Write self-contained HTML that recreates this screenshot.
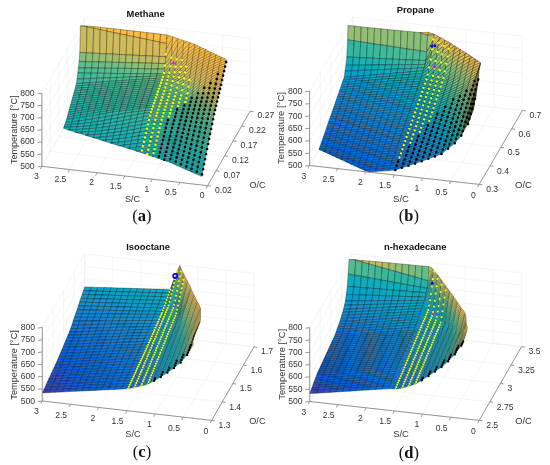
<!DOCTYPE html>
<html><head><meta charset="utf-8"><title>Figure</title>
<style>html,body{margin:0;padding:0;background:#fff}svg{display:block}</style></head>
<body>
<svg width="550" height="465" viewBox="0 0 550 465">
<g>
<path d="M207.6 185.7L250.1 111.2M250.1 111.2L250.1 38.1M180 182.5L222.5 108M222.5 108L222.5 34.9M152.4 179.2L194.9 104.7M194.9 104.7L194.9 31.6M124.8 176L167.2 101.5M167.2 101.5L167.2 28.4M97.1 172.8L139.6 98.3M139.6 98.3L139.6 25.2M69.5 169.5L112 95M112 95L112 21.9M41.9 166.3L84.4 91.8M84.4 91.8L84.4 18.7M207.6 185.7L41.9 166.3M41.9 166.3L41.9 93.2M216.1 170.8L50.4 151.4M50.4 151.4L50.4 78.3M224.6 155.9L58.9 136.5M58.9 136.5L58.9 63.4M233.1 141L67.4 121.6M67.4 121.6L67.4 48.5M241.6 126.1L75.9 106.7M75.9 106.7L75.9 33.6M250.1 111.2L84.4 91.8M84.4 91.8L84.4 18.7M41.9 166.3L84.4 91.8M84.4 91.8L250.1 111.2M41.9 154.1L84.4 79.6M84.4 79.6L250.1 99M41.9 141.9L84.4 67.4M84.4 67.4L250.1 86.8M41.9 129.8L84.4 55.3M84.4 55.3L250.1 74.7M41.9 117.6L84.4 43.1M84.4 43.1L250.1 62.5M41.9 105.4L84.4 30.9M84.4 30.9L250.1 50.3M41.9 93.2L84.4 18.7M84.4 18.7L250.1 38.1" stroke="#eeeeee" stroke-width="0.6" fill="none"/>
<g stroke="#000" stroke-width="0.4" stroke-opacity="0.8" stroke-linejoin="round">
<path fill="#ffc437" d="M87.1 27L81.4 25.8L87.3 26z"/>
<path fill="#ffc338" d="M93.7 28.3L87.1 27L87.3 26L94 26.6z"/>
<path fill="#fec239" d="M100.3 29.7L93.7 28.3L94 26.6L100.7 27.3z"/>
<path fill="#fec13a" d="M106.9 31.1L100.3 29.7L100.7 27.3L107.4 28z"/>
<path fill="#fec03b" d="M113.6 32.5L106.9 31.1L107.4 28L114 28.8z"/>
<path fill="#febf3c" d="M120.2 33.9L113.6 32.5L114 28.8L120.6 29.5z"/>
<path fill="#fdbe3e" d="M126.8 35.2L120.2 33.9L120.6 29.5L127.3 30.3z"/>
<path fill="#fcbd3f" d="M133.4 36.6L126.8 35.2L127.3 30.3L133.9 31.1z"/>
<path fill="#fbbd40" d="M140.1 38L133.4 36.6L133.9 31.1L140.6 31.8z"/>
<path fill="#fabc41" d="M146.7 39.4L140.1 38L140.6 31.8L147.2 32.6z"/>
<path fill="#f9bb43" d="M153.3 40.8L146.7 39.4L147.2 32.6L153.8 33.3z"/>
<path fill="#f8bb44" d="M160 42.2L153.3 40.8L153.8 33.3L160.5 34.1z"/>
<path fill="#f7ba45" d="M166.6 43.5L160 42.2L160.5 34.1L167.1 34.9z"/>
<path fill="#c9bb5c" d="M86.4 52.8L79.8 52.5L80.4 25.7L81.4 25.8L87.1 27z"/>
<path fill="#cbbb5c" d="M93 53.1L86.4 52.8L87.1 27L93.7 28.3z"/>
<path fill="#ccbb5b" d="M99.6 53.5L93 53.1L93.7 28.3L100.3 29.7z"/>
<path fill="#cdbb5b" d="M106.3 53.8L99.6 53.5L100.3 29.7L106.9 31.1z"/>
<path fill="#cebb5a" d="M112.9 54.1L106.3 53.8L106.9 31.1L113.6 32.5z"/>
<path fill="#cfbb5a" d="M119.5 54.5L112.9 54.1L113.6 32.5L120.2 33.9z"/>
<path fill="#d0bb59" d="M126.2 54.8L119.5 54.5L120.2 33.9L126.8 35.2z"/>
<path fill="#d2bb59" d="M132.8 55.1L126.2 54.8L126.8 35.2L133.4 36.6z"/>
<path fill="#d3bb58" d="M139.4 55.5L132.8 55.1L133.4 36.6L140.1 38z"/>
<path fill="#d4bb58" d="M146 55.8L139.4 55.5L140.1 38L146.7 39.4z"/>
<path fill="#d5ba57" d="M152.7 56.1L146 55.8L146.7 39.4L153.3 40.8z"/>
<path fill="#d6ba57" d="M159.3 56.5L152.7 56.1L153.3 40.8L160 42.2z"/>
<path fill="#d7ba56" d="M165.9 56.8L159.3 56.5L160 42.2L166.6 43.5z"/>
<path fill="#81bf79" d="M85.7 61.7L79.1 61.5L79.8 52.5L86.4 52.8z"/>
<path fill="#88bf76" d="M92.4 61.8L85.7 61.7L86.4 52.8L93 53.1z"/>
<path fill="#8fbf74" d="M99 62L92.4 61.8L93 53.1L99.6 53.5z"/>
<path fill="#95bf71" d="M105.6 62.1L99 62L99.6 53.5L106.3 53.8z"/>
<path fill="#9cbf6f" d="M112.2 62.3L105.6 62.1L106.3 53.8L112.9 54.1z"/>
<path fill="#a2be6c" d="M118.9 62.4L112.2 62.3L112.9 54.1L119.5 54.5z"/>
<path fill="#a8be6a" d="M125.5 62.6L118.9 62.4L119.5 54.5L126.2 54.8z"/>
<path fill="#adbe67" d="M132.1 62.7L125.5 62.6L126.2 54.8L132.8 55.1z"/>
<path fill="#b3bd65" d="M138.8 62.9L132.1 62.7L132.8 55.1L139.4 55.5z"/>
<path fill="#b9bd63" d="M145.4 63.1L138.8 62.9L139.4 55.5L146 55.8z"/>
<path fill="#bebc61" d="M152 63.2L145.4 63.1L146 55.8L152.7 56.1z"/>
<path fill="#c4bc5f" d="M158.6 63.4L152 63.2L152.7 56.1L159.3 56.5z"/>
<path fill="#c9bc5d" d="M165.3 63.5L158.6 63.4L159.3 56.5L165.9 56.8z"/>
<path fill="#5abd8b" d="M85.1 67.9L78.4 67.8L79.1 61.5L85.7 61.7z"/>
<path fill="#5fbe89" d="M91.7 68L85.1 67.9L85.7 61.7L92.4 61.8z"/>
<path fill="#64be86" d="M98.3 68.1L91.7 68L92.4 61.8L99 62z"/>
<path fill="#69be84" d="M105 68.2L98.3 68.1L99 62L105.6 62.1z"/>
<path fill="#6ebf82" d="M111.6 68.3L105 68.2L105.6 62.1L112.2 62.3z"/>
<path fill="#73bf7f" d="M118.2 68.3L111.6 68.3L112.2 62.3L118.9 62.4z"/>
<path fill="#78bf7d" d="M124.8 68.4L118.2 68.3L118.9 62.4L125.5 62.6z"/>
<path fill="#7ebf7b" d="M131.5 68.5L124.8 68.4L125.5 62.6L132.1 62.7z"/>
<path fill="#86bf78" d="M138.1 68.6L131.5 68.5L132.1 62.7L138.8 62.9z"/>
<path fill="#8dbf75" d="M144.7 68.7L138.1 68.6L138.8 62.9L145.4 63.1z"/>
<path fill="#94bf72" d="M151.4 68.8L144.7 68.7L145.4 63.1L152 63.2z"/>
<path fill="#9bbf6f" d="M158 68.9L151.4 68.8L152 63.2L158.6 63.4z"/>
<path fill="#a2be6c" d="M164.6 69L158 68.9L158.6 63.4L165.3 63.5z"/>
<path fill="#4bbc93" d="M84.4 73.1L77.8 73L78.4 67.8L85.1 67.9z"/>
<path fill="#4dbc92" d="M91 73.2L84.4 73.1L85.1 67.9L91.7 68z"/>
<path fill="#4fbc91" d="M97.7 73.2L91 73.2L91.7 68L98.3 68.1z"/>
<path fill="#51bc90" d="M104.3 73.3L97.7 73.2L98.3 68.1L105 68.2z"/>
<path fill="#53bd8f" d="M110.9 73.4L104.3 73.3L105 68.2L111.6 68.3z"/>
<path fill="#56bd8d" d="M117.5 73.5L110.9 73.4L111.6 68.3L118.2 68.3z"/>
<path fill="#5bbd8b" d="M124.2 73.5L117.5 73.5L118.2 68.3L124.8 68.4z"/>
<path fill="#60be88" d="M130.8 73.6L124.2 73.5L124.8 68.4L131.5 68.5z"/>
<path fill="#65be86" d="M137.4 73.7L130.8 73.6L131.5 68.5L138.1 68.6z"/>
<path fill="#6abe83" d="M144.1 73.8L137.4 73.7L138.1 68.6L144.7 68.7z"/>
<path fill="#6fbf81" d="M150.7 73.9L144.1 73.8L144.7 68.7L151.4 68.8z"/>
<path fill="#74bf7f" d="M157.3 73.9L150.7 73.9L151.4 68.8L158 68.9z"/>
<path fill="#79bf7d" d="M163.9 74L157.3 73.9L158 68.9L164.6 69z"/>
<path fill="#3eba9a" d="M83.7 78.7L77.1 79L77.8 73L84.4 73.1z"/>
<path fill="#40ba99" d="M90.4 78.5L83.7 78.7L84.4 73.1L91 73.2z"/>
<path fill="#43bb97" d="M97 78.3L90.4 78.5L91 73.2L97.7 73.2z"/>
<path fill="#46bb96" d="M103.6 78L97 78.3L97.7 73.2L104.3 73.3z"/>
<path fill="#49bc94" d="M110.3 77.8L103.6 78L104.3 73.3L110.9 73.4z"/>
<path fill="#4cbc92" d="M116.9 77.6L110.3 77.8L110.9 73.4L117.5 73.5z"/>
<path fill="#4fbc91" d="M123.5 77.3L116.9 77.6L117.5 73.5L124.2 73.5z"/>
<path fill="#52bd8f" d="M130.1 77.1L123.5 77.3L124.2 73.5L130.8 73.6z"/>
<path fill="#55bd8e" d="M136.8 76.9L130.1 77.1L130.8 73.6L137.4 73.7z"/>
<path fill="#5cbe8a" d="M143.4 76.7L136.8 76.9L137.4 73.7L144.1 73.8z"/>
<path fill="#64be86" d="M150 76.4L143.4 76.7L144.1 73.8L150.7 73.9z"/>
<path fill="#6bbf83" d="M156.7 76.2L150 76.4L150.7 73.9L157.3 73.9z"/>
<path fill="#73bf80" d="M163.3 76L156.7 76.2L157.3 73.9L163.9 74z"/>
<path fill="#36b99f" d="M83.1 83.2L76.5 83.6L77.1 79L83.7 78.7z"/>
<path fill="#38b99e" d="M89.7 82.7L83.1 83.2L83.7 78.7L90.4 78.5z"/>
<path fill="#3bb99c" d="M96.3 82.3L89.7 82.7L90.4 78.5L97 78.3z"/>
<path fill="#3eba9a" d="M103 81.8L96.3 82.3L97 78.3L103.6 78z"/>
<path fill="#42bb98" d="M109.6 81.4L103 81.8L103.6 78L110.3 77.8z"/>
<path fill="#45bb96" d="M116.2 81L109.6 81.4L110.3 77.8L116.9 77.6z"/>
<path fill="#48bb94" d="M122.9 80.5L116.2 81L116.9 77.6L123.5 77.3z"/>
<path fill="#4cbc92" d="M129.5 80.1L122.9 80.5L123.5 77.3L130.1 77.1z"/>
<path fill="#50bc90" d="M136.1 79.7L129.5 80.1L130.1 77.1L136.8 76.9z"/>
<path fill="#53bd8e" d="M142.7 79.2L136.1 79.7L136.8 76.9L143.4 76.7z"/>
<path fill="#5abd8b" d="M149.4 78.8L142.7 79.2L143.4 76.7L150 76.4z"/>
<path fill="#63be87" d="M156 78.4L149.4 78.8L150 76.4L156.7 76.2z"/>
<path fill="#6cbf82" d="M162.6 77.9L156 78.4L156.7 76.2L163.3 76z"/>
<path fill="#34b8a0" d="M82.4 85.5L75.8 86L76.5 83.6L83.1 83.2z"/>
<path fill="#36b99f" d="M89.1 85L82.4 85.5L83.1 83.2L89.7 82.7z"/>
<path fill="#38b99e" d="M95.7 84.6L89.1 85L89.7 82.7L96.3 82.3z"/>
<path fill="#3bb99c" d="M102.3 84.1L95.7 84.6L96.3 82.3L103 81.8z"/>
<path fill="#3fba9a" d="M108.9 83.6L102.3 84.1L103 81.8L109.6 81.4z"/>
<path fill="#42bb98" d="M115.6 83.2L108.9 83.6L109.6 81.4L116.2 81z"/>
<path fill="#46bb96" d="M122.2 82.7L115.6 83.2L116.2 81L122.9 80.5z"/>
<path fill="#49bc94" d="M128.8 82.2L122.2 82.7L122.9 80.5L129.5 80.1z"/>
<path fill="#4dbc92" d="M135.5 81.7L128.8 82.2L129.5 80.1L136.1 79.7z"/>
<path fill="#51bc90" d="M142.1 81.3L135.5 81.7L136.1 79.7L142.7 79.2z"/>
<path fill="#54bd8e" d="M148.7 80.8L142.1 81.3L142.7 79.2L149.4 78.8z"/>
<path fill="#5dbe8a" d="M155.3 80.3L148.7 80.8L149.4 78.8L156 78.4z"/>
<path fill="#66be85" d="M162 79.9L155.3 80.3L156 78.4L162.6 77.9z"/>
<path fill="#32b8a1" d="M81.8 87.9L75.1 88.4L75.8 86L82.4 85.5z"/>
<path fill="#34b8a0" d="M88.4 87.4L81.8 87.9L82.4 85.5L89.1 85z"/>
<path fill="#36b99f" d="M95 86.8L88.4 87.4L89.1 85L95.7 84.6z"/>
<path fill="#38b99d" d="M101.7 86.3L95 86.8L95.7 84.6L102.3 84.1z"/>
<path fill="#3cba9b" d="M108.3 85.8L101.7 86.3L102.3 84.1L108.9 83.6z"/>
<path fill="#3fba99" d="M114.9 85.3L108.3 85.8L108.9 83.6L115.6 83.2z"/>
<path fill="#43bb97" d="M121.5 84.8L114.9 85.3L115.6 83.2L122.2 82.7z"/>
<path fill="#46bb95" d="M128.2 84.3L121.5 84.8L122.2 82.7L128.8 82.2z"/>
<path fill="#4abc93" d="M134.8 83.8L128.2 84.3L128.8 82.2L135.5 81.7z"/>
<path fill="#4ebc91" d="M141.4 83.3L134.8 83.8L135.5 81.7L142.1 81.3z"/>
<path fill="#52bd8f" d="M148 82.8L141.4 83.3L142.1 81.3L148.7 80.8z"/>
<path fill="#57bd8d" d="M154.7 82.3L148 82.8L148.7 80.8L155.3 80.3z"/>
<path fill="#60be88" d="M161.3 81.8L154.7 82.3L155.3 80.3L162 79.9z"/>
<path fill="#30b7a3" d="M81.1 90.2L74.5 90.8L75.1 88.4L81.8 87.9z"/>
<path fill="#32b8a1" d="M87.7 89.7L81.1 90.2L81.8 87.9L88.4 87.4z"/>
<path fill="#34b8a0" d="M94.4 89.1L87.7 89.7L88.4 87.4L95 86.8z"/>
<path fill="#37b99f" d="M101 88.6L94.4 89.1L95 86.8L101.7 86.3z"/>
<path fill="#39b99d" d="M107.6 88L101 88.6L101.7 86.3L108.3 85.8z"/>
<path fill="#3cba9b" d="M114.2 87.5L107.6 88L108.3 85.8L114.9 85.3z"/>
<path fill="#40ba99" d="M120.9 87L114.2 87.5L114.9 85.3L121.5 84.8z"/>
<path fill="#44bb97" d="M127.5 86.4L120.9 87L121.5 84.8L128.2 84.3z"/>
<path fill="#47bb95" d="M134.1 85.9L127.5 86.4L128.2 84.3L134.8 83.8z"/>
<path fill="#4bbc93" d="M140.8 85.4L134.1 85.9L134.8 83.8L141.4 83.3z"/>
<path fill="#4fbc91" d="M147.4 84.8L140.8 85.4L141.4 83.3L148 82.8z"/>
<path fill="#53bd8f" d="M154 84.3L147.4 84.8L148 82.8L154.7 82.3z"/>
<path fill="#5abd8b" d="M160.6 83.8L154 84.3L154.7 82.3L161.3 81.8z"/>
<path fill="#2eb7a4" d="M80.4 92.6L73.8 93.2L74.5 90.8L81.1 90.2z"/>
<path fill="#30b7a3" d="M87.1 92L80.4 92.6L81.1 90.2L87.7 89.7z"/>
<path fill="#32b8a1" d="M93.7 91.4L87.1 92L87.7 89.7L94.4 89.1z"/>
<path fill="#35b8a0" d="M100.3 90.8L93.7 91.4L94.4 89.1L101 88.6z"/>
<path fill="#37b99e" d="M107 90.2L100.3 90.8L101 88.6L107.6 88z"/>
<path fill="#3ab99d" d="M113.6 89.6L107 90.2L107.6 88L114.2 87.5z"/>
<path fill="#3dba9b" d="M120.2 89.1L113.6 89.6L114.2 87.5L120.9 87z"/>
<path fill="#41ba98" d="M126.8 88.5L120.2 89.1L120.9 87L127.5 86.4z"/>
<path fill="#45bb96" d="M133.5 88L126.8 88.5L127.5 86.4L134.1 85.9z"/>
<path fill="#49bb94" d="M140.1 87.4L133.5 88L134.1 85.9L140.8 85.4z"/>
<path fill="#4cbc92" d="M146.7 86.8L140.1 87.4L140.8 85.4L147.4 84.8z"/>
<path fill="#50bc90" d="M153.4 86.3L146.7 86.8L147.4 84.8L154 84.3z"/>
<path fill="#54bd8e" d="M160 85.7L153.4 86.3L154 84.3L160.6 83.8z"/>
<path fill="#2cb6a5" d="M79.8 94.9L73.2 95.5L73.8 93.2L80.4 92.6z"/>
<path fill="#2eb7a4" d="M86.4 94.3L79.8 94.9L80.4 92.6L87.1 92z"/>
<path fill="#30b7a2" d="M93 93.6L86.4 94.3L87.1 92L93.7 91.4z"/>
<path fill="#33b8a1" d="M99.7 93L93 93.6L93.7 91.4L100.3 90.8z"/>
<path fill="#35b89f" d="M106.3 92.4L99.7 93L100.3 90.8L107 90.2z"/>
<path fill="#38b99e" d="M112.9 91.8L106.3 92.4L107 90.2L113.6 89.6z"/>
<path fill="#3bb99c" d="M119.6 91.2L112.9 91.8L113.6 89.6L120.2 89.1z"/>
<path fill="#3eba9a" d="M126.2 90.6L119.6 91.2L120.2 89.1L126.8 88.5z"/>
<path fill="#42bb98" d="M132.8 90L126.2 90.6L126.8 88.5L133.5 88z"/>
<path fill="#46bb96" d="M139.4 89.4L132.8 90L133.5 88L140.1 87.4z"/>
<path fill="#4abc93" d="M146.1 88.8L139.4 89.4L140.1 87.4L146.7 86.8z"/>
<path fill="#4ebc91" d="M152.7 88.3L146.1 88.8L146.7 86.8L153.4 86.3z"/>
<path fill="#52bd8f" d="M159.3 87.7L152.7 88.3L153.4 86.3L160 85.7z"/>
<path fill="#2ab6a7" d="M79.1 97.2L72.5 97.9L73.2 95.5L79.8 94.9z"/>
<path fill="#2cb7a5" d="M85.8 96.5L79.1 97.2L79.8 94.9L86.4 94.3z"/>
<path fill="#2eb7a4" d="M92.4 95.9L85.8 96.5L86.4 94.3L93 93.6z"/>
<path fill="#31b8a2" d="M99 95.2L92.4 95.9L93 93.6L99.7 93z"/>
<path fill="#33b8a0" d="M105.6 94.5L99 95.2L99.7 93L106.3 92.4z"/>
<path fill="#36b99f" d="M112.3 93.9L105.6 94.5L106.3 92.4L112.9 91.8z"/>
<path fill="#38b99d" d="M118.9 93.3L112.3 93.9L112.9 91.8L119.6 91.2z"/>
<path fill="#3cba9b" d="M125.5 92.7L118.9 93.3L119.6 91.2L126.2 90.6z"/>
<path fill="#40ba99" d="M132.1 92L125.5 92.7L126.2 90.6L132.8 90z"/>
<path fill="#44bb97" d="M138.8 91.4L132.1 92L132.8 90L139.4 89.4z"/>
<path fill="#48bb95" d="M145.4 90.8L138.8 91.4L139.4 89.4L146.1 88.8z"/>
<path fill="#4cbc93" d="M152 90.2L145.4 90.8L146.1 88.8L152.7 88.3z"/>
<path fill="#50bc90" d="M158.7 89.6L152 90.2L152.7 88.3L159.3 87.7z"/>
<path fill="#28b6a8" d="M78.5 99.6L71.8 100.3L72.5 97.9L79.1 97.2z"/>
<path fill="#2ab6a6" d="M85.1 98.8L78.5 99.6L79.1 97.2L85.8 96.5z"/>
<path fill="#2db7a5" d="M91.7 98.1L85.1 98.8L85.8 96.5L92.4 95.9z"/>
<path fill="#2fb7a3" d="M98.3 97.4L91.7 98.1L92.4 95.9L99 95.2z"/>
<path fill="#32b8a2" d="M105 96.7L98.3 97.4L99 95.2L105.6 94.5z"/>
<path fill="#34b8a0" d="M111.6 96L105 96.7L105.6 94.5L112.3 93.9z"/>
<path fill="#37b99e" d="M118.2 95.4L111.6 96L112.3 93.9L118.9 93.3z"/>
<path fill="#3ab99d" d="M124.9 94.7L118.2 95.4L118.9 93.3L125.5 92.7z"/>
<path fill="#3dba9b" d="M131.5 94.1L124.9 94.7L125.5 92.7L132.1 92z"/>
<path fill="#41ba98" d="M138.1 93.4L131.5 94.1L132.1 92L138.8 91.4z"/>
<path fill="#45bb96" d="M144.7 92.8L138.1 93.4L138.8 91.4L145.4 90.8z"/>
<path fill="#49bc94" d="M151.4 92.2L144.7 92.8L145.4 90.8L152 90.2z"/>
<path fill="#4dbc92" d="M158 91.6L151.4 92.2L152 90.2L158.7 89.6z"/>
<path fill="#26b5a9" d="M77.8 101.9L71.2 102.7L71.8 100.3L78.5 99.6z"/>
<path fill="#28b6a7" d="M84.4 101.1L77.8 101.9L78.5 99.6L85.1 98.8z"/>
<path fill="#2bb6a6" d="M91.1 100.3L84.4 101.1L85.1 98.8L91.7 98.1z"/>
<path fill="#2db7a4" d="M97.7 99.6L91.1 100.3L91.7 98.1L98.3 97.4z"/>
<path fill="#30b7a3" d="M104.3 98.8L97.7 99.6L98.3 97.4L105 96.7z"/>
<path fill="#33b8a1" d="M110.9 98.1L104.3 98.8L105 96.7L111.6 96z"/>
<path fill="#35b89f" d="M117.6 97.4L110.9 98.1L111.6 96L118.2 95.4z"/>
<path fill="#38b99e" d="M124.2 96.8L117.6 97.4L118.2 95.4L124.9 94.7z"/>
<path fill="#3bb99c" d="M130.8 96.1L124.2 96.8L124.9 94.7L131.5 94.1z"/>
<path fill="#3fba9a" d="M137.5 95.4L130.8 96.1L131.5 94.1L138.1 93.4z"/>
<path fill="#43bb97" d="M144.1 94.8L137.5 95.4L138.1 93.4L144.7 92.8z"/>
<path fill="#47bb95" d="M150.7 94.2L144.1 94.8L144.7 92.8L151.4 92.2z"/>
<path fill="#4bbc93" d="M157.3 93.5L150.7 94.2L151.4 92.2L158 91.6z"/>
<path fill="#24b5aa" d="M77.1 104.2L70.5 105.1L71.2 102.7L77.8 101.9z"/>
<path fill="#27b5a9" d="M83.8 103.4L77.1 104.2L77.8 101.9L84.4 101.1z"/>
<path fill="#29b6a7" d="M90.4 102.5L83.8 103.4L84.4 101.1L91.1 100.3z"/>
<path fill="#2cb7a5" d="M97 101.7L90.4 102.5L91.1 100.3L97.7 99.6z"/>
<path fill="#2eb7a4" d="M103.7 101L97 101.7L97.7 99.6L104.3 98.8z"/>
<path fill="#31b8a2" d="M110.3 100.2L103.7 101L104.3 98.8L110.9 98.1z"/>
<path fill="#33b8a0" d="M116.9 99.5L110.3 100.2L110.9 98.1L117.6 97.4z"/>
<path fill="#36b99f" d="M123.5 98.8L116.9 99.5L117.6 97.4L124.2 96.8z"/>
<path fill="#39b99d" d="M130.2 98.1L123.5 98.8L124.2 96.8L130.8 96.1z"/>
<path fill="#3dba9b" d="M136.8 97.4L130.2 98.1L130.8 96.1L137.5 95.4z"/>
<path fill="#40ba99" d="M143.4 96.8L136.8 97.4L137.5 95.4L144.1 94.8z"/>
<path fill="#44bb96" d="M150.1 96.1L143.4 96.8L144.1 94.8L150.7 94.2z"/>
<path fill="#49bb94" d="M156.7 95.5L150.1 96.1L150.7 94.2L157.3 93.5z"/>
<path fill="#22b4ab" d="M76.5 106.5L69.9 107.5L70.5 105.1L77.1 104.2z"/>
<path fill="#25b5aa" d="M83.1 105.6L76.5 106.5L77.1 104.2L83.8 103.4z"/>
<path fill="#27b6a8" d="M89.7 104.8L83.1 105.6L83.8 103.4L90.4 102.5z"/>
<path fill="#2ab6a6" d="M96.4 103.9L89.7 104.8L90.4 102.5L97 101.7z"/>
<path fill="#2db7a5" d="M103 103.1L96.4 103.9L97 101.7L103.7 101z"/>
<path fill="#2fb7a3" d="M109.6 102.3L103 103.1L103.7 101L110.3 100.2z"/>
<path fill="#32b8a1" d="M116.2 101.6L109.6 102.3L110.3 100.2L116.9 99.5z"/>
<path fill="#35b8a0" d="M122.9 100.8L116.2 101.6L116.9 99.5L123.5 98.8z"/>
<path fill="#37b99e" d="M129.5 100.1L122.9 100.8L123.5 98.8L130.2 98.1z"/>
<path fill="#3ab99c" d="M136.1 99.4L129.5 100.1L130.2 98.1L136.8 97.4z"/>
<path fill="#3eba9a" d="M142.8 98.7L136.1 99.4L136.8 97.4L143.4 96.8z"/>
<path fill="#42bb98" d="M149.4 98.1L142.8 98.7L143.4 96.8L150.1 96.1z"/>
<path fill="#46bb95" d="M156 97.4L149.4 98.1L150.1 96.1L156.7 95.5z"/>
<path fill="#20b4ad" d="M75.8 108.9L69.2 109.9L69.9 107.5L76.5 106.5z"/>
<path fill="#23b4ab" d="M82.4 107.9L75.8 108.9L76.5 106.5L83.1 105.6z"/>
<path fill="#26b5a9" d="M89.1 107L82.4 107.9L83.1 105.6L89.7 104.8z"/>
<path fill="#28b6a7" d="M95.7 106.1L89.1 107L89.7 104.8L96.4 103.9z"/>
<path fill="#2bb6a6" d="M102.3 105.2L95.7 106.1L96.4 103.9L103 103.1z"/>
<path fill="#2eb7a4" d="M109 104.4L102.3 105.2L103 103.1L109.6 102.3z"/>
<path fill="#30b7a2" d="M115.6 103.6L109 104.4L109.6 102.3L116.2 101.6z"/>
<path fill="#33b8a1" d="M122.2 102.9L115.6 103.6L116.2 101.6L122.9 100.8z"/>
<path fill="#36b99f" d="M128.8 102.1L122.2 102.9L122.9 100.8L129.5 100.1z"/>
<path fill="#38b99d" d="M135.5 101.4L128.8 102.1L129.5 100.1L136.1 99.4z"/>
<path fill="#3cba9b" d="M142.1 100.7L135.5 101.4L136.1 99.4L142.8 98.7z"/>
<path fill="#40ba99" d="M148.7 100L142.1 100.7L142.8 98.7L149.4 98.1z"/>
<path fill="#44bb97" d="M155.4 99.4L148.7 100L149.4 98.1L156 97.4z"/>
<path fill="#1fb3ae" d="M75.2 111.3L68.5 112.3L69.2 109.9L75.8 108.9z"/>
<path fill="#21b4ac" d="M81.8 110.2L75.2 111.3L75.8 108.9L82.4 107.9z"/>
<path fill="#24b5aa" d="M88.4 109.2L81.8 110.2L82.4 107.9L89.1 107z"/>
<path fill="#27b5a8" d="M95 108.3L88.4 109.2L89.1 107L95.7 106.1z"/>
<path fill="#29b6a7" d="M101.7 107.4L95 108.3L95.7 106.1L102.3 105.2z"/>
<path fill="#2cb7a5" d="M108.3 106.5L101.7 107.4L102.3 105.2L109 104.4z"/>
<path fill="#2fb7a3" d="M114.9 105.7L108.3 106.5L109 104.4L115.6 103.6z"/>
<path fill="#31b8a2" d="M121.6 104.9L114.9 105.7L115.6 103.6L122.2 102.9z"/>
<path fill="#34b8a0" d="M128.2 104.2L121.6 104.9L122.2 102.9L128.8 102.1z"/>
<path fill="#37b99e" d="M134.8 103.4L128.2 104.2L128.8 102.1L135.5 101.4z"/>
<path fill="#3ab99d" d="M141.4 102.7L134.8 103.4L135.5 101.4L142.1 100.7z"/>
<path fill="#3eba9a" d="M148.1 102L141.4 102.7L142.1 100.7L148.7 100z"/>
<path fill="#42bb98" d="M154.7 101.3L148.1 102L148.7 100L155.4 99.4z"/>
<path fill="#1db3af" d="M74.5 113.7L67.9 114.7L68.5 112.3L75.2 111.3z"/>
<path fill="#1fb4ad" d="M81.1 112.6L74.5 113.7L75.2 111.3L81.8 110.2z"/>
<path fill="#22b4ab" d="M87.8 111.5L81.1 112.6L81.8 110.2L88.4 109.2z"/>
<path fill="#25b5aa" d="M94.4 110.5L87.8 111.5L88.4 109.2L95 108.3z"/>
<path fill="#28b6a8" d="M101 109.5L94.4 110.5L95 108.3L101.7 107.4z"/>
<path fill="#2ab6a6" d="M107.6 108.6L101 109.5L101.7 107.4L108.3 106.5z"/>
<path fill="#2db7a4" d="M114.3 107.8L107.6 108.6L108.3 106.5L114.9 105.7z"/>
<path fill="#30b7a3" d="M120.9 107L114.3 107.8L114.9 105.7L121.6 104.9z"/>
<path fill="#33b8a1" d="M127.5 106.2L120.9 107L121.6 104.9L128.2 104.2z"/>
<path fill="#35b89f" d="M134.2 105.4L127.5 106.2L128.2 104.2L134.8 103.4z"/>
<path fill="#38b99e" d="M140.8 104.7L134.2 105.4L134.8 103.4L141.4 102.7z"/>
<path fill="#3cba9c" d="M147.4 104L140.8 104.7L141.4 102.7L148.1 102z"/>
<path fill="#40ba99" d="M154 103.3L147.4 104L148.1 102L154.7 101.3z"/>
<path fill="#1bb2b0" d="M73.8 116.1L67.2 117.1L67.9 114.7L74.5 113.7z"/>
<path fill="#1db3af" d="M80.5 115.1L73.8 116.1L74.5 113.7L81.1 112.6z"/>
<path fill="#20b4ad" d="M87.1 114.1L80.5 115.1L81.1 112.6L87.8 111.5z"/>
<path fill="#23b4ab" d="M93.7 113L87.1 114.1L87.8 111.5L94.4 110.5z"/>
<path fill="#26b5a9" d="M100.4 111.8L93.7 113L94.4 110.5L101 109.5z"/>
<path fill="#29b6a7" d="M107 110.8L100.4 111.8L101 109.5L107.6 108.6z"/>
<path fill="#2cb6a5" d="M113.6 109.9L107 110.8L107.6 108.6L114.3 107.8z"/>
<path fill="#2eb7a4" d="M120.2 109L113.6 109.9L114.3 107.8L120.9 107z"/>
<path fill="#31b8a2" d="M126.9 108.2L120.2 109L120.9 107L127.5 106.2z"/>
<path fill="#34b8a0" d="M133.5 107.4L126.9 108.2L127.5 106.2L134.2 105.4z"/>
<path fill="#36b99f" d="M140.1 106.7L133.5 107.4L134.2 105.4L140.8 104.7z"/>
<path fill="#39b99d" d="M146.7 105.9L140.1 106.7L140.8 104.7L147.4 104z"/>
<path fill="#3dba9a" d="M153.4 105.2L146.7 105.9L147.4 104L154 103.3z"/>
<path fill="#19b2b1" d="M73.2 118.6L66.6 119.4L67.2 117.1L73.8 116.1z"/>
<path fill="#1cb3b0" d="M79.8 117.6L73.2 118.6L73.8 116.1L80.5 115.1z"/>
<path fill="#1eb3ae" d="M86.4 116.6L79.8 117.6L80.5 115.1L87.1 114.1z"/>
<path fill="#21b4ac" d="M93.1 115.6L86.4 116.6L87.1 114.1L93.7 113z"/>
<path fill="#24b5aa" d="M99.7 114.4L93.1 115.6L93.7 113L100.4 111.8z"/>
<path fill="#27b5a9" d="M106.3 113.2L99.7 114.4L100.4 111.8L107 110.8z"/>
<path fill="#2ab6a6" d="M112.9 112L106.3 113.2L107 110.8L113.6 109.9z"/>
<path fill="#2db7a5" d="M119.6 111.1L112.9 112L113.6 109.9L120.2 109z"/>
<path fill="#2fb7a3" d="M126.2 110.3L119.6 111.1L120.2 109L126.9 108.2z"/>
<path fill="#32b8a1" d="M132.8 109.5L126.2 110.3L126.9 108.2L133.5 107.4z"/>
<path fill="#35b89f" d="M139.5 108.7L132.8 109.5L133.5 107.4L140.1 106.7z"/>
<path fill="#38b99e" d="M146.1 107.9L139.5 108.7L140.1 106.7L146.7 105.9z"/>
<path fill="#3bb99c" d="M152.7 107.2L146.1 107.9L146.7 105.9L153.4 105.2z"/>
<path fill="#18b1b3" d="M72.3 121.6L65.7 122L66.6 119.4L73.2 118.6z"/>
<path fill="#19b2b1" d="M78.9 121L72.3 121.6L73.2 118.6L79.8 117.6z"/>
<path fill="#1cb2b0" d="M85.6 120L78.9 121L79.8 117.6L86.4 116.6z"/>
<path fill="#1eb3ae" d="M92.2 119L85.6 120L86.4 116.6L93.1 115.6z"/>
<path fill="#21b4ac" d="M98.8 117.9L92.2 119L93.1 115.6L99.7 114.4z"/>
<path fill="#23b5ab" d="M105.4 116.8L98.8 117.9L99.7 114.4L106.3 113.2z"/>
<path fill="#26b5a9" d="M112.1 115.6L105.4 116.8L106.3 113.2L112.9 112z"/>
<path fill="#2ab6a7" d="M118.7 114.4L112.1 115.6L112.9 112L119.6 111.1z"/>
<path fill="#2db7a4" d="M125.3 113.1L118.7 114.4L119.6 111.1L126.2 110.3z"/>
<path fill="#30b7a2" d="M131.9 112.2L125.3 113.1L126.2 110.3L132.8 109.5z"/>
<path fill="#33b8a1" d="M138.6 111.3L131.9 112.2L132.8 109.5L139.5 108.7z"/>
<path fill="#36b99f" d="M145.2 110.5L138.6 111.3L139.5 108.7L146.1 107.9z"/>
<path fill="#39b99d" d="M151.8 109.8L145.2 110.5L146.1 107.9L152.7 107.2z"/>
<path fill="#16b1b4" d="M71.4 124.3L64.8 124.6L65.7 122L72.3 121.6z"/>
<path fill="#18b1b3" d="M78 123.9L71.4 124.3L72.3 121.6L78.9 121z"/>
<path fill="#19b2b1" d="M84.7 123.3L78 123.9L78.9 121L85.6 120z"/>
<path fill="#1bb2b0" d="M91.3 122.5L84.7 123.3L85.6 120L92.2 119z"/>
<path fill="#1eb3ae" d="M97.9 121.5L91.3 122.5L92.2 119L98.8 117.9z"/>
<path fill="#21b4ac" d="M104.6 120.4L97.9 121.5L98.8 117.9L105.4 116.8z"/>
<path fill="#23b5ab" d="M111.2 119.2L104.6 120.4L105.4 116.8L112.1 115.6z"/>
<path fill="#26b5a9" d="M117.8 118.1L111.2 119.2L112.1 115.6L118.7 114.4z"/>
<path fill="#29b6a7" d="M124.4 116.8L117.8 118.1L118.7 114.4L125.3 113.1z"/>
<path fill="#2db7a5" d="M131.1 115.6L124.4 116.8L125.3 113.1L131.9 112.2z"/>
<path fill="#30b7a2" d="M137.7 114.3L131.1 115.6L131.9 112.2L138.6 111.3z"/>
<path fill="#34b8a0" d="M144.3 113.2L137.7 114.3L138.6 111.3L145.2 110.5z"/>
<path fill="#37b99e" d="M151 112.4L144.3 113.2L145.2 110.5L151.8 109.8z"/>
<path fill="#15b0b5" d="M70.5 127L63.9 127.1L64.8 124.6L71.4 124.3z"/>
<path fill="#16b1b4" d="M77.2 126.7L70.5 127L71.4 124.3L78 123.9z"/>
<path fill="#18b1b3" d="M83.8 126.3L77.2 126.7L78 123.9L84.7 123.3z"/>
<path fill="#19b2b1" d="M90.4 125.7L83.8 126.3L84.7 123.3L91.3 122.5z"/>
<path fill="#1bb2b0" d="M97 124.9L90.4 125.7L91.3 122.5L97.9 121.5z"/>
<path fill="#1eb3ae" d="M103.7 123.9L97 124.9L97.9 121.5L104.6 120.4z"/>
<path fill="#20b4ad" d="M110.3 122.9L103.7 123.9L104.6 120.4L111.2 119.2z"/>
<path fill="#23b4ab" d="M116.9 121.7L110.3 122.9L111.2 119.2L117.8 118.1z"/>
<path fill="#26b5a9" d="M123.6 120.6L116.9 121.7L117.8 118.1L124.4 116.8z"/>
<path fill="#29b6a7" d="M130.2 119.3L123.6 120.6L124.4 116.8L131.1 115.6z"/>
<path fill="#2cb7a5" d="M136.8 118.1L130.2 119.3L131.1 115.6L137.7 114.3z"/>
<path fill="#30b7a3" d="M143.4 116.8L136.8 118.1L137.7 114.3L144.3 113.2z"/>
<path fill="#33b8a0" d="M150.1 115.4L143.4 116.8L144.3 113.2L151 112.4z"/>
<path fill="#13b0b6" d="M69.7 129.7L68.1 129.9L63.6 128.3L63.9 127.1L70.5 127z"/>
<path fill="#15b0b5" d="M76.3 129.6L69.7 129.7L70.5 127L77.2 126.7z"/>
<path fill="#16b1b4" d="M82.9 129.2L76.3 129.6L77.2 126.7L83.8 126.3z"/>
<path fill="#17b1b3" d="M89.5 128.7L82.9 129.2L83.8 126.3L90.4 125.7z"/>
<path fill="#19b2b1" d="M96.2 128.1L89.5 128.7L90.4 125.7L97 124.9z"/>
<path fill="#1bb2b0" d="M102.8 127.3L96.2 128.1L97 124.9L103.7 123.9z"/>
<path fill="#1db3af" d="M109.4 126.5L102.8 127.3L103.7 123.9L110.3 122.9z"/>
<path fill="#20b4ad" d="M116.1 125.4L109.4 126.5L110.3 122.9L116.9 121.7z"/>
<path fill="#23b4ab" d="M122.7 124.3L116.1 125.4L116.9 121.7L123.6 120.6z"/>
<path fill="#26b5a9" d="M129.3 123.1L122.7 124.3L123.6 120.6L130.2 119.3z"/>
<path fill="#29b6a7" d="M135.9 121.9L129.3 123.1L130.2 119.3L136.8 118.1z"/>
<path fill="#2cb7a5" d="M142.6 120.6L135.9 121.9L136.8 118.1L143.4 116.8z"/>
<path fill="#2fb7a3" d="M149.2 119.3L142.6 120.6L143.4 116.8L150.1 115.4z"/>
<path fill="#11afb8" d="M68.1 129.9L69.7 129.7L69.5 130.3z"/>
<path fill="#13b0b6" d="M69.5 130.3L69.7 129.7L76.3 129.6L75.5 132.3z"/>
<path fill="#14b0b5" d="M82 132.2L75.9 132.4L75.5 132.3L76.3 129.6L82.9 129.2z"/>
<path fill="#15b1b4" d="M88.7 131.8L82 132.2L82.9 129.2L89.5 128.7z"/>
<path fill="#17b1b3" d="M95.3 131.3L88.7 131.8L89.5 128.7L96.2 128.1z"/>
<path fill="#19b2b2" d="M101.9 130.6L95.3 131.3L96.2 128.1L102.8 127.3z"/>
<path fill="#1bb2b0" d="M108.5 129.9L101.9 130.6L102.8 127.3L109.4 126.5z"/>
<path fill="#1db3af" d="M115.2 129L108.5 129.9L109.4 126.5L116.1 125.4z"/>
<path fill="#20b4ad" d="M121.8 128L115.2 129L116.1 125.4L122.7 124.3z"/>
<path fill="#22b4ab" d="M128.4 126.8L121.8 128L122.7 124.3L129.3 123.1z"/>
<path fill="#25b5a9" d="M135.1 125.6L128.4 126.8L129.3 123.1L135.9 121.9z"/>
<path fill="#28b6a7" d="M141.7 124.4L135.1 125.6L135.9 121.9L142.6 120.6z"/>
<path fill="#2cb7a5" d="M148.3 123.2L141.7 124.4L142.6 120.6L149.2 119.3z"/>
<path fill="#12afb7" d="M75.9 132.4L82 132.2L81.5 134z"/>
<path fill="#14b0b6" d="M87.8 134.9L85 135.1L81.5 134L82 132.2L88.7 131.8z"/>
<path fill="#15b1b4" d="M94.4 134.5L87.8 134.9L88.7 131.8L95.3 131.3z"/>
<path fill="#17b1b3" d="M101 133.9L94.4 134.5L95.3 131.3L101.9 130.6z"/>
<path fill="#19b2b2" d="M107.7 133.2L101 133.9L101.9 130.6L108.5 129.9z"/>
<path fill="#1bb2b1" d="M114.3 132.4L107.7 133.2L108.5 129.9L115.2 129z"/>
<path fill="#1db3af" d="M120.9 131.5L114.3 132.4L115.2 129L121.8 128z"/>
<path fill="#1fb3ad" d="M127.5 130.5L120.9 131.5L121.8 128L128.4 126.8z"/>
<path fill="#22b4ac" d="M134.2 129.4L127.5 130.5L128.4 126.8L135.1 125.6z"/>
<path fill="#25b5aa" d="M140.8 128.2L134.2 129.4L135.1 125.6L141.7 124.4z"/>
<path fill="#28b6a8" d="M147.4 127L140.8 128.2L141.7 124.4L148.3 123.2z"/>
<path fill="#11afb7" d="M85 135.1L87.8 134.9L87.5 135.9z"/>
<path fill="#13b0b6" d="M93.5 137.7L93.1 137.7L87.5 135.9L87.8 134.9L94.4 134.5z"/>
<path fill="#15b0b5" d="M100.2 137.2L93.5 137.7L94.4 134.5L101 133.9z"/>
<path fill="#16b1b4" d="M106.8 136.6L100.2 137.2L101 133.9L107.7 133.2z"/>
<path fill="#18b1b2" d="M113.4 135.9L106.8 136.6L107.7 133.2L114.3 132.4z"/>
<path fill="#1ab2b1" d="M120 135.1L113.4 135.9L114.3 132.4L120.9 131.5z"/>
<path fill="#1cb3af" d="M126.7 134.2L120 135.1L120.9 131.5L127.5 130.5z"/>
<path fill="#1fb3ae" d="M133.3 133.2L126.7 134.2L127.5 130.5L134.2 129.4z"/>
<path fill="#22b4ac" d="M139.9 132.1L133.3 133.2L134.2 129.4L140.8 128.2z"/>
<path fill="#24b5aa" d="M146.6 130.9L139.9 132.1L140.8 128.2L147.4 127z"/>
<path fill="#10afb8" d="M93.1 137.7L93.5 137.7L93.5 137.8z"/>
<path fill="#12afb7" d="M93.5 137.8L93.5 137.7L100.2 137.2L99.5 139.6z"/>
<path fill="#14b0b5" d="M105.9 140L101.9 140.4L99.5 139.6L100.2 137.2L106.8 136.6z"/>
<path fill="#15b1b4" d="M112.5 139.4L105.9 140L106.8 136.6L113.4 135.9z"/>
<path fill="#17b1b3" d="M119.2 138.7L112.5 139.4L113.4 135.9L120 135.1z"/>
<path fill="#1ab2b1" d="M125.8 137.8L119.2 138.7L120 135.1L126.7 134.2z"/>
<path fill="#1cb3b0" d="M132.4 136.9L125.8 137.8L126.7 134.2L133.3 133.2z"/>
<path fill="#1eb3ae" d="M139 135.9L132.4 136.9L133.3 133.2L139.9 132.1z"/>
<path fill="#21b4ac" d="M145.7 134.7L139 135.9L139.9 132.1L146.6 130.9z"/>
<path fill="#11afb7" d="M101.9 140.4L105.9 140L105.5 141.5z"/>
<path fill="#13b0b6" d="M111.7 142.9L110.3 143L105.5 141.5L105.9 140L112.5 139.4z"/>
<path fill="#15b0b5" d="M118.3 142.2L111.7 142.9L112.5 139.4L119.2 138.7z"/>
<path fill="#17b1b3" d="M124.9 141.5L118.3 142.2L119.2 138.7L125.8 137.8z"/>
<path fill="#19b2b2" d="M131.5 140.6L124.9 141.5L125.8 137.8L132.4 136.9z"/>
<path fill="#1bb2b0" d="M138.2 139.7L131.5 140.6L132.4 136.9L139 135.9z"/>
<path fill="#1eb3ae" d="M144.8 138.6L138.2 139.7L139 135.9L145.7 134.7z"/>
<path fill="#11afb8" d="M110.3 143L111.7 142.9L111.5 143.4z"/>
<path fill="#12b0b6" d="M111.5 143.4L111.7 142.9L118.3 142.2L117.5 145.3z"/>
<path fill="#14b0b5" d="M124 145.1L118.8 145.7L117.5 145.3L118.3 142.2L124.9 141.5z"/>
<path fill="#16b1b4" d="M130.7 144.3L124 145.1L124.9 141.5L131.5 140.6z"/>
<path fill="#18b1b2" d="M137.3 143.4L130.7 144.3L131.5 140.6L138.2 139.7z"/>
<path fill="#1ab2b1" d="M143.9 142.5L137.3 143.4L138.2 139.7L144.8 138.6z"/>
<path fill="#12afb7" d="M118.8 145.7L124 145.1L123.6 147.1z"/>
<path fill="#13b0b6" d="M129.8 148.1L127.4 148.3L123.6 147.1L124 145.1L130.7 144.3z"/>
<path fill="#15b1b4" d="M136.4 147.2L129.8 148.1L130.7 144.3L137.3 143.4z"/>
<path fill="#17b1b3" d="M143 146.3L136.4 147.2L137.3 143.4L143.9 142.5z"/>
<path fill="#11afb8" d="M127.4 148.3L129.8 148.1L129.6 149z"/>
<path fill="#13b0b6" d="M129.6 149L129.8 148.1L136.4 147.2L135.6 150.8z"/>
<path fill="#15b0b5" d="M142.1 150.2L136 151L135.6 150.8L136.4 147.2L143 146.3z"/>
<path fill="#12afb7" d="M136 151L142.1 150.2L141.6 152.7z"/>
</g>
<g stroke="#000" stroke-width="0.4" stroke-opacity="0.62" stroke-linejoin="round">
<path fill="#fec635" d="M169.3 35.6L166.8 39L167.1 34.9z"/>
<path fill="#f8ba44" d="M172.6 38.2L166.3 49L166.8 39L169.3 35.6L172.7 36.8z"/>
<path fill="#fec932" d="M173.5 37.1L172.6 38.2L172.7 36.8z"/>
<path fill="#e5b950" d="M172.1 46.5L165.8 58.3L166.3 49L172.6 38.2z"/>
<path fill="#fdbe3e" d="M177.9 38.6L172.1 46.5L172.6 38.2L173.5 37.1z"/>
<path fill="#d5bb58" d="M171.5 55.6L165.3 63.6L165.8 58.3L172.1 46.5z"/>
<path fill="#eeb94b" d="M177.8 44.8L171.5 55.6L172.1 46.5L177.9 38.6L178.3 38.7z"/>
<path fill="#fec139" d="M182.4 40.1L177.8 44.8L178.3 38.7z"/>
<path fill="#cbbb5c" d="M171 60.7L164.7 68L165.3 63.6L171.5 55.6z"/>
<path fill="#e1ba52" d="M177.3 52.4L171 60.7L171.5 55.6L177.8 44.8z"/>
<path fill="#f7ba45" d="M183.5 44.1L177.3 52.4L177.8 44.8L182.4 40.1L183.9 40.7z"/>
<path fill="#ffc437" d="M187 41.6L183.5 44.1L183.9 40.7z"/>
<path fill="#b3bd65" d="M170.5 65L164.2 72.2L164.7 68L171 60.7z"/>
<path fill="#d7ba57" d="M176.7 57.9L170.5 65L171 60.7L177.3 52.4z"/>
<path fill="#ecb94d" d="M183 50.1L176.7 57.9L177.3 52.4L183.5 44.1z"/>
<path fill="#fcbd3f" d="M189.3 44L183 50.1L183.5 44.1L187 41.6L189.5 42.6z"/>
<path fill="#fec535" d="M191.4 43.2L189.3 44L189.5 42.6z"/>
<path fill="#9cbf6e" d="M169.9 69L163.7 74.9L164.2 72.2L170.5 65z"/>
<path fill="#cebb5a" d="M176.2 62.1L169.9 69L170.5 65L176.7 57.9z"/>
<path fill="#e2b952" d="M182.5 55.4L176.2 62.1L176.7 57.9L183 50.1z"/>
<path fill="#f5ba47" d="M188.8 48.5L182.5 55.4L183 50.1L189.3 44z"/>
<path fill="#fec03b" d="M195 44.7L188.8 48.5L189.3 44L191.4 43.2L195.1 44.5z"/>
<path fill="#fec733" d="M195.2 44.6L195 44.7L195.1 44.5z"/>
<path fill="#8cbf75" d="M169.4 72.4L163.1 76.4L163.7 74.9L169.9 69z"/>
<path fill="#c5bc5e" d="M175.7 66L169.4 72.4L169.9 69L176.2 62.1z"/>
<path fill="#daba55" d="M182 59.4L175.7 66L176.2 62.1L182.5 55.4z"/>
<path fill="#ecb94c" d="M188.2 53.1L182 59.4L182.5 55.4L188.8 48.5z"/>
<path fill="#fbbc41" d="M194.5 47.9L188.2 53.1L188.8 48.5L195 44.7z"/>
<path fill="#ffc437" d="M198 45.9L194.5 47.9L195 44.7L195.2 44.6z"/>
<path fill="#83bf78" d="M168.9 74.3L162.6 78L163.1 76.4L169.4 72.4z"/>
<path fill="#b4bd65" d="M175.1 69.7L168.9 74.3L169.4 72.4L175.7 66z"/>
<path fill="#d3bb58" d="M181.4 63.1L175.1 69.7L175.7 66L182 59.4z"/>
<path fill="#e6b950" d="M187.7 56.7L181.4 63.1L182 59.4L188.2 53.1z"/>
<path fill="#f6ba46" d="M194 51.1L187.7 56.7L188.2 53.1L194.5 47.9z"/>
<path fill="#fec03b" d="M200.3 47.4L194 51.1L194.5 47.9L198 45.9L200.3 47.1z"/>
<path fill="#fec734" d="M200.7 47.2L200.3 47.4L200.3 47.1z"/>
<path fill="#7abf7c" d="M168.3 76.3L162.1 79.6L162.6 78L168.9 74.3z"/>
<path fill="#a9be69" d="M174.6 72L168.3 76.3L168.9 74.3L175.1 69.7z"/>
<path fill="#cebb5a" d="M180.9 66.6L174.6 72L175.1 69.7L181.4 63.1z"/>
<path fill="#dfba53" d="M187.2 60.2L180.9 66.6L181.4 63.1L187.7 56.7z"/>
<path fill="#f0b94a" d="M193.4 54.3L187.2 60.2L187.7 56.7L194 51.1z"/>
<path fill="#fcbd3f" d="M199.7 50.5L193.4 54.3L194 51.1L200.3 47.4z"/>
<path fill="#ffc337" d="M203.5 48.5L199.7 50.5L200.3 47.4L200.7 47.2z"/>
<path fill="#74bf7f" d="M167.8 78.2L161.5 81.1L162.1 79.6L168.3 76.3z"/>
<path fill="#9dbe6e" d="M174.1 74.3L167.8 78.2L168.3 76.3L174.6 72z"/>
<path fill="#c9bb5c" d="M180.4 69.4L174.1 74.3L174.6 72L180.9 66.6z"/>
<path fill="#d9ba55" d="M186.6 63.6L180.4 69.4L180.9 66.6L187.2 60.2z"/>
<path fill="#ebb94d" d="M192.9 57.5L186.6 63.6L187.2 60.2L193.4 54.3z"/>
<path fill="#f8bb44" d="M199.2 53.6L192.9 57.5L193.4 54.3L199.7 50.5z"/>
<path fill="#fec03b" d="M205.5 50.2L199.2 53.6L199.7 50.5L203.5 48.5L205.6 49.6z"/>
<path fill="#fec634" d="M206.2 49.8L205.5 50.2L205.6 49.6z"/>
<path fill="#6ebf82" d="M167.3 80.2L161 82.7L161.5 81.1L167.8 78.2z"/>
<path fill="#91bf73" d="M173.6 76.7L167.3 80.2L167.8 78.2L174.1 74.3z"/>
<path fill="#bebc61" d="M179.8 72.2L173.6 76.7L174.1 74.3L180.4 69.4z"/>
<path fill="#d4bb58" d="M186.1 66.8L179.8 72.2L180.4 69.4L186.6 63.6z"/>
<path fill="#e5b950" d="M192.4 60.7L186.1 66.8L186.6 63.6L192.9 57.5z"/>
<path fill="#f3ba48" d="M198.7 56.6L192.4 60.7L192.9 57.5L199.2 53.6z"/>
<path fill="#fcbd3f" d="M204.9 53.1L198.7 56.6L199.2 53.6L205.5 50.2z"/>
<path fill="#ffc337" d="M209 51.2L204.9 53.1L205.5 50.2L206.2 49.8z"/>
<path fill="#68be84" d="M166.7 82.2L160.5 84.3L161 82.7L167.3 80.2z"/>
<path fill="#83bf78" d="M173 79.1L166.7 82.2L167.3 80.2L173.6 76.7z"/>
<path fill="#afbe67" d="M179.3 74.9L173 79.1L173.6 76.7L179.8 72.2z"/>
<path fill="#cfbb5a" d="M185.6 69.8L179.3 74.9L179.8 72.2L186.1 66.8z"/>
<path fill="#dfba53" d="M191.9 63.9L185.6 69.8L186.1 66.8L192.4 60.7z"/>
<path fill="#eeb94b" d="M198.1 59.7L191.9 63.9L192.4 60.7L198.7 56.6z"/>
<path fill="#f9bb43" d="M204.4 56L198.1 59.7L198.7 56.6L204.9 53.1z"/>
<path fill="#fec03b" d="M210.7 52.9L204.4 56L204.9 53.1L209 51.2L210.8 52.1z"/>
<path fill="#fec634" d="M211.7 52.5L210.7 52.9L210.8 52.1z"/>
<path fill="#62be87" d="M166.2 84.1L159.9 85.9L160.5 84.3L166.7 82.2z"/>
<path fill="#77bf7e" d="M172.5 81.4L166.2 84.1L166.7 82.2L173 79.1z"/>
<path fill="#a0be6d" d="M178.8 77.7L172.5 81.4L173 79.1L179.3 74.9z"/>
<path fill="#cabb5c" d="M185 72.9L178.8 77.7L179.3 74.9L185.6 69.8z"/>
<path fill="#d9ba56" d="M191.3 67.2L185 72.9L185.6 69.8L191.9 63.9z"/>
<path fill="#e8b94f" d="M197.6 62.8L191.3 67.2L191.9 63.9L198.1 59.7z"/>
<path fill="#f4ba47" d="M203.9 59L197.6 62.8L198.1 59.7L204.4 56z"/>
<path fill="#fcbd3f" d="M210.2 55.7L203.9 59L204.4 56L210.7 52.9z"/>
<path fill="#ffc337" d="M214.4 53.8L210.2 55.7L210.7 52.9L211.7 52.5z"/>
<path fill="#5bbe8a" d="M165.7 86.1L159.4 87.4L159.9 85.9L166.2 84.1z"/>
<path fill="#6ebf81" d="M172 83.8L165.7 86.1L166.2 84.1L172.5 81.4z"/>
<path fill="#8fbf74" d="M178.2 80.4L172 83.8L172.5 81.4L178.8 77.7z"/>
<path fill="#bbbd62" d="M184.5 76.1L178.2 80.4L178.8 77.7L185 72.9z"/>
<path fill="#d3bb58" d="M190.8 70.7L184.5 76.1L185 72.9L191.3 67.2z"/>
<path fill="#e2b951" d="M197.1 65.9L190.8 70.7L191.3 67.2L197.6 62.8z"/>
<path fill="#efb94b" d="M203.3 61.9L197.1 65.9L197.6 62.8L203.9 59z"/>
<path fill="#f9bb43" d="M209.6 58.5L203.3 61.9L203.9 59L210.2 55.7z"/>
<path fill="#fec03b" d="M215.9 55.6L209.6 58.5L210.2 55.7L214.4 53.8L216.1 54.6z"/>
<path fill="#fec635" d="M217.1 55.1L215.9 55.6L216.1 54.6z"/>
<path fill="#55bd8d" d="M165.2 88.1L158.9 89L159.4 87.4L165.7 86.1z"/>
<path fill="#65be86" d="M171.4 86.1L165.2 88.1L165.7 86.1L172 83.8z"/>
<path fill="#7ebf7b" d="M177.7 83.2L171.4 86.1L172 83.8L178.2 80.4z"/>
<path fill="#a9be69" d="M184 79.2L177.7 83.2L178.2 80.4L184.5 76.1z"/>
<path fill="#cdbb5b" d="M190.3 74.3L184 79.2L184.5 76.1L190.8 70.7z"/>
<path fill="#dcba54" d="M196.5 69L190.3 74.3L190.8 70.7L197.1 65.9z"/>
<path fill="#eab94e" d="M202.8 64.9L196.5 69L197.1 65.9L203.3 61.9z"/>
<path fill="#f5ba47" d="M209.1 61.3L202.8 64.9L203.3 61.9L209.6 58.5z"/>
<path fill="#fdbd3e" d="M215.4 58.3L209.1 61.3L209.6 58.5L215.9 55.6z"/>
<path fill="#ffc338" d="M219.9 56.4L215.4 58.3L215.9 55.6L217.1 55.1z"/>
<path fill="#52bd8f" d="M164.6 90L158.3 90.6L158.9 89L165.2 88.1z"/>
<path fill="#5cbe8a" d="M170.9 88.5L164.6 90L165.2 88.1L171.4 86.1z"/>
<path fill="#71bf80" d="M177.2 85.9L170.9 88.5L171.4 86.1L177.7 83.2z"/>
<path fill="#95bf71" d="M183.5 82.4L177.2 85.9L177.7 83.2L184 79.2z"/>
<path fill="#c2bc5f" d="M189.7 77.8L183.5 82.4L184 79.2L190.3 74.3z"/>
<path fill="#d5ba57" d="M196 72.4L189.7 77.8L190.3 74.3L196.5 69z"/>
<path fill="#e4b951" d="M202.3 67.8L196 72.4L196.5 69L202.8 64.9z"/>
<path fill="#f0b94a" d="M208.6 64.1L202.3 67.8L202.8 64.9L209.1 61.3z"/>
<path fill="#fabb42" d="M214.8 60.9L208.6 64.1L209.1 61.3L215.4 58.3z"/>
<path fill="#fec03b" d="M221.1 58.3L214.8 60.9L215.4 58.3L219.9 56.4L221.3 57.1z"/>
<path fill="#fec535" d="M222.6 57.7L221.1 58.3L221.3 57.1z"/>
<path fill="#50bc90" d="M164.1 91.7L157.8 92.1L158.3 90.6L164.6 90z"/>
<path fill="#55bd8e" d="M170.4 90.9L164.1 91.7L164.6 90L170.9 88.5z"/>
<path fill="#65be86" d="M176.6 88.7L170.4 90.9L170.9 88.5L177.2 85.9z"/>
<path fill="#7fbf7a" d="M182.9 85.5L176.6 88.7L177.2 85.9L183.5 82.4z"/>
<path fill="#acbe68" d="M189.2 81.4L182.9 85.5L183.5 82.4L189.7 77.8z"/>
<path fill="#cfbb5a" d="M195.5 75.8L189.2 81.4L189.7 77.8L196 72.4z"/>
<path fill="#deba53" d="M201.7 70.9L195.5 75.8L196 72.4L202.3 67.8z"/>
<path fill="#ebb94d" d="M208 66.9L201.7 70.9L202.3 67.8L208.6 64.1z"/>
<path fill="#f6ba46" d="M214.3 63.6L208 66.9L208.6 64.1L214.8 60.9z"/>
<path fill="#fdbe3e" d="M220.6 60.8L214.3 63.6L214.8 60.9L221.1 58.3z"/>
<path fill="#ffc338" d="M225.4 59L220.6 60.8L221.1 58.3L222.6 57.7z"/>
<path fill="#4ebc91" d="M163.6 93.3L157.3 93.7L157.8 92.1L164.1 91.7z"/>
<path fill="#52bd8f" d="M169.8 92.8L163.6 93.3L164.1 91.7L170.4 90.9z"/>
<path fill="#5abd8b" d="M176.1 91.5L169.8 92.8L170.4 90.9L176.6 88.7z"/>
<path fill="#6fbf81" d="M182.4 88.7L176.1 91.5L176.6 88.7L182.9 85.5z"/>
<path fill="#95bf71" d="M188.7 84.9L182.4 88.7L182.9 85.5L189.2 81.4z"/>
<path fill="#c8bc5d" d="M194.9 79.1L188.7 84.9L189.2 81.4L195.5 75.8z"/>
<path fill="#d8ba56" d="M201.2 74L194.9 79.1L195.5 75.8L201.7 70.9z"/>
<path fill="#e6b94f" d="M207.5 69.7L201.2 74L201.7 70.9L208 66.9z"/>
<path fill="#f2b949" d="M213.8 66.3L207.5 69.7L208 66.9L214.3 63.6z"/>
<path fill="#fabc42" d="M220 63.3L213.8 66.3L214.3 63.6L220.6 60.8z"/>
<path fill="#fec03b" d="M226.3 60.9L220 63.3L220.6 60.8L225.4 59L226.6 59.7z"/>
<path fill="#4cbc92" d="M163 95L156.8 95.3L157.3 93.7L163.6 93.3z"/>
<path fill="#50bc90" d="M169.3 94.5L163 95L163.6 93.3L169.8 92.8z"/>
<path fill="#54bd8e" d="M175.6 93.8L169.3 94.5L169.8 92.8L176.1 91.5z"/>
<path fill="#61be87" d="M181.9 91.8L175.6 93.8L176.1 91.5L182.4 88.7z"/>
<path fill="#7abf7c" d="M188.1 88.4L181.9 91.8L182.4 88.7L188.7 84.9z"/>
<path fill="#b2bd66" d="M194.4 82.5L188.1 88.4L188.7 84.9L194.9 79.1z"/>
<path fill="#d2bb59" d="M200.7 77.2L194.4 82.5L194.9 79.1L201.2 74z"/>
<path fill="#e1ba52" d="M207 72.6L200.7 77.2L201.2 74L207.5 69.7z"/>
<path fill="#edb94c" d="M213.2 68.9L207 72.6L207.5 69.7L213.8 66.3z"/>
<path fill="#f7ba45" d="M219.5 65.9L213.2 68.9L213.8 66.3L220 63.3z"/>
<path fill="#fdbe3e" d="M225.8 63.3L219.5 65.9L220 63.3L226.3 60.9z"/>
<path fill="#4abc93" d="M162.5 96.6L156.2 96.8L156.8 95.3L163 95z"/>
<path fill="#4dbc91" d="M168.8 96.2L162.5 96.6L163 95L169.3 94.5z"/>
<path fill="#51bd90" d="M175 95.6L168.8 96.2L169.3 94.5L175.6 93.8z"/>
<path fill="#57bd8d" d="M181.3 94.8L175 95.6L175.6 93.8L181.9 91.8z"/>
<path fill="#6abe84" d="M187.6 92L181.3 94.8L181.9 91.8L188.1 88.4z"/>
<path fill="#9abf6f" d="M193.9 85.8L187.6 92L188.1 88.4L194.4 82.5z"/>
<path fill="#ccbb5b" d="M200.2 80.4L193.9 85.8L194.4 82.5L200.7 77.2z"/>
<path fill="#dbba55" d="M206.4 75.6L200.2 80.4L200.7 77.2L207 72.6z"/>
<path fill="#e8b94e" d="M212.7 71.6L206.4 75.6L207 72.6L213.2 68.9z"/>
<path fill="#f3ba48" d="M219 68.4L212.7 71.6L213.2 68.9L219.5 65.9z"/>
<path fill="#fbbc41" d="M225.3 65.7L219 68.4L219.5 65.9L225.8 63.3z"/>
<path fill="#48bb94" d="M162 98.3L155.7 98.4L156.2 96.8L162.5 96.6z"/>
<path fill="#4bbc93" d="M168.2 97.9L162 98.3L162.5 96.6L168.8 96.2z"/>
<path fill="#4fbc91" d="M174.5 97.4L168.2 97.9L168.8 96.2L175 95.6z"/>
<path fill="#53bd8f" d="M180.8 96.7L174.5 97.4L175 95.6L181.3 94.8z"/>
<path fill="#5cbe8a" d="M187.1 95.5L180.8 96.7L181.3 94.8L187.6 92z"/>
<path fill="#7fbf7a" d="M193.3 89.1L187.1 95.5L187.6 92L193.9 85.8z"/>
<path fill="#c1bc60" d="M199.6 83.5L193.3 89.1L193.9 85.8L200.2 80.4z"/>
<path fill="#d6ba57" d="M205.9 78.6L199.6 83.5L200.2 80.4L206.4 75.6z"/>
<path fill="#e3b951" d="M212.2 74.4L205.9 78.6L206.4 75.6L212.7 71.6z"/>
<path fill="#efb94b" d="M218.5 71L212.2 74.4L212.7 71.6L219 68.4z"/>
<path fill="#f8ba44" d="M224.7 68.1L218.5 71L219 68.4L225.3 65.7z"/>
<path fill="#46bb95" d="M161.4 99.9L155.2 100L155.7 98.4L162 98.3z"/>
<path fill="#49bc94" d="M167.7 99.7L161.4 99.9L162 98.3L168.2 97.9z"/>
<path fill="#4cbc92" d="M174 99.2L167.7 99.7L168.2 97.9L174.5 97.4z"/>
<path fill="#50bc90" d="M180.3 98.6L174 99.2L174.5 97.4L180.8 96.7z"/>
<path fill="#55bd8e" d="M186.5 97.7L180.3 98.6L180.8 96.7L187.1 95.5z"/>
<path fill="#70bf81" d="M192.8 92.4L186.5 97.7L187.1 95.5L193.3 89.1z"/>
<path fill="#acbe68" d="M199.1 86.6L192.8 92.4L193.3 89.1L199.6 83.5z"/>
<path fill="#d0bb59" d="M205.4 81.6L199.1 86.6L199.6 83.5L205.9 78.6z"/>
<path fill="#deba53" d="M211.6 77.2L205.4 81.6L205.9 78.6L212.2 74.4z"/>
<path fill="#ebb94d" d="M217.9 73.5L211.6 77.2L212.2 74.4L218.5 71z"/>
<path fill="#f5ba47" d="M224.2 70.5L217.9 73.5L218.5 71L224.7 68.1z"/>
<path fill="#45bb96" d="M160.9 101.6L154.6 101.5L155.2 100L161.4 99.9z"/>
<path fill="#47bb95" d="M167.2 101.4L160.9 101.6L161.4 99.9L167.7 99.7z"/>
<path fill="#4abc93" d="M173.5 101L167.2 101.4L167.7 99.7L174 99.2z"/>
<path fill="#4dbc92" d="M179.7 100.4L173.5 101L174 99.2L180.3 98.6z"/>
<path fill="#52bd8f" d="M186 99.7L179.7 100.4L180.3 98.6L186.5 97.7z"/>
<path fill="#64be86" d="M192.3 95.8L186 99.7L186.5 97.7L192.8 92.4z"/>
<path fill="#96bf71" d="M198.6 89.7L192.3 95.8L192.8 92.4L199.1 86.6z"/>
<path fill="#cbbb5c" d="M204.8 84.5L198.6 89.7L199.1 86.6L205.4 81.6z"/>
<path fill="#daba55" d="M211.1 80L204.8 84.5L205.4 81.6L211.6 77.2z"/>
<path fill="#e6b950" d="M217.4 76.1L211.1 80L211.6 77.2L217.9 73.5z"/>
<path fill="#f1b94a" d="M223.7 72.9L217.4 76.1L217.9 73.5L224.2 70.5z"/>
<path fill="#43bb97" d="M160.4 103.2L154.1 103.1L154.6 101.5L160.9 101.6z"/>
<path fill="#45bb96" d="M166.6 103.1L160.4 103.2L160.9 101.6L167.2 101.4z"/>
<path fill="#47bb95" d="M172.9 102.8L166.6 103.1L167.2 101.4L173.5 101z"/>
<path fill="#4bbc93" d="M179.2 102.3L172.9 102.8L173.5 101L179.7 100.4z"/>
<path fill="#4fbc91" d="M185.5 101.6L179.2 102.3L179.7 100.4L186 99.7z"/>
<path fill="#5cbe8a" d="M191.8 97.8L185.5 101.6L186 99.7L192.3 95.8z"/>
<path fill="#85bf78" d="M198 92.8L191.8 97.8L192.3 95.8L198.6 89.7z"/>
<path fill="#bfbc61" d="M204.3 87.4L198 92.8L198.6 89.7L204.8 84.5z"/>
<path fill="#d5bb58" d="M210.6 82.7L204.3 87.4L204.8 84.5L211.1 80z"/>
<path fill="#e2b952" d="M216.9 78.7L210.6 82.7L211.1 80L217.4 76.1z"/>
<path fill="#edb94c" d="M223.1 75.3L216.9 78.7L217.4 76.1L223.7 72.9z"/>
<path fill="#41ba99" d="M159.8 104.9L153.6 104.7L154.1 103.1L160.4 103.2z"/>
<path fill="#43bb97" d="M166.1 104.8L159.8 104.9L160.4 103.2L166.6 103.1z"/>
<path fill="#45bb96" d="M172.4 104.6L166.1 104.8L166.6 103.1L172.9 102.8z"/>
<path fill="#48bb94" d="M178.7 104.2L172.4 104.6L172.9 102.8L179.2 102.3z"/>
<path fill="#4cbc92" d="M184.9 103.6L178.7 104.2L179.2 102.3L185.5 101.6z"/>
<path fill="#54bd8e" d="M191.2 99.8L184.9 103.6L185.5 101.6L191.8 97.8z"/>
<path fill="#76bf7e" d="M197.5 95.8L191.2 99.8L191.8 97.8L198 92.8z"/>
<path fill="#acbe68" d="M203.8 90.3L197.5 95.8L198 92.8L204.3 87.4z"/>
<path fill="#d0bb5a" d="M210.1 85.5L203.8 90.3L204.3 87.4L210.6 82.7z"/>
<path fill="#ddba54" d="M216.3 81.3L210.1 85.5L210.6 82.7L216.9 78.7z"/>
<path fill="#e9b94e" d="M222.6 77.7L216.3 81.3L216.9 78.7L223.1 75.3z"/>
<path fill="#3fba9a" d="M159.3 106.5L153 106.2L153.6 104.7L159.8 104.9z"/>
<path fill="#40ba99" d="M165.6 106.6L159.3 106.5L159.8 104.9L166.1 104.8z"/>
<path fill="#43bb97" d="M171.9 106.4L165.6 106.6L166.1 104.8L172.4 104.6z"/>
<path fill="#45bb96" d="M178.1 106.1L171.9 106.4L172.4 104.6L178.7 104.2z"/>
<path fill="#49bc94" d="M184.4 105.5L178.1 106.1L178.7 104.2L184.9 103.6z"/>
<path fill="#51bd8f" d="M190.7 101.8L184.4 105.5L184.9 103.6L191.2 99.8z"/>
<path fill="#6ebf82" d="M197 97.9L190.7 101.8L191.2 99.8L197.5 95.8z"/>
<path fill="#9ebe6e" d="M203.2 93.2L197 97.9L197.5 95.8L203.8 90.3z"/>
<path fill="#cbbb5c" d="M209.5 88.1L203.2 93.2L203.8 90.3L210.1 85.5z"/>
<path fill="#d9ba56" d="M215.8 83.9L209.5 88.1L210.1 85.5L216.3 81.3z"/>
<path fill="#e5b950" d="M222.1 80.1L215.8 83.9L216.3 81.3L222.6 77.7z"/>
<path fill="#3dba9b" d="M158.8 108.1L152.5 107.8L153 106.2L159.3 106.5z"/>
<path fill="#3eba9a" d="M165.1 108.3L158.8 108.1L159.3 106.5L165.6 106.6z"/>
<path fill="#40ba99" d="M171.3 108.2L165.1 108.3L165.6 106.6L171.9 106.4z"/>
<path fill="#43bb97" d="M177.6 108L171.3 108.2L171.9 106.4L178.1 106.1z"/>
<path fill="#46bb96" d="M183.9 107.5L177.6 108L178.1 106.1L184.4 105.5z"/>
<path fill="#4ebc91" d="M190.2 103.8L183.9 107.5L184.4 105.5L190.7 101.8z"/>
<path fill="#66be85" d="M196.4 99.9L190.2 103.8L190.7 101.8L197 97.9z"/>
<path fill="#8fbf74" d="M202.7 95.9L196.4 99.9L197 97.9L203.2 93.2z"/>
<path fill="#c1bc60" d="M209 90.8L202.7 95.9L203.2 93.2L209.5 88.1z"/>
<path fill="#d5ba58" d="M215.3 86.3L209 90.8L209.5 88.1L215.8 83.9z"/>
<path fill="#e1b952" d="M221.5 82.5L215.3 86.3L215.8 83.9L222.1 80.1z"/>
<path fill="#3bb99c" d="M158.2 109.8L152 109.4L152.5 107.8L158.8 108.1z"/>
<path fill="#3cba9b" d="M164.5 110L158.2 109.8L158.8 108.1L165.1 108.3z"/>
<path fill="#3eba9a" d="M170.8 110L164.5 110L165.1 108.3L171.3 108.2z"/>
<path fill="#40ba99" d="M177.1 109.9L170.8 110L171.3 108.2L177.6 108z"/>
<path fill="#43bb97" d="M183.4 109.5L177.1 109.9L177.6 108L183.9 107.5z"/>
<path fill="#4bbc93" d="M189.6 105.8L183.4 109.5L183.9 107.5L190.2 103.8z"/>
<path fill="#5ebe89" d="M195.9 102L189.6 105.8L190.2 103.8L196.4 99.9z"/>
<path fill="#83bf79" d="M202.2 98L195.9 102L196.4 99.9L202.7 95.9z"/>
<path fill="#b4bd65" d="M208.5 93.5L202.2 98L202.7 95.9L209 90.8z"/>
<path fill="#d0bb59" d="M214.7 88.8L208.5 93.5L209 90.8L215.3 86.3z"/>
<path fill="#ddba54" d="M221 84.9L214.7 88.8L215.3 86.3L221.5 82.5z"/>
<path fill="#39b99d" d="M157.7 111.5L151.4 110.9L152 109.4L158.2 109.8z"/>
<path fill="#3ab99c" d="M164 111.7L157.7 111.5L158.2 109.8L164.5 110z"/>
<path fill="#3cba9b" d="M170.3 111.8L164 111.7L164.5 110L170.8 110z"/>
<path fill="#3eba9a" d="M176.5 111.7L170.3 111.8L170.8 110L177.1 109.9z"/>
<path fill="#40ba99" d="M182.8 111.4L176.5 111.7L177.1 109.9L183.4 109.5z"/>
<path fill="#48bb94" d="M189.1 107.8L182.8 111.4L183.4 109.5L189.6 105.8z"/>
<path fill="#56bd8d" d="M195.4 104L189.1 107.8L189.6 105.8L195.9 102z"/>
<path fill="#78bf7d" d="M201.7 100.1L195.4 104L195.9 102L202.2 98z"/>
<path fill="#a8be6a" d="M207.9 95.9L201.7 100.1L202.2 98L208.5 93.5z"/>
<path fill="#ccbb5b" d="M214.2 91.3L207.9 95.9L208.5 93.5L214.7 88.8z"/>
<path fill="#daba55" d="M220.5 87.2L214.2 91.3L214.7 88.8L221 84.9z"/>
<path fill="#38b99e" d="M157.2 113.1L150.9 112.5L151.4 110.9L157.7 111.5z"/>
<path fill="#38b99d" d="M163.5 113.5L157.2 113.1L157.7 111.5L164 111.7z"/>
<path fill="#3ab99d" d="M169.7 113.6L163.5 113.5L164 111.7L170.3 111.8z"/>
<path fill="#3bba9c" d="M176 113.6L169.7 113.6L170.3 111.8L176.5 111.7z"/>
<path fill="#3eba9a" d="M182.3 113.4L176 113.6L176.5 111.7L182.8 111.4z"/>
<path fill="#45bb96" d="M188.6 109.8L182.3 113.4L182.8 111.4L189.1 107.8z"/>
<path fill="#52bd8f" d="M194.8 106.1L188.6 109.8L189.1 107.8L195.4 104z"/>
<path fill="#6fbf81" d="M201.1 102.2L194.8 106.1L195.4 104L201.7 100.1z"/>
<path fill="#9dbf6e" d="M207.4 98.1L201.1 102.2L201.7 100.1L207.9 95.9z"/>
<path fill="#c9bc5c" d="M213.7 93.7L207.4 98.1L207.9 95.9L214.2 91.3z"/>
<path fill="#d6ba57" d="M219.9 89.4L213.7 93.7L214.2 91.3L220.5 87.2z"/>
<path fill="#37b99e" d="M156.7 114.8L150.4 114.1L150.9 112.5L157.2 113.1z"/>
<path fill="#37b99e" d="M162.9 115.2L156.7 114.8L157.2 113.1L163.5 113.5z"/>
<path fill="#38b99e" d="M169.2 115.5L162.9 115.2L163.5 113.5L169.7 113.6z"/>
<path fill="#39b99d" d="M175.5 115.5L169.2 115.5L169.7 113.6L176 113.6z"/>
<path fill="#3bb99c" d="M181.8 115.4L175.5 115.5L176 113.6L182.3 113.4z"/>
<path fill="#42bb98" d="M188 111.8L181.8 115.4L182.3 113.4L188.6 109.8z"/>
<path fill="#4fbc91" d="M194.3 108.1L188 111.8L188.6 109.8L194.8 106.1z"/>
<path fill="#67be85" d="M200.6 104.2L194.3 108.1L194.8 106.1L201.1 102.2z"/>
<path fill="#91bf73" d="M206.9 100.2L200.6 104.2L201.1 102.2L207.4 98.1z"/>
<path fill="#bfbc61" d="M213.1 96L206.9 100.2L207.4 98.1L213.7 93.7z"/>
<path fill="#d3bb58" d="M219.4 91.6L213.1 96L213.7 93.7L219.9 89.4z"/>
<path fill="#35b8a0" d="M156.1 116.4L149.8 116.4L150.4 114.1L156.7 114.8z"/>
<path fill="#36b99f" d="M162.4 117L156.1 116.4L156.7 114.8L162.9 115.2z"/>
<path fill="#36b99f" d="M168.7 117.3L162.4 117L162.9 115.2L169.2 115.5z"/>
<path fill="#37b99e" d="M175 117.4L168.7 117.3L169.2 115.5L175.5 115.5z"/>
<path fill="#39b99d" d="M181.2 117.3L175 117.4L175.5 115.5L181.8 115.4z"/>
<path fill="#3fba9a" d="M187.5 113.9L181.2 117.3L181.8 115.4L188 111.8z"/>
<path fill="#4bbc93" d="M193.8 110.2L187.5 113.9L188 111.8L194.3 108.1z"/>
<path fill="#5fbe89" d="M200.1 106.3L193.8 110.2L194.3 108.1L200.6 104.2z"/>
<path fill="#84bf78" d="M206.3 102.4L200.1 106.3L200.6 104.2L206.9 100.2z"/>
<path fill="#b4bd65" d="M212.6 98.2L206.3 102.4L206.9 100.2L213.1 96z"/>
<path fill="#cfbb5a" d="M218.9 93.9L212.6 98.2L213.1 96L219.4 91.6z"/>
<path fill="#33b8a1" d="M155.6 118.6L149.3 118.8L149.8 116.4L156.1 116.4z"/>
<path fill="#34b8a0" d="M161.9 118.8L155.6 118.6L156.1 116.4L162.4 117z"/>
<path fill="#35b8a0" d="M168.1 119.2L161.9 118.8L162.4 117L168.7 117.3z"/>
<path fill="#35b89f" d="M174.4 119.3L168.1 119.2L168.7 117.3L175 117.4z"/>
<path fill="#37b99e" d="M180.7 119.3L174.4 119.3L175 117.4L181.2 117.3z"/>
<path fill="#3cba9b" d="M187 115.9L180.7 119.3L181.2 117.3L187.5 113.9z"/>
<path fill="#48bb94" d="M193.2 112.2L187 115.9L187.5 113.9L193.8 110.2z"/>
<path fill="#56bd8d" d="M199.5 108.4L193.2 112.2L193.8 110.2L200.1 106.3z"/>
<path fill="#78bf7d" d="M205.8 104.5L199.5 108.4L200.1 106.3L206.3 102.4z"/>
<path fill="#a8be6a" d="M212.1 100.4L205.8 104.5L206.3 102.4L212.6 98.2z"/>
<path fill="#ccbb5b" d="M218.4 96.1L212.1 100.4L212.6 98.2L218.9 93.9z"/>
<path fill="#30b7a2" d="M155.1 120.9L148.8 121.1L149.3 118.8L155.6 118.6z"/>
<path fill="#32b8a1" d="M161.3 120.8L155.1 120.9L155.6 118.6L161.9 118.8z"/>
<path fill="#33b8a1" d="M167.6 121L161.3 120.8L161.9 118.8L168.1 119.2z"/>
<path fill="#34b8a0" d="M173.9 121.3L167.6 121L168.1 119.2L174.4 119.3z"/>
<path fill="#35b8a0" d="M180.2 121.3L173.9 121.3L174.4 119.3L180.7 119.3z"/>
<path fill="#39b99d" d="M186.4 118L180.2 121.3L180.7 119.3L187 115.9z"/>
<path fill="#45bb96" d="M192.7 114.4L186.4 118L187 115.9L193.2 112.2z"/>
<path fill="#52bd8f" d="M199 110.5L192.7 114.4L193.2 112.2L199.5 108.4z"/>
<path fill="#6fbf81" d="M205.3 106.6L199 110.5L199.5 108.4L205.8 104.5z"/>
<path fill="#9cbf6e" d="M211.5 102.6L205.3 106.6L205.8 104.5L212.1 100.4z"/>
<path fill="#c8bc5d" d="M217.8 98.3L211.5 102.6L212.1 100.4L218.4 96.1z"/>
<path fill="#2eb7a4" d="M154.5 123.1L148.3 123.4L148.8 121.1L155.1 120.9z"/>
<path fill="#30b7a3" d="M160.8 123L154.5 123.1L155.1 120.9L161.3 120.8z"/>
<path fill="#31b8a2" d="M167.1 123L160.8 123L161.3 120.8L167.6 121z"/>
<path fill="#32b8a1" d="M173.4 123.3L167.1 123L167.6 121L173.9 121.3z"/>
<path fill="#33b8a1" d="M179.6 123.4L173.4 123.3L173.9 121.3L180.2 121.3z"/>
<path fill="#37b99e" d="M185.9 120.1L179.6 123.4L180.2 121.3L186.4 118z"/>
<path fill="#41ba98" d="M192.2 116.6L185.9 120.1L186.4 118L192.7 114.4z"/>
<path fill="#4ebc91" d="M198.5 112.7L192.2 116.6L192.7 114.4L199 110.5z"/>
<path fill="#66be85" d="M204.7 108.8L198.5 112.7L199 110.5L205.3 106.6z"/>
<path fill="#90bf73" d="M211 104.8L204.7 108.8L205.3 106.6L211.5 102.6z"/>
<path fill="#bebc61" d="M217.3 100.6L211 104.8L211.5 102.6L217.8 98.3z"/>
<path fill="#2cb7a5" d="M154 125.4L147.7 125.8L148.3 123.4L154.5 123.1z"/>
<path fill="#2db7a4" d="M160.3 125.2L154 125.4L154.5 123.1L160.8 123z"/>
<path fill="#2fb7a3" d="M166.5 125.1L160.3 125.2L160.8 123L167.1 123z"/>
<path fill="#30b7a3" d="M172.8 125.2L166.5 125.1L167.1 123L173.4 123.3z"/>
<path fill="#31b8a2" d="M179.1 125.4L172.8 125.2L173.4 123.3L179.6 123.4z"/>
<path fill="#35b8a0" d="M185.4 122.2L179.1 125.4L179.6 123.4L185.9 120.1z"/>
<path fill="#3eba9a" d="M191.7 118.7L185.4 122.2L185.9 120.1L192.2 116.6z"/>
<path fill="#4abc93" d="M197.9 114.9L191.7 118.7L192.2 116.6L198.5 112.7z"/>
<path fill="#5dbe8a" d="M204.2 110.9L197.9 114.9L198.5 112.7L204.7 108.8z"/>
<path fill="#82bf79" d="M210.5 106.9L204.2 110.9L204.7 108.8L211 104.8z"/>
<path fill="#b2bd66" d="M216.8 102.8L210.5 106.9L211 104.8L217.3 100.6z"/>
<path fill="#29b6a7" d="M153.5 127.7L147.2 128.1L147.7 125.8L154 125.4z"/>
<path fill="#2bb6a6" d="M159.7 127.4L153.5 127.7L154 125.4L160.3 125.2z"/>
<path fill="#2db7a5" d="M166 127.3L159.7 127.4L160.3 125.2L166.5 125.1z"/>
<path fill="#2eb7a4" d="M172.3 127.3L166 127.3L166.5 125.1L172.8 125.2z"/>
<path fill="#2fb7a3" d="M178.6 127.5L172.3 127.3L172.8 125.2L179.1 125.4z"/>
<path fill="#33b8a1" d="M184.8 124.3L178.6 127.5L179.1 125.4L185.4 122.2z"/>
<path fill="#3bb99c" d="M191.1 120.9L184.8 124.3L185.4 122.2L191.7 118.7z"/>
<path fill="#46bb95" d="M197.4 117.2L191.1 120.9L191.7 118.7L197.9 114.9z"/>
<path fill="#54bd8e" d="M203.7 113.2L197.4 117.2L197.9 114.9L204.2 110.9z"/>
<path fill="#76bf7e" d="M210 109.1L203.7 113.2L204.2 110.9L210.5 106.9z"/>
<path fill="#a6be6a" d="M216.2 105L210 109.1L210.5 106.9L216.8 102.8z"/>
<path fill="#27b5a8" d="M152.9 130L146.7 130.4L147.2 128.1L153.5 127.7z"/>
<path fill="#29b6a7" d="M159.2 129.6L152.9 130L153.5 127.7L159.7 127.4z"/>
<path fill="#2bb6a6" d="M165.5 129.5L159.2 129.6L159.7 127.4L166 127.3z"/>
<path fill="#2cb7a5" d="M171.8 129.4L165.5 129.5L166 127.3L172.3 127.3z"/>
<path fill="#2db7a4" d="M178 129.5L171.8 129.4L172.3 127.3L178.6 127.5z"/>
<path fill="#31b8a2" d="M184.3 126.5L178 129.5L178.6 127.5L184.8 124.3z"/>
<path fill="#38b99e" d="M190.6 123.1L184.3 126.5L184.8 124.3L191.1 120.9z"/>
<path fill="#43bb97" d="M196.9 119.5L190.6 123.1L191.1 120.9L197.4 117.2z"/>
<path fill="#50bc90" d="M203.1 115.5L196.9 119.5L197.4 117.2L203.7 113.2z"/>
<path fill="#6cbf82" d="M209.4 111.3L203.1 115.5L203.7 113.2L210 109.1z"/>
<path fill="#9abf6f" d="M215.7 107.3L209.4 111.3L210 109.1L216.2 105z"/>
<path fill="#25b5a9" d="M152.4 132.2L146.1 132.7L146.7 130.4L152.9 130z"/>
<path fill="#27b5a8" d="M158.7 131.9L152.4 132.2L152.9 130L159.2 129.6z"/>
<path fill="#29b6a7" d="M165 131.6L158.7 131.9L159.2 129.6L165.5 129.5z"/>
<path fill="#2ab6a6" d="M171.2 131.5L165 131.6L165.5 129.5L171.8 129.4z"/>
<path fill="#2bb6a6" d="M177.5 131.6L171.2 131.5L171.8 129.4L178 129.5z"/>
<path fill="#2fb7a3" d="M183.8 128.6L177.5 131.6L178 129.5L184.3 126.5z"/>
<path fill="#36b89f" d="M190.1 125.4L183.8 128.6L184.3 126.5L190.6 123.1z"/>
<path fill="#3fba9a" d="M196.3 121.8L190.1 125.4L190.6 123.1L196.9 119.5z"/>
<path fill="#4cbc92" d="M202.6 117.9L196.3 121.8L196.9 119.5L203.1 115.5z"/>
<path fill="#62be87" d="M208.9 113.7L202.6 117.9L203.1 115.5L209.4 111.3z"/>
<path fill="#8cbf75" d="M215.2 109.5L208.9 113.7L209.4 111.3L215.7 107.3z"/>
<path fill="#23b4ab" d="M151.9 134.5L145.6 135.1L146.1 132.7L152.4 132.2z"/>
<path fill="#25b5aa" d="M158.1 134.1L151.9 134.5L152.4 132.2L158.7 131.9z"/>
<path fill="#27b5a9" d="M164.4 133.8L158.1 134.1L158.7 131.9L165 131.6z"/>
<path fill="#28b6a8" d="M170.7 133.7L164.4 133.8L165 131.6L171.2 131.5z"/>
<path fill="#29b6a7" d="M177 133.6L170.7 133.7L171.2 131.5L177.5 131.6z"/>
<path fill="#2db7a4" d="M183.3 130.8L177 133.6L177.5 131.6L183.8 128.6z"/>
<path fill="#33b8a0" d="M189.5 127.6L183.3 130.8L183.8 128.6L190.1 125.4z"/>
<path fill="#3bba9c" d="M195.8 124.1L189.5 127.6L190.1 125.4L196.3 121.8z"/>
<path fill="#48bb95" d="M202.1 120.3L195.8 124.1L196.3 121.8L202.6 117.9z"/>
<path fill="#57bd8d" d="M208.4 116.2L202.1 120.3L202.6 117.9L208.9 113.7z"/>
<path fill="#7cbf7b" d="M214.6 111.7L208.4 116.2L208.9 113.7L215.2 109.5z"/>
<path fill="#21b4ac" d="M151.3 136.8L145.1 137.4L145.6 135.1L151.9 134.5z"/>
<path fill="#23b4ab" d="M157.6 136.3L151.3 136.8L151.9 134.5L158.1 134.1z"/>
<path fill="#25b5aa" d="M163.9 136L157.6 136.3L158.1 134.1L164.4 133.8z"/>
<path fill="#26b5a9" d="M170.2 135.8L163.9 136L164.4 133.8L170.7 133.7z"/>
<path fill="#28b6a8" d="M176.4 135.7L170.2 135.8L170.7 133.7L177 133.6z"/>
<path fill="#2bb6a6" d="M182.7 133L176.4 135.7L177 133.6L183.3 130.8z"/>
<path fill="#31b8a2" d="M189 129.8L182.7 133L183.3 130.8L189.5 127.6z"/>
<path fill="#38b99e" d="M195.3 126.4L189 129.8L189.5 127.6L195.8 124.1z"/>
<path fill="#43bb97" d="M201.6 122.7L195.3 126.4L195.8 124.1L202.1 120.3z"/>
<path fill="#51bc90" d="M207.8 118.7L201.6 122.7L202.1 120.3L208.4 116.2z"/>
<path fill="#70bf81" d="M214.1 114.2L207.8 118.7L208.4 116.2L214.6 111.7z"/>
<path fill="#1fb3ae" d="M150.8 139.1L144.5 139.7L145.1 137.4L151.3 136.8z"/>
<path fill="#21b4ac" d="M157.1 138.5L150.8 139.1L151.3 136.8L157.6 136.3z"/>
<path fill="#23b4ab" d="M163.4 138.1L157.1 138.5L157.6 136.3L163.9 136z"/>
<path fill="#24b5aa" d="M169.6 137.9L163.4 138.1L163.9 136L170.2 135.8z"/>
<path fill="#26b5a9" d="M175.9 137.8L169.6 137.9L170.2 135.8L176.4 135.7z"/>
<path fill="#29b6a7" d="M182.2 135.1L175.9 137.8L176.4 135.7L182.7 133z"/>
<path fill="#2fb7a3" d="M188.5 132.1L182.2 135.1L182.7 133L189 129.8z"/>
<path fill="#36b99f" d="M194.7 128.8L188.5 132.1L189 129.8L195.3 126.4z"/>
<path fill="#40ba99" d="M201 125.1L194.7 128.8L195.3 126.4L201.6 122.7z"/>
<path fill="#4cbc92" d="M207.3 121.1L201 125.1L201.6 122.7L207.8 118.7z"/>
<path fill="#64be86" d="M213.6 116.8L207.3 121.1L207.8 118.7L214.1 114.2z"/>
<path fill="#1db3af" d="M150.3 141.3L144 142.1L144.5 139.7L150.8 139.1z"/>
<path fill="#1fb3ad" d="M156.6 140.8L150.3 141.3L150.8 139.1L157.1 138.5z"/>
<path fill="#21b4ac" d="M162.8 140.3L156.6 140.8L157.1 138.5L163.4 138.1z"/>
<path fill="#23b4ab" d="M169.1 140L162.8 140.3L163.4 138.1L169.6 137.9z"/>
<path fill="#24b5aa" d="M175.4 139.8L169.1 140L169.6 137.9L175.9 137.8z"/>
<path fill="#27b5a8" d="M181.7 137.3L175.4 139.8L175.9 137.8L182.2 135.1z"/>
<path fill="#2db7a5" d="M187.9 134.4L181.7 137.3L182.2 135.1L188.5 132.1z"/>
<path fill="#33b8a0" d="M194.2 131.1L187.9 134.4L188.5 132.1L194.7 128.8z"/>
<path fill="#3cba9c" d="M200.5 127.5L194.2 131.1L194.7 128.8L201 125.1z"/>
<path fill="#48bb94" d="M206.8 123.6L200.5 127.5L201 125.1L207.3 121.1z"/>
<path fill="#58bd8c" d="M213 119.4L206.8 123.6L207.3 121.1L213.6 116.8z"/>
<path fill="#1bb2b0" d="M149.7 143.6L143.5 144.4L144 142.1L150.3 141.3z"/>
<path fill="#1db3af" d="M156 143L149.7 143.6L150.3 141.3L156.6 140.8z"/>
<path fill="#1fb3ae" d="M162.3 142.5L156 143L156.6 140.8L162.8 140.3z"/>
<path fill="#21b4ac" d="M168.6 142.1L162.3 142.5L162.8 140.3L169.1 140z"/>
<path fill="#22b4ab" d="M174.9 141.9L168.6 142.1L169.1 140L175.4 139.8z"/>
<path fill="#25b5a9" d="M181.1 139.4L174.9 141.9L175.4 139.8L181.7 137.3z"/>
<path fill="#2bb6a6" d="M187.4 136.6L181.1 139.4L181.7 137.3L187.9 134.4z"/>
<path fill="#31b8a2" d="M193.7 133.4L187.4 136.6L187.9 134.4L194.2 131.1z"/>
<path fill="#38b99e" d="M200 129.9L193.7 133.4L194.2 131.1L200.5 127.5z"/>
<path fill="#44bb97" d="M206.2 126.1L200 129.9L200.5 127.5L206.8 123.6z"/>
<path fill="#51bd8f" d="M212.5 122L206.2 126.1L206.8 123.6L213 119.4z"/>
<path fill="#19b2b1" d="M149.2 145.9L142.9 146.7L143.5 144.4L149.7 143.6z"/>
<path fill="#1bb2b0" d="M155.5 145.2L149.2 145.9L149.7 143.6L156 143z"/>
<path fill="#1db3af" d="M161.8 144.6L155.5 145.2L156 143L162.3 142.5z"/>
<path fill="#1fb3ae" d="M168 144.2L161.8 144.6L162.3 142.5L168.6 142.1z"/>
<path fill="#21b4ac" d="M174.3 143.9L168 144.2L168.6 142.1L174.9 141.9z"/>
<path fill="#24b5aa" d="M180.6 141.6L174.3 143.9L174.9 141.9L181.1 139.4z"/>
<path fill="#29b6a7" d="M186.9 138.9L180.6 141.6L181.1 139.4L187.4 136.6z"/>
<path fill="#2fb7a3" d="M193.2 135.8L186.9 138.9L187.4 136.6L193.7 133.4z"/>
<path fill="#36b89f" d="M199.4 132.4L193.2 135.8L193.7 133.4L200 129.9z"/>
<path fill="#3fba99" d="M205.7 128.6L199.4 132.4L200 129.9L206.2 126.1z"/>
<path fill="#4cbc92" d="M212 124.6L205.7 128.6L206.2 126.1L212.5 122z"/>
<path fill="#17b1b3" d="M148.7 148.2L142.4 149.1L142.9 146.7L149.2 145.9z"/>
<path fill="#1ab2b1" d="M155 147.4L148.7 148.2L149.2 145.9L155.5 145.2z"/>
<path fill="#1bb2b0" d="M161.2 146.8L155 147.4L155.5 145.2L161.8 144.6z"/>
<path fill="#1db3af" d="M167.5 146.3L161.2 146.8L161.8 144.6L168 144.2z"/>
<path fill="#1fb3ae" d="M173.8 146L167.5 146.3L168 144.2L174.3 143.9z"/>
<path fill="#22b4ac" d="M180.1 143.8L173.8 146L174.3 143.9L180.6 141.6z"/>
<path fill="#27b5a8" d="M186.3 141.2L180.1 143.8L180.6 141.6L186.9 138.9z"/>
<path fill="#2cb7a5" d="M192.6 138.2L186.3 141.2L186.9 138.9L193.2 135.8z"/>
<path fill="#33b8a1" d="M198.9 134.8L192.6 138.2L193.2 135.8L199.4 132.4z"/>
<path fill="#3bb99c" d="M205.2 131.2L198.9 134.8L199.4 132.4L205.7 128.6z"/>
<path fill="#48bb95" d="M211.4 127.2L205.2 131.2L205.7 128.6L212 124.6z"/>
<path fill="#16b1b4" d="M148.2 150.4L141.9 151.4L142.4 149.1L148.7 148.2z"/>
<path fill="#18b1b3" d="M154.4 149.6L148.2 150.4L148.7 148.2L155 147.4z"/>
<path fill="#1ab2b1" d="M160.7 149L154.4 149.6L155 147.4L161.2 146.8z"/>
<path fill="#1cb2b0" d="M167 148.4L160.7 149L161.2 146.8L167.5 146.3z"/>
<path fill="#1db3af" d="M173.3 148.1L167 148.4L167.5 146.3L173.8 146z"/>
<path fill="#20b4ad" d="M179.5 145.9L173.3 148.1L173.8 146L180.1 143.8z"/>
<path fill="#25b5aa" d="M185.8 143.4L179.5 145.9L180.1 143.8L186.3 141.2z"/>
<path fill="#2ab6a6" d="M192.1 140.6L185.8 143.4L186.3 141.2L192.6 138.2z"/>
<path fill="#30b7a2" d="M198.4 137.3L192.1 140.6L192.6 138.2L198.9 134.8z"/>
<path fill="#38b99e" d="M204.6 133.7L198.4 137.3L198.9 134.8L205.2 131.2z"/>
<path fill="#43bb97" d="M210.9 129.8L204.6 133.7L205.2 131.2L211.4 127.2z"/>
<path fill="#14b0b5" d="M147.6 152.7L143.5 153.4L141.6 152.7L141.9 151.4L148.2 150.4z"/>
<path fill="#16b1b4" d="M153.9 151.9L147.6 152.7L148.2 150.4L154.4 149.6z"/>
<path fill="#18b1b2" d="M160.2 151.1L153.9 151.9L154.4 149.6L160.7 149z"/>
<path fill="#1ab2b1" d="M166.5 150.6L160.2 151.1L160.7 149L167 148.4z"/>
<path fill="#1cb2b0" d="M172.7 150.1L166.5 150.6L167 148.4L173.3 148.1z"/>
<path fill="#1eb3ae" d="M179 148.1L172.7 150.1L173.3 148.1L179.5 145.9z"/>
<path fill="#23b4ab" d="M185.3 145.7L179 148.1L179.5 145.9L185.8 143.4z"/>
<path fill="#28b6a8" d="M191.6 142.9L185.3 145.7L185.8 143.4L192.1 140.6z"/>
<path fill="#2eb7a4" d="M197.8 139.8L191.6 142.9L192.1 140.6L198.4 137.3z"/>
<path fill="#35b8a0" d="M204.1 136.3L197.8 139.8L198.4 137.3L204.6 133.7z"/>
<path fill="#3fba9a" d="M210.4 132.4L204.1 136.3L204.6 133.7L210.9 129.8z"/>
<path fill="#12b0b6" d="M143.5 153.4L147.6 152.7L147.2 154.6z"/>
<path fill="#14b0b5" d="M153.4 154.1L147.9 154.9L147.2 154.6L147.6 152.7L153.9 151.9z"/>
<path fill="#16b1b3" d="M159.6 153.3L153.4 154.1L153.9 151.9L160.2 151.1z"/>
<path fill="#18b1b2" d="M165.9 152.7L159.6 153.3L160.2 151.1L166.5 150.6z"/>
<path fill="#1ab2b1" d="M172.2 152.2L165.9 152.7L166.5 150.6L172.7 150.1z"/>
<path fill="#1db3af" d="M178.5 150.3L172.2 152.2L172.7 150.1L179 148.1z"/>
<path fill="#21b4ac" d="M184.7 148L178.5 150.3L179 148.1L185.3 145.7z"/>
<path fill="#26b5a9" d="M191 145.3L184.7 148L185.3 145.7L191.6 142.9z"/>
<path fill="#2bb6a5" d="M197.3 142.3L191 145.3L191.6 142.9L197.8 139.8z"/>
<path fill="#32b8a1" d="M203.6 138.8L197.3 142.3L197.8 139.8L204.1 136.3z"/>
<path fill="#3ab99c" d="M209.9 135L203.6 138.8L204.1 136.3L210.4 132.4z"/>
<path fill="#13b0b6" d="M152.8 156.3L152.3 156.4L147.9 154.9L153.4 154.1z"/>
<path fill="#15b0b5" d="M159.1 155.5L152.8 156.3L153.4 154.1L159.6 153.3z"/>
<path fill="#17b1b3" d="M165.4 154.8L159.1 155.5L159.6 153.3L165.9 152.7z"/>
<path fill="#18b2b2" d="M171.7 154.2L165.4 154.8L165.9 152.7L172.2 152.2z"/>
<path fill="#1bb2b0" d="M177.9 152.4L171.7 154.2L172.2 152.2L178.5 150.3z"/>
<path fill="#1fb3ae" d="M184.2 150.2L177.9 152.4L178.5 150.3L184.7 148z"/>
<path fill="#23b5ab" d="M190.5 147.7L184.2 150.2L184.7 148L191 145.3z"/>
<path fill="#29b6a7" d="M196.8 144.7L190.5 147.7L191 145.3L197.3 142.3z"/>
<path fill="#2fb7a3" d="M203 141.4L196.8 144.7L197.3 142.3L203.6 138.8z"/>
<path fill="#37b99e" d="M209.3 137.7L203 141.4L203.6 138.8L209.9 135z"/>
<path fill="#11afb7" d="M152.3 156.4L152.8 156.3L152.8 156.5z"/>
<path fill="#13b0b6" d="M158.6 157.6L156.8 157.9L152.8 156.5L152.8 156.3L159.1 155.5z"/>
<path fill="#15b1b4" d="M164.9 156.9L158.6 157.6L159.1 155.5L165.4 154.8z"/>
<path fill="#17b1b3" d="M171.1 156.3L164.9 156.9L165.4 154.8L171.7 154.2z"/>
<path fill="#19b2b1" d="M177.4 154.6L171.1 156.3L171.7 154.2L177.9 152.4z"/>
<path fill="#1db3af" d="M183.7 152.5L177.4 154.6L177.9 152.4L184.2 150.2z"/>
<path fill="#21b4ac" d="M190 150L183.7 152.5L184.2 150.2L190.5 147.7z"/>
<path fill="#27b5a9" d="M196.2 147.2L190 150L190.5 147.7L196.8 144.7z"/>
<path fill="#2db7a5" d="M202.5 144L196.2 147.2L196.8 144.7L203 141.4z"/>
<path fill="#34b8a0" d="M208.8 140.4L202.5 144L203 141.4L209.3 137.7z"/>
<path fill="#12afb7" d="M156.8 157.9L158.6 157.6L158.4 158.5z"/>
<path fill="#14b0b5" d="M164.3 159L161.2 159.4L158.4 158.5L158.6 157.6L164.9 156.9z"/>
<path fill="#15b1b4" d="M170.6 158.4L164.3 159L164.9 156.9L171.1 156.3z"/>
<path fill="#18b1b2" d="M176.9 156.7L170.6 158.4L171.1 156.3L177.4 154.6z"/>
<path fill="#1bb2b0" d="M183.2 154.8L176.9 156.7L177.4 154.6L183.7 152.5z"/>
<path fill="#1fb4ad" d="M189.4 152.4L183.2 154.8L183.7 152.5L190 150z"/>
<path fill="#24b5aa" d="M195.7 149.7L189.4 152.4L190 150L196.2 147.2z"/>
<path fill="#2ab6a6" d="M202 146.6L195.7 149.7L196.2 147.2L202.5 144z"/>
<path fill="#31b8a2" d="M208.3 143.1L202 146.6L202.5 144L208.8 140.4z"/>
<path fill="#12b0b7" d="M161.2 159.4L164.3 159L164 160.4z"/>
<path fill="#14b0b5" d="M170.1 160.4L165.6 160.9L164 160.4L164.3 159L170.6 158.4z"/>
<path fill="#16b1b4" d="M176.3 158.9L170.1 160.4L170.6 158.4L176.9 156.7z"/>
<path fill="#1ab2b1" d="M182.6 157L176.3 158.9L176.9 156.7L183.2 154.8z"/>
<path fill="#1db3af" d="M188.9 154.8L182.6 157L183.2 154.8L189.4 152.4z"/>
<path fill="#22b4ac" d="M195.2 152.2L188.9 154.8L189.4 152.4L195.7 149.7z"/>
<path fill="#27b6a8" d="M201.5 149.2L195.2 152.2L195.7 149.7L202 146.6z"/>
<path fill="#2eb7a4" d="M207.7 145.8L201.5 149.2L202 146.6L208.3 143.1z"/>
<path fill="#13b0b6" d="M165.6 160.9L170.1 160.4L169.6 162.3z"/>
<path fill="#15b0b5" d="M175.8 161.1L169.8 162.4L169.6 162.3L170.1 160.4L176.3 158.9z"/>
<path fill="#18b1b2" d="M182.1 159.3L175.8 161.1L176.3 158.9L182.6 157z"/>
<path fill="#1bb2b0" d="M188.4 157.2L182.1 159.3L182.6 157L188.9 154.8z"/>
<path fill="#20b4ad" d="M194.6 154.7L188.4 157.2L188.9 154.8L195.2 152.2z"/>
<path fill="#25b5aa" d="M200.9 151.8L194.6 154.7L195.2 152.2L201.5 149.2z"/>
<path fill="#2bb6a6" d="M207.2 148.5L200.9 151.8L201.5 149.2L207.7 145.8z"/>
<path fill="#13b0b6" d="M175.3 163.2L172.8 163.7L169.8 162.4L175.8 161.1z"/>
<path fill="#16b1b4" d="M181.6 161.6L175.3 163.2L175.8 161.1L182.1 159.3z"/>
<path fill="#1ab2b1" d="M187.8 159.5L181.6 161.6L182.1 159.3L188.4 157.2z"/>
<path fill="#1eb3ae" d="M194.1 157.1L187.8 159.5L188.4 157.2L194.6 154.7z"/>
<path fill="#22b4ab" d="M200.4 154.4L194.1 157.1L194.6 154.7L200.9 151.8z"/>
<path fill="#28b6a7" d="M206.7 151.2L200.4 154.4L200.9 151.8L207.2 148.5z"/>
<path fill="#12afb7" d="M172.8 163.7L175.3 163.2L174.9 164.6z"/>
<path fill="#15b0b5" d="M181 163.8L175.9 165.1L174.9 164.6L175.3 163.2L181.6 161.6z"/>
<path fill="#18b1b3" d="M187.3 161.9L181 163.8L181.6 161.6L187.8 159.5z"/>
<path fill="#1cb2b0" d="M193.6 159.6L187.3 161.9L187.8 159.5L194.1 157.1z"/>
<path fill="#20b4ad" d="M199.9 156.9L193.6 159.6L194.1 157.1L200.4 154.4z"/>
<path fill="#25b5a9" d="M206.1 153.9L199.9 156.9L200.4 154.4L206.7 151.2z"/>
<path fill="#13b0b6" d="M180.5 166.1L179 166.5L175.9 165.1L181 163.8z"/>
<path fill="#16b1b4" d="M186.8 164.3L180.5 166.1L181 163.8L187.3 161.9z"/>
<path fill="#1ab2b1" d="M193.1 162.1L186.8 164.3L187.3 161.9L193.6 159.6z"/>
<path fill="#1eb3ae" d="M199.3 159.5L193.1 162.1L193.6 159.6L199.9 156.9z"/>
<path fill="#23b4ab" d="M205.6 156.6L199.3 159.5L199.9 156.9L206.1 153.9z"/>
<path fill="#12afb7" d="M179 166.5L180.5 166.1L180.3 167z"/>
<path fill="#14b0b5" d="M186.2 166.7L182 167.8L180.3 167L180.5 166.1L186.8 164.3z"/>
<path fill="#18b1b3" d="M192.5 164.6L186.2 166.7L186.8 164.3L193.1 162.1z"/>
<path fill="#1cb2b0" d="M198.8 162.1L192.5 164.6L193.1 162.1L199.3 159.5z"/>
<path fill="#20b4ad" d="M205.1 159.3L198.8 162.1L199.3 159.5L205.6 156.6z"/>
<path fill="#13b0b6" d="M185.7 169L185.2 169.2L182 167.8L186.2 166.7z"/>
<path fill="#16b1b4" d="M192 167.1L185.7 169L186.2 166.7L192.5 164.6z"/>
<path fill="#19b2b1" d="M198.3 164.7L192 167.1L192.5 164.6L198.8 162.1z"/>
<path fill="#1eb3ae" d="M204.5 162L198.3 164.7L198.8 162.1L205.1 159.3z"/>
<path fill="#11afb8" d="M185.2 169.2L185.7 169L185.6 169.4z"/>
<path fill="#14b0b5" d="M191.5 169.5L188.2 170.5L185.6 169.4L185.7 169L192 167.1z"/>
<path fill="#17b1b3" d="M197.7 167.3L191.5 169.5L192 167.1L198.3 164.7z"/>
<path fill="#1bb2b0" d="M204 164.7L197.7 167.3L198.3 164.7L204.5 162z"/>
<path fill="#12afb7" d="M188.2 170.5L191.5 169.5L191 171.7z"/>
<path fill="#15b1b4" d="M197.2 169.9L191.3 171.9L191 171.7L191.5 169.5L197.7 167.3z"/>
<path fill="#19b2b1" d="M203.5 167.4L197.2 169.9L197.7 167.3L204 164.7z"/>
<path fill="#13b0b6" d="M196.7 172.5L194.3 173.2L191.3 171.9L197.2 169.9z"/>
<path fill="#17b1b3" d="M202.9 170.1L196.7 172.5L197.2 169.9L203.5 167.4z"/>
<path fill="#11afb7" d="M194.3 173.2L196.7 172.5L196.3 174.1z"/>
<path fill="#15b0b5" d="M202.4 172.8L197.5 174.6L196.3 174.1L196.7 172.5L202.9 170.1z"/>
<path fill="#13b0b6" d="M201.9 175.5L200.5 175.9L197.5 174.6L202.4 172.8z"/>
<path fill="#11afb8" d="M200.5 175.9L201.9 175.5L201.7 176.4z"/>
</g>
<path d="M202.1 174.4h0M203.1 169.3h0M204.1 164.2h0M205.1 159.2h0M206.1 154.1h0M207.1 149h0M208.1 144h0M209.1 138.9h0M210.1 133.9h0M211.1 129h0M212.1 124.1h0M213.1 119.2h0M214.1 114.3h0M215.1 109.9h0M216.1 105.7h0M217.1 101.5h0M218.1 97.3h0M219.1 93.1h0M220.1 88.9h0M221.1 84.7h0M222.1 80.1h0M223.1 75.6h0M224.1 71.1h0M225.1 66.6h0M226.1 62.1h0M196.8 171.7h0M197.8 166.9h0M198.8 162h0M199.8 157.2h0M200.8 152.3h0M201.8 147.4h0M202.8 142.6h0M203.8 137.7h0M204.8 132.9h0M205.8 128.1h0M206.8 123.4h0M207.8 118.8h0M208.8 114.1h0M209.8 109.7h0M210.8 105.6h0M211.8 101.5h0M212.8 97.4h0M213.8 93.1h0M214.8 88.5h0M215.8 83.9h0M216.8 79h0M217.8 74.1h0M191.5 169.1h0M192.5 164.5h0M193.5 159.8h0M194.5 155.2h0M195.5 150.5h0M196.5 145.8h0M197.5 141.2h0M198.5 136.5h0M199.5 131.9h0M200.5 127.3h0M201.5 122.8h0M202.5 118.3h0M203.5 113.8h0M204.5 109.6h0M205.5 105.6h0M206.5 101.6h0M207.5 97.6h0M208.5 93.2h0M209.5 88.1h0M210.5 83.1h0M186.3 166.6h0M187.3 162.1h0M188.3 157.6h0M189.3 153.2h0M190.3 148.7h0M191.3 144.3h0M192.3 139.8h0M193.3 135.3h0M194.3 130.9h0M195.3 126.5h0M196.3 122.2h0M197.3 117.9h0M198.3 113.6h0M199.2 109.5h0M200.2 105.6h0M201.2 101.6h0M202.2 97.7h0M203.2 93.2h0M204.2 87.7h0M181 164h0M182 159.8h0M183 155.5h0M184 151.2h0M185 147h0M186 142.7h0M187 138.4h0M188 134.2h0M189 129.9h0M190 125.7h0M191 121.5h0M192 117.4h0M193 113.3h0M194 109.4h0M195 105.6h0M196 101.7h0M197 97.9h0M198 93.2h0M175.7 161.5h0M176.7 157.4h0M177.7 153.4h0M178.7 149.3h0M179.7 145.2h0M180.7 141.2h0M181.7 137.1h0M182.7 133h0M183.7 129h0M184.7 124.9h0M185.7 120.9h0M186.7 117h0M187.7 113.1h0M188.7 109.3h0M189.7 105.6h0M190.7 101.8h0M191.7 98h0M170.4 159h0M171.4 155.1h0M172.4 151.3h0M173.4 147.4h0M174.4 143.5h0M175.4 139.7h0M176.4 135.8h0M177.4 131.9h0M178.4 128h0M179.4 124.2h0M180.4 120.3h0M181.4 116.6h0M182.4 112.9h0M183.4 109.2h0M184.4 105.5h0M164.2 159.7h0M165.2 155.7h0M166.2 151.7h0M167.2 147.8h0M168.2 143.8h0M169.2 139.8h0M170.1 135.9h0M171.1 131.9h0M172.1 127.9h0M173.1 124h0M174.1 120.4h0M175.1 116.7h0M176.1 113.2h0M177.1 109.6h0M158.9 156.4h0M159.9 152.4h0M160.9 148.3h0M161.9 144.2h0M162.9 140.1h0M163.9 136.1h0M164.9 132h0M165.9 127.9h0M166.9 123.8h0M167.9 120.1h0" stroke="#000" stroke-width="2.6" stroke-linecap="round" fill="none"/>
<path d="M185.4 101.9h0M186.4 98.2h0M187.4 93.3h0M188.4 86.6h0M189.4 79.9h0M178.1 106.1h0M179.1 102.5h0M180.1 99h0M181.1 95.5h0M182.1 90.2h0M183.1 84.3h0M184.1 78.4h0M185.1 72.4h0M186.1 66.6h0M168.9 116.6h0M169.9 113.2h0M170.9 109.8h0M171.9 106.4h0M172.9 103h0M173.9 99.6h0M174.9 96.3h0M175.9 92.6h0M176.9 87.6h0M177.9 82.4h0M178.9 77.2h0M179.9 72.1h0M180.9 66.8h0M181.8 60.1h0M153.6 153.1h0M154.6 148.9h0M155.6 144.8h0M156.6 140.6h0M157.6 136.4h0M158.6 132.2h0M159.6 128h0M160.6 123.9h0M161.6 119.8h0M162.6 116.4h0M163.6 113.1h0M164.6 109.8h0M165.6 106.6h0M166.6 103.3h0M167.6 100.1h0M168.6 96.8h0M169.6 93.6h0M170.6 89.9h0M171.6 85.5h0M172.6 81h0M173.6 76.6h0M174.6 72.2h0M175.6 66.7h0M176.6 59.2h0M147.3 154h0M148.3 149.7h0M149.3 145.4h0M150.3 141.2h0M151.3 136.9h0M152.3 132.6h0M153.3 128.3h0M154.3 124h0M155.3 119.8h0M156.3 115.8h0M157.3 112.7h0M158.3 109.6h0M159.3 106.5h0M160.3 103.4h0M161.3 100.3h0M162.3 97.2h0M163.3 94.1h0M164.3 91h0M165.3 87.5h0M166.3 83.8h0M167.3 80.1h0M168.3 76.4h0M169.3 72.8h0M170.3 66.3h0M171.3 57.8h0M142 150.6h0M143 146.3h0M144 141.9h0M145 137.5h0M146 133.1h0M147 128.7h0M148 124.4h0M149 120h0M150 115.6h0M151 112.1h0M152 109.2h0M153 106.2h0M154 103.3h0M155 100.4h0M156 97.4h0M157 94.5h0M158 91.5h0M159 88.6h0M160 85.6h0M161 82.7h0M162 79.7h0M163 76.7h0M164 73h0M165 65.6h0M166 54.2h0" stroke="#ff0" stroke-width="2.4" stroke-linecap="round" fill="none"/>
<path d="M173.5 60.8l-2 3.4h4z" fill="#f0f"/>
<path d="M41.9 166.3L207.6 185.7M207.6 185.7L250.1 111.2M41.9 166.3L41.9 93.2M207.6 185.7L206 188.6M180 182.5L178.3 185.3M152.4 179.2L150.7 182.1M124.8 176L123.1 178.9M97.1 172.8L95.5 175.6M69.5 169.5L67.9 172.4M41.9 166.3L40.3 169.2M207.6 185.7L210.9 186.1M216.1 170.8L219.4 171.2M224.6 155.9L227.9 156.3M233.1 141L236.4 141.4M241.6 126.1L244.9 126.5M250.1 111.2L253.4 111.6M41.9 166.3L37.5 166.8M41.9 154.1L37.5 154.6M41.9 141.9L37.5 142.4M41.9 129.8L37.5 130.2M41.9 117.6L37.5 118.1M41.9 105.4L37.5 105.9M41.9 93.2L37.5 93.7" stroke="#8a8a8a" stroke-width="0.9" fill="none"/>
<g font-family="Liberation Sans, Arial, sans-serif" font-size="8.6" fill="#333"><text x="34.5" y="168.8" text-anchor="end">500</text>
<text x="34.5" y="156.6" text-anchor="end">550</text>
<text x="34.5" y="144.4" text-anchor="end">600</text>
<text x="34.5" y="132.2" text-anchor="end">650</text>
<text x="34.5" y="120.1" text-anchor="end">700</text>
<text x="34.5" y="107.9" text-anchor="end">750</text>
<text x="34.5" y="95.7" text-anchor="end">800</text>
<text x="204.5" y="198.2" text-anchor="end">0</text>
<text x="176.9" y="195" text-anchor="end">0.5</text>
<text x="149.3" y="191.7" text-anchor="end">1</text>
<text x="121.7" y="188.5" text-anchor="end">1.5</text>
<text x="94" y="185.3" text-anchor="end">2</text>
<text x="66.4" y="182" text-anchor="end">2.5</text>
<text x="38.8" y="178.8" text-anchor="end">3</text>
<text x="215" y="192.5" text-anchor="start">0.02</text>
<text x="223.5" y="177.6" text-anchor="start">0.07</text>
<text x="232" y="162.7" text-anchor="start">0.12</text>
<text x="240.5" y="147.8" text-anchor="start">0.17</text>
<text x="249" y="132.9" text-anchor="start">0.22</text>
<text x="257.5" y="118" text-anchor="start">0.27</text>
<text x="132.5" y="202" text-anchor="middle" font-size="9.1">S/C</text>
<text x="257.5" y="187.8" text-anchor="middle" font-size="9.1">O/C</text>
<text transform="translate(17 129.7) rotate(-90)" text-anchor="middle" font-size="9.1">Temperature [°C]</text></g>
<text x="145.6" y="17.1" text-anchor="middle" font-family="Liberation Sans, Arial, sans-serif" font-weight="bold" font-size="9.4" fill="#111">Methane</text>
<text x="141.8" y="220.7" text-anchor="middle" font-family="Liberation Serif, Times New Roman, serif" font-size="16.5" fill="#111">(<tspan font-weight="bold">a</tspan>)</text>
</g>
<g>
<path d="M479.2 184.4L522.4 110.4M522.4 110.4L522.4 36.1M450.9 181.2L494.1 107.2M494.1 107.2L494.1 33M422.7 178.1L465.9 104.1M465.9 104.1L465.9 29.8M394.4 174.9L437.6 100.9M437.6 100.9L437.6 26.6M366.1 171.8L409.3 97.8M409.3 97.8L409.3 23.5M337.9 168.7L381.1 94.7M381.1 94.7L381.1 20.4M309.6 165.5L352.8 91.5M352.8 91.5L352.8 17.2M479.2 184.4L309.6 165.5M309.6 165.5L309.6 91.2M490 165.9L320.4 147M320.4 147L320.4 72.7M500.8 147.4L331.2 128.5M331.2 128.5L331.2 54.2M511.6 128.9L342 110M342 110L342 35.7M522.4 110.4L352.8 91.5M352.8 91.5L352.8 17.2M309.6 165.5L352.8 91.5M352.8 91.5L522.4 110.4M309.6 153.1L352.8 79.1M352.8 79.1L522.4 98M309.6 140.7L352.8 66.7M352.8 66.7L522.4 85.6M309.6 128.3L352.8 54.4M352.8 54.4L522.4 73.2M309.6 116L352.8 42M352.8 42L522.4 60.9M309.6 103.6L352.8 29.6M352.8 29.6L522.4 48.5M309.6 91.2L352.8 17.2M352.8 17.2L522.4 36.1" stroke="#eeeeee" stroke-width="0.6" fill="none"/>
<g stroke="#000" stroke-width="0.4" stroke-opacity="0.8" stroke-linejoin="round">
<path fill="#f7ba45" d="M421 33.1L419.3 32.5L421.1 32.6z"/>
<path fill="#f1b949" d="M427.6 35.4L421 33.1L421.1 32.6L428.3 32.3z"/>
<path fill="#f2b949" d="M434.2 34.2L427.6 35.4L428.3 32.3L434.2 34.2z"/>
<path fill="#95bf71" d="M354.2 40.8L347.6 39.8L348 25.4L354.6 26.1z"/>
<path fill="#94bf72" d="M360.8 41.8L354.2 40.8L354.6 26.1L361.2 26.8z"/>
<path fill="#92bf72" d="M367.4 42.8L360.8 41.8L361.2 26.8L367.9 27.5z"/>
<path fill="#90bf73" d="M374 43.8L367.4 42.8L367.9 27.5L374.5 28.2z"/>
<path fill="#8fbf74" d="M380.6 44.8L374 43.8L374.5 28.2L381.1 28.8z"/>
<path fill="#8dbf74" d="M387.2 45.8L380.6 44.8L381.1 28.8L387.8 29.5z"/>
<path fill="#8cbf75" d="M393.8 46.8L387.2 45.8L387.8 29.5L394.4 30.1z"/>
<path fill="#8abf76" d="M400.4 47.8L393.8 46.8L394.4 30.1L401.1 30.8z"/>
<path fill="#88bf76" d="M407 48.8L400.4 47.8L401.1 30.8L407.7 31.4z"/>
<path fill="#87bf77" d="M413.6 49.8L407 48.8L407.7 31.4L414.4 32z"/>
<path fill="#85bf78" d="M420.2 50.8L413.6 49.8L414.4 32L419.3 32.5L421 33.1z"/>
<path fill="#83bf79" d="M426.8 51.8L420.2 50.8L421 33.1L427.6 35.4z"/>
<path fill="#adbe68" d="M433.4 40.3L426.8 51.8L427.6 35.4L434.2 34.2z"/>
<path fill="#f1b94a" d="M437.9 36.1L433.4 40.3L434.2 34.2L434.2 34.2z"/>
<path fill="#30b7a3" d="M353.3 57.3L346.8 57L347.6 39.8L354.2 40.8z"/>
<path fill="#32b8a1" d="M359.9 57.6L353.3 57.3L354.2 40.8L360.8 41.8z"/>
<path fill="#35b8a0" d="M366.5 57.9L359.9 57.6L360.8 41.8L367.4 42.8z"/>
<path fill="#37b99e" d="M373.1 58.2L366.5 57.9L367.4 42.8L374 43.8z"/>
<path fill="#3ab99c" d="M379.7 58.5L373.1 58.2L374 43.8L380.6 44.8z"/>
<path fill="#3dba9b" d="M386.3 58.8L379.7 58.5L380.6 44.8L387.2 45.8z"/>
<path fill="#3fba99" d="M392.9 59.1L386.3 58.8L387.2 45.8L393.8 46.8z"/>
<path fill="#42bb98" d="M399.5 59.4L392.9 59.1L393.8 46.8L400.4 47.8z"/>
<path fill="#45bb96" d="M406.1 59.7L399.5 59.4L400.4 47.8L407 48.8z"/>
<path fill="#48bb94" d="M412.7 60L406.1 59.7L407 48.8L413.6 49.8z"/>
<path fill="#4bbc93" d="M419.3 60.3L412.7 60L413.6 49.8L420.2 50.8z"/>
<path fill="#4ebc91" d="M425.9 60.6L419.3 60.3L420.2 50.8L426.8 51.8z"/>
<path fill="#83bf79" d="M432.5 46.5L425.9 60.6L426.8 51.8L433.4 40.3z"/>
<path fill="#d4bb58" d="M439.1 39.9L432.5 46.5L433.4 40.3L437.9 36.1L439.5 37.1z"/>
<path fill="#f9bb44" d="M441.5 38.1L439.1 39.9L439.5 37.1z"/>
<path fill="#0faeb9" d="M352.5 65.2L345.9 65.3L346.8 57L353.3 57.3z"/>
<path fill="#12afb7" d="M359.1 65.2L352.5 65.2L353.3 57.3L359.9 57.6z"/>
<path fill="#15b1b4" d="M365.7 65.1L359.1 65.2L359.9 57.6L366.5 57.9z"/>
<path fill="#19b2b1" d="M372.3 65L365.7 65.1L366.5 57.9L373.1 58.2z"/>
<path fill="#1db3af" d="M378.9 64.9L372.3 65L373.1 58.2L379.7 58.5z"/>
<path fill="#21b4ac" d="M385.5 64.9L378.9 64.9L379.7 58.5L386.3 58.8z"/>
<path fill="#26b5a9" d="M392.1 64.8L385.5 64.9L386.3 58.8L392.9 59.1z"/>
<path fill="#2ab6a6" d="M398.7 64.7L392.1 64.8L392.9 59.1L399.5 59.4z"/>
<path fill="#2fb7a3" d="M405.2 64.6L398.7 64.7L399.5 59.4L406.1 59.7z"/>
<path fill="#34b8a0" d="M411.8 64.6L405.2 64.6L406.1 59.7L412.7 60z"/>
<path fill="#38b99d" d="M418.4 64.5L411.8 64.6L412.7 60L419.3 60.3z"/>
<path fill="#3dba9a" d="M425 64.4L418.4 64.5L419.3 60.3L425.9 60.6z"/>
<path fill="#6bbf83" d="M431.6 52.6L425 64.4L425.9 60.6L432.5 46.5z"/>
<path fill="#b2bd66" d="M438.2 45.6L431.6 52.6L432.5 46.5L439.1 39.9z"/>
<path fill="#e7b94f" d="M444.8 40.1L438.2 45.6L439.1 39.9L441.5 38.1L444.8 40.1z"/>
<path fill="#fdbe3e" d="M444.8 40.1L444.8 40.1L444.8 40.1z"/>
<path fill="#06a7c6" d="M351.6 70.7L345 71L345.9 65.3L352.5 65.2z"/>
<path fill="#07a9c3" d="M358.2 70.5L351.6 70.7L352.5 65.2L359.1 65.2z"/>
<path fill="#08aac0" d="M364.8 70.2L358.2 70.5L359.1 65.2L365.7 65.1z"/>
<path fill="#0aacbd" d="M371.4 70L364.8 70.2L365.7 65.1L372.3 65z"/>
<path fill="#0eaeba" d="M378 69.7L371.4 70L372.3 65L378.9 64.9z"/>
<path fill="#12afb7" d="M384.6 69.5L378 69.7L378.9 64.9L385.5 64.9z"/>
<path fill="#16b1b4" d="M391.2 69.2L384.6 69.5L385.5 64.9L392.1 64.8z"/>
<path fill="#1bb2b0" d="M397.8 69L391.2 69.2L392.1 64.8L398.7 64.7z"/>
<path fill="#20b4ad" d="M404.4 68.7L397.8 69L398.7 64.7L405.2 64.6z"/>
<path fill="#25b5aa" d="M411 68.5L404.4 68.7L405.2 64.6L411.8 64.6z"/>
<path fill="#2ab6a6" d="M417.6 68.2L411 68.5L411.8 64.6L418.4 64.5z"/>
<path fill="#30b7a2" d="M424.2 68L417.6 68.2L418.4 64.5L425 64.4z"/>
<path fill="#53bd8f" d="M430.8 58.8L424.2 68L425 64.4L431.6 52.6z"/>
<path fill="#91bf73" d="M437.4 51.3L430.8 58.8L431.6 52.6L438.2 45.6z"/>
<path fill="#cabb5c" d="M444 45.2L437.4 51.3L438.2 45.6L444.8 40.1z"/>
<path fill="#f2b949" d="M448.6 42.1L444 45.2L444.8 40.1L444.8 40.1z"/>
<path fill="#089bd0" d="M350.8 76.8L344.2 77.4L345 71L351.6 70.7z"/>
<path fill="#069ece" d="M357.4 76.3L350.8 76.8L351.6 70.7L358.2 70.5z"/>
<path fill="#06a2cc" d="M363.9 75.7L357.4 76.3L358.2 70.5L364.8 70.2z"/>
<path fill="#06a5c9" d="M370.5 75.2L363.9 75.7L364.8 70.2L371.4 70z"/>
<path fill="#06a7c5" d="M377.1 74.6L370.5 75.2L371.4 70L378 69.7z"/>
<path fill="#07aac1" d="M383.7 74.1L377.1 74.6L378 69.7L384.6 69.5z"/>
<path fill="#0aacbd" d="M390.3 73.6L383.7 74.1L384.6 69.5L391.2 69.2z"/>
<path fill="#0faeb9" d="M396.9 73L390.3 73.6L391.2 69.2L397.8 69z"/>
<path fill="#14b0b5" d="M403.5 72.5L396.9 73L397.8 69L404.4 68.7z"/>
<path fill="#1ab2b1" d="M410.1 71.9L403.5 72.5L404.4 68.7L411 68.5z"/>
<path fill="#21b4ac" d="M416.7 71.4L410.1 71.9L411 68.5L417.6 68.2z"/>
<path fill="#28b6a8" d="M423.3 70.8L416.7 71.4L417.6 68.2L424.2 68z"/>
<path fill="#42bb98" d="M429.9 64.1L423.3 70.8L424.2 68L430.8 58.8z"/>
<path fill="#77bf7e" d="M436.5 57L429.9 64.1L430.8 58.8L437.4 51.3z"/>
<path fill="#abbe68" d="M443.1 50.4L436.5 57L437.4 51.3L444 45.2z"/>
<path fill="#deba53" d="M449.7 45.3L443.1 50.4L444 45.2L448.6 42.1L450.1 43z"/>
<path fill="#f9bb43" d="M451.7 44L449.7 45.3L450.1 43z"/>
<path fill="#0998d1" d="M349.9 79.3L343.3 79.8L344.2 77.4L350.8 76.8z"/>
<path fill="#079bd0" d="M356.5 78.8L349.9 79.3L350.8 76.8L357.4 76.3z"/>
<path fill="#069fce" d="M363.1 78.3L356.5 78.8L357.4 76.3L363.9 75.7z"/>
<path fill="#06a2cb" d="M369.7 77.8L363.1 78.3L363.9 75.7L370.5 75.2z"/>
<path fill="#06a5c8" d="M376.3 77.3L369.7 77.8L370.5 75.2L377.1 74.6z"/>
<path fill="#06a8c5" d="M382.9 76.8L376.3 77.3L377.1 74.6L383.7 74.1z"/>
<path fill="#08aac1" d="M389.5 76.2L382.9 76.8L383.7 74.1L390.3 73.6z"/>
<path fill="#0bacbd" d="M396.1 75.7L389.5 76.2L390.3 73.6L396.9 73z"/>
<path fill="#0faeb9" d="M402.7 75.2L396.1 75.7L396.9 73L403.5 72.5z"/>
<path fill="#14b0b5" d="M409.3 74.7L402.7 75.2L403.5 72.5L410.1 71.9z"/>
<path fill="#1ab2b1" d="M415.8 74.2L409.3 74.7L410.1 71.9L416.7 71.4z"/>
<path fill="#20b4ad" d="M422.4 73.7L415.8 74.2L416.7 71.4L423.3 70.8z"/>
<path fill="#34b8a0" d="M429 68.5L422.4 73.7L423.3 70.8L429.9 64.1z"/>
<path fill="#5ebe89" d="M435.6 62.4L429 68.5L429.9 64.1L436.5 57z"/>
<path fill="#8fbf74" d="M442.2 55.5L435.6 62.4L436.5 57L443.1 50.4z"/>
<path fill="#c4bc5e" d="M448.8 49.9L442.2 55.5L443.1 50.4L449.7 45.3z"/>
<path fill="#eeb94b" d="M454.7 45.9L448.8 49.9L449.7 45.3L451.7 44z"/>
<path fill="#0a96d1" d="M349 81.8L342.4 82.3L343.3 79.8L349.9 79.3z"/>
<path fill="#0998d1" d="M355.6 81.3L349 81.8L349.9 79.3L356.5 78.8z"/>
<path fill="#079cd0" d="M362.2 80.9L355.6 81.3L356.5 78.8L363.1 78.3z"/>
<path fill="#069fce" d="M368.8 80.4L362.2 80.9L363.1 78.3L369.7 77.8z"/>
<path fill="#06a2cb" d="M375.4 79.9L368.8 80.4L369.7 77.8L376.3 77.3z"/>
<path fill="#06a5c8" d="M382 79.4L375.4 79.9L376.3 77.3L382.9 76.8z"/>
<path fill="#06a8c4" d="M388.6 78.9L382 79.4L382.9 76.8L389.5 76.2z"/>
<path fill="#08aac1" d="M395.2 78.4L388.6 78.9L389.5 76.2L396.1 75.7z"/>
<path fill="#0bacbd" d="M401.8 78L395.2 78.4L396.1 75.7L402.7 75.2z"/>
<path fill="#0faeb9" d="M408.4 77.5L401.8 78L402.7 75.2L409.3 74.7z"/>
<path fill="#14b0b5" d="M415 77L408.4 77.5L409.3 74.7L415.8 74.2z"/>
<path fill="#1ab2b1" d="M421.6 76.5L415 77L415.8 74.2L422.4 73.7z"/>
<path fill="#28b6a8" d="M428.2 73L421.6 76.5L422.4 73.7L429 68.5z"/>
<path fill="#49bc94" d="M434.8 66.9L428.2 73L429 68.5L435.6 62.4z"/>
<path fill="#7abf7c" d="M441.4 60.7L434.8 66.9L435.6 62.4L442.2 55.5z"/>
<path fill="#a9be69" d="M448 54.5L441.4 60.7L442.2 55.5L448.8 49.9z"/>
<path fill="#daba55" d="M454.6 49.7L448 54.5L448.8 49.9L454.7 45.9L455.2 46.3z"/>
<path fill="#f6ba46" d="M457.8 47.8L454.6 49.7L455.2 46.3z"/>
<path fill="#0c94d2" d="M348.2 84.3L341.6 84.8L342.4 82.3L349 81.8z"/>
<path fill="#0a97d1" d="M354.8 83.8L348.2 84.3L349 81.8L355.6 81.3z"/>
<path fill="#0899d1" d="M361.4 83.3L354.8 83.8L355.6 81.3L362.2 80.9z"/>
<path fill="#079dcf" d="M368 82.9L361.4 83.3L362.2 80.9L368.8 80.4z"/>
<path fill="#06a0cd" d="M374.5 82.4L368 82.9L368.8 80.4L375.4 79.9z"/>
<path fill="#06a3ca" d="M381.1 81.9L374.5 82.4L375.4 79.9L382 79.4z"/>
<path fill="#06a6c7" d="M387.7 81.4L381.1 81.9L382 79.4L388.6 78.9z"/>
<path fill="#06a8c4" d="M394.3 80.9L387.7 81.4L388.6 78.9L395.2 78.4z"/>
<path fill="#08aac0" d="M400.9 80.4L394.3 80.9L395.2 78.4L401.8 78z"/>
<path fill="#0badbc" d="M407.5 79.9L400.9 80.4L401.8 78L408.4 77.5z"/>
<path fill="#10afb8" d="M414.1 79.5L407.5 79.9L408.4 77.5L415 77z"/>
<path fill="#15b1b4" d="M420.7 79L414.1 79.5L415 77L421.6 76.5z"/>
<path fill="#1fb3ae" d="M427.3 77L420.7 79L421.6 76.5L428.2 73z"/>
<path fill="#38b99e" d="M433.9 71.4L427.3 77L428.2 73L434.8 66.9z"/>
<path fill="#64be86" d="M440.5 65.3L433.9 71.4L434.8 66.9L441.4 60.7z"/>
<path fill="#92bf72" d="M447.1 59.1L440.5 65.3L441.4 60.7L448 54.5z"/>
<path fill="#c3bc5f" d="M453.7 54.1L447.1 59.1L448 54.5L454.6 49.7z"/>
<path fill="#ebb94d" d="M460.3 49.9L453.7 54.1L454.6 49.7L457.8 47.8L460.4 49.5z"/>
<path fill="#fbbc40" d="M460.7 49.7L460.3 49.9L460.4 49.5z"/>
<path fill="#0d92d2" d="M347.3 86.8L340.7 87.3L341.6 84.8L348.2 84.3z"/>
<path fill="#0b95d2" d="M353.9 86.3L347.3 86.8L348.2 84.3L354.8 83.8z"/>
<path fill="#0a97d1" d="M360.5 85.8L353.9 86.3L354.8 83.8L361.4 83.3z"/>
<path fill="#089ad1" d="M367.1 85.3L360.5 85.8L361.4 83.3L368 82.9z"/>
<path fill="#079dcf" d="M373.7 84.8L367.1 85.3L368 82.9L374.5 82.4z"/>
<path fill="#06a1cd" d="M380.3 84.4L373.7 84.8L374.5 82.4L381.1 81.9z"/>
<path fill="#06a4ca" d="M386.9 83.9L380.3 84.4L381.1 81.9L387.7 81.4z"/>
<path fill="#06a6c7" d="M393.5 83.4L386.9 83.9L387.7 81.4L394.3 80.9z"/>
<path fill="#07a9c3" d="M400.1 82.9L393.5 83.4L394.3 80.9L400.9 80.4z"/>
<path fill="#09abbf" d="M406.7 82.4L400.1 82.9L400.9 80.4L407.5 79.9z"/>
<path fill="#0cadbb" d="M413.3 81.9L406.7 82.4L407.5 79.9L414.1 79.5z"/>
<path fill="#11afb7" d="M419.9 81.5L413.3 81.9L414.1 79.5L420.7 79z"/>
<path fill="#1ab2b1" d="M426.4 79.5L419.9 81.5L420.7 79L427.3 77z"/>
<path fill="#2cb7a5" d="M433 75.9L426.4 79.5L427.3 77L433.9 71.4z"/>
<path fill="#4fbc91" d="M439.6 69.8L433 75.9L433.9 71.4L440.5 65.3z"/>
<path fill="#7fbf7a" d="M446.2 63.6L439.6 69.8L440.5 65.3L447.1 59.1z"/>
<path fill="#abbe68" d="M452.8 58.4L446.2 63.6L447.1 59.1L453.7 54.1z"/>
<path fill="#d7ba57" d="M459.4 54L452.8 58.4L453.7 54.1L460.3 49.9z"/>
<path fill="#f3ba48" d="M463.9 51.6L459.4 54L460.3 49.9L460.7 49.7z"/>
<path fill="#0f90d2" d="M346.4 89.3L339.8 89.7L340.7 87.3L347.3 86.8z"/>
<path fill="#0d93d2" d="M353 88.8L346.4 89.3L347.3 86.8L353.9 86.3z"/>
<path fill="#0b95d2" d="M359.6 88.3L353 88.8L353.9 86.3L360.5 85.8z"/>
<path fill="#0997d1" d="M366.2 87.8L359.6 88.3L360.5 85.8L367.1 85.3z"/>
<path fill="#089ad0" d="M372.8 87.3L366.2 87.8L367.1 85.3L373.7 84.8z"/>
<path fill="#079ecf" d="M379.4 86.8L372.8 87.3L373.7 84.8L380.3 84.4z"/>
<path fill="#06a1cc" d="M386 86.3L379.4 86.8L380.3 84.4L386.9 83.9z"/>
<path fill="#06a4c9" d="M392.6 85.9L386 86.3L386.9 83.9L393.5 83.4z"/>
<path fill="#06a7c6" d="M399.2 85.4L392.6 85.9L393.5 83.4L400.1 82.9z"/>
<path fill="#07a9c3" d="M405.8 84.9L399.2 85.4L400.1 82.9L406.7 82.4z"/>
<path fill="#09abbf" d="M412.4 84.4L405.8 84.9L406.7 82.4L413.3 81.9z"/>
<path fill="#0dadbb" d="M419 83.9L412.4 84.4L413.3 81.9L419.9 81.5z"/>
<path fill="#15b0b5" d="M425.6 82L419 83.9L419.9 81.5L426.4 79.5z"/>
<path fill="#25b5a9" d="M432.2 78.8L425.6 82L426.4 79.5L433 75.9z"/>
<path fill="#40ba99" d="M438.8 74.4L432.2 78.8L433 75.9L439.6 69.8z"/>
<path fill="#6abe84" d="M445.4 68.2L438.8 74.4L439.6 69.8L446.2 63.6z"/>
<path fill="#95bf71" d="M452 62.8L445.4 68.2L446.2 63.6L452.8 58.4z"/>
<path fill="#c2bc5f" d="M458.6 58.1L452 62.8L452.8 58.4L459.4 54z"/>
<path fill="#e7b94f" d="M465.2 54.3L458.6 58.1L459.4 54L463.9 51.6L465.5 52.8z"/>
<path fill="#f9bb43" d="M466.9 53.6L465.2 54.3L465.5 52.8z"/>
<path fill="#108ed2" d="M345.6 91.7L339 92.2L339.8 89.7L346.4 89.3z"/>
<path fill="#0e91d2" d="M352.2 91.2L345.6 91.7L346.4 89.3L353 88.8z"/>
<path fill="#0d93d2" d="M358.8 90.8L352.2 91.2L353 88.8L359.6 88.3z"/>
<path fill="#0b95d1" d="M365.4 90.3L358.8 90.8L359.6 88.3L366.2 87.8z"/>
<path fill="#0998d1" d="M372 89.8L365.4 90.3L366.2 87.8L372.8 87.3z"/>
<path fill="#079bd0" d="M378.5 89.3L372 89.8L372.8 87.3L379.4 86.8z"/>
<path fill="#069fce" d="M385.1 88.8L378.5 89.3L379.4 86.8L386 86.3z"/>
<path fill="#06a2cc" d="M391.7 88.3L385.1 88.8L386 86.3L392.6 85.9z"/>
<path fill="#06a5c9" d="M398.3 87.9L391.7 88.3L392.6 85.9L399.2 85.4z"/>
<path fill="#06a7c5" d="M404.9 87.4L398.3 87.9L399.2 85.4L405.8 84.9z"/>
<path fill="#07a9c2" d="M411.5 86.9L404.9 87.4L405.8 84.9L412.4 84.4z"/>
<path fill="#0aacbe" d="M418.1 86.4L411.5 86.9L412.4 84.4L419 83.9z"/>
<path fill="#11afb8" d="M424.7 84.5L418.1 86.4L419 83.9L425.6 82z"/>
<path fill="#20b4ad" d="M431.3 81.3L424.7 84.5L425.6 82L432.2 78.8z"/>
<path fill="#36b99f" d="M437.9 78.1L431.3 81.3L432.2 78.8L438.8 74.4z"/>
<path fill="#56bd8d" d="M444.5 72.8L437.9 78.1L438.8 74.4L445.4 68.2z"/>
<path fill="#82bf79" d="M451.1 67.1L444.5 72.8L445.4 68.2L452 62.8z"/>
<path fill="#acbe68" d="M457.7 62.2L451.1 67.1L452 62.8L458.6 58.1z"/>
<path fill="#d5ba57" d="M464.3 58.1L457.7 62.2L458.6 58.1L465.2 54.3z"/>
<path fill="#f1b94a" d="M469.9 55.5L464.3 58.1L465.2 54.3L466.9 53.6z"/>
<path fill="#118cd2" d="M344.7 94.2L338.1 94.7L339 92.2L345.6 91.7z"/>
<path fill="#108ed2" d="M351.3 93.7L344.7 94.2L345.6 91.7L352.2 91.2z"/>
<path fill="#0e91d2" d="M357.9 93.2L351.3 93.7L352.2 91.2L358.8 90.8z"/>
<path fill="#0c93d2" d="M364.5 92.8L357.9 93.2L358.8 90.8L365.4 90.3z"/>
<path fill="#0a96d1" d="M371.1 92.3L364.5 92.8L365.4 90.3L372 89.8z"/>
<path fill="#0998d1" d="M377.7 91.8L371.1 92.3L372 89.8L378.5 89.3z"/>
<path fill="#079cd0" d="M384.3 91.3L377.7 91.8L378.5 89.3L385.1 88.8z"/>
<path fill="#069fce" d="M390.9 90.8L384.3 91.3L385.1 88.8L391.7 88.3z"/>
<path fill="#06a2cb" d="M397.5 90.3L390.9 90.8L391.7 88.3L398.3 87.9z"/>
<path fill="#06a5c8" d="M404.1 89.8L397.5 90.3L398.3 87.9L404.9 87.4z"/>
<path fill="#06a8c5" d="M410.7 89.4L404.1 89.8L404.9 87.4L411.5 86.9z"/>
<path fill="#07aac1" d="M417.3 88.9L410.7 89.4L411.5 86.9L418.1 86.4z"/>
<path fill="#0dadbb" d="M423.9 87L417.3 88.9L418.1 86.4L424.7 84.5z"/>
<path fill="#1bb2b1" d="M430.5 83.9L423.9 87L424.7 84.5L431.3 81.3z"/>
<path fill="#2fb7a3" d="M437 80.7L430.5 83.9L431.3 81.3L437.9 78.1z"/>
<path fill="#48bb94" d="M443.6 77.4L437 80.7L437.9 78.1L444.5 72.8z"/>
<path fill="#6ebf82" d="M450.2 71.5L443.6 77.4L444.5 72.8L451.1 67.1z"/>
<path fill="#97bf71" d="M456.8 66.2L450.2 71.5L451.1 67.1L457.7 62.2z"/>
<path fill="#c2bc5f" d="M463.4 61.9L456.8 66.2L457.7 62.2L464.3 58.1z"/>
<path fill="#e5b950" d="M470 58.5L463.4 61.9L464.3 58.1L469.9 55.5L470.6 56z"/>
<path fill="#f7ba45" d="M472.9 57.4L470 58.5L470.6 56z"/>
<path fill="#138ad3" d="M343.8 96.7L337.2 97.2L338.1 94.7L344.7 94.2z"/>
<path fill="#118cd2" d="M350.4 96.2L343.8 96.7L344.7 94.2L351.3 93.7z"/>
<path fill="#108fd2" d="M357 95.7L350.4 96.2L351.3 93.7L357.9 93.2z"/>
<path fill="#0e91d2" d="M363.6 95.2L357 95.7L357.9 93.2L364.5 92.8z"/>
<path fill="#0c94d2" d="M370.2 94.7L363.6 95.2L364.5 92.8L371.1 92.3z"/>
<path fill="#0a96d1" d="M376.8 94.3L370.2 94.7L371.1 92.3L377.7 91.8z"/>
<path fill="#0899d1" d="M383.4 93.8L376.8 94.3L377.7 91.8L384.3 91.3z"/>
<path fill="#079ccf" d="M390 93.3L383.4 93.8L384.3 91.3L390.9 90.8z"/>
<path fill="#06a0cd" d="M396.6 92.8L390 93.3L390.9 90.8L397.5 90.3z"/>
<path fill="#06a3cb" d="M403.2 92.3L396.6 92.8L397.5 90.3L404.1 89.8z"/>
<path fill="#06a5c8" d="M409.8 91.8L403.2 92.3L404.1 89.8L410.7 89.4z"/>
<path fill="#06a8c4" d="M416.4 91.4L409.8 91.8L410.7 89.4L417.3 88.9z"/>
<path fill="#09acbe" d="M423 89.5L416.4 91.4L417.3 88.9L423.9 87z"/>
<path fill="#16b1b4" d="M429.6 86.4L423 89.5L423.9 87L430.5 83.9z"/>
<path fill="#29b6a7" d="M436.2 83.3L429.6 86.4L430.5 83.9L437 80.7z"/>
<path fill="#41ba99" d="M442.8 80L436.2 83.3L437 80.7L443.6 77.4z"/>
<path fill="#5fbe88" d="M449.4 75.8L442.8 80L443.6 77.4L450.2 71.5z"/>
<path fill="#86bf77" d="M456 70.3L449.4 75.8L450.2 71.5L456.8 66.2z"/>
<path fill="#afbe67" d="M462.6 65.7L456 70.3L456.8 66.2L463.4 61.9z"/>
<path fill="#d5ba57" d="M469.2 61.9L462.6 65.7L463.4 61.9L470 58.5z"/>
<path fill="#f0b94a" d="M475.3 59.2L469.2 61.9L470 58.5L472.9 57.4z"/>
<path fill="#1388d3" d="M343 99.1L336.4 99.6L337.2 97.2L343.8 96.7z"/>
<path fill="#128ad3" d="M349.6 98.7L343 99.1L343.8 96.7L350.4 96.2z"/>
<path fill="#118dd2" d="M356.2 98.2L349.6 98.7L350.4 96.2L357 95.7z"/>
<path fill="#0f8fd2" d="M362.8 97.7L356.2 98.2L357 95.7L363.6 95.2z"/>
<path fill="#0d92d2" d="M369.4 97.2L362.8 97.7L363.6 95.2L370.2 94.7z"/>
<path fill="#0c94d2" d="M376 96.7L369.4 97.2L370.2 94.7L376.8 94.3z"/>
<path fill="#0a97d1" d="M382.6 96.3L376 96.7L376.8 94.3L383.4 93.8z"/>
<path fill="#0899d1" d="M389.1 95.8L382.6 96.3L383.4 93.8L390 93.3z"/>
<path fill="#079dcf" d="M395.7 95.3L389.1 95.8L390 93.3L396.6 92.8z"/>
<path fill="#06a0cd" d="M402.3 94.8L395.7 95.3L396.6 92.8L403.2 92.3z"/>
<path fill="#06a3ca" d="M408.9 94.3L402.3 94.8L403.2 92.3L409.8 91.8z"/>
<path fill="#06a6c7" d="M415.5 93.8L408.9 94.3L409.8 91.8L416.4 91.4z"/>
<path fill="#07aac1" d="M422.1 92L415.5 93.8L416.4 91.4L423 89.5z"/>
<path fill="#11afb7" d="M428.7 89L422.1 92L423 89.5L429.6 86.4z"/>
<path fill="#23b5ab" d="M435.3 85.8L428.7 89L429.6 86.4L436.2 83.3z"/>
<path fill="#3ab99d" d="M441.9 82.6L435.3 85.8L436.2 83.3L442.8 80z"/>
<path fill="#55bd8e" d="M448.5 79.2L441.9 82.6L442.8 80L449.4 75.8z"/>
<path fill="#77bf7e" d="M455.1 74.4L448.5 79.2L449.4 75.8L456 70.3z"/>
<path fill="#9abf6f" d="M461.7 69.4L455.1 74.4L456 70.3L462.6 65.7z"/>
<path fill="#c5bc5e" d="M468.3 65.4L461.7 69.4L462.6 65.7L469.2 61.9z"/>
<path fill="#e6b950" d="M474.9 62.1L468.3 65.4L469.2 61.9L475.3 59.2L475.6 59.5z"/>
<path fill="#f5ba46" d="M478.5 61.2L474.9 62.1L475.6 59.5z"/>
<path fill="#1486d3" d="M342.1 101.6L335.5 102.1L336.4 99.6L343 99.1z"/>
<path fill="#1389d3" d="M348.7 101.1L342.1 101.6L343 99.1L349.6 98.7z"/>
<path fill="#128bd2" d="M355.3 100.7L348.7 101.1L349.6 98.7L356.2 98.2z"/>
<path fill="#118dd2" d="M361.9 100.2L355.3 100.7L356.2 98.2L362.8 97.7z"/>
<path fill="#0f90d2" d="M368.5 99.7L361.9 100.2L362.8 97.7L369.4 97.2z"/>
<path fill="#0d92d2" d="M375.1 99.2L368.5 99.7L369.4 97.2L376 96.7z"/>
<path fill="#0b95d2" d="M381.7 98.7L375.1 99.2L376 96.7L382.6 96.3z"/>
<path fill="#0997d1" d="M388.3 98.2L381.7 98.7L382.6 96.3L389.1 95.8z"/>
<path fill="#089ad0" d="M394.9 97.8L388.3 98.2L389.1 95.8L395.7 95.3z"/>
<path fill="#079ecf" d="M401.5 97.3L394.9 97.8L395.7 95.3L402.3 94.8z"/>
<path fill="#06a1cc" d="M408.1 96.8L401.5 97.3L402.3 94.8L408.9 94.3z"/>
<path fill="#06a4ca" d="M414.7 96.3L408.1 96.8L408.9 94.3L415.5 93.8z"/>
<path fill="#06a8c5" d="M421.3 94.5L414.7 96.3L415.5 93.8L422.1 92z"/>
<path fill="#0dadbb" d="M427.9 91.5L421.3 94.5L422.1 92L428.7 89z"/>
<path fill="#1eb3ae" d="M434.5 88.4L427.9 91.5L428.7 89L435.3 85.8z"/>
<path fill="#33b8a1" d="M441 85.2L434.5 88.4L435.3 85.8L441.9 82.6z"/>
<path fill="#4cbc92" d="M447.6 82L441 85.2L441.9 82.6L448.5 79.2z"/>
<path fill="#6abe83" d="M454.2 78.2L447.6 82L448.5 79.2L455.1 74.4z"/>
<path fill="#8cbf75" d="M460.8 73.2L454.2 78.2L455.1 74.4L461.7 69.4z"/>
<path fill="#b4bd65" d="M467.4 68.9L460.8 73.2L461.7 69.4L468.3 65.4z"/>
<path fill="#d9ba56" d="M474 65.1L467.4 68.9L468.3 65.4L474.9 62.1z"/>
<path fill="#f0b94a" d="M480.6 63L474 65.1L474.9 62.1L478.5 61.2L480.6 63z"/>
<path fill="#1485d4" d="M341.3 104.1L334.7 104.6L335.5 102.1L342.1 101.6z"/>
<path fill="#1487d3" d="M347.8 103.6L341.3 104.1L342.1 101.6L348.7 101.1z"/>
<path fill="#1389d3" d="M354.4 103.1L347.8 103.6L348.7 101.1L355.3 100.7z"/>
<path fill="#128bd2" d="M361 102.6L354.4 103.1L355.3 100.7L361.9 100.2z"/>
<path fill="#108ed2" d="M367.6 102.2L361 102.6L361.9 100.2L368.5 99.7z"/>
<path fill="#0f90d2" d="M374.2 101.7L367.6 102.2L368.5 99.7L375.1 99.2z"/>
<path fill="#0d93d2" d="M380.8 101.2L374.2 101.7L375.1 99.2L381.7 98.7z"/>
<path fill="#0b95d2" d="M387.4 100.7L380.8 101.2L381.7 98.7L388.3 98.2z"/>
<path fill="#0998d1" d="M394 100.2L387.4 100.7L388.3 98.2L394.9 97.8z"/>
<path fill="#089bd0" d="M400.6 99.8L394 100.2L394.9 97.8L401.5 97.3z"/>
<path fill="#069ece" d="M407.2 99.3L400.6 99.8L401.5 97.3L408.1 96.8z"/>
<path fill="#06a1cc" d="M413.8 98.8L407.2 99.3L408.1 96.8L414.7 96.3z"/>
<path fill="#06a6c7" d="M420.4 97L413.8 98.8L414.7 96.3L421.3 94.5z"/>
<path fill="#09acbe" d="M427 94.1L420.4 97L421.3 94.5L427.9 91.5z"/>
<path fill="#19b2b2" d="M433.6 91L427 94.1L427.9 91.5L434.5 88.4z"/>
<path fill="#2db7a5" d="M440.2 87.9L433.6 91L434.5 88.4L441 85.2z"/>
<path fill="#44bb97" d="M446.8 84.8L440.2 87.9L441 85.2L447.6 82z"/>
<path fill="#60be88" d="M453.4 81.2L446.8 84.8L447.6 82L454.2 78.2z"/>
<path fill="#80bf7a" d="M460 77L453.4 81.2L454.2 78.2L460.8 73.2z"/>
<path fill="#a2be6c" d="M466.6 72.3L460 77L460.8 73.2L467.4 68.9z"/>
<path fill="#cbbb5b" d="M473.2 68.2L466.6 72.3L467.4 68.9L474 65.1z"/>
<path fill="#eab94e" d="M479.8 65.5L473.2 68.2L474 65.1L480.6 63z"/>
<path fill="#fec833" d="M480.2 64.5L479.8 65.5L480.6 63L480.6 63z"/>
<path fill="#1483d5" d="M340.4 106.6L333.8 107.1L334.7 104.6L341.3 104.1z"/>
<path fill="#1485d4" d="M347 106.1L340.4 106.6L341.3 104.1L347.8 103.6z"/>
<path fill="#1487d3" d="M353.6 105.6L347 106.1L347.8 103.6L354.4 103.1z"/>
<path fill="#1389d3" d="M360.2 105.1L353.6 105.6L354.4 103.1L361 102.6z"/>
<path fill="#128cd2" d="M366.8 104.6L360.2 105.1L361 102.6L367.6 102.2z"/>
<path fill="#108ed2" d="M373.4 104.2L366.8 104.6L367.6 102.2L374.2 101.7z"/>
<path fill="#0e91d2" d="M380 103.7L373.4 104.2L374.2 101.7L380.8 101.2z"/>
<path fill="#0c93d2" d="M386.6 103.2L380 103.7L380.8 101.2L387.4 100.7z"/>
<path fill="#0b96d1" d="M393.2 102.7L386.6 103.2L387.4 100.7L394 100.2z"/>
<path fill="#0998d1" d="M399.7 102.2L393.2 102.7L394 100.2L400.6 99.8z"/>
<path fill="#079bd0" d="M406.3 101.7L399.7 102.2L400.6 99.8L407.2 99.3z"/>
<path fill="#069fce" d="M412.9 101.3L406.3 101.7L407.2 99.3L413.8 98.8z"/>
<path fill="#06a3ca" d="M419.5 99.6L412.9 101.3L413.8 98.8L420.4 97z"/>
<path fill="#07aac1" d="M426.1 96.6L419.5 99.6L420.4 97L427 94.1z"/>
<path fill="#14b0b5" d="M432.7 93.6L426.1 96.6L427 94.1L433.6 91z"/>
<path fill="#26b5a9" d="M439.3 90.5L432.7 93.6L433.6 91L440.2 87.9z"/>
<path fill="#3dba9b" d="M445.9 87.5L439.3 90.5L440.2 87.9L446.8 84.8z"/>
<path fill="#56bd8d" d="M452.5 84.2L445.9 87.5L446.8 84.8L453.4 81.2z"/>
<path fill="#75bf7f" d="M459.1 80.3L452.5 84.2L453.4 81.2L460 77z"/>
<path fill="#94bf71" d="M465.7 75.8L459.1 80.3L460 77L466.6 72.3z"/>
<path fill="#bebc61" d="M472.3 71.2L465.7 75.8L466.6 72.3L473.2 68.2z"/>
<path fill="#e0ba52" d="M478.9 68.1L472.3 71.2L473.2 68.2L479.8 65.5z"/>
<path fill="#ffc436" d="M479.9 66L478.9 68.1L479.8 65.5L480.2 64.5z"/>
<path fill="#1481d5" d="M339.5 109L332.9 109.5L333.8 107.1L340.4 106.6z"/>
<path fill="#1483d5" d="M346.1 108.6L339.5 109L340.4 106.6L347 106.1z"/>
<path fill="#1485d4" d="M352.7 108.1L346.1 108.6L347 106.1L353.6 105.6z"/>
<path fill="#1388d3" d="M359.3 107.6L352.7 108.1L353.6 105.6L360.2 105.1z"/>
<path fill="#138ad3" d="M365.9 107.1L359.3 107.6L360.2 105.1L366.8 104.6z"/>
<path fill="#118cd2" d="M372.5 106.6L365.9 107.1L366.8 104.6L373.4 104.2z"/>
<path fill="#108fd2" d="M379.1 106.2L372.5 106.6L373.4 104.2L380 103.7z"/>
<path fill="#0e91d2" d="M385.7 105.7L379.1 106.2L380 103.7L386.6 103.2z"/>
<path fill="#0c94d2" d="M392.3 105.2L385.7 105.7L386.6 103.2L393.2 102.7z"/>
<path fill="#0a96d1" d="M398.9 104.7L392.3 105.2L393.2 102.7L399.7 102.2z"/>
<path fill="#0999d1" d="M405.5 104.2L398.9 104.7L399.7 102.2L406.3 101.7z"/>
<path fill="#079cd0" d="M412.1 103.7L405.5 104.2L406.3 101.7L412.9 101.3z"/>
<path fill="#06a1cc" d="M418.7 102.1L412.1 103.7L412.9 101.3L419.5 99.6z"/>
<path fill="#06a8c5" d="M425.3 99.1L418.7 102.1L419.5 99.6L426.1 96.6z"/>
<path fill="#0faeb9" d="M431.9 96.1L425.3 99.1L426.1 96.6L432.7 93.6z"/>
<path fill="#20b4ad" d="M438.5 93.1L431.9 96.1L432.7 93.6L439.3 90.5z"/>
<path fill="#36b99f" d="M445.1 90.1L438.5 93.1L439.3 90.5L445.9 87.5z"/>
<path fill="#4dbc91" d="M451.6 87.1L445.1 90.1L445.9 87.5L452.5 84.2z"/>
<path fill="#6abe83" d="M458.2 83.6L451.6 87.1L452.5 84.2L459.1 80.3z"/>
<path fill="#89bf76" d="M464.8 79.3L458.2 83.6L459.1 80.3L465.7 75.8z"/>
<path fill="#b0be67" d="M471.4 74.3L464.8 79.3L465.7 75.8L472.3 71.2z"/>
<path fill="#d7ba57" d="M478 70.7L471.4 74.3L472.3 71.2L478.9 68.1z"/>
<path fill="#fec13a" d="M479.6 67.6L478 70.7L478.9 68.1L479.9 66z"/>
<path fill="#1480d6" d="M338.7 111.5L332.1 112L332.9 109.5L339.5 109z"/>
<path fill="#1482d5" d="M345.3 111L338.7 111.5L339.5 109L346.1 108.6z"/>
<path fill="#1484d4" d="M351.9 110.6L345.3 111L346.1 108.6L352.7 108.1z"/>
<path fill="#1486d4" d="M358.4 110.1L351.9 110.6L352.7 108.1L359.3 107.6z"/>
<path fill="#1388d3" d="M365 109.6L358.4 110.1L359.3 107.6L365.9 107.1z"/>
<path fill="#128ad3" d="M371.6 109.1L365 109.6L365.9 107.1L372.5 106.6z"/>
<path fill="#118dd2" d="M378.2 108.6L371.6 109.1L372.5 106.6L379.1 106.2z"/>
<path fill="#0f8fd2" d="M384.8 108.1L378.2 108.6L379.1 106.2L385.7 105.7z"/>
<path fill="#0e92d2" d="M391.4 107.7L384.8 108.1L385.7 105.7L392.3 105.2z"/>
<path fill="#0c94d2" d="M398 107.2L391.4 107.7L392.3 105.2L398.9 104.7z"/>
<path fill="#0a97d1" d="M404.6 106.7L398 107.2L398.9 104.7L405.5 104.2z"/>
<path fill="#0899d1" d="M411.2 106.2L404.6 106.7L405.5 104.2L412.1 103.7z"/>
<path fill="#069ece" d="M417.8 104.6L411.2 106.2L412.1 103.7L418.7 102.1z"/>
<path fill="#06a6c7" d="M424.4 101.7L417.8 104.6L418.7 102.1L425.3 99.1z"/>
<path fill="#0badbc" d="M431 98.7L424.4 101.7L425.3 99.1L431.9 96.1z"/>
<path fill="#1bb2b0" d="M437.6 95.7L431 98.7L431.9 96.1L438.5 93.1z"/>
<path fill="#2fb7a3" d="M444.2 92.7L437.6 95.7L438.5 93.1L445.1 90.1z"/>
<path fill="#46bb96" d="M450.8 89.7L444.2 92.7L445.1 90.1L451.6 87.1z"/>
<path fill="#60be88" d="M457.4 86.7L450.8 89.7L451.6 87.1L458.2 83.6z"/>
<path fill="#7dbf7b" d="M464 82.8L457.4 86.7L458.2 83.6L464.8 79.3z"/>
<path fill="#a1be6d" d="M470.6 77.3L464 82.8L464.8 79.3L471.4 74.3z"/>
<path fill="#cdbb5b" d="M477.2 73.2L470.6 77.3L471.4 74.3L478 70.7z"/>
<path fill="#fdbe3e" d="M479.3 69.1L477.2 73.2L478 70.7L479.6 67.6z"/>
<path fill="#137ed7" d="M337.8 114L331.2 114.5L332.1 112L338.7 111.5z"/>
<path fill="#1480d6" d="M344.4 113.5L337.8 114L338.7 111.5L345.3 111z"/>
<path fill="#1482d5" d="M351 113L344.4 113.5L345.3 111L351.9 110.6z"/>
<path fill="#1484d4" d="M357.6 112.5L351 113L351.9 110.6L358.4 110.1z"/>
<path fill="#1486d4" d="M364.2 112.1L357.6 112.5L358.4 110.1L365 109.6z"/>
<path fill="#1388d3" d="M370.8 111.6L364.2 112.1L365 109.6L371.6 109.1z"/>
<path fill="#128bd3" d="M377.4 111.1L370.8 111.6L371.6 109.1L378.2 108.6z"/>
<path fill="#118dd2" d="M384 110.6L377.4 111.1L378.2 108.6L384.8 108.1z"/>
<path fill="#0f90d2" d="M390.6 110.1L384 110.6L384.8 108.1L391.4 107.7z"/>
<path fill="#0d92d2" d="M397.2 109.7L390.6 110.1L391.4 107.7L398 107.2z"/>
<path fill="#0b95d2" d="M403.8 109.2L397.2 109.7L398 107.2L404.6 106.7z"/>
<path fill="#0a97d1" d="M410.3 108.7L403.8 109.2L404.6 106.7L411.2 106.2z"/>
<path fill="#079bd0" d="M416.9 107.1L410.3 108.7L411.2 106.2L417.8 104.6z"/>
<path fill="#06a3ca" d="M423.5 104.2L416.9 107.1L417.8 104.6L424.4 101.7z"/>
<path fill="#08abc0" d="M430.1 101.3L423.5 104.2L424.4 101.7L431 98.7z"/>
<path fill="#16b1b4" d="M436.7 98.3L430.1 101.3L431 98.7L437.6 95.7z"/>
<path fill="#28b6a7" d="M443.3 95.4L436.7 98.3L437.6 95.7L444.2 92.7z"/>
<path fill="#3eba9a" d="M449.9 92.4L443.3 95.4L444.2 92.7L450.8 89.7z"/>
<path fill="#57bd8c" d="M456.5 89.3L449.9 92.4L450.8 89.7L457.4 86.7z"/>
<path fill="#72bf80" d="M463.1 86.2L456.5 89.3L457.4 86.7L464 82.8z"/>
<path fill="#94bf72" d="M469.7 80.4L463.1 86.2L464 82.8L470.6 77.3z"/>
<path fill="#c3bc5f" d="M476.3 75.8L469.7 80.4L470.6 77.3L477.2 73.2z"/>
<path fill="#f9bb43" d="M479 70.7L476.3 75.8L477.2 73.2L479.3 69.1z"/>
<path fill="#127dd8" d="M336.9 116.5L330.3 116.9L331.2 114.5L337.8 114z"/>
<path fill="#137ed7" d="M343.5 116L336.9 116.5L337.8 114L344.4 113.5z"/>
<path fill="#1480d6" d="M350.1 115.5L343.5 116L344.4 113.5L351 113z"/>
<path fill="#1482d5" d="M356.7 115L350.1 115.5L351 113L357.6 112.5z"/>
<path fill="#1484d4" d="M363.3 114.5L356.7 115L357.6 112.5L364.2 112.1z"/>
<path fill="#1487d3" d="M369.9 114.1L363.3 114.5L364.2 112.1L370.8 111.6z"/>
<path fill="#1389d3" d="M376.5 113.6L369.9 114.1L370.8 111.6L377.4 111.1z"/>
<path fill="#128bd2" d="M383.1 113.1L376.5 113.6L377.4 111.1L384 110.6z"/>
<path fill="#118ed2" d="M389.7 112.6L383.1 113.1L384 110.6L390.6 110.1z"/>
<path fill="#0f90d2" d="M396.3 112.1L389.7 112.6L390.6 110.1L397.2 109.7z"/>
<path fill="#0d93d2" d="M402.9 111.7L396.3 112.1L397.2 109.7L403.8 109.2z"/>
<path fill="#0b95d2" d="M409.5 111.2L402.9 111.7L403.8 109.2L410.3 108.7z"/>
<path fill="#0998d1" d="M416.1 109.6L409.5 111.2L410.3 108.7L416.9 107.1z"/>
<path fill="#06a1cd" d="M422.7 106.8L416.1 109.6L416.9 107.1L423.5 104.2z"/>
<path fill="#07a9c3" d="M429.3 103.9L422.7 106.8L423.5 104.2L430.1 101.3z"/>
<path fill="#11afb7" d="M435.9 100.9L429.3 103.9L430.1 101.3L436.7 98.3z"/>
<path fill="#22b4ab" d="M442.5 98L435.9 100.9L436.7 98.3L443.3 95.4z"/>
<path fill="#37b99e" d="M449.1 95L442.5 98L443.3 95.4L449.9 92.4z"/>
<path fill="#4fbc91" d="M455.7 92L449.1 95L449.9 92.4L456.5 89.3z"/>
<path fill="#6abe83" d="M462.2 88.9L455.7 92L456.5 89.3L463.1 86.2z"/>
<path fill="#8cbf75" d="M468.8 83.4L462.2 88.9L463.1 86.2L469.7 80.4z"/>
<path fill="#b8bd63" d="M475.4 78.4L468.8 83.4L469.7 80.4L476.3 75.8z"/>
<path fill="#f5ba46" d="M478.8 72.2L475.4 78.4L476.3 75.8L479 70.7z"/>
<path fill="#117bd9" d="M336.1 118.9L329.5 119.4L330.3 116.9L336.9 116.5z"/>
<path fill="#137dd8" d="M342.7 118.5L336.1 118.9L336.9 116.5L343.5 116z"/>
<path fill="#137fd7" d="M349.3 118L342.7 118.5L343.5 116L350.1 115.5z"/>
<path fill="#1481d6" d="M355.9 117.5L349.3 118L350.1 115.5L356.7 115z"/>
<path fill="#1483d5" d="M362.4 117L355.9 117.5L356.7 115L363.3 114.5z"/>
<path fill="#1485d4" d="M369 116.5L362.4 117L363.3 114.5L369.9 114.1z"/>
<path fill="#1487d3" d="M375.6 116.1L369 116.5L369.9 114.1L376.5 113.6z"/>
<path fill="#1389d3" d="M382.2 115.6L375.6 116.1L376.5 113.6L383.1 113.1z"/>
<path fill="#128cd2" d="M388.8 115.1L382.2 115.6L383.1 113.1L389.7 112.6z"/>
<path fill="#108ed2" d="M395.4 114.6L388.8 115.1L389.7 112.6L396.3 112.1z"/>
<path fill="#0e91d2" d="M402 114.1L395.4 114.6L396.3 112.1L402.9 111.7z"/>
<path fill="#0d93d2" d="M408.6 113.6L402 114.1L402.9 111.7L409.5 111.2z"/>
<path fill="#0a97d1" d="M415.2 112.1L408.6 113.6L409.5 111.2L416.1 109.6z"/>
<path fill="#079ecf" d="M421.8 109.3L415.2 112.1L416.1 109.6L422.7 106.8z"/>
<path fill="#06a6c6" d="M428.4 106.4L421.8 109.3L422.7 106.8L429.3 103.9z"/>
<path fill="#0dadbb" d="M435 103.5L428.4 106.4L429.3 103.9L435.9 100.9z"/>
<path fill="#1cb3af" d="M441.6 100.6L435 103.5L435.9 100.9L442.5 98z"/>
<path fill="#30b7a2" d="M448.2 97.7L441.6 100.6L442.5 98L449.1 95z"/>
<path fill="#47bb95" d="M454.8 94.7L448.2 97.7L449.1 95L455.7 92z"/>
<path fill="#61be87" d="M461.4 91.7L454.8 94.7L455.7 92L462.2 88.9z"/>
<path fill="#84bf78" d="M468 86.2L461.4 91.7L462.2 88.9L468.8 83.4z"/>
<path fill="#aebe67" d="M474.6 80.9L468 86.2L468.8 83.4L475.4 78.4z"/>
<path fill="#f0b94a" d="M478.7 73.8L474.6 80.9L475.4 78.4L478.8 72.2z"/>
<path fill="#117ada" d="M335.2 121.4L328.6 121.9L329.5 119.4L336.1 118.9z"/>
<path fill="#127bd9" d="M341.8 120.9L335.2 121.4L336.1 118.9L342.7 118.5z"/>
<path fill="#137dd8" d="M348.4 120.5L341.8 120.9L342.7 118.5L349.3 118z"/>
<path fill="#137fd7" d="M355 120L348.4 120.5L349.3 118L355.9 117.5z"/>
<path fill="#1481d6" d="M361.6 119.5L355 120L355.9 117.5L362.4 117z"/>
<path fill="#1483d5" d="M368.2 119L361.6 119.5L362.4 117L369 116.5z"/>
<path fill="#1485d4" d="M374.8 118.5L368.2 119L369 116.5L375.6 116.1z"/>
<path fill="#1487d3" d="M381.4 118L374.8 118.5L375.6 116.1L382.2 115.6z"/>
<path fill="#138ad3" d="M388 117.6L381.4 118L382.2 115.6L388.8 115.1z"/>
<path fill="#118cd2" d="M394.6 117.1L388 117.6L388.8 115.1L395.4 114.6z"/>
<path fill="#108ed2" d="M401.2 116.6L394.6 117.1L395.4 114.6L402 114.1z"/>
<path fill="#0e91d2" d="M407.8 116.1L401.2 116.6L402 114.1L408.6 113.6z"/>
<path fill="#0b95d2" d="M414.4 114.6L407.8 116.1L408.6 113.6L415.2 112.1z"/>
<path fill="#089bd0" d="M420.9 111.8L414.4 114.6L415.2 112.1L421.8 109.3z"/>
<path fill="#06a4c9" d="M427.5 109L420.9 111.8L421.8 109.3L428.4 106.4z"/>
<path fill="#09abbf" d="M434.1 106.1L427.5 109L428.4 106.4L435 103.5z"/>
<path fill="#17b1b3" d="M440.7 103.3L434.1 106.1L435 103.5L441.6 100.6z"/>
<path fill="#29b6a7" d="M447.3 100.4L440.7 103.3L441.6 100.6L448.2 97.7z"/>
<path fill="#3fba99" d="M453.9 97.4L447.3 100.4L448.2 97.7L454.8 94.7z"/>
<path fill="#59bd8c" d="M460.5 94.4L453.9 97.4L454.8 94.7L461.4 91.7z"/>
<path fill="#7bbf7c" d="M467.1 88.9L460.5 94.4L461.4 91.7L468 86.2z"/>
<path fill="#a5be6b" d="M473.7 83.5L467.1 88.9L468 86.2L474.6 80.9z"/>
<path fill="#eab94e" d="M478.6 75.4L473.7 83.5L474.6 80.9L478.7 73.8z"/>
<path fill="#0f78db" d="M334.3 123.9L327.7 124.4L328.6 121.9L335.2 121.4z"/>
<path fill="#117ada" d="M340.9 123.4L334.3 123.9L335.2 121.4L341.8 120.9z"/>
<path fill="#127cd8" d="M347.5 122.9L340.9 123.4L341.8 120.9L348.4 120.5z"/>
<path fill="#137ed7" d="M354.1 122.4L347.5 122.9L348.4 120.5L355 120z"/>
<path fill="#1480d6" d="M360.7 122L354.1 122.4L355 120L361.6 119.5z"/>
<path fill="#1481d5" d="M367.3 121.5L360.7 122L361.6 119.5L368.2 119z"/>
<path fill="#1483d4" d="M373.9 121L367.3 121.5L368.2 119L374.8 118.5z"/>
<path fill="#1486d4" d="M380.5 120.5L373.9 121L374.8 118.5L381.4 118z"/>
<path fill="#1388d3" d="M387.1 120L380.5 120.5L381.4 118L388 117.6z"/>
<path fill="#138ad3" d="M393.7 119.6L387.1 120L388 117.6L394.6 117.1z"/>
<path fill="#118cd2" d="M400.3 119.1L393.7 119.6L394.6 117.1L401.2 116.6z"/>
<path fill="#108fd2" d="M406.9 118.6L400.3 119.1L401.2 116.6L407.8 116.1z"/>
<path fill="#0d92d2" d="M413.5 117.1L406.9 118.6L407.8 116.1L414.4 114.6z"/>
<path fill="#0998d1" d="M420.1 114.4L413.5 117.1L414.4 114.6L420.9 111.8z"/>
<path fill="#06a2cc" d="M426.7 111.6L420.1 114.4L420.9 111.8L427.5 109z"/>
<path fill="#07a9c2" d="M433.3 108.8L426.7 111.6L427.5 109L434.1 106.1z"/>
<path fill="#12afb7" d="M439.9 105.9L433.3 108.8L434.1 106.1L440.7 103.3z"/>
<path fill="#23b4ab" d="M446.5 103L439.9 105.9L440.7 103.3L447.3 100.4z"/>
<path fill="#38b99e" d="M453.1 100.1L446.5 103L447.3 100.4L453.9 97.4z"/>
<path fill="#50bc90" d="M459.7 97.1L453.1 100.1L453.9 97.4L460.5 94.4z"/>
<path fill="#73bf7f" d="M466.3 91.6L459.7 97.1L460.5 94.4L467.1 88.9z"/>
<path fill="#9abf6f" d="M472.8 86.2L466.3 91.6L467.1 88.9L473.7 83.5z"/>
<path fill="#e0ba53" d="M478.6 76.9L472.8 86.2L473.7 83.5L478.6 75.4z"/>
<path fill="#0e76db" d="M333.5 126.4L326.9 126.8L327.7 124.4L334.3 123.9z"/>
<path fill="#1078da" d="M340.1 125.9L333.5 126.4L334.3 123.9L340.9 123.4z"/>
<path fill="#117ad9" d="M346.7 125.4L340.1 125.9L340.9 123.4L347.5 122.9z"/>
<path fill="#127cd8" d="M353.3 124.9L346.7 125.4L347.5 122.9L354.1 122.4z"/>
<path fill="#137ed7" d="M359.9 124.4L353.3 124.9L354.1 122.4L360.7 122z"/>
<path fill="#1480d6" d="M366.5 124L359.9 124.4L360.7 122L367.3 121.5z"/>
<path fill="#1482d5" d="M373 123.5L366.5 124L367.3 121.5L373.9 121z"/>
<path fill="#1484d4" d="M379.6 123L373 123.5L373.9 121L380.5 120.5z"/>
<path fill="#1486d4" d="M386.2 122.5L379.6 123L380.5 120.5L387.1 120z"/>
<path fill="#1388d3" d="M392.8 122L386.2 122.5L387.1 120L393.7 119.6z"/>
<path fill="#128ad3" d="M399.4 121.6L392.8 122L393.7 119.6L400.3 119.1z"/>
<path fill="#118dd2" d="M406 121.1L399.4 121.6L400.3 119.1L406.9 118.6z"/>
<path fill="#0f90d2" d="M412.6 119.6L406 121.1L406.9 118.6L413.5 117.1z"/>
<path fill="#0a96d1" d="M419.2 116.9L412.6 119.6L413.5 117.1L420.1 114.4z"/>
<path fill="#069fce" d="M425.8 114.2L419.2 116.9L420.1 114.4L426.7 111.6z"/>
<path fill="#06a7c6" d="M432.4 111.4L425.8 114.2L426.7 111.6L433.3 108.8z"/>
<path fill="#0daeba" d="M439 108.5L432.4 111.4L433.3 108.8L439.9 105.9z"/>
<path fill="#1db3af" d="M445.6 105.7L439 108.5L439.9 105.9L446.5 103z"/>
<path fill="#31b8a2" d="M452.2 102.7L445.6 105.7L446.5 103L453.1 100.1z"/>
<path fill="#48bb95" d="M458.8 99.8L452.2 102.7L453.1 100.1L459.7 97.1z"/>
<path fill="#6abe83" d="M465.4 94.4L458.8 99.8L459.7 97.1L466.3 91.6z"/>
<path fill="#93bf72" d="M472 88.9L465.4 94.4L466.3 91.6L472.8 86.2z"/>
<path fill="#d6ba57" d="M478.6 78.5L472 88.9L472.8 86.2L478.6 76.9L478.6 78.5z"/>
<path fill="#0d75dc" d="M332.6 128.8L326 129.3L326.9 126.8L333.5 126.4z"/>
<path fill="#0e77db" d="M339.2 128.4L332.6 128.8L333.5 126.4L340.1 125.9z"/>
<path fill="#1079da" d="M345.8 127.9L339.2 128.4L340.1 125.9L346.7 125.4z"/>
<path fill="#117bd9" d="M352.4 127.4L345.8 127.9L346.7 125.4L353.3 124.9z"/>
<path fill="#127cd8" d="M359 126.9L352.4 127.4L353.3 124.9L359.9 124.4z"/>
<path fill="#137ed7" d="M365.6 126.4L359 126.9L359.9 124.4L366.5 124z"/>
<path fill="#1480d6" d="M372.2 126L365.6 126.4L366.5 124L373 123.5z"/>
<path fill="#1482d5" d="M378.8 125.5L372.2 126L373 123.5L379.6 123z"/>
<path fill="#1484d4" d="M385.4 125L378.8 125.5L379.6 123L386.2 122.5z"/>
<path fill="#1486d3" d="M392 124.5L385.4 125L386.2 122.5L392.8 122z"/>
<path fill="#1389d3" d="M398.6 124L392 124.5L392.8 122L399.4 121.6z"/>
<path fill="#128bd2" d="M405.2 123.6L398.6 124L399.4 121.6L406 121.1z"/>
<path fill="#108ed2" d="M411.8 122.2L405.2 123.6L406 121.1L412.6 119.6z"/>
<path fill="#0c94d2" d="M418.4 119.5L411.8 122.2L412.6 119.6L419.2 116.9z"/>
<path fill="#079cd0" d="M424.9 116.8L418.4 119.5L419.2 116.9L425.8 114.2z"/>
<path fill="#06a5c9" d="M431.5 114L424.9 116.8L425.8 114.2L432.4 111.4z"/>
<path fill="#09acbe" d="M438.1 111.2L431.5 114L432.4 111.4L439 108.5z"/>
<path fill="#18b1b3" d="M444.7 108.3L438.1 111.2L439 108.5L445.6 105.7z"/>
<path fill="#2ab6a6" d="M451.3 105.4L444.7 108.3L445.6 105.7L452.2 102.7z"/>
<path fill="#40ba99" d="M457.9 102.5L451.3 105.4L452.2 102.7L458.8 99.8z"/>
<path fill="#62be87" d="M464.5 97.1L457.9 102.5L458.8 99.8L465.4 94.4z"/>
<path fill="#8bbf75" d="M471.1 91.6L464.5 97.1L465.4 94.4L472 88.9z"/>
<path fill="#cbbb5b" d="M477.7 81.5L471.1 91.6L472 88.9L478.6 78.5z"/>
<path fill="#fec932" d="M478.3 80.1L477.7 81.5L478.6 78.5L478.6 78.5z"/>
<path fill="#0b73dd" d="M331.7 131.3L325.2 131.8L326 129.3L332.6 128.8z"/>
<path fill="#0d75dc" d="M338.3 130.8L331.7 131.3L332.6 128.8L339.2 128.4z"/>
<path fill="#0f77db" d="M344.9 130.3L338.3 130.8L339.2 128.4L345.8 127.9z"/>
<path fill="#1079da" d="M351.5 129.9L344.9 130.3L345.8 127.9L352.4 127.4z"/>
<path fill="#117bd9" d="M358.1 129.4L351.5 129.9L352.4 127.4L359 126.9z"/>
<path fill="#127dd8" d="M364.7 128.9L358.1 129.4L359 126.9L365.6 126.4z"/>
<path fill="#137fd7" d="M371.3 128.4L364.7 128.9L365.6 126.4L372.2 126z"/>
<path fill="#1481d6" d="M377.9 127.9L371.3 128.4L372.2 126L378.8 125.5z"/>
<path fill="#1483d5" d="M384.5 127.5L377.9 127.9L378.8 125.5L385.4 125z"/>
<path fill="#1485d4" d="M391.1 127L384.5 127.5L385.4 125L392 124.5z"/>
<path fill="#1487d3" d="M397.7 126.5L391.1 127L392 124.5L398.6 124z"/>
<path fill="#1389d3" d="M404.3 126L397.7 126.5L398.6 124L405.2 123.6z"/>
<path fill="#118cd2" d="M410.9 124.7L404.3 126L405.2 123.6L411.8 122.2z"/>
<path fill="#0d92d2" d="M417.5 122L410.9 124.7L411.8 122.2L418.4 119.5z"/>
<path fill="#0999d1" d="M424.1 119.3L417.5 122L418.4 119.5L424.9 116.8z"/>
<path fill="#06a2cb" d="M430.7 116.6L424.1 119.3L424.9 116.8L431.5 114z"/>
<path fill="#07a9c2" d="M437.3 113.8L430.7 116.6L431.5 114L438.1 111.2z"/>
<path fill="#12b0b6" d="M443.9 111L437.3 113.8L438.1 111.2L444.7 108.3z"/>
<path fill="#24b5aa" d="M450.5 108.1L443.9 111L444.7 108.3L451.3 105.4z"/>
<path fill="#38b99d" d="M457.1 105.2L450.5 108.1L451.3 105.4L457.9 102.5z"/>
<path fill="#59bd8c" d="M463.7 99.8L457.1 105.2L457.9 102.5L464.5 97.1z"/>
<path fill="#84bf78" d="M470.3 94.4L463.7 99.8L464.5 97.1L471.1 91.6z"/>
<path fill="#c1bc60" d="M476.9 84.5L470.3 94.4L471.1 91.6L477.7 81.5z"/>
<path fill="#fec536" d="M478.1 81.6L476.9 84.5L477.7 81.5L478.3 80.1z"/>
<path fill="#0972de" d="M330.9 133.8L324.3 134.3L325.2 131.8L331.7 131.3z"/>
<path fill="#0b74dd" d="M337.5 133.3L330.9 133.8L331.7 131.3L338.3 130.8z"/>
<path fill="#0d76dc" d="M344.1 132.8L337.5 133.3L338.3 130.8L344.9 130.3z"/>
<path fill="#0f77db" d="M350.7 132.3L344.1 132.8L344.9 130.3L351.5 129.9z"/>
<path fill="#1079da" d="M357.3 131.9L350.7 132.3L351.5 129.9L358.1 129.4z"/>
<path fill="#127bd9" d="M363.9 131.4L357.3 131.9L358.1 129.4L364.7 128.9z"/>
<path fill="#137dd8" d="M370.5 130.9L363.9 131.4L364.7 128.9L371.3 128.4z"/>
<path fill="#137fd7" d="M377.1 130.4L370.5 130.9L371.3 128.4L377.9 127.9z"/>
<path fill="#1481d6" d="M383.6 129.9L377.1 130.4L377.9 127.9L384.5 127.5z"/>
<path fill="#1483d5" d="M390.2 129.5L383.6 129.9L384.5 127.5L391.1 127z"/>
<path fill="#1485d4" d="M396.8 129L390.2 129.5L391.1 127L397.7 126.5z"/>
<path fill="#1487d3" d="M403.4 128.5L396.8 129L397.7 126.5L404.3 126z"/>
<path fill="#128ad3" d="M410 127.2L403.4 128.5L404.3 126L410.9 124.7z"/>
<path fill="#0f90d2" d="M416.6 124.6L410 127.2L410.9 124.7L417.5 122z"/>
<path fill="#0a97d1" d="M423.2 121.9L416.6 124.6L417.5 122L424.1 119.3z"/>
<path fill="#069fce" d="M429.8 119.2L423.2 121.9L424.1 119.3L430.7 116.6z"/>
<path fill="#06a7c5" d="M436.4 116.4L429.8 119.2L430.7 116.6L437.3 113.8z"/>
<path fill="#0eaeba" d="M443 113.6L436.4 116.4L437.3 113.8L443.9 111z"/>
<path fill="#1db3af" d="M449.6 110.8L443 113.6L443.9 111L450.5 108.1z"/>
<path fill="#31b8a2" d="M456.2 107.9L449.6 110.8L450.5 108.1L457.1 105.2z"/>
<path fill="#50bc90" d="M462.8 102.5L456.2 107.9L457.1 105.2L463.7 99.8z"/>
<path fill="#7bbf7c" d="M469.4 97.1L462.8 102.5L463.7 99.8L470.3 94.4z"/>
<path fill="#b6bd64" d="M476 87.5L469.4 97.1L470.3 94.4L476.9 84.5z"/>
<path fill="#fec13a" d="M477.8 83.1L476 87.5L476.9 84.5L478.1 81.6z"/>
<path fill="#0870df" d="M330 136.3L323.4 136.7L324.3 134.3L330.9 133.8z"/>
<path fill="#0a72de" d="M336.6 135.8L330 136.3L330.9 133.8L337.5 133.3z"/>
<path fill="#0c74dd" d="M343.2 135.3L336.6 135.8L337.5 133.3L344.1 132.8z"/>
<path fill="#0e76dc" d="M349.8 134.8L343.2 135.3L344.1 132.8L350.7 132.3z"/>
<path fill="#0f78db" d="M356.4 134.3L349.8 134.8L350.7 132.3L357.3 131.9z"/>
<path fill="#117ada" d="M363 133.9L356.4 134.3L357.3 131.9L363.9 131.4z"/>
<path fill="#127cd9" d="M369.6 133.4L363 133.9L363.9 131.4L370.5 130.9z"/>
<path fill="#137dd7" d="M376.2 132.9L369.6 133.4L370.5 130.9L377.1 130.4z"/>
<path fill="#137fd6" d="M382.8 132.4L376.2 132.9L377.1 130.4L383.6 129.9z"/>
<path fill="#1481d5" d="M389.4 131.9L382.8 132.4L383.6 129.9L390.2 129.5z"/>
<path fill="#1483d5" d="M396 131.5L389.4 131.9L390.2 129.5L396.8 129z"/>
<path fill="#1485d4" d="M402.6 131L396 131.5L396.8 129L403.4 128.5z"/>
<path fill="#1388d3" d="M409.2 129.7L402.6 131L403.4 128.5L410 127.2z"/>
<path fill="#118ed2" d="M415.8 127.1L409.2 129.7L410 127.2L416.6 124.6z"/>
<path fill="#0c94d2" d="M422.4 124.5L415.8 127.1L416.6 124.6L423.2 121.9z"/>
<path fill="#079cd0" d="M429 121.8L422.4 124.5L423.2 121.9L429.8 119.2z"/>
<path fill="#06a5c8" d="M435.5 119.1L429 121.8L429.8 119.2L436.4 116.4z"/>
<path fill="#0aacbe" d="M442.1 116.3L435.5 119.1L436.4 116.4L443 113.6z"/>
<path fill="#18b1b3" d="M448.7 113.5L442.1 116.3L443 113.6L449.6 110.8z"/>
<path fill="#2ab6a6" d="M455.3 110.6L448.7 113.5L449.6 110.8L456.2 107.9z"/>
<path fill="#48bb95" d="M461.9 105.2L455.3 110.6L456.2 107.9L462.8 102.5z"/>
<path fill="#73bf7f" d="M468.5 99.8L461.9 105.2L462.8 102.5L469.4 97.1z"/>
<path fill="#aabe69" d="M475.1 90.5L468.5 99.8L469.4 97.1L476 87.5z"/>
<path fill="#fcbd3f" d="M477.6 84.7L475.1 90.5L476 87.5L477.8 83.1z"/>
<path fill="#066edf" d="M329.2 138.7L322.6 139.2L323.4 136.7L330 136.3z"/>
<path fill="#0870df" d="M335.8 138.2L329.2 138.7L330 136.3L336.6 135.8z"/>
<path fill="#0a72de" d="M342.3 137.8L335.8 138.2L336.6 135.8L343.2 135.3z"/>
<path fill="#0c74dd" d="M348.9 137.3L342.3 137.8L343.2 135.3L349.8 134.8z"/>
<path fill="#0e76dc" d="M355.5 136.8L348.9 137.3L349.8 134.8L356.4 134.3z"/>
<path fill="#0f78da" d="M362.1 136.3L355.5 136.8L356.4 134.3L363 133.9z"/>
<path fill="#117ad9" d="M368.7 135.9L362.1 136.3L363 133.9L369.6 133.4z"/>
<path fill="#127cd8" d="M375.3 135.4L368.7 135.9L369.6 133.4L376.2 132.9z"/>
<path fill="#137ed7" d="M381.9 134.9L375.3 135.4L376.2 132.9L382.8 132.4z"/>
<path fill="#1480d6" d="M388.5 134.4L381.9 134.9L382.8 132.4L389.4 131.9z"/>
<path fill="#1482d5" d="M395.1 133.9L388.5 134.4L389.4 131.9L396 131.5z"/>
<path fill="#1484d4" d="M401.7 133.5L395.1 133.9L396 131.5L402.6 131z"/>
<path fill="#1486d3" d="M408.3 132.2L401.7 133.5L402.6 131L409.2 129.7z"/>
<path fill="#128bd2" d="M414.9 129.6L408.3 132.2L409.2 129.7L415.8 127.1z"/>
<path fill="#0d92d2" d="M421.5 127.1L414.9 129.6L415.8 127.1L422.4 124.5z"/>
<path fill="#0899d1" d="M428.1 124.4L421.5 127.1L422.4 124.5L429 121.8z"/>
<path fill="#06a2cb" d="M434.7 121.7L428.1 124.4L429 121.8L435.5 119.1z"/>
<path fill="#07aac2" d="M441.3 118.9L434.7 121.7L435.5 119.1L442.1 116.3z"/>
<path fill="#13b0b6" d="M447.9 116.2L441.3 118.9L442.1 116.3L448.7 113.5z"/>
<path fill="#23b5ab" d="M454.5 113.3L447.9 116.2L448.7 113.5L455.3 110.6z"/>
<path fill="#40ba99" d="M461.1 107.9L454.5 113.3L455.3 110.6L461.9 105.2z"/>
<path fill="#6abe83" d="M467.7 102.5L461.1 107.9L461.9 105.2L468.5 99.8z"/>
<path fill="#9fbe6d" d="M474.3 93.5L467.7 102.5L468.5 99.8L475.1 90.5z"/>
<path fill="#f8ba44" d="M477.3 86.2L474.3 93.5L475.1 90.5L477.6 84.7z"/>
<path fill="#046de0" d="M328.3 141.2L321.7 141.7L322.6 139.2L329.2 138.7z"/>
<path fill="#066fdf" d="M334.9 140.7L328.3 141.2L329.2 138.7L335.8 138.2z"/>
<path fill="#0871de" d="M341.5 140.2L334.9 140.7L335.8 138.2L342.3 137.8z"/>
<path fill="#0a73dd" d="M348.1 139.8L341.5 140.2L342.3 137.8L348.9 137.3z"/>
<path fill="#0c75dc" d="M354.7 139.3L348.1 139.8L348.9 137.3L355.5 136.8z"/>
<path fill="#0e77db" d="M361.3 138.8L354.7 139.3L355.5 136.8L362.1 136.3z"/>
<path fill="#1079da" d="M367.9 138.3L361.3 138.8L362.1 136.3L368.7 135.9z"/>
<path fill="#117ad9" d="M374.5 137.8L367.9 138.3L368.7 135.9L375.3 135.4z"/>
<path fill="#127cd8" d="M381.1 137.4L374.5 137.8L375.3 135.4L381.9 134.9z"/>
<path fill="#137ed7" d="M387.7 136.9L381.1 137.4L381.9 134.9L388.5 134.4z"/>
<path fill="#1480d6" d="M394.2 136.4L387.7 136.9L388.5 134.4L395.1 133.9z"/>
<path fill="#1482d5" d="M400.8 135.9L394.2 136.4L395.1 133.9L401.7 133.5z"/>
<path fill="#1485d4" d="M407.4 134.7L400.8 135.9L401.7 133.5L408.3 132.2z"/>
<path fill="#1389d3" d="M414 132.2L407.4 134.7L408.3 132.2L414.9 129.6z"/>
<path fill="#0f90d2" d="M420.6 129.6L414 132.2L414.9 129.6L421.5 127.1z"/>
<path fill="#0a97d1" d="M427.2 127.1L420.6 129.6L421.5 127.1L428.1 124.4z"/>
<path fill="#069fce" d="M433.8 124.3L427.2 127.1L428.1 124.4L434.7 121.7z"/>
<path fill="#06a7c5" d="M440.4 121.6L433.8 124.3L434.7 121.7L441.3 118.9z"/>
<path fill="#0eaeba" d="M447 118.8L440.4 121.6L441.3 118.9L447.9 116.2z"/>
<path fill="#1db3af" d="M453.6 116L447 118.8L447.9 116.2L454.5 113.3z"/>
<path fill="#38b99e" d="M460.2 110.6L453.6 116L454.5 113.3L461.1 107.9z"/>
<path fill="#61be87" d="M466.8 105.2L460.2 110.6L461.1 107.9L467.7 102.5z"/>
<path fill="#95bf71" d="M473.4 96.5L466.8 105.2L467.7 102.5L474.3 93.5z"/>
<path fill="#f2b949" d="M477.1 87.8L473.4 96.5L474.3 93.5L477.3 86.2z"/>
<path fill="#036be0" d="M327.4 143.7L320.8 144.2L321.7 141.7L328.3 141.2z"/>
<path fill="#056de0" d="M334 143.2L327.4 143.7L328.3 141.2L334.9 140.7z"/>
<path fill="#076fdf" d="M340.6 142.7L334 143.2L334.9 140.7L341.5 140.2z"/>
<path fill="#0971de" d="M347.2 142.2L340.6 142.7L341.5 140.2L348.1 139.8z"/>
<path fill="#0b73dd" d="M353.8 141.8L347.2 142.2L348.1 139.8L354.7 139.3z"/>
<path fill="#0d75dc" d="M360.4 141.3L353.8 141.8L354.7 139.3L361.3 138.8z"/>
<path fill="#0e77db" d="M367 140.8L360.4 141.3L361.3 138.8L367.9 138.3z"/>
<path fill="#1079da" d="M373.6 140.3L367 140.8L367.9 138.3L374.5 137.8z"/>
<path fill="#117bd9" d="M380.2 139.8L373.6 140.3L374.5 137.8L381.1 137.4z"/>
<path fill="#127dd8" d="M386.8 139.4L380.2 139.8L381.1 137.4L387.7 136.9z"/>
<path fill="#137ed7" d="M393.4 138.9L386.8 139.4L387.7 136.9L394.2 136.4z"/>
<path fill="#1480d6" d="M400 138.4L393.4 138.9L394.2 136.4L400.8 135.9z"/>
<path fill="#1483d5" d="M406.6 137.2L400 138.4L400.8 135.9L407.4 134.7z"/>
<path fill="#1487d3" d="M413.2 134.7L406.6 137.2L407.4 134.7L414 132.2z"/>
<path fill="#118ed2" d="M419.8 132.2L413.2 134.7L414 132.2L420.6 129.6z"/>
<path fill="#0c94d2" d="M426.4 129.7L419.8 132.2L420.6 129.6L427.2 127.1z"/>
<path fill="#079cd0" d="M433 127L426.4 129.7L427.2 127.1L433.8 124.3z"/>
<path fill="#06a5c8" d="M439.6 124.3L433 127L433.8 124.3L440.4 121.6z"/>
<path fill="#09acbe" d="M446.1 121.5L439.6 124.3L440.4 121.6L447 118.8z"/>
<path fill="#17b1b3" d="M452.7 118.7L446.1 121.5L447 118.8L453.6 116z"/>
<path fill="#31b8a2" d="M459.3 113.3L452.7 118.7L453.6 116L460.2 110.6z"/>
<path fill="#59bd8c" d="M465.9 107.9L459.3 113.3L460.2 110.6L466.8 105.2z"/>
<path fill="#8dbf74" d="M472.5 99.4L465.9 107.9L466.8 105.2L473.4 96.5z"/>
<path fill="#ecb94c" d="M476.8 89.3L472.5 99.4L473.4 96.5L477.1 87.8z"/>
<path fill="#0269e1" d="M326.6 146.1L320 146.6L320.8 144.2L327.4 143.7z"/>
<path fill="#036be0" d="M333.2 145.7L326.6 146.1L327.4 143.7L334 143.2z"/>
<path fill="#056ee0" d="M339.8 145.2L333.2 145.7L334 143.2L340.6 142.7z"/>
<path fill="#0770df" d="M346.4 144.7L339.8 145.2L340.6 142.7L347.2 142.2z"/>
<path fill="#0972de" d="M352.9 144.2L346.4 144.7L347.2 142.2L353.8 141.8z"/>
<path fill="#0b73dd" d="M359.5 143.8L352.9 144.2L353.8 141.8L360.4 141.3z"/>
<path fill="#0d75dc" d="M366.1 143.3L359.5 143.8L360.4 141.3L367 140.8z"/>
<path fill="#0f77db" d="M372.7 142.8L366.1 143.3L367 140.8L373.6 140.3z"/>
<path fill="#1079da" d="M379.3 142.3L372.7 142.8L373.6 140.3L380.2 139.8z"/>
<path fill="#117bd9" d="M385.9 141.8L379.3 142.3L380.2 139.8L386.8 139.4z"/>
<path fill="#137dd8" d="M392.5 141.4L385.9 141.8L386.8 139.4L393.4 138.9z"/>
<path fill="#137fd7" d="M399.1 140.9L392.5 141.4L393.4 138.9L400 138.4z"/>
<path fill="#1481d5" d="M405.7 139.7L399.1 140.9L400 138.4L406.6 137.2z"/>
<path fill="#1486d4" d="M412.3 137.3L405.7 139.7L406.6 137.2L413.2 134.7z"/>
<path fill="#128cd2" d="M418.9 134.8L412.3 137.3L413.2 134.7L419.8 132.2z"/>
<path fill="#0d92d2" d="M425.5 132.3L418.9 134.8L419.8 132.2L426.4 129.7z"/>
<path fill="#0899d1" d="M432.1 129.6L425.5 132.3L426.4 129.7L433 127z"/>
<path fill="#06a2cb" d="M438.7 126.9L432.1 129.6L433 127L439.6 124.3z"/>
<path fill="#07a9c2" d="M445.3 124.2L438.7 126.9L439.6 124.3L446.1 121.5z"/>
<path fill="#12afb7" d="M451.9 121.4L445.3 124.2L446.1 121.5L452.7 118.7z"/>
<path fill="#2ab6a6" d="M458.5 116.1L451.9 121.4L452.7 118.7L459.3 113.3z"/>
<path fill="#50bc90" d="M465.1 110.7L458.5 116.1L459.3 113.3L465.9 107.9z"/>
<path fill="#85bf78" d="M471.7 102.2L465.1 110.7L465.9 107.9L472.5 99.4z"/>
<path fill="#e2b952" d="M476.6 90.9L471.7 102.2L472.5 99.4L476.8 89.3z"/>
<path fill="#0267e1" d="M325.7 148.6L319.1 149.1L320 146.6L326.6 146.1z"/>
<path fill="#026ae1" d="M332.3 148.1L325.7 148.6L326.6 146.1L333.2 145.7z"/>
<path fill="#046ce0" d="M338.9 147.7L332.3 148.1L333.2 145.7L339.8 145.2z"/>
<path fill="#056ee0" d="M345.5 147.2L338.9 147.7L339.8 145.2L346.4 144.7z"/>
<path fill="#0770df" d="M352.1 146.7L345.5 147.2L346.4 144.7L352.9 144.2z"/>
<path fill="#0972de" d="M358.7 146.2L352.1 146.7L352.9 144.2L359.5 143.8z"/>
<path fill="#0c74dd" d="M365.3 145.8L358.7 146.2L359.5 143.8L366.1 143.3z"/>
<path fill="#0d76dc" d="M371.9 145.3L365.3 145.8L366.1 143.3L372.7 142.8z"/>
<path fill="#0f78db" d="M378.5 144.8L371.9 145.3L372.7 142.8L379.3 142.3z"/>
<path fill="#107ada" d="M385.1 144.3L378.5 144.8L379.3 142.3L385.9 141.8z"/>
<path fill="#127bd9" d="M391.7 143.8L385.1 144.3L385.9 141.8L392.5 141.4z"/>
<path fill="#137dd8" d="M398.3 143.4L391.7 143.8L392.5 141.4L399.1 140.9z"/>
<path fill="#1480d6" d="M404.8 142.2L398.3 143.4L399.1 140.9L405.7 139.7z"/>
<path fill="#1484d4" d="M411.4 139.8L404.8 142.2L405.7 139.7L412.3 137.3z"/>
<path fill="#1389d3" d="M418 137.4L411.4 139.8L412.3 137.3L418.9 134.8z"/>
<path fill="#0f90d2" d="M424.6 134.9L418 137.4L418.9 134.8L425.5 132.3z"/>
<path fill="#0a97d1" d="M431.2 132.2L424.6 134.9L425.5 132.3L432.1 129.6z"/>
<path fill="#069fce" d="M437.8 129.6L431.2 132.2L432.1 129.6L438.7 126.9z"/>
<path fill="#06a7c5" d="M444.4 126.9L437.8 129.6L438.7 126.9L445.3 124.2z"/>
<path fill="#0daebb" d="M451 124.2L444.4 126.9L445.3 124.2L451.9 121.4z"/>
<path fill="#23b4ab" d="M457.6 118.8L451 124.2L451.9 121.4L458.5 116.1z"/>
<path fill="#48bb95" d="M464.2 113.4L457.6 118.8L458.5 116.1L465.1 110.7z"/>
<path fill="#7dbf7b" d="M470.8 105L464.2 113.4L465.1 110.7L471.7 102.2z"/>
<path fill="#d7ba57" d="M476.4 92.4L470.8 105L471.7 102.2L476.6 90.9z"/>
<path fill="#0265e1" d="M324.8 151.1L322.9 151.2L319 149.4L319.1 149.1L325.7 148.6z"/>
<path fill="#0268e1" d="M331.4 150.6L324.8 151.1L325.7 148.6L332.3 148.1z"/>
<path fill="#036ae1" d="M338 150.1L331.4 150.6L332.3 148.1L338.9 147.7z"/>
<path fill="#046ce0" d="M344.6 149.7L338 150.1L338.9 147.7L345.5 147.2z"/>
<path fill="#066edf" d="M351.2 149.2L344.6 149.7L345.5 147.2L352.1 146.7z"/>
<path fill="#0870df" d="M357.8 148.7L351.2 149.2L352.1 146.7L358.7 146.2z"/>
<path fill="#0a72de" d="M364.4 148.2L357.8 148.7L358.7 146.2L365.3 145.8z"/>
<path fill="#0c74dd" d="M371 147.7L364.4 148.2L365.3 145.8L371.9 145.3z"/>
<path fill="#0e76dc" d="M377.6 147.3L371 147.7L371.9 145.3L378.5 144.8z"/>
<path fill="#0f78db" d="M384.2 146.8L377.6 147.3L378.5 144.8L385.1 144.3z"/>
<path fill="#117ada" d="M390.8 146.3L384.2 146.8L385.1 144.3L391.7 143.8z"/>
<path fill="#127cd8" d="M397.4 145.8L390.8 146.3L391.7 143.8L398.3 143.4z"/>
<path fill="#137ed7" d="M404 144.7L397.4 145.8L398.3 143.4L404.8 142.2z"/>
<path fill="#1482d5" d="M410.6 142.4L404 144.7L404.8 142.2L411.4 139.8z"/>
<path fill="#1487d3" d="M417.2 139.9L410.6 142.4L411.4 139.8L418 137.4z"/>
<path fill="#118ed2" d="M423.8 137.5L417.2 139.9L418 137.4L424.6 134.9z"/>
<path fill="#0c94d2" d="M430.4 134.9L423.8 137.5L424.6 134.9L431.2 132.2z"/>
<path fill="#079cd0" d="M437 132.2L430.4 134.9L431.2 132.2L437.8 129.6z"/>
<path fill="#06a5c9" d="M443.6 129.6L437 132.2L437.8 129.6L444.4 126.9z"/>
<path fill="#09abbf" d="M450.2 126.9L443.6 129.6L444.4 126.9L451 124.2z"/>
<path fill="#1db3af" d="M456.7 121.5L450.2 126.9L451 124.2L457.6 118.8z"/>
<path fill="#40ba99" d="M463.3 116.1L456.7 121.5L457.6 118.8L464.2 113.4z"/>
<path fill="#74bf7f" d="M469.9 107.8L463.3 116.1L464.2 113.4L470.8 105z"/>
<path fill="#ccbb5b" d="M476.2 94L469.9 107.8L470.8 105L476.4 92.4z"/>
<path fill="#0363e1" d="M322.9 151.2L324.8 151.1L324.5 152z"/>
<path fill="#0265e1" d="M330.6 153.1L327.4 153.3L324.5 152L324.8 151.1L331.4 150.6z"/>
<path fill="#0268e1" d="M337.2 152.6L330.6 153.1L331.4 150.6L338 150.1z"/>
<path fill="#036ae1" d="M343.8 152.1L337.2 152.6L338 150.1L344.6 149.7z"/>
<path fill="#046de0" d="M350.4 151.6L343.8 152.1L344.6 149.7L351.2 149.2z"/>
<path fill="#066fdf" d="M356.9 151.2L350.4 151.6L351.2 149.2L357.8 148.7z"/>
<path fill="#0871de" d="M363.5 150.7L356.9 151.2L357.8 148.7L364.4 148.2z"/>
<path fill="#0a73de" d="M370.1 150.2L363.5 150.7L364.4 148.2L371 147.7z"/>
<path fill="#0c75dd" d="M376.7 149.7L370.1 150.2L371 147.7L377.6 147.3z"/>
<path fill="#0e76db" d="M383.3 149.3L376.7 149.7L377.6 147.3L384.2 146.8z"/>
<path fill="#1078da" d="M389.9 148.8L383.3 149.3L384.2 146.8L390.8 146.3z"/>
<path fill="#117ad9" d="M396.5 148.3L389.9 148.8L390.8 146.3L397.4 145.8z"/>
<path fill="#127cd8" d="M403.1 147.3L396.5 148.3L397.4 145.8L404 144.7z"/>
<path fill="#1480d6" d="M409.7 144.9L403.1 147.3L404 144.7L410.6 142.4z"/>
<path fill="#1485d4" d="M416.3 142.5L409.7 144.9L410.6 142.4L417.2 139.9z"/>
<path fill="#128bd2" d="M422.9 140.1L416.3 142.5L417.2 139.9L423.8 137.5z"/>
<path fill="#0d92d2" d="M429.5 137.5L422.9 140.1L423.8 137.5L430.4 134.9z"/>
<path fill="#0999d1" d="M436.1 134.9L429.5 137.5L430.4 134.9L437 132.2z"/>
<path fill="#06a2cb" d="M442.7 132.2L436.1 134.9L437 132.2L443.6 129.6z"/>
<path fill="#07a9c2" d="M449.3 129.6L442.7 132.2L443.6 129.6L450.2 126.9z"/>
<path fill="#17b1b3" d="M455.9 124.2L449.3 129.6L450.2 126.9L456.7 121.5z"/>
<path fill="#38b99e" d="M462.5 118.8L455.9 124.2L456.7 121.5L463.3 116.1z"/>
<path fill="#6bbf83" d="M469.1 110.6L462.5 118.8L463.3 116.1L469.9 107.8z"/>
<path fill="#c1bc60" d="M475.7 96.3L469.1 110.6L469.9 107.8L476.2 94L476.1 94.8z"/>
<path fill="#fad12b" d="M475.9 95.5L475.7 96.3L476.1 94.8z"/>
<path fill="#0363e1" d="M327.4 153.3L330.6 153.1L330.1 154.5z"/>
<path fill="#0266e1" d="M336.3 155.1L331.9 155.4L330.1 154.5L330.6 153.1L337.2 152.6z"/>
<path fill="#0269e1" d="M342.9 154.6L336.3 155.1L337.2 152.6L343.8 152.1z"/>
<path fill="#036be1" d="M349.5 154.1L342.9 154.6L343.8 152.1L350.4 151.6z"/>
<path fill="#046de0" d="M356.1 153.6L349.5 154.1L350.4 151.6L356.9 151.2z"/>
<path fill="#066fdf" d="M362.7 153.2L356.1 153.6L356.9 151.2L363.5 150.7z"/>
<path fill="#0871de" d="M369.3 152.7L362.7 153.2L363.5 150.7L370.1 150.2z"/>
<path fill="#0b73dd" d="M375.9 152.2L369.3 152.7L370.1 150.2L376.7 149.7z"/>
<path fill="#0d75dc" d="M382.5 151.7L375.9 152.2L376.7 149.7L383.3 149.3z"/>
<path fill="#0e77db" d="M389.1 151.3L382.5 151.7L383.3 149.3L389.9 148.8z"/>
<path fill="#1079da" d="M395.7 150.8L389.1 151.3L389.9 148.8L396.5 148.3z"/>
<path fill="#117bd9" d="M402.3 149.8L395.7 150.8L396.5 148.3L403.1 147.3z"/>
<path fill="#137fd7" d="M408.9 147.4L402.3 149.8L403.1 147.3L409.7 144.9z"/>
<path fill="#1484d4" d="M415.4 145.1L408.9 147.4L409.7 144.9L416.3 142.5z"/>
<path fill="#1389d3" d="M422 142.7L415.4 145.1L416.3 142.5L422.9 140.1z"/>
<path fill="#0f90d2" d="M428.6 140.1L422 142.7L422.9 140.1L429.5 137.5z"/>
<path fill="#0a96d1" d="M435.2 137.5L428.6 140.1L429.5 137.5L436.1 134.9z"/>
<path fill="#069fce" d="M441.8 134.9L435.2 137.5L436.1 134.9L442.7 132.2z"/>
<path fill="#06a7c6" d="M448.4 132.3L441.8 134.9L442.7 132.2L449.3 129.6z"/>
<path fill="#12afb7" d="M455 126.9L448.4 132.3L449.3 129.6L455.9 124.2z"/>
<path fill="#31b8a2" d="M461.6 121.5L455 126.9L455.9 124.2L462.5 118.8z"/>
<path fill="#62be87" d="M468.2 113.3L461.6 121.5L462.5 118.8L469.1 110.6z"/>
<path fill="#b6bd64" d="M474.8 99.4L468.2 113.3L469.1 110.6L475.7 96.3z"/>
<path fill="#fccc2f" d="M475.6 97.1L474.8 99.4L475.7 96.3L475.9 95.5z"/>
<path fill="#0364e1" d="M331.9 155.4L336.3 155.1L335.6 157.1z"/>
<path fill="#0266e1" d="M342 157L336.4 157.5L335.6 157.1L336.3 155.1L342.9 154.6z"/>
<path fill="#0269e1" d="M348.6 156.6L342 157L342.9 154.6L349.5 154.1z"/>
<path fill="#036be0" d="M355.2 156.1L348.6 156.6L349.5 154.1L356.1 153.6z"/>
<path fill="#056de0" d="M361.8 155.6L355.2 156.1L356.1 153.6L362.7 153.2z"/>
<path fill="#076fdf" d="M368.4 155.2L361.8 155.6L362.7 153.2L369.3 152.7z"/>
<path fill="#0971de" d="M375 154.7L368.4 155.2L369.3 152.7L375.9 152.2z"/>
<path fill="#0b73dd" d="M381.6 154.2L375 154.7L375.9 152.2L382.5 151.7z"/>
<path fill="#0d75dc" d="M388.2 153.7L381.6 154.2L382.5 151.7L389.1 151.3z"/>
<path fill="#0f77db" d="M394.8 153.3L388.2 153.7L389.1 151.3L395.7 150.8z"/>
<path fill="#1079da" d="M401.4 152.3L394.8 153.3L395.7 150.8L402.3 149.8z"/>
<path fill="#137dd8" d="M408 150L401.4 152.3L402.3 149.8L408.9 147.4z"/>
<path fill="#1482d5" d="M414.6 147.7L408 150L408.9 147.4L415.4 145.1z"/>
<path fill="#1487d3" d="M421.2 145.3L414.6 147.7L415.4 145.1L422 142.7z"/>
<path fill="#118dd2" d="M427.8 142.8L421.2 145.3L422 142.7L428.6 140.1z"/>
<path fill="#0c94d2" d="M434.4 140.2L427.8 142.8L428.6 140.1L435.2 137.5z"/>
<path fill="#079cd0" d="M441 137.6L434.4 140.2L435.2 137.5L441.8 134.9z"/>
<path fill="#06a4c9" d="M447.6 135L441 137.6L441.8 134.9L448.4 132.3z"/>
<path fill="#0dadbb" d="M454.2 129.6L447.6 135L448.4 132.3L455 126.9z"/>
<path fill="#2ab6a7" d="M460.8 124.3L454.2 129.6L455 126.9L461.6 121.5z"/>
<path fill="#59bd8b" d="M467.3 116.1L460.8 124.3L461.6 121.5L468.2 113.3z"/>
<path fill="#aabe69" d="M473.9 102.5L467.3 116.1L468.2 113.3L474.8 99.4z"/>
<path fill="#fec733" d="M475.2 98.6L473.9 102.5L474.8 99.4L475.6 97.1z"/>
<path fill="#0364e1" d="M341.2 159.5L340.9 159.5L336.4 157.5L342 157z"/>
<path fill="#0267e1" d="M347.8 159L341.2 159.5L342 157L348.6 156.6z"/>
<path fill="#0269e1" d="M354.4 158.6L347.8 159L348.6 156.6L355.2 156.1z"/>
<path fill="#046ce0" d="M361 158.1L354.4 158.6L355.2 156.1L361.8 155.6z"/>
<path fill="#056ee0" d="M367.5 157.6L361 158.1L361.8 155.6L368.4 155.2z"/>
<path fill="#0770df" d="M374.1 157.2L367.5 157.6L368.4 155.2L375 154.7z"/>
<path fill="#0972de" d="M380.7 156.7L374.1 157.2L375 154.7L381.6 154.2z"/>
<path fill="#0b74dd" d="M387.3 156.2L380.7 156.7L381.6 154.2L388.2 153.7z"/>
<path fill="#0d76dc" d="M393.9 155.7L387.3 156.2L388.2 153.7L394.8 153.3z"/>
<path fill="#0f78db" d="M400.5 154.8L393.9 155.7L394.8 153.3L401.4 152.3z"/>
<path fill="#127bd9" d="M407.1 152.5L400.5 154.8L401.4 152.3L408 150z"/>
<path fill="#1480d6" d="M413.7 150.3L407.1 152.5L408 150L414.6 147.7z"/>
<path fill="#1485d4" d="M420.3 148L413.7 150.3L414.6 147.7L421.2 145.3z"/>
<path fill="#128bd2" d="M426.9 145.4L420.3 148L421.2 145.3L427.8 142.8z"/>
<path fill="#0e92d2" d="M433.5 142.9L426.9 145.4L427.8 142.8L434.4 140.2z"/>
<path fill="#0998d1" d="M440.1 140.3L433.5 142.9L434.4 140.2L441 137.6z"/>
<path fill="#06a1cc" d="M446.7 137.7L440.1 140.3L441 137.6L447.6 135z"/>
<path fill="#09abbf" d="M453.3 132.3L446.7 137.7L447.6 135L454.2 129.6z"/>
<path fill="#23b4ab" d="M459.9 127L453.3 132.3L454.2 129.6L460.8 124.3z"/>
<path fill="#50bc90" d="M466.5 118.9L459.9 127L460.8 124.3L467.3 116.1z"/>
<path fill="#9dbe6e" d="M473.1 105.5L466.5 118.9L467.3 116.1L473.9 102.5z"/>
<path fill="#ffc338" d="M474.9 100.2L473.1 105.5L473.9 102.5L475.2 98.6z"/>
<path fill="#0462e1" d="M340.9 159.5L341.2 159.5L341.1 159.6z"/>
<path fill="#0265e1" d="M346.9 161.5L345.4 161.6L341.1 159.6L341.2 159.5L347.8 159z"/>
<path fill="#0267e1" d="M353.5 161L346.9 161.5L347.8 159L354.4 158.6z"/>
<path fill="#026ae1" d="M360.1 160.6L353.5 161L354.4 158.6L361 158.1z"/>
<path fill="#046ce0" d="M366.7 160.1L360.1 160.6L361 158.1L367.5 157.6z"/>
<path fill="#056ee0" d="M373.3 159.6L366.7 160.1L367.5 157.6L374.1 157.2z"/>
<path fill="#0870df" d="M379.9 159.2L373.3 159.6L374.1 157.2L380.7 156.7z"/>
<path fill="#0a72de" d="M386.5 158.7L379.9 159.2L380.7 156.7L387.3 156.2z"/>
<path fill="#0c74dd" d="M393.1 158.2L386.5 158.7L387.3 156.2L393.9 155.7z"/>
<path fill="#0e76dc" d="M399.7 157.3L393.1 158.2L393.9 155.7L400.5 154.8z"/>
<path fill="#117ada" d="M406.3 155.1L399.7 157.3L400.5 154.8L407.1 152.5z"/>
<path fill="#137ed7" d="M412.9 152.8L406.3 155.1L407.1 152.5L413.7 150.3z"/>
<path fill="#1483d5" d="M419.4 150.6L412.9 152.8L413.7 150.3L420.3 148z"/>
<path fill="#1389d3" d="M426 148L419.4 150.6L420.3 148L426.9 145.4z"/>
<path fill="#0f8fd2" d="M432.6 145.5L426 148L426.9 145.4L433.5 142.9z"/>
<path fill="#0a96d1" d="M439.2 143L432.6 145.5L433.5 142.9L440.1 140.3z"/>
<path fill="#069ece" d="M445.8 140.4L439.2 143L440.1 140.3L446.7 137.7z"/>
<path fill="#07a9c3" d="M452.4 135L445.8 140.4L446.7 137.7L453.3 132.3z"/>
<path fill="#1cb3af" d="M459 129.7L452.4 135L453.3 132.3L459.9 127z"/>
<path fill="#48bb95" d="M465.6 121.7L459 129.7L459.9 127L466.5 118.9z"/>
<path fill="#94bf72" d="M472.2 108.6L465.6 121.7L466.5 118.9L473.1 105.5z"/>
<path fill="#fdbe3d" d="M474.6 101.7L472.2 108.6L473.1 105.5L474.9 100.2z"/>
<path fill="#0363e1" d="M345.4 161.6L346.9 161.5L346.7 162.2z"/>
<path fill="#0265e1" d="M352.6 163.5L350 163.7L346.7 162.2L346.9 161.5L353.5 161z"/>
<path fill="#0268e1" d="M359.2 163L352.6 163.5L353.5 161L360.1 160.6z"/>
<path fill="#036ae1" d="M365.8 162.6L359.2 163L360.1 160.6L366.7 160.1z"/>
<path fill="#046ce0" d="M372.4 162.1L365.8 162.6L366.7 160.1L373.3 159.6z"/>
<path fill="#066edf" d="M379 161.6L372.4 162.1L373.3 159.6L379.9 159.2z"/>
<path fill="#0870df" d="M385.6 161.2L379 161.6L379.9 159.2L386.5 158.7z"/>
<path fill="#0a72de" d="M392.2 160.7L385.6 161.2L386.5 158.7L393.1 158.2z"/>
<path fill="#0c75dc" d="M398.8 159.8L392.2 160.7L393.1 158.2L399.7 157.3z"/>
<path fill="#1078da" d="M405.4 157.6L398.8 159.8L399.7 157.3L406.3 155.1z"/>
<path fill="#127dd8" d="M412 155.4L405.4 157.6L406.3 155.1L412.9 152.8z"/>
<path fill="#1481d5" d="M418.6 153.2L412 155.4L412.9 152.8L419.4 150.6z"/>
<path fill="#1487d3" d="M425.2 150.7L418.6 153.2L419.4 150.6L426 148z"/>
<path fill="#118dd2" d="M431.8 148.2L425.2 150.7L426 148L432.6 145.5z"/>
<path fill="#0c94d2" d="M438.4 145.6L431.8 148.2L432.6 145.5L439.2 143z"/>
<path fill="#089bd0" d="M445 143.1L438.4 145.6L439.2 143L445.8 140.4z"/>
<path fill="#06a6c6" d="M451.6 137.8L445 143.1L445.8 140.4L452.4 135z"/>
<path fill="#17b1b3" d="M458.2 132.4L451.6 137.8L452.4 135L459 129.7z"/>
<path fill="#3fba99" d="M464.8 124.5L458.2 132.4L459 129.7L465.6 121.7z"/>
<path fill="#8bbf75" d="M471.3 111.7L464.8 124.5L465.6 121.7L472.2 108.6z"/>
<path fill="#f9bb43" d="M474.4 103.3L471.3 111.7L472.2 108.6L474.6 101.7z"/>
<path fill="#0363e1" d="M350 163.7L352.6 163.5L352.2 164.7z"/>
<path fill="#0266e1" d="M358.4 165.5L354.5 165.8L352.2 164.7L352.6 163.5L359.2 163z"/>
<path fill="#0268e1" d="M365 165L358.4 165.5L359.2 163L365.8 162.6z"/>
<path fill="#036be1" d="M371.6 164.6L365 165L365.8 162.6L372.4 162.1z"/>
<path fill="#046de0" d="M378.1 164.1L371.6 164.6L372.4 162.1L379 161.6z"/>
<path fill="#066fdf" d="M384.7 163.6L378.1 164.1L379 161.6L385.6 161.2z"/>
<path fill="#0871de" d="M391.3 163.2L384.7 163.6L385.6 161.2L392.2 160.7z"/>
<path fill="#0b73dd" d="M397.9 162.3L391.3 163.2L392.2 160.7L398.8 159.8z"/>
<path fill="#0e77db" d="M404.5 160.2L397.9 162.3L398.8 159.8L405.4 157.6z"/>
<path fill="#117bd9" d="M411.1 158L404.5 160.2L405.4 157.6L412 155.4z"/>
<path fill="#1480d6" d="M417.7 155.8L411.1 158L412 155.4L418.6 153.2z"/>
<path fill="#1485d4" d="M424.3 153.3L417.7 155.8L418.6 153.2L425.2 150.7z"/>
<path fill="#128bd3" d="M430.9 150.8L424.3 153.3L425.2 150.7L431.8 148.2z"/>
<path fill="#0e91d2" d="M437.5 148.3L430.9 150.8L431.8 148.2L438.4 145.6z"/>
<path fill="#0998d1" d="M444.1 145.8L437.5 148.3L438.4 145.6L445 143.1z"/>
<path fill="#06a4ca" d="M450.7 140.5L444.1 145.8L445 143.1L451.6 137.8z"/>
<path fill="#11afb7" d="M457.3 135.1L450.7 140.5L451.6 137.8L458.2 132.4z"/>
<path fill="#38b99e" d="M463.9 127.2L457.3 135.1L458.2 132.4L464.8 124.5z"/>
<path fill="#82bf79" d="M470.5 114.7L463.9 127.2L464.8 124.5L471.3 111.7z"/>
<path fill="#f2b949" d="M474.1 104.8L470.5 114.7L471.3 111.7L474.4 103.3z"/>
<path fill="#0364e1" d="M354.5 165.8L358.4 165.5L357.8 167.2z"/>
<path fill="#0266e1" d="M364.1 167.5L359.1 167.9L357.8 167.2L358.4 165.5L365 165z"/>
<path fill="#0269e1" d="M370.7 167L364.1 167.5L365 165L371.6 164.6z"/>
<path fill="#036be0" d="M377.3 166.6L370.7 167L371.6 164.6L378.1 164.1z"/>
<path fill="#056de0" d="M383.9 166.1L377.3 166.6L378.1 164.1L384.7 163.6z"/>
<path fill="#076fdf" d="M390.5 165.7L383.9 166.1L384.7 163.6L391.3 163.2z"/>
<path fill="#0971de" d="M397.1 164.8L390.5 165.7L391.3 163.2L397.9 162.3z"/>
<path fill="#0d75dc" d="M403.7 162.7L397.1 164.8L397.9 162.3L404.5 160.2z"/>
<path fill="#1079da" d="M410.3 160.6L403.7 162.7L404.5 160.2L411.1 158z"/>
<path fill="#137ed7" d="M416.9 158.4L410.3 160.6L411.1 158L417.7 155.8z"/>
<path fill="#1483d5" d="M423.5 155.9L416.9 158.4L417.7 155.8L424.3 153.3z"/>
<path fill="#1388d3" d="M430 153.5L423.5 155.9L424.3 153.3L430.9 150.8z"/>
<path fill="#108fd2" d="M436.6 151L430 153.5L430.9 150.8L437.5 148.3z"/>
<path fill="#0b95d2" d="M443.2 148.5L436.6 151L437.5 148.3L444.1 145.8z"/>
<path fill="#06a1cc" d="M449.8 143.2L443.2 148.5L444.1 145.8L450.7 140.5z"/>
<path fill="#0cadbb" d="M456.4 137.8L449.8 143.2L450.7 140.5L457.3 135.1z"/>
<path fill="#30b7a2" d="M463 130L456.4 137.8L457.3 135.1L463.9 127.2z"/>
<path fill="#78bf7d" d="M469.6 117.8L463 130L463.9 127.2L470.5 114.7z"/>
<path fill="#eab94d" d="M473.9 106.4L469.6 117.8L470.5 114.7L474.1 104.8z"/>
<path fill="#0364e1" d="M359.1 167.9L364.1 167.5L363.3 169.8z"/>
<path fill="#0267e1" d="M369.8 169.5L363.7 170L363.3 169.8L364.1 167.5L370.7 167z"/>
<path fill="#0269e1" d="M376.4 169.1L369.8 169.5L370.7 167L377.3 166.6z"/>
<path fill="#036be0" d="M383 168.6L376.4 169.1L377.3 166.6L383.9 166.1z"/>
<path fill="#056de0" d="M389.6 168.1L383 168.6L383.9 166.1L390.5 165.7z"/>
<path fill="#0770df" d="M396.2 167.3L389.6 168.1L390.5 165.7L397.1 164.8z"/>
<path fill="#0b73dd" d="M402.8 165.2L396.2 167.3L397.1 164.8L403.7 162.7z"/>
<path fill="#0f78db" d="M409.4 163.1L402.8 165.2L403.7 162.7L410.3 160.6z"/>
<path fill="#127cd8" d="M416 161L409.4 163.1L410.3 160.6L416.9 158.4z"/>
<path fill="#1481d6" d="M422.6 158.6L416 161L416.9 158.4L423.5 155.9z"/>
<path fill="#1486d4" d="M429.2 156.1L422.6 158.6L423.5 155.9L430 153.5z"/>
<path fill="#118cd2" d="M435.8 153.7L429.2 156.1L430 153.5L436.6 151z"/>
<path fill="#0d93d2" d="M442.4 151.2L435.8 153.7L436.6 151L443.2 148.5z"/>
<path fill="#079ecf" d="M449 145.9L442.4 151.2L443.2 148.5L449.8 143.2z"/>
<path fill="#09abbf" d="M455.6 140.6L449 145.9L449.8 143.2L456.4 137.8z"/>
<path fill="#29b6a7" d="M462.2 132.8L455.6 140.6L456.4 137.8L463 130z"/>
<path fill="#6ebf81" d="M468.8 120.9L462.2 132.8L463 130L469.6 117.8z"/>
<path fill="#ddba54" d="M473.7 107.9L468.8 120.9L469.6 117.8L473.9 106.4z"/>
<path fill="#0365e1" d="M369 172L368.3 172L363.7 170L369.8 169.5z"/>
<path fill="#0267e1" d="M375.6 171.5L369 172L369.8 169.5L376.4 169.1z"/>
<path fill="#0269e1" d="M382.2 171.1L375.6 171.5L376.4 169.1L383 168.6z"/>
<path fill="#046ce0" d="M388.7 170.6L382.2 171.1L383 168.6L389.6 168.1z"/>
<path fill="#056ee0" d="M395.3 169.9L388.7 170.6L389.6 168.1L396.2 167.3z"/>
<path fill="#0972de" d="M401.9 167.8L395.3 169.9L396.2 167.3L402.8 165.2z"/>
<path fill="#0e76dc" d="M408.5 165.7L401.9 167.8L402.8 165.2L409.4 163.1z"/>
<path fill="#117ad9" d="M415.1 163.6L408.5 165.7L409.4 163.1L416 161z"/>
<path fill="#137fd7" d="M421.7 161.2L415.1 163.6L416 161L422.6 158.6z"/>
<path fill="#1484d4" d="M428.3 158.8L421.7 161.2L422.6 158.6L429.2 156.1z"/>
<path fill="#138ad3" d="M434.9 156.4L428.3 158.8L429.2 156.1L435.8 153.7z"/>
<path fill="#0f90d2" d="M441.5 153.9L434.9 156.4L435.8 153.7L442.4 151.2z"/>
<path fill="#089ad0" d="M448.1 148.6L441.5 153.9L442.4 151.2L449 145.9z"/>
<path fill="#07a9c3" d="M454.7 143.3L448.1 148.6L449 145.9L455.6 140.6z"/>
<path fill="#22b4ac" d="M461.3 135.6L454.7 143.3L455.6 140.6L462.2 132.8z"/>
<path fill="#64be86" d="M467.9 123.9L461.3 135.6L462.2 132.8L468.8 120.9z"/>
<path fill="#d0bb5a" d="M473.6 109.5L467.9 123.9L468.8 120.9L473.7 107.9z"/>
</g>
<path d="M467.9 123.9h0M469.3 118.9h0M470.7 113.9h0M472.1 108.9h0M473.5 103.9h0M475 98.8h0M461.3 135.6h0M462.7 131h0M464.1 126.5h0M465.5 121.9h0M466.9 117.4h0M468.4 112.8h0M469.8 108.3h0M471.2 103.7h0M472.6 99.2h0M474 94.4h0M475.4 89.5h0M476.8 84.6h0M478.2 79.6h0M454.7 143.3h0M456.1 138.8h0M457.5 134.4h0M458.9 129.9h0M460.4 125.5h0M461.8 121.1h0M463.2 116.6h0M464.6 112.2h0M466 107.7h0M467.4 103.3h0M468.8 98.8h0M470.2 94.4h0M471.7 89.9h0M473.1 85.5h0M474.5 81.2h0M448.1 148.6h0M449.5 144.2h0M450.9 139.7h0M452.3 135.3h0M453.8 130.9h0M455.2 126.4h0M456.6 122h0M458 117.6h0M459.4 113.1h0M460.8 108.7h0M462.2 104.3h0M463.6 99.8h0M465.1 95.4h0M466.5 90.9h0M441.5 153.9h0M442.9 149.5h0M444.3 145.1h0M445.7 140.7h0M447.2 136.2h0M448.6 131.8h0M450 127.4h0M451.4 122.9h0M452.8 118.5h0M454.2 114.1h0M455.6 109.7h0M457.1 105.2h0M458.5 100.8h0M459.9 96.4h0M434.9 156.4h0M436.3 152h0M437.7 147.6h0M439.2 143.2h0M440.6 138.8h0M442 134.5h0M443.4 130.1h0M444.8 125.7h0M446.2 121.3h0M447.6 116.9h0M449 112.5h0M450.5 108.1h0M451.9 103.8h0M453.3 99.4h0M428.3 158.8h0M429.7 154.4h0M431.1 150.1h0M432.6 145.8h0M434 141.4h0M435.4 137.1h0M436.8 132.7h0M438.2 128.4h0M439.6 124h0M441 119.7h0M442.4 115.4h0M443.9 111h0M445.3 106.7h0M421.7 161.2h0M423.1 156.9h0M424.6 152.6h0M426 148.3h0M427.4 144h0M428.8 139.7h0M430.2 135.4h0M431.6 131.1h0M433 126.8h0M434.4 122.5h0M435.9 118.2h0M437.3 113.8h0M415.1 163.6h0M416.5 159.4h0M418 155.1h0M419.4 150.8h0M420.8 146.5h0M422.2 142.3h0M423.6 138h0M425 133.7h0M426.4 129.5h0M427.8 125.2h0M408.5 165.7h0M409.9 161.5h0M411.4 157.3h0M412.8 153.1h0M414.2 148.9h0M415.6 144.6h0M417 140.4h0M418.4 136.2h0M401.9 167.8h0M403.4 163.6h0M404.8 159.5h0M406.2 155.3h0M407.6 151.2h0M409 147h0M395.3 169.9h0M396.8 165.7h0M398.2 161.6h0" stroke="#000" stroke-width="2.6" stroke-linecap="round" fill="none"/>
<path d="M429.3 120.9h0M430.7 116.6h0M432.1 112.4h0M433.5 108.1h0M434.9 103.8h0M436.3 99.5h0M437.7 95.3h0M439.1 91h0M440.6 86.7h0M442 82.5h0M443.4 78.2h0M444.8 71.3h0M446.2 63.8h0M447.6 56.3h0M449 48.8h0M419.8 132h0M421.2 127.8h0M422.7 123.6h0M424.1 119.4h0M425.5 115.2h0M426.9 110.9h0M428.3 106.7h0M429.7 102.5h0M431.1 98.3h0M432.5 94.1h0M434 89.9h0M435.4 85.7h0M436.8 81.5h0M438.2 76.9h0M439.6 70h0M441 62.5h0M442.4 54.3h0M443.8 45.9h0M410.4 142.8h0M411.8 138.7h0M413.2 134.5h0M414.7 130.4h0M416.1 126.2h0M417.5 122.1h0M418.9 117.9h0M420.3 113.7h0M421.7 109.6h0M423.1 105.4h0M424.5 101.3h0M426 97.1h0M427.4 93h0M428.8 88.8h0M430.2 84.6h0M431.6 80.5h0M433 76h0M434.4 68.7h0M435.8 61.1h0M437.3 52h0M438.7 42.7h0M399.6 157.5h0M401 153.4h0M402.4 149.3h0M403.8 145.2h0M405.2 141.1h0M406.6 137h0M408.1 132.9h0M409.5 128.8h0M410.9 124.7h0M412.3 120.6h0M413.7 116.5h0M415.1 112.4h0M416.5 108.3h0M417.9 104.2h0M419.4 100.1h0M420.8 96h0M422.2 91.9h0M423.6 87.8h0M425 83.7h0M426.4 79.5h0M427.8 74.6h0M429.2 67.5h0M430.7 59.5h0M432.1 49.5h0M433.5 39.4h0" stroke="#ff0" stroke-width="2.3" stroke-linecap="round" fill="none"/>
<path d="M429.5 46l3.2 -2v4z" fill="#00f"/>
<circle cx="434.8" cy="45.7" r="1.5" fill="#00f"/>
<circle cx="434.4" cy="66.9" r="1.5" fill="#f0f"/>
<path d="M309.6 165.5L479.2 184.4M479.2 184.4L522.4 110.4M309.6 165.5L309.6 91.2M479.2 184.4L477.5 187.2M450.9 181.2L449.3 184.1M422.7 178.1L421 180.9M394.4 174.9L392.7 177.8M366.1 171.8L364.5 174.6M337.9 168.7L336.2 171.5M309.6 165.5L307.9 168.3M479.2 184.4L482.5 184.8M490 165.9L493.3 166.3M500.8 147.4L504.1 147.8M511.6 128.9L514.9 129.3M522.4 110.4L525.7 110.8M309.6 165.5L305.2 166M309.6 153.1L305.2 153.6M309.6 140.7L305.2 141.2M309.6 128.3L305.2 128.8M309.6 116L305.2 116.5M309.6 103.6L305.2 104.1M309.6 91.2L305.2 91.7" stroke="#8a8a8a" stroke-width="0.9" fill="none"/>
<g font-family="Liberation Sans, Arial, sans-serif" font-size="8.6" fill="#333"><text x="302.4" y="168" text-anchor="end">500</text>
<text x="302.4" y="155.6" text-anchor="end">550</text>
<text x="302.4" y="143.2" text-anchor="end">600</text>
<text x="302.4" y="130.8" text-anchor="end">650</text>
<text x="302.4" y="118.5" text-anchor="end">700</text>
<text x="302.4" y="106.1" text-anchor="end">750</text>
<text x="302.4" y="93.7" text-anchor="end">800</text>
<text x="475.8" y="197.7" text-anchor="end">0</text>
<text x="447.5" y="194.6" text-anchor="end">0.5</text>
<text x="419.3" y="191.4" text-anchor="end">1</text>
<text x="391" y="188.2" text-anchor="end">1.5</text>
<text x="362.7" y="185.1" text-anchor="end">2</text>
<text x="334.5" y="182" text-anchor="end">2.5</text>
<text x="306.2" y="178.8" text-anchor="end">3</text>
<text x="486.2" y="192" text-anchor="start">0.3</text>
<text x="497" y="173.5" text-anchor="start">0.4</text>
<text x="507.8" y="155" text-anchor="start">0.5</text>
<text x="518.6" y="136.5" text-anchor="start">0.6</text>
<text x="529.4" y="118" text-anchor="start">0.7</text>
<text x="401" y="201.7" text-anchor="middle" font-size="9.5">S/C</text>
<text x="523.5" y="188.2" text-anchor="middle" font-size="9.5">O/C</text>
<text transform="translate(283.8 128) rotate(-90)" text-anchor="middle" font-size="9.5">Temperature [°C]</text></g>
<text x="415.4" y="13.4" text-anchor="middle" font-family="Liberation Sans, Arial, sans-serif" font-weight="bold" font-size="9.4" fill="#111">Propane</text>
<text x="408.9" y="220.7" text-anchor="middle" font-family="Liberation Serif, Times New Roman, serif" font-size="16.5" fill="#111">(<tspan font-weight="bold">b</tspan>)</text>
</g>
<g>
<path d="M211.6 420.4L254 346.8M254 346.8L254 273.3M183.4 417.2L225.8 343.6M225.8 343.6L225.8 270.1M155.2 413.9L197.6 340.3M197.6 340.3L197.6 266.8M126.9 410.7L169.3 337.1M169.3 337.1L169.3 263.6M98.7 407.5L141.1 333.9M141.1 333.9L141.1 260.4M70.5 404.2L112.9 330.6M112.9 330.6L112.9 257.1M42.3 401L84.7 327.4M84.7 327.4L84.7 253.9M211.6 420.4L42.3 401M42.3 401L42.3 327.5M222.2 402L52.9 382.6M52.9 382.6L52.9 309.1M232.8 383.6L63.5 364.2M63.5 364.2L63.5 290.7M243.4 365.2L74.1 345.8M74.1 345.8L74.1 272.3M254 346.8L84.7 327.4M84.7 327.4L84.7 253.9M42.3 401L84.7 327.4M84.7 327.4L254 346.8M42.3 388.8L84.7 315.2M84.7 315.2L254 334.6M42.3 376.5L84.7 302.9M84.7 302.9L254 322.3M42.3 364.2L84.7 290.7M84.7 290.7L254 310.1M42.3 352L84.7 278.4M84.7 278.4L254 297.8M42.3 339.8L84.7 266.2M84.7 266.2L254 285.6M42.3 327.5L84.7 253.9M84.7 253.9L254 273.3" stroke="#eeeeee" stroke-width="0.6" fill="none"/>
<g stroke="#000" stroke-width="0.4" stroke-opacity="0.8" stroke-linejoin="round">
<path fill="#06a0cd" d="M90 290.9L83.4 290.8L84.7 287L91.3 287.2z"/>
<path fill="#06a1cc" d="M96.6 291.1L90 290.9L91.3 287.2L97.9 287.4z"/>
<path fill="#06a2cb" d="M103.2 291.3L96.6 291.1L97.9 287.4L104.5 287.5z"/>
<path fill="#06a3ca" d="M109.8 291.5L103.2 291.3L104.5 287.5L111 287.7z"/>
<path fill="#06a4c9" d="M116.3 291.7L109.8 291.5L111 287.7L117.6 287.9z"/>
<path fill="#06a5c8" d="M122.9 291.9L116.3 291.7L117.6 287.9L124.2 288.1z"/>
<path fill="#06a6c7" d="M129.5 292L122.9 291.9L124.2 288.1L130.8 288.3z"/>
<path fill="#06a7c6" d="M136.1 292.2L129.5 292L130.8 288.3L137.4 288.5z"/>
<path fill="#06a7c5" d="M142.7 292.4L136.1 292.2L137.4 288.5L144 288.7z"/>
<path fill="#06a8c4" d="M149.3 292.6L142.7 292.4L144 288.7L150.5 288.9z"/>
<path fill="#07a9c3" d="M155.8 292.8L149.3 292.6L150.5 288.9L157.1 289.1z"/>
<path fill="#07aac2" d="M162.4 292.9L155.8 292.8L157.1 289.1L163.7 289.2z"/>
<path fill="#08aac1" d="M169 293.1L162.4 292.9L163.7 289.2L170.3 289.4z"/>
<path fill="#079cd0" d="M88.7 294.7L82.1 294.6L83.4 290.8L90 290.9z"/>
<path fill="#079dcf" d="M95.3 294.9L88.7 294.7L90 290.9L96.6 291.1z"/>
<path fill="#069fce" d="M101.9 295.1L95.3 294.9L96.6 291.1L103.2 291.3z"/>
<path fill="#06a0cd" d="M108.5 295.3L101.9 295.1L103.2 291.3L109.8 291.5z"/>
<path fill="#06a2cc" d="M115 295.4L108.5 295.3L109.8 291.5L116.3 291.7z"/>
<path fill="#06a3cb" d="M121.6 295.6L115 295.4L116.3 291.7L122.9 291.9z"/>
<path fill="#06a4ca" d="M128.2 295.8L121.6 295.6L122.9 291.9L129.5 292z"/>
<path fill="#06a4c9" d="M134.8 296L128.2 295.8L129.5 292L136.1 292.2z"/>
<path fill="#06a5c8" d="M141.4 296.1L134.8 296L136.1 292.2L142.7 292.4z"/>
<path fill="#06a6c7" d="M148 296.3L141.4 296.1L142.7 292.4L149.3 292.6z"/>
<path fill="#06a7c6" d="M154.6 296.5L148 296.3L149.3 292.6L155.8 292.8z"/>
<path fill="#06a8c5" d="M161.1 296.7L154.6 296.5L155.8 292.8L162.4 292.9z"/>
<path fill="#06a8c3" d="M167.7 296.8L161.1 296.7L162.4 292.9L169 293.1z"/>
<path fill="#0998d1" d="M87.4 298.5L80.8 298.4L82.1 294.6L88.7 294.7z"/>
<path fill="#0899d1" d="M94 298.7L87.4 298.5L88.7 294.7L95.3 294.9z"/>
<path fill="#079bd0" d="M100.6 298.9L94 298.7L95.3 294.9L101.9 295.1z"/>
<path fill="#079dcf" d="M107.2 299L100.6 298.9L101.9 295.1L108.5 295.3z"/>
<path fill="#079ece" d="M113.8 299.2L107.2 299L108.5 295.3L115 295.4z"/>
<path fill="#069fce" d="M120.3 299.4L113.8 299.2L115 295.4L121.6 295.6z"/>
<path fill="#06a1cd" d="M126.9 299.5L120.3 299.4L121.6 295.6L128.2 295.8z"/>
<path fill="#06a2cb" d="M133.5 299.7L126.9 299.5L128.2 295.8L134.8 296z"/>
<path fill="#06a3ca" d="M140.1 299.9L133.5 299.7L134.8 296L141.4 296.1z"/>
<path fill="#06a4c9" d="M146.7 300L140.1 299.9L141.4 296.1L148 296.3z"/>
<path fill="#06a5c8" d="M153.3 300.2L146.7 300L148 296.3L154.6 296.5z"/>
<path fill="#06a6c7" d="M159.9 300.4L153.3 300.2L154.6 296.5L161.1 296.7z"/>
<path fill="#06a6c6" d="M166.4 300.5L159.9 300.4L161.1 296.7L167.7 296.8z"/>
<path fill="#0d93d2" d="M86.1 302.3L79.6 302.1L80.8 298.4L87.4 298.5z"/>
<path fill="#0b95d2" d="M92.7 302.5L86.1 302.3L87.4 298.5L94 298.7z"/>
<path fill="#0a96d1" d="M99.3 302.6L92.7 302.5L94 298.7L100.6 298.9z"/>
<path fill="#0998d1" d="M105.9 302.8L99.3 302.6L100.6 298.9L107.2 299z"/>
<path fill="#089ad0" d="M112.5 302.9L105.9 302.8L107.2 299L113.8 299.2z"/>
<path fill="#079cd0" d="M119.1 303.1L112.5 302.9L113.8 299.2L120.3 299.4z"/>
<path fill="#079dcf" d="M125.6 303.3L119.1 303.1L120.3 299.4L126.9 299.5z"/>
<path fill="#069fce" d="M132.2 303.4L125.6 303.3L126.9 299.5L133.5 299.7z"/>
<path fill="#06a0cd" d="M138.8 303.6L132.2 303.4L133.5 299.7L140.1 299.9z"/>
<path fill="#06a1cc" d="M145.4 303.7L138.8 303.6L140.1 299.9L146.7 300z"/>
<path fill="#06a3cb" d="M152 303.9L145.4 303.7L146.7 300L153.3 300.2z"/>
<path fill="#06a4ca" d="M158.6 304.1L152 303.9L153.3 300.2L159.9 300.4z"/>
<path fill="#06a4c9" d="M165.2 304.2L158.6 304.1L159.9 300.4L166.4 300.5z"/>
<path fill="#118ed2" d="M84.9 306.1L78.3 305.9L79.6 302.1L86.1 302.3z"/>
<path fill="#0f90d2" d="M91.4 306.2L84.9 306.1L86.1 302.3L92.7 302.5z"/>
<path fill="#0e92d2" d="M98 306.4L91.4 306.2L92.7 302.5L99.3 302.6z"/>
<path fill="#0c94d2" d="M104.6 306.5L98 306.4L99.3 302.6L105.9 302.8z"/>
<path fill="#0b95d1" d="M111.2 306.7L104.6 306.5L105.9 302.8L112.5 302.9z"/>
<path fill="#0997d1" d="M117.8 306.9L111.2 306.7L112.5 302.9L119.1 303.1z"/>
<path fill="#0899d1" d="M124.4 307L117.8 306.9L119.1 303.1L125.6 303.3z"/>
<path fill="#089bd0" d="M130.9 307.2L124.4 307L125.6 303.3L132.2 303.4z"/>
<path fill="#079ccf" d="M137.5 307.3L130.9 307.2L132.2 303.4L138.8 303.6z"/>
<path fill="#079ecf" d="M144.1 307.5L137.5 307.3L138.8 303.6L145.4 303.7z"/>
<path fill="#069fce" d="M150.7 307.6L144.1 307.5L145.4 303.7L152 303.9z"/>
<path fill="#06a1cd" d="M157.3 307.8L150.7 307.6L152 303.9L158.6 304.1z"/>
<path fill="#06a2cb" d="M163.9 307.9L157.3 307.8L158.6 304.1L165.2 304.2z"/>
<path fill="#1389d3" d="M83.6 309.9L77 309.7L78.3 305.9L84.9 306.1z"/>
<path fill="#128bd3" d="M90.2 310L83.6 309.9L84.9 306.1L91.4 306.2z"/>
<path fill="#118dd2" d="M96.7 310.1L90.2 310L91.4 306.2L98 306.4z"/>
<path fill="#108fd2" d="M103.3 310.3L96.7 310.1L98 306.4L104.6 306.5z"/>
<path fill="#0e91d2" d="M109.9 310.4L103.3 310.3L104.6 306.5L111.2 306.7z"/>
<path fill="#0d93d2" d="M116.5 310.5L109.9 310.4L111.2 306.7L117.8 306.9z"/>
<path fill="#0b95d2" d="M123.1 310.7L116.5 310.5L117.8 306.9L124.4 307z"/>
<path fill="#0a97d1" d="M129.7 310.8L123.1 310.7L124.4 307L130.9 307.2z"/>
<path fill="#0998d1" d="M136.2 311L129.7 310.8L130.9 307.2L137.5 307.3z"/>
<path fill="#089ad0" d="M142.8 311.1L136.2 311L137.5 307.3L144.1 307.5z"/>
<path fill="#079cd0" d="M149.4 311.2L142.8 311.1L144.1 307.5L150.7 307.6z"/>
<path fill="#079dcf" d="M156 311.4L149.4 311.2L150.7 307.6L157.3 307.8z"/>
<path fill="#069fce" d="M162.6 311.5L156 311.4L157.3 307.8L163.9 307.9z"/>
<path fill="#1484d4" d="M82.3 313.6L75.7 313.5L77 309.7L83.6 309.9z"/>
<path fill="#1486d3" d="M88.9 313.7L82.3 313.6L83.6 309.9L90.2 310z"/>
<path fill="#1388d3" d="M95.5 313.7L88.9 313.7L90.2 310L96.7 310.1z"/>
<path fill="#128ad3" d="M102 313.8L95.5 313.7L96.7 310.1L103.3 310.3z"/>
<path fill="#118dd2" d="M108.6 313.9L102 313.8L103.3 310.3L109.9 310.4z"/>
<path fill="#108fd2" d="M115.2 314L108.6 313.9L109.9 310.4L116.5 310.5z"/>
<path fill="#0e91d2" d="M121.8 314L115.2 314L116.5 310.5L123.1 310.7z"/>
<path fill="#0c93d2" d="M128.4 314.1L121.8 314L123.1 310.7L129.7 310.8z"/>
<path fill="#0b95d1" d="M135 314.2L128.4 314.1L129.7 310.8L136.2 311z"/>
<path fill="#0997d1" d="M141.5 314.3L135 314.2L136.2 311L142.8 311.1z"/>
<path fill="#0899d1" d="M148.1 314.3L141.5 314.3L142.8 311.1L149.4 311.2z"/>
<path fill="#079bd0" d="M154.7 314.4L148.1 314.3L149.4 311.2L156 311.4z"/>
<path fill="#079dcf" d="M161.3 314.5L154.7 314.4L156 311.4L162.6 311.5z"/>
<path fill="#1481d6" d="M81 317.3L74.4 317.3L75.7 313.5L82.3 313.6z"/>
<path fill="#1482d5" d="M87.6 317.3L81 317.3L82.3 313.6L88.9 313.7z"/>
<path fill="#1484d4" d="M94.2 317.3L87.6 317.3L88.9 313.7L95.5 313.7z"/>
<path fill="#1486d3" d="M100.8 317.4L94.2 317.3L95.5 313.7L102 313.8z"/>
<path fill="#1389d3" d="M107.3 317.4L100.8 317.4L102 313.8L108.6 313.9z"/>
<path fill="#128bd2" d="M113.9 317.4L107.3 317.4L108.6 313.9L115.2 314z"/>
<path fill="#118dd2" d="M120.5 317.4L113.9 317.4L115.2 314L121.8 314z"/>
<path fill="#0f90d2" d="M127.1 317.4L120.5 317.4L121.8 314L128.4 314.1z"/>
<path fill="#0d92d2" d="M133.7 317.4L127.1 317.4L128.4 314.1L135 314.2z"/>
<path fill="#0c94d2" d="M140.3 317.4L133.7 317.4L135 314.2L141.5 314.3z"/>
<path fill="#0a97d1" d="M146.8 317.4L140.3 317.4L141.5 314.3L148.1 314.3z"/>
<path fill="#0899d1" d="M153.4 317.4L146.8 317.4L148.1 314.3L154.7 314.4z"/>
<path fill="#079bd0" d="M160 317.4L153.4 317.4L154.7 314.4L161.3 314.5z"/>
<path fill="#127dd8" d="M79.7 321.1L73.1 321.1L74.4 317.3L81 317.3z"/>
<path fill="#137fd7" d="M86.3 321L79.7 321.1L81 317.3L87.6 317.3z"/>
<path fill="#1481d6" d="M92.9 320.9L86.3 321L87.6 317.3L94.2 317.3z"/>
<path fill="#1483d5" d="M99.5 320.9L92.9 320.9L94.2 317.3L100.8 317.4z"/>
<path fill="#1485d4" d="M106.1 320.8L99.5 320.9L100.8 317.4L107.3 317.4z"/>
<path fill="#1487d3" d="M112.6 320.8L106.1 320.8L107.3 317.4L113.9 317.4z"/>
<path fill="#138ad3" d="M119.2 320.7L112.6 320.8L113.9 317.4L120.5 317.4z"/>
<path fill="#118cd2" d="M125.8 320.7L119.2 320.7L120.5 317.4L127.1 317.4z"/>
<path fill="#108fd2" d="M132.4 320.6L125.8 320.7L127.1 317.4L133.7 317.4z"/>
<path fill="#0e91d2" d="M139 320.6L132.4 320.6L133.7 317.4L140.3 317.4z"/>
<path fill="#0c94d2" d="M145.6 320.5L139 320.6L140.3 317.4L146.8 317.4z"/>
<path fill="#0a96d1" d="M152.1 320.5L145.6 320.5L146.8 317.4L153.4 317.4z"/>
<path fill="#0899d1" d="M158.7 320.4L152.1 320.5L153.4 317.4L160 317.4z"/>
<path fill="#1079da" d="M78.4 324.8L71.9 324.9L73.1 321.1L79.7 321.1z"/>
<path fill="#127bd9" d="M85 324.7L78.4 324.8L79.7 321.1L86.3 321z"/>
<path fill="#137dd8" d="M91.6 324.5L85 324.7L86.3 321L92.9 320.9z"/>
<path fill="#137fd6" d="M98.2 324.4L91.6 324.5L92.9 320.9L99.5 320.9z"/>
<path fill="#1482d5" d="M104.8 324.3L98.2 324.4L99.5 320.9L106.1 320.8z"/>
<path fill="#1484d4" d="M111.4 324.2L104.8 324.3L106.1 320.8L112.6 320.8z"/>
<path fill="#1486d3" d="M117.9 324.1L111.4 324.2L112.6 320.8L119.2 320.7z"/>
<path fill="#1389d3" d="M124.5 324L117.9 324.1L119.2 320.7L125.8 320.7z"/>
<path fill="#128bd2" d="M131.1 323.8L124.5 324L125.8 320.7L132.4 320.6z"/>
<path fill="#108ed2" d="M137.7 323.7L131.1 323.8L132.4 320.6L139 320.6z"/>
<path fill="#0e91d2" d="M144.3 323.6L137.7 323.7L139 320.6L145.6 320.5z"/>
<path fill="#0c94d2" d="M150.9 323.5L144.3 323.6L145.6 320.5L152.1 320.5z"/>
<path fill="#0a97d1" d="M157.4 323.4L150.9 323.5L152.1 320.5L158.7 320.4z"/>
<path fill="#0d76dc" d="M77.2 328.5L70.6 328.7L71.9 324.9L78.4 324.8z"/>
<path fill="#0f78db" d="M83.7 328.3L77.2 328.5L78.4 324.8L85 324.7z"/>
<path fill="#117ad9" d="M90.3 328.1L83.7 328.3L85 324.7L91.6 324.5z"/>
<path fill="#127cd8" d="M96.9 328L90.3 328.1L91.6 324.5L98.2 324.4z"/>
<path fill="#137ed7" d="M103.5 327.8L96.9 328L98.2 324.4L104.8 324.3z"/>
<path fill="#1481d6" d="M110.1 327.6L103.5 327.8L104.8 324.3L111.4 324.2z"/>
<path fill="#1483d5" d="M116.7 327.4L110.1 327.6L111.4 324.2L117.9 324.1z"/>
<path fill="#1486d4" d="M123.2 327.2L116.7 327.4L117.9 324.1L124.5 324z"/>
<path fill="#1388d3" d="M129.8 327.1L123.2 327.2L124.5 324L131.1 323.8z"/>
<path fill="#128bd2" d="M136.4 326.9L129.8 327.1L131.1 323.8L137.7 323.7z"/>
<path fill="#108ed2" d="M143 326.7L136.4 326.9L137.7 323.7L144.3 323.6z"/>
<path fill="#0e91d2" d="M149.6 326.5L143 326.7L144.3 323.6L150.9 323.5z"/>
<path fill="#0c94d2" d="M156.2 326.3L149.6 326.5L150.9 323.5L157.4 323.4z"/>
<path fill="#0b73dd" d="M75.9 331.9L69.3 332.1L70.6 328.7L77.2 328.5z"/>
<path fill="#0d75dc" d="M82.4 331.7L75.9 331.9L77.2 328.5L83.7 328.3z"/>
<path fill="#0f77db" d="M89 331.4L82.4 331.7L83.7 328.3L90.3 328.1z"/>
<path fill="#117ada" d="M95.6 331.2L89 331.4L90.3 328.1L96.9 328z"/>
<path fill="#127cd8" d="M102.2 331L95.6 331.2L96.9 328L103.5 327.8z"/>
<path fill="#137ed7" d="M108.8 330.8L102.2 331L103.5 327.8L110.1 327.6z"/>
<path fill="#1481d6" d="M115.4 330.6L108.8 330.8L110.1 327.6L116.7 327.4z"/>
<path fill="#1483d5" d="M122 330.4L115.4 330.6L116.7 327.4L123.2 327.2z"/>
<path fill="#1486d4" d="M128.5 330.2L122 330.4L123.2 327.2L129.8 327.1z"/>
<path fill="#1389d3" d="M135.1 329.9L128.5 330.2L129.8 327.1L136.4 326.9z"/>
<path fill="#128cd2" d="M141.7 329.7L135.1 329.9L136.4 326.9L143 326.7z"/>
<path fill="#108fd2" d="M148.3 329.5L141.7 329.7L143 326.7L149.6 326.5z"/>
<path fill="#0d92d2" d="M154.9 329.3L148.3 329.5L149.6 326.5L156.2 326.3z"/>
<path fill="#0971de" d="M74.6 334.9L68 335.1L69.3 332.1L75.9 331.9z"/>
<path fill="#0b73dd" d="M81.2 334.7L74.6 334.9L75.9 331.9L82.4 331.7z"/>
<path fill="#0d76dc" d="M87.7 334.5L81.2 334.7L82.4 331.7L89 331.4z"/>
<path fill="#0f78db" d="M94.3 334.3L87.7 334.5L89 331.4L95.6 331.2z"/>
<path fill="#117ad9" d="M100.9 334L94.3 334.3L95.6 331.2L102.2 331z"/>
<path fill="#127cd8" d="M107.5 333.8L100.9 334L102.2 331L108.8 330.8z"/>
<path fill="#137fd7" d="M114.1 333.6L107.5 333.8L108.8 330.8L115.4 330.6z"/>
<path fill="#1481d5" d="M120.7 333.4L114.1 333.6L115.4 330.6L122 330.4z"/>
<path fill="#1484d4" d="M127.3 333.2L120.7 333.4L122 330.4L128.5 330.2z"/>
<path fill="#1486d3" d="M133.8 332.9L127.3 333.2L128.5 330.2L135.1 329.9z"/>
<path fill="#1389d3" d="M140.4 332.7L133.8 332.9L135.1 329.9L141.7 329.7z"/>
<path fill="#118cd2" d="M147 332.5L140.4 332.7L141.7 329.7L148.3 329.5z"/>
<path fill="#0f8fd2" d="M153.6 332.3L147 332.5L148.3 329.5L154.9 329.3z"/>
<path fill="#076fdf" d="M73.3 338L66.7 338.2L68 335.1L74.6 334.9z"/>
<path fill="#0972de" d="M79.9 337.8L73.3 338L74.6 334.9L81.2 334.7z"/>
<path fill="#0b74dd" d="M86.5 337.5L79.9 337.8L81.2 334.7L87.7 334.5z"/>
<path fill="#0e76dc" d="M93 337.3L86.5 337.5L87.7 334.5L94.3 334.3z"/>
<path fill="#0f78db" d="M99.6 337.1L93 337.3L94.3 334.3L100.9 334z"/>
<path fill="#117ad9" d="M106.2 336.8L99.6 337.1L100.9 334L107.5 333.8z"/>
<path fill="#137dd8" d="M112.8 336.6L106.2 336.8L107.5 333.8L114.1 333.6z"/>
<path fill="#137fd6" d="M119.4 336.4L112.8 336.6L114.1 333.6L120.7 333.4z"/>
<path fill="#1482d5" d="M126 336.1L119.4 336.4L120.7 333.4L127.3 333.2z"/>
<path fill="#1484d4" d="M132.6 335.9L126 336.1L127.3 333.2L133.8 332.9z"/>
<path fill="#1487d3" d="M139.1 335.7L132.6 335.9L133.8 332.9L140.4 332.7z"/>
<path fill="#138ad3" d="M145.7 335.5L139.1 335.7L140.4 332.7L147 332.5z"/>
<path fill="#118dd2" d="M152.3 335.2L145.7 335.5L147 332.5L153.6 332.3z"/>
<path fill="#056de0" d="M72 341L65.4 341.3L66.7 338.2L73.3 338z"/>
<path fill="#0770df" d="M78.6 340.8L72 341L73.3 338L79.9 337.8z"/>
<path fill="#0972de" d="M85.2 340.6L78.6 340.8L79.9 337.8L86.5 337.5z"/>
<path fill="#0c74dd" d="M91.8 340.3L85.2 340.6L86.5 337.5L93 337.3z"/>
<path fill="#0e76dc" d="M98.3 340.1L91.8 340.3L93 337.3L99.6 337.1z"/>
<path fill="#1079da" d="M104.9 339.9L98.3 340.1L99.6 337.1L106.2 336.8z"/>
<path fill="#117bd9" d="M111.5 339.6L104.9 339.9L106.2 336.8L112.8 336.6z"/>
<path fill="#137dd8" d="M118.1 339.4L111.5 339.6L112.8 336.6L119.4 336.4z"/>
<path fill="#1480d6" d="M124.7 339.1L118.1 339.4L119.4 336.4L126 336.1z"/>
<path fill="#1482d5" d="M131.3 338.9L124.7 339.1L126 336.1L132.6 335.9z"/>
<path fill="#1485d4" d="M137.9 338.7L131.3 338.9L132.6 335.9L139.1 335.7z"/>
<path fill="#1388d3" d="M144.4 338.4L137.9 338.7L139.1 335.7L145.7 335.5z"/>
<path fill="#128bd3" d="M151 338.2L144.4 338.4L145.7 335.5L152.3 335.2z"/>
<path fill="#036be0" d="M70.7 344.1L64.1 344.3L65.4 341.3L72 341z"/>
<path fill="#056ee0" d="M77.3 343.8L70.7 344.1L72 341L78.6 340.8z"/>
<path fill="#0870df" d="M83.9 343.6L77.3 343.8L78.6 340.8L85.2 340.6z"/>
<path fill="#0a72de" d="M90.5 343.4L83.9 343.6L85.2 340.6L91.8 340.3z"/>
<path fill="#0c75dd" d="M97.1 343.1L90.5 343.4L91.8 340.3L98.3 340.1z"/>
<path fill="#0e77db" d="M103.6 342.9L97.1 343.1L98.3 340.1L104.9 339.9z"/>
<path fill="#1079da" d="M110.2 342.6L103.6 342.9L104.9 339.9L111.5 339.6z"/>
<path fill="#127bd9" d="M116.8 342.4L110.2 342.6L111.5 339.6L118.1 339.4z"/>
<path fill="#137ed7" d="M123.4 342.1L116.8 342.4L118.1 339.4L124.7 339.1z"/>
<path fill="#1480d6" d="M130 341.9L123.4 342.1L124.7 339.1L131.3 338.9z"/>
<path fill="#1483d5" d="M136.6 341.7L130 341.9L131.3 338.9L137.9 338.7z"/>
<path fill="#1486d4" d="M143.1 341.4L136.6 341.7L137.9 338.7L144.4 338.4z"/>
<path fill="#1388d3" d="M149.7 341.2L143.1 341.4L144.4 338.4L151 338.2z"/>
<path fill="#0269e1" d="M69.4 347.1L62.9 347.4L64.1 344.3L70.7 344.1z"/>
<path fill="#046ce0" d="M76 346.9L69.4 347.1L70.7 344.1L77.3 343.8z"/>
<path fill="#066edf" d="M82.6 346.6L76 346.9L77.3 343.8L83.9 343.6z"/>
<path fill="#0871de" d="M89.2 346.4L82.6 346.6L83.9 343.6L90.5 343.4z"/>
<path fill="#0a73dd" d="M95.8 346.1L89.2 346.4L90.5 343.4L97.1 343.1z"/>
<path fill="#0d75dc" d="M102.4 345.9L95.8 346.1L97.1 343.1L103.6 342.9z"/>
<path fill="#0f77db" d="M108.9 345.6L102.4 345.9L103.6 342.9L110.2 342.6z"/>
<path fill="#117ada" d="M115.5 345.3L108.9 345.6L110.2 342.6L116.8 342.4z"/>
<path fill="#127cd8" d="M122.1 345.1L115.5 345.3L116.8 342.4L123.4 342.1z"/>
<path fill="#137fd7" d="M128.7 344.8L122.1 345.1L123.4 342.1L130 341.9z"/>
<path fill="#1481d5" d="M135.3 344.6L128.7 344.8L130 341.9L136.6 341.7z"/>
<path fill="#1484d4" d="M141.9 344.3L135.3 344.6L136.6 341.7L143.1 341.4z"/>
<path fill="#1487d3" d="M148.4 344L141.9 344.3L143.1 341.4L149.7 341.2z"/>
<path fill="#0267e1" d="M68.2 350.2L61.6 350.5L62.9 347.4L69.4 347.1z"/>
<path fill="#036ae1" d="M74.7 349.9L68.2 350.2L69.4 347.1L76 346.9z"/>
<path fill="#046de0" d="M81.3 349.6L74.7 349.9L76 346.9L82.6 346.6z"/>
<path fill="#066fdf" d="M87.9 349.3L81.3 349.6L82.6 346.6L89.2 346.4z"/>
<path fill="#0971de" d="M94.5 349.1L87.9 349.3L89.2 346.4L95.8 346.1z"/>
<path fill="#0b74dd" d="M101.1 348.8L94.5 349.1L95.8 346.1L102.4 345.9z"/>
<path fill="#0d76dc" d="M107.7 348.5L101.1 348.8L102.4 345.9L108.9 345.6z"/>
<path fill="#0f78db" d="M114.2 348.2L107.7 348.5L108.9 345.6L115.5 345.3z"/>
<path fill="#117bd9" d="M120.8 348L114.2 348.2L115.5 345.3L122.1 345.1z"/>
<path fill="#137dd8" d="M127.4 347.7L120.8 348L122.1 345.1L128.7 344.8z"/>
<path fill="#1480d6" d="M134 347.4L127.4 347.7L128.7 344.8L135.3 344.6z"/>
<path fill="#1482d5" d="M140.6 347.1L134 347.4L135.3 344.6L141.9 344.3z"/>
<path fill="#1485d4" d="M147.2 346.8L140.6 347.1L141.9 344.3L148.4 344z"/>
<path fill="#0265e1" d="M66.9 353.2L60.3 353.5L61.6 350.5L68.2 350.2z"/>
<path fill="#0268e1" d="M73.5 352.9L66.9 353.2L68.2 350.2L74.7 349.9z"/>
<path fill="#036be1" d="M80 352.6L73.5 352.9L74.7 349.9L81.3 349.6z"/>
<path fill="#056de0" d="M86.6 352.3L80 352.6L81.3 349.6L87.9 349.3z"/>
<path fill="#0770df" d="M93.2 352L86.6 352.3L87.9 349.3L94.5 349.1z"/>
<path fill="#0972de" d="M99.8 351.7L93.2 352L94.5 349.1L101.1 348.8z"/>
<path fill="#0c74dd" d="M106.4 351.4L99.8 351.7L101.1 348.8L107.7 348.5z"/>
<path fill="#0e77db" d="M113 351.1L106.4 351.4L107.7 348.5L114.2 348.2z"/>
<path fill="#1079da" d="M119.5 350.8L113 351.1L114.2 348.2L120.8 348z"/>
<path fill="#127cd9" d="M126.1 350.5L119.5 350.8L120.8 348L127.4 347.7z"/>
<path fill="#137ed7" d="M132.7 350.2L126.1 350.5L127.4 347.7L134 347.4z"/>
<path fill="#1481d6" d="M139.3 349.9L132.7 350.2L134 347.4L140.6 347.1z"/>
<path fill="#1483d4" d="M145.9 349.6L139.3 349.9L140.6 347.1L147.2 346.8z"/>
<path fill="#0462e1" d="M65.6 356.3L59 356.6L60.3 353.5L66.9 353.2z"/>
<path fill="#0265e1" d="M72.2 355.9L65.6 356.3L66.9 353.2L73.5 352.9z"/>
<path fill="#0269e1" d="M78.8 355.6L72.2 355.9L73.5 352.9L80 352.6z"/>
<path fill="#036be0" d="M85.3 355.3L78.8 355.6L80 352.6L86.6 352.3z"/>
<path fill="#056ee0" d="M91.9 355L85.3 355.3L86.6 352.3L93.2 352z"/>
<path fill="#0870df" d="M98.5 354.7L91.9 355L93.2 352L99.8 351.7z"/>
<path fill="#0a73dd" d="M105.1 354.3L98.5 354.7L99.8 351.7L106.4 351.4z"/>
<path fill="#0d75dc" d="M111.7 354L105.1 354.3L106.4 351.4L113 351.1z"/>
<path fill="#0f77db" d="M118.3 353.7L111.7 354L113 351.1L119.5 350.8z"/>
<path fill="#117ad9" d="M124.8 353.4L118.3 353.7L119.5 350.8L126.1 350.5z"/>
<path fill="#127dd8" d="M131.4 353.1L124.8 353.4L126.1 350.5L132.7 350.2z"/>
<path fill="#137fd6" d="M138 352.7L131.4 353.1L132.7 350.2L139.3 349.9z"/>
<path fill="#1482d5" d="M144.6 352.4L138 352.7L139.3 349.9L145.9 349.6z"/>
<path fill="#0a5fdf" d="M64.3 359.3L57.7 359.7L59 356.6L65.6 356.3z"/>
<path fill="#0363e1" d="M70.9 359L64.3 359.3L65.6 356.3L72.2 355.9z"/>
<path fill="#0266e1" d="M77.5 358.6L70.9 359L72.2 355.9L78.8 355.6z"/>
<path fill="#0269e1" d="M84.1 358.3L77.5 358.6L78.8 355.6L85.3 355.3z"/>
<path fill="#046ce0" d="M90.6 357.9L84.1 358.3L85.3 355.3L91.9 355z"/>
<path fill="#066fdf" d="M97.2 357.6L90.6 357.9L91.9 355L98.5 354.7z"/>
<path fill="#0971de" d="M103.8 357.3L97.2 357.6L98.5 354.7L105.1 354.3z"/>
<path fill="#0b74dd" d="M110.4 356.9L103.8 357.3L105.1 354.3L111.7 354z"/>
<path fill="#0e76dc" d="M117 356.6L110.4 356.9L111.7 354L118.3 353.7z"/>
<path fill="#1078da" d="M123.6 356.2L117 356.6L118.3 353.7L124.8 353.4z"/>
<path fill="#117bd9" d="M130.1 355.9L123.6 356.2L124.8 353.4L131.4 353.1z"/>
<path fill="#137ed7" d="M136.7 355.6L130.1 355.9L131.4 353.1L138 352.7z"/>
<path fill="#1480d6" d="M143.3 355.2L136.7 355.6L138 352.7L144.6 352.4z"/>
<path fill="#0e5cde" d="M63 362.2L56.4 362.5L57.7 359.7L64.3 359.3z"/>
<path fill="#0761e0" d="M69.6 361.9L63 362.2L64.3 359.3L70.9 359z"/>
<path fill="#0364e1" d="M76.2 361.5L69.6 361.9L70.9 359L77.5 358.6z"/>
<path fill="#0268e1" d="M82.8 361.2L76.2 361.5L77.5 358.6L84.1 358.3z"/>
<path fill="#036be1" d="M89.4 360.8L82.8 361.2L84.1 358.3L90.6 357.9z"/>
<path fill="#056de0" d="M95.9 360.5L89.4 360.8L90.6 357.9L97.2 357.6z"/>
<path fill="#0770df" d="M102.5 360.1L95.9 360.5L97.2 357.6L103.8 357.3z"/>
<path fill="#0a72de" d="M109.1 359.8L102.5 360.1L103.8 357.3L110.4 356.9z"/>
<path fill="#0c75dc" d="M115.7 359.4L109.1 359.8L110.4 356.9L117 356.6z"/>
<path fill="#0f77db" d="M122.3 359.1L115.7 359.4L117 356.6L123.6 356.2z"/>
<path fill="#117ada" d="M128.9 358.7L122.3 359.1L123.6 356.2L130.1 355.9z"/>
<path fill="#127cd8" d="M135.4 358.4L128.9 358.7L130.1 355.9L136.7 355.6z"/>
<path fill="#137fd7" d="M142 358L135.4 358.4L136.7 355.6L143.3 355.2z"/>
<path fill="#135adb" d="M61.7 365L55.1 365.3L56.4 362.5L63 362.2z"/>
<path fill="#0a5fdf" d="M68.3 364.6L61.7 365L63 362.2L69.6 361.9z"/>
<path fill="#0363e1" d="M74.9 364.3L68.3 364.6L69.6 361.9L76.2 361.5z"/>
<path fill="#0266e1" d="M81.5 363.9L74.9 364.3L76.2 361.5L82.8 361.2z"/>
<path fill="#0269e1" d="M88.1 363.6L81.5 363.9L82.8 361.2L89.4 360.8z"/>
<path fill="#046ce0" d="M94.7 363.2L88.1 363.6L89.4 360.8L95.9 360.5z"/>
<path fill="#066fdf" d="M101.2 362.9L94.7 363.2L95.9 360.5L102.5 360.1z"/>
<path fill="#0971de" d="M107.8 362.5L101.2 362.9L102.5 360.1L109.1 359.8z"/>
<path fill="#0b73dd" d="M114.4 362.2L107.8 362.5L109.1 359.8L115.7 359.4z"/>
<path fill="#0d76dc" d="M121 361.9L114.4 362.2L115.7 359.4L122.3 359.1z"/>
<path fill="#1078da" d="M127.6 361.5L121 361.9L122.3 359.1L128.9 358.7z"/>
<path fill="#117bd9" d="M134.2 361.2L127.6 361.5L128.9 358.7L135.4 358.4z"/>
<path fill="#137ed7" d="M140.7 360.8L134.2 361.2L135.4 358.4L142 358z"/>
<path fill="#1857d9" d="M60.4 367.7L53.9 368.1L55.1 365.3L61.7 365z"/>
<path fill="#0e5cde" d="M67 367.4L60.4 367.7L61.7 365L68.3 364.6z"/>
<path fill="#0761e0" d="M73.6 367L67 367.4L68.3 364.6L74.9 364.3z"/>
<path fill="#0364e1" d="M80.2 366.7L73.6 367L74.9 364.3L81.5 363.9z"/>
<path fill="#0268e1" d="M86.8 366.4L80.2 366.7L81.5 363.9L88.1 363.6z"/>
<path fill="#036be1" d="M93.4 366L86.8 366.4L88.1 363.6L94.7 363.2z"/>
<path fill="#056de0" d="M100 365.7L93.4 366L94.7 363.2L101.2 362.9z"/>
<path fill="#0770df" d="M106.5 365.3L100 365.7L101.2 362.9L107.8 362.5z"/>
<path fill="#0a72de" d="M113.1 365L106.5 365.3L107.8 362.5L114.4 362.2z"/>
<path fill="#0c75dc" d="M119.7 364.6L113.1 365L114.4 362.2L121 361.9z"/>
<path fill="#0e77db" d="M126.3 364.3L119.7 364.6L121 361.9L127.6 361.5z"/>
<path fill="#117ada" d="M132.9 364L126.3 364.3L127.6 361.5L134.2 361.2z"/>
<path fill="#127cd8" d="M139.5 363.6L132.9 364L134.2 361.2L140.7 360.8z"/>
<path fill="#1d55d6" d="M59.2 370.5L52.6 370.8L53.9 368.1L60.4 367.7z"/>
<path fill="#125adc" d="M65.7 370.1L59.2 370.5L60.4 367.7L67 367.4z"/>
<path fill="#0a5fdf" d="M72.3 369.8L65.7 370.1L67 367.4L73.6 367z"/>
<path fill="#0363e1" d="M78.9 369.5L72.3 369.8L73.6 367L80.2 366.7z"/>
<path fill="#0266e1" d="M85.5 369.1L78.9 369.5L80.2 366.7L86.8 366.4z"/>
<path fill="#0269e1" d="M92.1 368.8L85.5 369.1L86.8 366.4L93.4 366z"/>
<path fill="#046ce0" d="M98.7 368.4L92.1 368.8L93.4 366L100 365.7z"/>
<path fill="#066fdf" d="M105.3 368.1L98.7 368.4L100 365.7L106.5 365.3z"/>
<path fill="#0871de" d="M111.8 367.8L105.3 368.1L106.5 365.3L113.1 365z"/>
<path fill="#0b73dd" d="M118.4 367.4L111.8 367.8L113.1 365L119.7 364.6z"/>
<path fill="#0d76dc" d="M125 367.1L118.4 367.4L119.7 364.6L126.3 364.3z"/>
<path fill="#1078da" d="M131.6 366.7L125 367.1L126.3 364.3L132.9 364z"/>
<path fill="#117bd9" d="M138.2 366.4L131.6 366.7L132.9 364L139.5 363.6z"/>
<path fill="#2152d3" d="M57.9 373.3L51.3 373.6L52.6 370.8L59.2 370.5z"/>
<path fill="#1757d9" d="M64.5 372.9L57.9 373.3L59.2 370.5L65.7 370.1z"/>
<path fill="#0e5dde" d="M71 372.6L64.5 372.9L65.7 370.1L72.3 369.8z"/>
<path fill="#0661e0" d="M77.6 372.2L71 372.6L72.3 369.8L78.9 369.5z"/>
<path fill="#0365e1" d="M84.2 371.9L77.6 372.2L78.9 369.5L85.5 369.1z"/>
<path fill="#0268e1" d="M90.8 371.6L84.2 371.9L85.5 369.1L92.1 368.8z"/>
<path fill="#036be1" d="M97.4 371.2L90.8 371.6L92.1 368.8L98.7 368.4z"/>
<path fill="#056de0" d="M104 370.9L97.4 371.2L98.7 368.4L105.3 368.1z"/>
<path fill="#0770df" d="M110.5 370.5L104 370.9L105.3 368.1L111.8 367.8z"/>
<path fill="#0a72de" d="M117.1 370.2L110.5 370.5L111.8 367.8L118.4 367.4z"/>
<path fill="#0c75dd" d="M123.7 369.9L117.1 370.2L118.4 367.4L125 367.1z"/>
<path fill="#0e77db" d="M130.3 369.5L123.7 369.9L125 367.1L131.6 366.7z"/>
<path fill="#117ada" d="M136.9 369.2L130.3 369.5L131.6 366.7L138.2 366.4z"/>
<path fill="#2450cf" d="M56.6 376L50 376.4L51.3 373.6L57.9 373.3z"/>
<path fill="#1c55d6" d="M63.2 375.7L56.6 376L57.9 373.3L64.5 372.9z"/>
<path fill="#125adc" d="M69.8 375.3L63.2 375.7L64.5 372.9L71 372.6z"/>
<path fill="#0a5fdf" d="M76.3 375L69.8 375.3L71 372.6L77.6 372.2z"/>
<path fill="#0363e1" d="M82.9 374.7L76.3 375L77.6 372.2L84.2 371.9z"/>
<path fill="#0266e1" d="M89.5 374.3L82.9 374.7L84.2 371.9L90.8 371.6z"/>
<path fill="#0269e1" d="M96.1 374L89.5 374.3L90.8 371.6L97.4 371.2z"/>
<path fill="#046ce0" d="M102.7 373.7L96.1 374L97.4 371.2L104 370.9z"/>
<path fill="#066fdf" d="M109.3 373.3L102.7 373.7L104 370.9L110.5 370.5z"/>
<path fill="#0871de" d="M115.8 373L109.3 373.3L110.5 370.5L117.1 370.2z"/>
<path fill="#0b73dd" d="M122.4 372.7L115.8 373L117.1 370.2L123.7 369.9z"/>
<path fill="#0d76dc" d="M129 372.3L122.4 372.7L123.7 369.9L130.3 369.5z"/>
<path fill="#1078da" d="M135.6 372L129 372.3L130.3 369.5L136.9 369.2z"/>
<path fill="#284dcb" d="M55.3 378.8L48.7 379.1L50 376.4L56.6 376z"/>
<path fill="#2152d3" d="M61.9 378.4L55.3 378.8L56.6 376L63.2 375.7z"/>
<path fill="#1757d9" d="M68.5 378.1L61.9 378.4L63.2 375.7L69.8 375.3z"/>
<path fill="#0e5dde" d="M75.1 377.8L68.5 378.1L69.8 375.3L76.3 375z"/>
<path fill="#0661e0" d="M81.6 377.4L75.1 377.8L76.3 375L82.9 374.7z"/>
<path fill="#0365e1" d="M88.2 377.1L81.6 377.4L82.9 374.7L89.5 374.3z"/>
<path fill="#0268e1" d="M94.8 376.8L88.2 377.1L89.5 374.3L96.1 374z"/>
<path fill="#036be1" d="M101.4 376.4L94.8 376.8L96.1 374L102.7 373.7z"/>
<path fill="#056de0" d="M108 376.1L101.4 376.4L102.7 373.7L109.3 373.3z"/>
<path fill="#0770df" d="M114.6 375.8L108 376.1L109.3 373.3L115.8 373z"/>
<path fill="#0a72de" d="M121.1 375.5L114.6 375.8L115.8 373L122.4 372.7z"/>
<path fill="#0c75dd" d="M127.7 375.1L121.1 375.5L122.4 372.7L129 372.3z"/>
<path fill="#0e77db" d="M134.3 374.8L127.7 375.1L129 372.3L135.6 372z"/>
<path fill="#2b4bc7" d="M54 381.5L47.4 381.9L48.7 379.1L55.3 378.8z"/>
<path fill="#2450cf" d="M60.6 381.2L54 381.5L55.3 378.8L61.9 378.4z"/>
<path fill="#1c55d6" d="M67.2 380.9L60.6 381.2L61.9 378.4L68.5 378.1z"/>
<path fill="#125adc" d="M73.8 380.6L67.2 380.9L68.5 378.1L75.1 377.8z"/>
<path fill="#0a5fdf" d="M80.4 380.2L73.8 380.6L75.1 377.8L81.6 377.4z"/>
<path fill="#0363e1" d="M86.9 379.9L80.4 380.2L81.6 377.4L88.2 377.1z"/>
<path fill="#0266e1" d="M93.5 379.6L86.9 379.9L88.2 377.1L94.8 376.8z"/>
<path fill="#0269e1" d="M100.1 379.2L93.5 379.6L94.8 376.8L101.4 376.4z"/>
<path fill="#046ce0" d="M106.7 378.9L100.1 379.2L101.4 376.4L108 376.1z"/>
<path fill="#066edf" d="M113.3 378.6L106.7 378.9L108 376.1L114.6 375.8z"/>
<path fill="#0871de" d="M119.9 378.2L113.3 378.6L114.6 375.8L121.1 375.5z"/>
<path fill="#0b73dd" d="M126.4 377.9L119.9 378.2L121.1 375.5L127.7 375.1z"/>
<path fill="#0d76dc" d="M133 377.6L126.4 377.9L127.7 375.1L134.3 374.8z"/>
<path fill="#2d49c3" d="M52.7 384.3L46.2 384.6L47.4 381.9L54 381.5z"/>
<path fill="#284dcb" d="M59.3 384L52.7 384.3L54 381.5L60.6 381.2z"/>
<path fill="#2152d3" d="M65.9 383.7L59.3 384L60.6 381.2L67.2 380.9z"/>
<path fill="#1757d9" d="M72.5 383.3L65.9 383.7L67.2 380.9L73.8 380.6z"/>
<path fill="#0e5dde" d="M79.1 383L72.5 383.3L73.8 380.6L80.4 380.2z"/>
<path fill="#0661e0" d="M85.7 382.7L79.1 383L80.4 380.2L86.9 379.9z"/>
<path fill="#0364e1" d="M92.2 382.3L85.7 382.7L86.9 379.9L93.5 379.6z"/>
<path fill="#0268e1" d="M98.8 382L92.2 382.3L93.5 379.6L100.1 379.2z"/>
<path fill="#036be1" d="M105.4 381.7L98.8 382L100.1 379.2L106.7 378.9z"/>
<path fill="#056de0" d="M112 381.4L105.4 381.7L106.7 378.9L113.3 378.6z"/>
<path fill="#0770df" d="M118.6 381L112 381.4L113.3 378.6L119.9 378.2z"/>
<path fill="#0a72de" d="M125.2 380.7L118.6 381L119.9 378.2L126.4 377.9z"/>
<path fill="#0c74dd" d="M131.7 380.4L125.2 380.7L126.4 377.9L133 377.6z"/>
<path fill="#2f47bf" d="M51.5 387.1L44.9 387.4L46.2 384.6L52.7 384.3z"/>
<path fill="#2b4bc7" d="M58 386.7L51.5 387.1L52.7 384.3L59.3 384z"/>
<path fill="#2450cf" d="M64.6 386.4L58 386.7L59.3 384L65.9 383.7z"/>
<path fill="#1c55d6" d="M71.2 386.1L64.6 386.4L65.9 383.7L72.5 383.3z"/>
<path fill="#125adc" d="M77.8 385.8L71.2 386.1L72.5 383.3L79.1 383z"/>
<path fill="#0a5fdf" d="M84.4 385.4L77.8 385.8L79.1 383L85.7 382.7z"/>
<path fill="#0363e1" d="M91 385.1L84.4 385.4L85.7 382.7L92.2 382.3z"/>
<path fill="#0266e1" d="M97.5 384.8L91 385.1L92.2 382.3L98.8 382z"/>
<path fill="#0269e1" d="M104.1 384.5L97.5 384.8L98.8 382L105.4 381.7z"/>
<path fill="#046ce0" d="M110.7 384.1L104.1 384.5L105.4 381.7L112 381.4z"/>
<path fill="#066edf" d="M117.3 383.8L110.7 384.1L112 381.4L118.6 381z"/>
<path fill="#0871de" d="M123.9 383.5L117.3 383.8L118.6 381L125.2 380.7z"/>
<path fill="#0b73dd" d="M130.5 383.2L123.9 383.5L125.2 380.7L131.7 380.4z"/>
<path fill="#3145bc" d="M50.2 389.8L43.6 390.2L44.9 387.4L51.5 387.1z"/>
<path fill="#2d49c3" d="M56.8 389.5L50.2 389.8L51.5 387.1L58 386.7z"/>
<path fill="#284dcb" d="M63.3 389.2L56.8 389.5L58 386.7L64.6 386.4z"/>
<path fill="#2152d3" d="M69.9 388.9L63.3 389.2L64.6 386.4L71.2 386.1z"/>
<path fill="#1757d9" d="M76.5 388.5L69.9 388.9L71.2 386.1L77.8 385.8z"/>
<path fill="#0e5dde" d="M83.1 388.2L76.5 388.5L77.8 385.8L84.4 385.4z"/>
<path fill="#0661e0" d="M89.7 387.9L83.1 388.2L84.4 385.4L91 385.1z"/>
<path fill="#0364e1" d="M96.3 387.6L89.7 387.9L91 385.1L97.5 384.8z"/>
<path fill="#0268e1" d="M102.8 387.3L96.3 387.6L97.5 384.8L104.1 384.5z"/>
<path fill="#036ae1" d="M109.4 386.9L102.8 387.3L104.1 384.5L110.7 384.1z"/>
<path fill="#056de0" d="M116 386.6L109.4 386.9L110.7 384.1L117.3 383.8z"/>
<path fill="#0770df" d="M122.6 386.3L116 386.6L117.3 383.8L123.9 383.5z"/>
<path fill="#0a72de" d="M129.2 386L122.6 386.3L123.9 383.5L130.5 383.2z"/>
<path fill="#3243b8" d="M48.9 392.6L42.3 392.9L43.6 390.2L50.2 389.8z"/>
<path fill="#2f47c0" d="M55.5 392.3L48.9 392.6L50.2 389.8L56.8 389.5z"/>
<path fill="#2b4bc7" d="M62.1 392L55.5 392.3L56.8 389.5L63.3 389.2z"/>
<path fill="#2450cf" d="M68.6 391.6L62.1 392L63.3 389.2L69.9 388.9z"/>
<path fill="#1c55d6" d="M75.2 391.3L68.6 391.6L69.9 388.9L76.5 388.5z"/>
<path fill="#125adc" d="M81.8 391L75.2 391.3L76.5 388.5L83.1 388.2z"/>
<path fill="#0a5fdf" d="M88.4 390.7L81.8 391L83.1 388.2L89.7 387.9z"/>
<path fill="#0363e1" d="M95 390.4L88.4 390.7L89.7 387.9L96.3 387.6z"/>
<path fill="#0266e1" d="M101.6 390L95 390.4L96.3 387.6L102.8 387.3z"/>
<path fill="#0269e1" d="M108.1 389.7L101.6 390L102.8 387.3L109.4 386.9z"/>
<path fill="#046ce0" d="M114.7 389.4L108.1 389.7L109.4 386.9L116 386.6z"/>
<path fill="#066edf" d="M121.3 389.1L114.7 389.4L116 386.6L122.6 386.3z"/>
<path fill="#0871de" d="M127.9 388.8L121.3 389.1L122.6 386.3L129.2 386z"/>
</g>
<g stroke="#000" stroke-width="0.4" stroke-opacity="0.5" stroke-linejoin="round">
<path fill="#25b5a9" d="M176.3 274.3L169.7 291.2L170.3 289.4L176.9 271.8z"/>
<path fill="#ecb94d" d="M180.2 266L176.3 274.3L176.9 271.8L180 264.8z"/>
<path fill="#21b4ac" d="M175.7 276.7L169.1 292.9L169.7 291.2L176.3 274.3z"/>
<path fill="#d7ba57" d="M180.4 267.1L175.7 276.7L176.3 274.3L180.2 266z"/>
<path fill="#1db3af" d="M175.1 279.2L168.5 294.7L169.1 292.9L175.7 276.7z"/>
<path fill="#c1bc5f" d="M180.8 268.3L175.1 279.2L175.7 276.7L180.4 267.1z"/>
<path fill="#1ab2b1" d="M174.5 281.6L167.9 296.4L168.5 294.7L175.1 279.2z"/>
<path fill="#abbe69" d="M181 269.7L174.5 281.6L175.1 279.2L180.8 268.3L181.1 269.3z"/>
<path fill="#fec139" d="M181.3 269.4L181 269.7L181.1 269.3z"/>
<path fill="#16b1b4" d="M173.8 284.1L167.3 298.2L167.9 296.4L174.5 281.6z"/>
<path fill="#95bf71" d="M180.4 272.9L173.8 284.1L174.5 281.6L181 269.7z"/>
<path fill="#fdbe3d" d="M182 270.7L180.4 272.9L181 269.7L181.3 269.4z"/>
<path fill="#13b0b6" d="M173.2 286.5L166.7 299.9L167.3 298.2L173.8 284.1z"/>
<path fill="#80bf7a" d="M179.8 276.1L173.2 286.5L173.8 284.1L180.4 272.9z"/>
<path fill="#fbbc41" d="M182.7 271.9L179.8 276.1L180.4 272.9L182 270.7z"/>
<path fill="#0faeb9" d="M172.6 289L166.1 301.6L166.7 299.9L173.2 286.5z"/>
<path fill="#68be84" d="M179.2 279.3L172.6 289L173.2 286.5L179.8 276.1z"/>
<path fill="#ebb94d" d="M183.4 273.1L179.2 279.3L179.8 276.1L182.7 271.9z"/>
<path fill="#0dadbb" d="M172 291.4L165.4 303.4L166.1 301.6L172.6 289z"/>
<path fill="#50bc90" d="M178.6 282.4L172 291.4L172.6 289L179.2 279.3z"/>
<path fill="#d5ba58" d="M183.9 274.2L178.6 282.4L179.2 279.3L183.4 273.1z"/>
<path fill="#0aacbd" d="M171.4 293.9L164.8 305.1L165.4 303.4L172 291.4z"/>
<path fill="#3ab99d" d="M178 285.6L171.4 293.9L172 291.4L178.6 282.4z"/>
<path fill="#bdbd61" d="M184.3 275.4L178 285.6L178.6 282.4L183.9 274.2z"/>
<path fill="#08abc0" d="M170.8 296.3L164.2 306.9L164.8 305.1L171.4 293.9z"/>
<path fill="#27b5a8" d="M177.4 288.8L170.8 296.3L171.4 293.9L178 285.6z"/>
<path fill="#a3be6c" d="M184 277.8L177.4 288.8L178 285.6L184.3 275.4L184.4 275.7z"/>
<path fill="#febf3d" d="M185.1 276.6L184 277.8L184.4 275.7z"/>
<path fill="#07aac2" d="M170.2 298.8L163.6 308.6L164.2 306.9L170.8 296.3z"/>
<path fill="#20b4ad" d="M176.8 291.9L170.2 298.8L170.8 296.3L177.4 288.8z"/>
<path fill="#8cbf75" d="M183.4 280.6L176.8 291.9L177.4 288.8L184 277.8z"/>
<path fill="#fbbd40" d="M185.8 277.8L183.4 280.6L184 277.8L185.1 276.6z"/>
<path fill="#06a8c4" d="M169.6 301.2L163 310.4L163.6 308.6L170.2 298.8z"/>
<path fill="#1ab2b1" d="M176.2 295.1L169.6 301.2L170.2 298.8L176.8 291.9z"/>
<path fill="#74bf7f" d="M182.8 283.5L176.2 295.1L176.8 291.9L183.4 280.6z"/>
<path fill="#f5ba46" d="M186.4 279L182.8 283.5L183.4 280.6L185.8 277.8z"/>
<path fill="#06a7c6" d="M169 303.7L162.4 311.9L163 310.4L169.6 301.2z"/>
<path fill="#14b0b6" d="M175.6 298.3L169 303.7L169.6 301.2L176.2 295.1z"/>
<path fill="#59bd8c" d="M182.2 286.3L175.6 298.3L176.2 295.1L182.8 283.5z"/>
<path fill="#e3b951" d="M187 280.2L182.2 286.3L182.8 283.5L186.4 279z"/>
<path fill="#06a6c7" d="M168.4 306.1L161.8 313.3L162.4 311.9L169 303.7z"/>
<path fill="#0eaeba" d="M175 301.5L168.4 306.1L169 303.7L175.6 298.3z"/>
<path fill="#3fba99" d="M181.6 289.1L175 301.5L175.6 298.3L182.2 286.3z"/>
<path fill="#d0bb59" d="M187.4 281.4L181.6 289.1L182.2 286.3L187 280.2z"/>
<path fill="#06a5c8" d="M167.8 307.6L161.2 314.7L161.8 313.3L168.4 306.1z"/>
<path fill="#0badbc" d="M174.4 304.6L167.8 307.6L168.4 306.1L175 301.5z"/>
<path fill="#2ab6a7" d="M181 291.9L174.4 304.6L175 301.5L181.6 289.1z"/>
<path fill="#bdbd61" d="M187.5 282.8L181 291.9L181.6 289.1L187.4 281.4L187.7 282.3z"/>
<path fill="#fdbe3d" d="M187.9 282.5L187.5 282.8L187.7 282.3z"/>
<path fill="#06a5c8" d="M167.2 309L160.6 316.1L161.2 314.7L167.8 307.6z"/>
<path fill="#0aacbe" d="M173.8 306.8L167.2 309L167.8 307.6L174.4 304.6z"/>
<path fill="#22b4ab" d="M180.4 294.7L173.8 306.8L174.4 304.6L181 291.9z"/>
<path fill="#a8be6a" d="M186.9 285.3L180.4 294.7L181 291.9L187.5 282.8z"/>
<path fill="#fcbd40" d="M188.9 283.8L186.9 285.3L187.5 282.8L187.9 282.5z"/>
<path fill="#06a4c9" d="M166.6 310.5L160 317.5L160.6 316.1L167.2 309z"/>
<path fill="#09abbf" d="M173.2 308.3L166.6 310.5L167.2 309L173.8 306.8z"/>
<path fill="#1eb3ae" d="M179.7 297.6L173.2 308.3L173.8 306.8L180.4 294.7z"/>
<path fill="#95bf71" d="M186.3 287.7L179.7 297.6L180.4 294.7L186.9 285.3z"/>
<path fill="#fabc42" d="M189.6 285L186.3 287.7L186.9 285.3L188.9 283.8z"/>
<path fill="#06a4ca" d="M166 311.9L159.4 318.9L160 317.5L166.6 310.5z"/>
<path fill="#08abc0" d="M172.6 309.7L166 311.9L166.6 310.5L173.2 308.3z"/>
<path fill="#1ab2b1" d="M179.1 300.4L172.6 309.7L173.2 308.3L179.7 297.6z"/>
<path fill="#82bf79" d="M185.7 290.2L179.1 300.4L179.7 297.6L186.3 287.7z"/>
<path fill="#eeb94b" d="M190.2 286.2L185.7 290.2L186.3 287.7L189.6 285z"/>
<path fill="#06a3ca" d="M165.4 313.4L158.8 320.3L159.4 318.9L166 311.9z"/>
<path fill="#08aac1" d="M172 311.2L165.4 313.4L166 311.9L172.6 309.7z"/>
<path fill="#16b1b3" d="M178.5 303.2L172 311.2L172.6 309.7L179.1 300.4z"/>
<path fill="#6dbf82" d="M185.1 292.6L178.5 303.2L179.1 300.4L185.7 290.2z"/>
<path fill="#e0ba52" d="M190.6 287.3L185.1 292.6L185.7 290.2L190.2 286.2z"/>
<path fill="#06a2cb" d="M164.8 314.9L158.2 321.7L158.8 320.3L165.4 313.4z"/>
<path fill="#07aac1" d="M171.3 312.7L164.8 314.9L165.4 313.4L172 311.2z"/>
<path fill="#13b0b6" d="M177.9 306L171.3 312.7L172 311.2L178.5 303.2z"/>
<path fill="#57bd8c" d="M184.5 295.1L177.9 306L178.5 303.2L185.1 292.6z"/>
<path fill="#d2bb59" d="M190.9 288.5L184.5 295.1L185.1 292.6L190.6 287.3z"/>
<path fill="#06a2cc" d="M164.2 316.3L157.6 323.1L158.2 321.7L164.8 314.9z"/>
<path fill="#07a9c2" d="M170.7 314.1L164.2 316.3L164.8 314.9L171.3 312.7z"/>
<path fill="#10afb9" d="M177.3 308.9L170.7 314.1L171.3 312.7L177.9 306z"/>
<path fill="#42bb98" d="M183.9 297.5L177.3 308.9L177.9 306L184.5 295.1z"/>
<path fill="#c4bc5e" d="M190.5 290.2L183.9 297.5L184.5 295.1L190.9 288.5L190.9 288.8z"/>
<path fill="#fdbd3e" d="M191.4 289.7L190.5 290.2L190.9 288.8z"/>
<path fill="#06a1cc" d="M163.5 317.8L157 324.5L157.6 323.1L164.2 316.3z"/>
<path fill="#07a9c3" d="M170.1 315.6L163.5 317.8L164.2 316.3L170.7 314.1z"/>
<path fill="#0dadbb" d="M176.7 311.7L170.1 315.6L170.7 314.1L177.3 308.9z"/>
<path fill="#30b7a3" d="M183.3 300L176.7 311.7L177.3 308.9L183.9 297.5z"/>
<path fill="#b5bd64" d="M189.9 292.2L183.3 300L183.9 297.5L190.5 290.2z"/>
<path fill="#fbbd40" d="M192 290.9L189.9 292.2L190.5 290.2L191.4 289.7z"/>
<path fill="#06a0cd" d="M162.9 319.2L156.4 325.9L157 324.5L163.5 317.8z"/>
<path fill="#06a8c4" d="M169.5 317.1L162.9 319.2L163.5 317.8L170.1 315.6z"/>
<path fill="#0bacbd" d="M176.1 313.7L169.5 317.1L170.1 315.6L176.7 311.7z"/>
<path fill="#26b5a9" d="M182.7 302.4L176.1 313.7L176.7 311.7L183.3 300z"/>
<path fill="#a6be6b" d="M189.3 294.2L182.7 302.4L183.3 300L189.9 292.2z"/>
<path fill="#fabb42" d="M192.6 292L189.3 294.2L189.9 292.2L192 290.9z"/>
<path fill="#069fce" d="M162.3 320.7L155.8 327.3L156.4 325.9L162.9 319.2z"/>
<path fill="#06a8c5" d="M168.9 318.5L162.3 320.7L162.9 319.2L169.5 317.1z"/>
<path fill="#0aacbe" d="M175.5 315.2L168.9 318.5L169.5 317.1L176.1 313.7z"/>
<path fill="#22b4ac" d="M182.1 304.9L175.5 315.2L176.1 313.7L182.7 302.4z"/>
<path fill="#98bf70" d="M188.7 296.2L182.1 304.9L182.7 302.4L189.3 294.2z"/>
<path fill="#f1b94a" d="M193.1 293.2L188.7 296.2L189.3 294.2L192.6 292z"/>
<path fill="#069ece" d="M161.7 322.1L155.1 328.7L155.8 327.3L162.3 320.7z"/>
<path fill="#06a7c5" d="M168.3 320L161.7 322.1L162.3 320.7L168.9 318.5z"/>
<path fill="#09abbe" d="M174.9 316.7L168.3 320L168.9 318.5L175.5 315.2z"/>
<path fill="#1eb3ae" d="M181.5 307.3L174.9 316.7L175.5 315.2L182.1 304.9z"/>
<path fill="#8abf76" d="M188.1 298.2L181.5 307.3L182.1 304.9L188.7 296.2z"/>
<path fill="#e6b950" d="M193.7 294.4L188.1 298.2L188.7 296.2L193.1 293.2z"/>
<path fill="#079dcf" d="M161.1 323.6L154.5 330.1L155.1 328.7L161.7 322.1z"/>
<path fill="#06a7c6" d="M167.7 321.5L161.1 323.6L161.7 322.1L168.3 320z"/>
<path fill="#09abbf" d="M174.3 318.2L167.7 321.5L168.3 320L174.9 316.7z"/>
<path fill="#1bb2b0" d="M180.9 309.7L174.3 318.2L174.9 316.7L181.5 307.3z"/>
<path fill="#7bbf7c" d="M187.5 300.2L180.9 309.7L181.5 307.3L188.1 298.2z"/>
<path fill="#dbba55" d="M194 295.7L187.5 300.2L188.1 298.2L193.7 294.4L194.1 295.5z"/>
<path fill="#fdbe3e" d="M194.2 295.6L194 295.7L194.1 295.5z"/>
<path fill="#079ccf" d="M160.5 325L153.9 331.5L154.5 330.1L161.1 323.6z"/>
<path fill="#06a6c7" d="M167.1 322.9L160.5 325L161.1 323.6L167.7 321.5z"/>
<path fill="#08aac0" d="M173.7 319.7L167.1 322.9L167.7 321.5L174.3 318.2z"/>
<path fill="#18b1b2" d="M180.3 312L173.7 319.7L174.3 318.2L180.9 309.7z"/>
<path fill="#6dbf82" d="M186.9 302.2L180.3 312L180.9 309.7L187.5 300.2z"/>
<path fill="#d1bb59" d="M193.4 297.6L186.9 302.2L187.5 300.2L194 295.7z"/>
<path fill="#fcbd40" d="M194.9 296.8L193.4 297.6L194 295.7L194.2 295.6z"/>
<path fill="#079bd0" d="M159.9 326.5L153.3 332.9L153.9 331.5L160.5 325z"/>
<path fill="#06a5c8" d="M166.5 324.4L159.9 326.5L160.5 325L167.1 322.9z"/>
<path fill="#07aac1" d="M173.1 321.2L166.5 324.4L167.1 322.9L173.7 319.7z"/>
<path fill="#16b1b4" d="M179.7 313.7L173.1 321.2L173.7 319.7L180.3 312z"/>
<path fill="#62be87" d="M186.3 304.2L179.7 313.7L180.3 312L186.9 302.2z"/>
<path fill="#c6bc5e" d="M192.8 299.5L186.3 304.2L186.9 302.2L193.4 297.6z"/>
<path fill="#fabc41" d="M195.5 298L192.8 299.5L193.4 297.6L194.9 296.8z"/>
<path fill="#089ad0" d="M159.3 327.9L152.7 334.3L153.3 332.9L159.9 326.5z"/>
<path fill="#06a5c8" d="M165.9 325.9L159.3 327.9L159.9 326.5L166.5 324.4z"/>
<path fill="#07a9c2" d="M172.5 322.7L165.9 325.9L166.5 324.4L173.1 321.2z"/>
<path fill="#14b0b5" d="M179.1 315.5L172.5 322.7L173.1 321.2L179.7 313.7z"/>
<path fill="#56bd8d" d="M185.6 306.2L179.1 315.5L179.7 313.7L186.3 304.2z"/>
<path fill="#babd62" d="M192.2 301.4L185.6 306.2L186.3 304.2L192.8 299.5z"/>
<path fill="#f6ba45" d="M196.1 299.2L192.2 301.4L192.8 299.5L195.5 298z"/>
<path fill="#0899d1" d="M158.7 329.4L152.1 335.7L152.7 334.3L159.3 327.9z"/>
<path fill="#06a4c9" d="M165.3 327.4L158.7 329.4L159.3 327.9L165.9 325.9z"/>
<path fill="#07a9c3" d="M171.9 324.2L165.3 327.4L165.9 325.9L172.5 322.7z"/>
<path fill="#13b0b6" d="M178.5 317.2L171.9 324.2L172.5 322.7L179.1 315.5z"/>
<path fill="#4bbc93" d="M185 308.2L178.5 317.2L179.1 315.5L185.6 306.2z"/>
<path fill="#afbe67" d="M191.6 303.3L185 308.2L185.6 306.2L192.2 301.4z"/>
<path fill="#edb94c" d="M196.6 300.3L191.6 303.3L192.2 301.4L196.1 299.2z"/>
<path fill="#0998d1" d="M158.1 330.8L151.5 337.1L152.1 335.7L158.7 329.4z"/>
<path fill="#06a4ca" d="M164.7 328.8L158.1 330.8L158.7 329.4L165.3 327.4z"/>
<path fill="#06a8c4" d="M171.3 325.7L164.7 328.8L165.3 327.4L171.9 324.2z"/>
<path fill="#11afb8" d="M177.8 318.9L171.3 325.7L171.9 324.2L178.5 317.2z"/>
<path fill="#41ba98" d="M184.4 310.2L177.8 318.9L178.5 317.2L185 308.2z"/>
<path fill="#a2be6c" d="M191 305.3L184.4 310.2L185 308.2L191.6 303.3z"/>
<path fill="#e4b951" d="M197.1 301.5L191 305.3L191.6 303.3L196.6 300.3z"/>
<path fill="#0a97d1" d="M157.5 332.3L150.9 338.5L151.5 337.1L158.1 330.8z"/>
<path fill="#06a3ca" d="M164.1 330.3L157.5 332.3L158.1 330.8L164.7 328.8z"/>
<path fill="#06a8c5" d="M170.7 327.2L164.1 330.3L164.7 328.8L171.3 325.7z"/>
<path fill="#0faeb9" d="M177.2 320.6L170.7 327.2L171.3 325.7L177.8 318.9z"/>
<path fill="#37b99e" d="M183.8 312.2L177.2 320.6L177.8 318.9L184.4 310.2z"/>
<path fill="#98bf70" d="M190.4 307.2L183.8 312.2L184.4 310.2L191 305.3z"/>
<path fill="#daba55" d="M197 303L190.4 307.2L191 305.3L197.1 301.5L197.3 302.1z"/>
<path fill="#fbbd40" d="M197.8 302.7L197 303L197.3 302.1z"/>
<path fill="#0a96d1" d="M156.9 333.8L150.3 339.9L150.9 338.5L157.5 332.3z"/>
<path fill="#06a2cb" d="M163.5 331.8L156.9 333.8L157.5 332.3L164.1 330.3z"/>
<path fill="#06a7c5" d="M170.1 328.7L163.5 331.8L164.1 330.3L170.7 327.2z"/>
<path fill="#0eaeba" d="M176.6 322.4L170.1 328.7L170.7 327.2L177.2 320.6z"/>
<path fill="#2eb7a4" d="M183.2 314.1L176.6 322.4L177.2 320.6L183.8 312.2z"/>
<path fill="#8dbf74" d="M189.8 309.1L183.2 314.1L183.8 312.2L190.4 307.2z"/>
<path fill="#d0bb59" d="M196.4 304.8L189.8 309.1L190.4 307.2L197 303z"/>
<path fill="#fbbc41" d="M198.7 304L196.4 304.8L197 303L197.8 302.7z"/>
<path fill="#0b95d2" d="M156.3 335.2L149.7 341.2L150.3 339.9L156.9 333.8z"/>
<path fill="#06a1cc" d="M162.9 333.2L156.3 335.2L156.9 333.8L163.5 331.8z"/>
<path fill="#06a6c6" d="M169.4 330.2L162.9 333.2L163.5 331.8L170.1 328.7z"/>
<path fill="#0cadbb" d="M176 324.1L169.4 330.2L170.1 328.7L176.6 322.4z"/>
<path fill="#27b5a8" d="M182.6 316.1L176 324.1L176.6 322.4L183.2 314.1z"/>
<path fill="#82bf79" d="M189.2 311L182.6 316.1L183.2 314.1L189.8 309.1z"/>
<path fill="#c6bc5d" d="M195.8 306.7L189.2 311L189.8 309.1L196.4 304.8z"/>
<path fill="#f9bb44" d="M199.4 305.2L195.8 306.7L196.4 304.8L198.7 304z"/>
<path fill="#0c94d2" d="M155.7 336.7L149.1 342.6L149.7 341.2L156.3 335.2z"/>
<path fill="#06a1cd" d="M162.3 334.7L155.7 336.7L156.3 335.2L162.9 333.2z"/>
<path fill="#06a6c7" d="M168.8 331.8L162.3 334.7L162.9 333.2L169.4 330.2z"/>
<path fill="#0bacbd" d="M175.4 325.8L168.8 331.8L169.4 330.2L176 324.1z"/>
<path fill="#23b5ab" d="M182 318.1L175.4 325.8L176 324.1L182.6 316.1z"/>
<path fill="#77bf7e" d="M188.6 312.9L182 318.1L182.6 316.1L189.2 311z"/>
<path fill="#bcbd62" d="M195.2 308.5L188.6 312.9L189.2 311L195.8 306.7z"/>
<path fill="#f2b949" d="M199.9 306.3L195.2 308.5L195.8 306.7L199.4 305.2z"/>
<path fill="#0d92d2" d="M155.1 338.1L148.5 344L149.1 342.6L155.7 336.7z"/>
<path fill="#06a0cd" d="M161.7 336.2L155.1 338.1L155.7 336.7L162.3 334.7z"/>
<path fill="#06a5c8" d="M168.2 333.3L161.7 336.2L162.3 334.7L168.8 331.8z"/>
<path fill="#0aacbe" d="M174.8 327.4L168.2 333.3L168.8 331.8L175.4 325.8z"/>
<path fill="#21b4ac" d="M181.4 320.1L174.8 327.4L175.4 325.8L182 318.1z"/>
<path fill="#6abe83" d="M188 314.8L181.4 320.1L182 318.1L188.6 312.9z"/>
<path fill="#b2bd66" d="M194.6 310.3L188 314.8L188.6 312.9L195.2 308.5z"/>
<path fill="#eab94d" d="M200.2 307.5L194.6 310.3L195.2 308.5L199.9 306.3z"/>
<path fill="#0e91d2" d="M154.5 339.6L147.9 345.3L148.5 344L155.1 338.1z"/>
<path fill="#069fce" d="M161 337.6L154.5 339.6L155.1 338.1L161.7 336.2z"/>
<path fill="#06a5c9" d="M167.6 334.8L161 337.6L161.7 336.2L168.2 333.3z"/>
<path fill="#09abbf" d="M174.2 328.9L167.6 334.8L168.2 333.3L174.8 327.4z"/>
<path fill="#1eb3ae" d="M180.8 322.1L174.2 328.9L174.8 327.4L181.4 320.1z"/>
<path fill="#5ebe89" d="M187.4 316.8L180.8 322.1L181.4 320.1L188 314.8z"/>
<path fill="#a7be6a" d="M194 312.1L187.4 316.8L188 314.8L194.6 310.3z"/>
<path fill="#e3b951" d="M200.5 308.6L194 312.1L194.6 310.3L200.2 307.5z"/>
<path fill="#0f90d2" d="M153.9 341L147.3 346.6L147.9 345.3L154.5 339.6z"/>
<path fill="#079ecf" d="M160.4 339.1L153.9 341L154.5 339.6L161 337.6z"/>
<path fill="#06a4c9" d="M167 336.3L160.4 339.1L161 337.6L167.6 334.8z"/>
<path fill="#08abc0" d="M173.6 330.5L167 336.3L167.6 334.8L174.2 328.9z"/>
<path fill="#1bb2b0" d="M180.2 324.1L173.6 330.5L174.2 328.9L180.8 322.1z"/>
<path fill="#51bd8f" d="M186.8 318.7L180.2 324.1L180.8 322.1L187.4 316.8z"/>
<path fill="#9dbf6e" d="M193.4 313.9L186.8 318.7L187.4 316.8L194 312.1z"/>
<path fill="#dbba55" d="M199.9 310.2L193.4 313.9L194 312.1L200.5 308.6L200.5 308.8z"/>
<path fill="#fdbe3e" d="M200.6 309.8L199.9 310.2L200.5 308.8z"/>
<path fill="#0f8fd2" d="M153.3 342.5L146.7 347.9L147.3 346.6L153.9 341z"/>
<path fill="#079dcf" d="M159.8 340.6L153.3 342.5L153.9 341L160.4 339.1z"/>
<path fill="#06a3ca" d="M166.4 337.8L159.8 340.6L160.4 339.1L167 336.3z"/>
<path fill="#08aac1" d="M173 332.1L166.4 337.8L167 336.3L173.6 330.5z"/>
<path fill="#19b2b2" d="M179.6 325.9L173 332.1L173.6 330.5L180.2 324.1z"/>
<path fill="#47bb95" d="M186.2 320.6L179.6 325.9L180.2 324.1L186.8 318.7z"/>
<path fill="#93bf72" d="M192.8 315.8L186.2 320.6L186.8 318.7L193.4 313.9z"/>
<path fill="#d4bb58" d="M199.3 311.7L192.8 315.8L193.4 313.9L199.9 310.2z"/>
<path fill="#fcbd3f" d="M200.6 310.9L199.3 311.7L199.9 310.2L200.6 309.8z"/>
<path fill="#108ed2" d="M152.6 343.9L146.1 349.2L146.7 347.9L153.3 342.5z"/>
<path fill="#079bd0" d="M159.2 342L152.6 343.9L153.3 342.5L159.8 340.6z"/>
<path fill="#06a3cb" d="M165.8 339.3L159.2 342L159.8 340.6L166.4 337.8z"/>
<path fill="#07aac2" d="M172.4 333.6L165.8 339.3L166.4 337.8L173 332.1z"/>
<path fill="#17b1b3" d="M179 327.6L172.4 333.6L173 332.1L179.6 325.9z"/>
<path fill="#3dba9a" d="M185.6 322.5L179 327.6L179.6 325.9L186.2 320.6z"/>
<path fill="#89bf76" d="M192.1 317.6L185.6 322.5L186.2 320.6L192.8 315.8z"/>
<path fill="#ccbb5b" d="M198.7 313.3L192.1 317.6L192.8 315.8L199.3 311.7z"/>
<path fill="#fbbd40" d="M200.6 312L198.7 313.3L199.3 311.7L200.6 310.9z"/>
<path fill="#118dd2" d="M152 345.4L145.5 350.6L146.1 349.2L152.6 343.9z"/>
<path fill="#089ad0" d="M158.6 343.5L152 345.4L152.6 343.9L159.2 342z"/>
<path fill="#06a2cc" d="M165.2 340.8L158.6 343.5L159.2 342L165.8 339.3z"/>
<path fill="#07a9c3" d="M171.8 335.2L165.2 340.8L165.8 339.3L172.4 333.6z"/>
<path fill="#15b1b4" d="M178.4 329.2L171.8 335.2L172.4 333.6L179 327.6z"/>
<path fill="#35b8a0" d="M185 324.4L178.4 329.2L179 327.6L185.6 322.5z"/>
<path fill="#7fbf7a" d="M191.5 319.4L185 324.4L185.6 322.5L192.1 317.6z"/>
<path fill="#c4bc5e" d="M198.1 314.8L191.5 319.4L192.1 317.6L198.7 313.3z"/>
<path fill="#fbbc41" d="M200.7 313.1L198.1 314.8L198.7 313.3L200.6 312z"/>
<path fill="#118cd2" d="M151.4 346.8L144.9 351.9L145.5 350.6L152 345.4z"/>
<path fill="#0899d1" d="M158 345L151.4 346.8L152 345.4L158.6 343.5z"/>
<path fill="#06a1cc" d="M164.6 342.3L158 345L158.6 343.5L165.2 340.8z"/>
<path fill="#06a8c4" d="M171.2 336.8L164.6 342.3L165.2 340.8L171.8 335.2z"/>
<path fill="#13b0b6" d="M177.8 330.9L171.2 336.8L171.8 335.2L178.4 329.2z"/>
<path fill="#2db7a5" d="M184.4 326.4L177.8 330.9L178.4 329.2L185 324.4z"/>
<path fill="#75bf7f" d="M190.9 321.2L184.4 326.4L185 324.4L191.5 319.4z"/>
<path fill="#bcbd62" d="M197.5 316.4L190.9 321.2L191.5 319.4L198.1 314.8z"/>
<path fill="#fabc42" d="M200.6 314.3L197.5 316.4L198.1 314.8L200.7 313.1z"/>
<path fill="#128bd2" d="M150.8 348.3L144.2 353.2L144.9 351.9L151.4 346.8z"/>
<path fill="#0998d1" d="M157.4 346.4L150.8 348.3L151.4 346.8L158 345z"/>
<path fill="#06a0cd" d="M164 343.8L157.4 346.4L158 345L164.6 342.3z"/>
<path fill="#06a8c5" d="M170.6 338.4L164 343.8L164.6 342.3L171.2 336.8z"/>
<path fill="#12afb7" d="M177.2 332.5L170.6 338.4L171.2 336.8L177.8 330.9z"/>
<path fill="#27b5a8" d="M183.7 328.1L177.2 332.5L177.8 330.9L184.4 326.4z"/>
<path fill="#6bbe83" d="M190.3 323.1L183.7 328.1L184.4 326.4L190.9 321.2z"/>
<path fill="#b4bd65" d="M196.9 318L190.3 323.1L190.9 321.2L197.5 316.4z"/>
<path fill="#f7ba45" d="M200.6 315.4L196.9 318L197.5 316.4L200.6 314.3z"/>
<path fill="#138ad3" d="M150.2 349.8L143.6 354.5L144.2 353.2L150.8 348.3z"/>
<path fill="#0a97d1" d="M156.8 347.9L150.2 349.8L150.8 348.3L157.4 346.4z"/>
<path fill="#069fce" d="M163.4 345.3L156.8 347.9L157.4 346.4L164 343.8z"/>
<path fill="#06a7c6" d="M170 339.9L163.4 345.3L164 343.8L170.6 338.4z"/>
<path fill="#10afb8" d="M176.6 334.2L170 339.9L170.6 338.4L177.2 332.5z"/>
<path fill="#24b5aa" d="M183.1 329.8L176.6 334.2L177.2 332.5L183.7 328.1z"/>
<path fill="#61be88" d="M189.7 324.9L183.1 329.8L183.7 328.1L190.3 323.1z"/>
<path fill="#acbe68" d="M196.3 319.5L189.7 324.9L190.3 323.1L196.9 318z"/>
<path fill="#f2b949" d="M200.6 316.5L196.3 319.5L196.9 318L200.6 315.4z"/>
<path fill="#1389d3" d="M149.6 351.2L143 355.8L143.6 354.5L150.2 349.8z"/>
<path fill="#0b96d1" d="M156.2 349.4L149.6 351.2L150.2 349.8L156.8 347.9z"/>
<path fill="#079ecf" d="M162.8 346.8L156.2 349.4L156.8 347.9L163.4 345.3z"/>
<path fill="#06a6c6" d="M169.4 341.5L162.8 346.8L163.4 345.3L170 339.9z"/>
<path fill="#0eaeba" d="M176 335.8L169.4 341.5L170 339.9L176.6 334.2z"/>
<path fill="#22b4ac" d="M182.5 331.5L176 335.8L176.6 334.2L183.1 329.8z"/>
<path fill="#57bd8d" d="M189.1 326.7L182.5 331.5L183.1 329.8L189.7 324.9z"/>
<path fill="#a3be6c" d="M195.7 321.1L189.1 326.7L189.7 324.9L196.3 319.5z"/>
<path fill="#ecb94c" d="M200.5 317.6L195.7 321.1L196.3 319.5L200.6 316.5z"/>
<path fill="#1388d3" d="M149 352.7L142.4 357.1L143 355.8L149.6 351.2z"/>
<path fill="#0c94d2" d="M155.6 350.9L149 352.7L149.6 351.2L156.2 349.4z"/>
<path fill="#079dcf" d="M162.2 348.3L155.6 350.9L156.2 349.4L162.8 346.8z"/>
<path fill="#06a6c7" d="M168.8 343.1L162.2 348.3L162.8 346.8L169.4 341.5z"/>
<path fill="#0dadbb" d="M175.3 337.5L168.8 343.1L169.4 341.5L176 335.8z"/>
<path fill="#1fb3ad" d="M181.9 333.3L175.3 337.5L176 335.8L182.5 331.5z"/>
<path fill="#4dbc92" d="M188.5 328.5L181.9 333.3L182.5 331.5L189.1 326.7z"/>
<path fill="#9cbf6f" d="M195.1 322.6L188.5 328.5L189.1 326.7L195.7 321.1z"/>
<path fill="#e7b94f" d="M200.5 318.7L195.1 322.6L195.7 321.1L200.5 317.6z"/>
<path fill="#1487d3" d="M148.4 354.1L141.8 358.5L142.4 357.1L149 352.7z"/>
<path fill="#0d93d2" d="M155 352.3L148.4 354.1L149 352.7L155.6 350.9z"/>
<path fill="#079cd0" d="M161.6 349.8L155 352.3L155.6 350.9L162.2 348.3z"/>
<path fill="#06a5c8" d="M168.2 344.6L161.6 349.8L162.2 348.3L168.8 343.1z"/>
<path fill="#0cadbc" d="M174.7 339.1L168.2 344.6L168.8 343.1L175.3 337.5z"/>
<path fill="#1db3af" d="M181.3 334.9L174.7 339.1L175.3 337.5L181.9 333.3z"/>
<path fill="#44bb97" d="M187.9 330.3L181.3 334.9L181.9 333.3L188.5 328.5z"/>
<path fill="#94bf72" d="M194.5 324.2L187.9 330.3L188.5 328.5L195.1 322.6z"/>
<path fill="#e1b952" d="M200.4 319.8L194.5 324.2L195.1 322.6L200.5 318.7z"/>
<path fill="#1486d4" d="M147.8 355.6L141.2 359.8L141.8 358.5L148.4 354.1z"/>
<path fill="#0e92d2" d="M154.4 353.8L147.8 355.6L148.4 354.1L155 352.3z"/>
<path fill="#089ad0" d="M161 351.3L154.4 353.8L155 352.3L161.6 349.8z"/>
<path fill="#06a4c9" d="M167.6 346.2L161 351.3L161.6 349.8L168.2 344.6z"/>
<path fill="#0aacbd" d="M174.1 340.8L167.6 346.2L168.2 344.6L174.7 339.1z"/>
<path fill="#1bb2b0" d="M180.7 336.5L174.1 340.8L174.7 339.1L181.3 334.9z"/>
<path fill="#3cba9b" d="M187.3 332.2L180.7 336.5L181.3 334.9L187.9 330.3z"/>
<path fill="#8dbf75" d="M193.9 325.8L187.3 332.2L187.9 330.3L194.5 324.2z"/>
<path fill="#dcba54" d="M200.3 320.9L193.9 325.8L194.5 324.2L200.4 319.8z"/>
<path fill="#1485d4" d="M147.2 357L140.6 361.1L141.2 359.8L147.8 355.6z"/>
<path fill="#0f90d2" d="M153.8 355.3L147.2 357L147.8 355.6L154.4 353.8z"/>
<path fill="#0899d1" d="M160.4 352.8L153.8 355.3L154.4 353.8L161 351.3z"/>
<path fill="#06a4ca" d="M166.9 347.8L160.4 352.8L161 351.3L167.6 346.2z"/>
<path fill="#09abbe" d="M173.5 342.4L166.9 347.8L167.6 346.2L174.1 340.8z"/>
<path fill="#19b2b2" d="M180.1 338.2L173.5 342.4L174.1 340.8L180.7 336.5z"/>
<path fill="#34b8a0" d="M186.7 334L180.1 338.2L180.7 336.5L187.3 332.2z"/>
<path fill="#85bf78" d="M193.3 327.3L186.7 334L187.3 332.2L193.9 325.8z"/>
<path fill="#d6ba57" d="M199.9 322.3L193.3 327.3L193.9 325.8L200.3 320.9L200.3 321.3z"/>
<path fill="#f8d627" d="M199.9 322L199.9 322.3L200.3 321.3z"/>
<path fill="#1484d4" d="M146.6 358.5L140 362.4L140.6 361.1L147.2 357z"/>
<path fill="#108fd2" d="M153.2 356.7L146.6 358.5L147.2 357L153.8 355.3z"/>
<path fill="#0998d1" d="M159.8 354.3L153.2 356.7L153.8 355.3L160.4 352.8z"/>
<path fill="#06a3cb" d="M166.3 349.3L159.8 354.3L160.4 352.8L166.9 347.8z"/>
<path fill="#08abc0" d="M172.9 344.1L166.3 349.3L166.9 347.8L173.5 342.4z"/>
<path fill="#17b1b3" d="M179.5 339.8L172.9 344.1L173.5 342.4L180.1 338.2z"/>
<path fill="#2eb7a4" d="M186.1 335.6L179.5 339.8L180.1 338.2L186.7 334z"/>
<path fill="#7ebf7b" d="M192.7 328.9L186.1 335.6L186.7 334L193.3 327.3z"/>
<path fill="#d0bb59" d="M199.3 323.8L192.7 328.9L193.3 327.3L199.9 322.3z"/>
<path fill="#f9d429" d="M199.4 323.1L199.3 323.8L199.9 322.3L199.9 322z"/>
<path fill="#1483d5" d="M146 359.9L139.4 363.7L140 362.4L146.6 358.5z"/>
<path fill="#118ed2" d="M152.6 358.2L146 359.9L146.6 358.5L153.2 356.7z"/>
<path fill="#0a97d1" d="M159.2 355.8L152.6 358.2L153.2 356.7L159.8 354.3z"/>
<path fill="#06a2cb" d="M165.7 350.9L159.2 355.8L159.8 354.3L166.3 349.3z"/>
<path fill="#08aac1" d="M172.3 345.7L165.7 350.9L166.3 349.3L172.9 344.1z"/>
<path fill="#15b0b5" d="M178.9 341.5L172.3 345.7L172.9 344.1L179.5 339.8z"/>
<path fill="#28b6a8" d="M185.5 337.2L178.9 341.5L179.5 339.8L186.1 335.6z"/>
<path fill="#77bf7e" d="M192.1 330.4L185.5 337.2L186.1 335.6L192.7 328.9z"/>
<path fill="#cbbb5c" d="M198.7 325.3L192.1 330.4L192.7 328.9L199.3 323.8z"/>
<path fill="#fad22a" d="M198.9 324.1L198.7 325.3L199.3 323.8L199.4 323.1z"/>
<path fill="#1482d5" d="M145.4 361.4L138.8 365L139.4 363.7L146 359.9z"/>
<path fill="#118cd2" d="M152 359.7L145.4 361.4L146 359.9L152.6 358.2z"/>
<path fill="#0b95d2" d="M158.5 357.3L152 359.7L152.6 358.2L159.2 355.8z"/>
<path fill="#06a1cc" d="M165.1 352.5L158.5 357.3L159.2 355.8L165.7 350.9z"/>
<path fill="#07a9c2" d="M171.7 347.4L165.1 352.5L165.7 350.9L172.3 345.7z"/>
<path fill="#13b0b6" d="M178.3 343.1L171.7 347.4L172.3 345.7L178.9 341.5z"/>
<path fill="#25b5aa" d="M184.9 338.9L178.3 343.1L178.9 341.5L185.5 337.2z"/>
<path fill="#70bf81" d="M191.5 332L184.9 338.9L185.5 337.2L192.1 330.4z"/>
<path fill="#c5bc5e" d="M198 326.8L191.5 332L192.1 330.4L198.7 325.3z"/>
<path fill="#fbd12b" d="M198.4 325.2L198 326.8L198.7 325.3L198.9 324.1z"/>
<path fill="#1482d5" d="M144.8 362.8L138.2 366.4L138.8 365L145.4 361.4z"/>
<path fill="#128bd2" d="M151.4 361.1L144.8 362.8L145.4 361.4L152 359.7z"/>
<path fill="#0c94d2" d="M157.9 358.8L151.4 361.1L152 359.7L158.5 357.3z"/>
<path fill="#06a0cd" d="M164.5 354.1L157.9 358.8L158.5 357.3L165.1 352.5z"/>
<path fill="#07a9c3" d="M171.1 349L164.5 354.1L165.1 352.5L171.7 347.4z"/>
<path fill="#11afb7" d="M177.7 344.7L171.1 349L171.7 347.4L178.3 343.1z"/>
<path fill="#23b4ab" d="M184.3 340.5L177.7 344.7L178.3 343.1L184.9 338.9z"/>
<path fill="#68be84" d="M190.9 333.6L184.3 340.5L184.9 338.9L191.5 332z"/>
<path fill="#bfbc61" d="M197.4 328.3L190.9 333.6L191.5 332L198 326.8z"/>
<path fill="#fbcf2d" d="M197.9 326.3L197.4 328.3L198 326.8L198.4 325.2z"/>
<path fill="#1481d6" d="M144.2 364.3L137.6 367.7L138.2 366.4L144.8 362.8z"/>
<path fill="#138ad3" d="M150.8 362.6L144.2 364.3L144.8 362.8L151.4 361.1z"/>
<path fill="#0d93d2" d="M157.3 360.3L150.8 362.6L151.4 361.1L157.9 358.8z"/>
<path fill="#069fce" d="M163.9 355.6L157.3 360.3L157.9 358.8L164.5 354.1z"/>
<path fill="#06a8c4" d="M170.5 350.7L163.9 355.6L164.5 354.1L171.1 349z"/>
<path fill="#0faeb9" d="M177.1 346.4L170.5 350.7L171.1 349L177.7 344.7z"/>
<path fill="#20b4ad" d="M183.7 342.1L177.1 346.4L177.7 344.7L184.3 340.5z"/>
<path fill="#5fbe88" d="M190.3 335.3L183.7 342.1L184.3 340.5L190.9 333.6z"/>
<path fill="#b8bd63" d="M196.8 329.8L190.3 335.3L190.9 333.6L197.4 328.3z"/>
<path fill="#fcce2e" d="M197.4 327.3L196.8 329.8L197.4 328.3L197.9 326.3z"/>
<path fill="#1480d6" d="M143.6 365.7L137 369L137.6 367.7L144.2 364.3z"/>
<path fill="#1389d3" d="M150.1 364.1L143.6 365.7L144.2 364.3L150.8 362.6z"/>
<path fill="#0e91d2" d="M156.7 361.8L150.1 364.1L150.8 362.6L157.3 360.3z"/>
<path fill="#079dcf" d="M163.3 357.2L156.7 361.8L157.3 360.3L163.9 355.6z"/>
<path fill="#06a7c5" d="M169.9 352.3L163.3 357.2L163.9 355.6L170.5 350.7z"/>
<path fill="#0eaeba" d="M176.5 348L169.9 352.3L170.5 350.7L177.1 346.4z"/>
<path fill="#1eb3ae" d="M183.1 343.7L176.5 348L177.1 346.4L183.7 342.1z"/>
<path fill="#57bd8d" d="M189.6 337L183.1 343.7L183.7 342.1L190.3 335.3z"/>
<path fill="#b1bd66" d="M196.2 331.3L189.6 337L190.3 335.3L196.8 329.8z"/>
<path fill="#fdcc2f" d="M196.9 328.4L196.2 331.3L196.8 329.8L197.4 327.3z"/>
<path fill="#137fd7" d="M143 367.2L136.4 370.3L137 369L143.6 365.7z"/>
<path fill="#1487d3" d="M149.5 365.5L143 367.2L143.6 365.7L150.1 364.1z"/>
<path fill="#0f90d2" d="M156.1 363.3L149.5 365.5L150.1 364.1L156.7 361.8z"/>
<path fill="#079cd0" d="M162.7 358.8L156.1 363.3L156.7 361.8L163.3 357.2z"/>
<path fill="#06a6c6" d="M169.3 354L162.7 358.8L163.3 357.2L169.9 352.3z"/>
<path fill="#0cadbb" d="M175.9 349.6L169.3 354L169.9 352.3L176.5 348z"/>
<path fill="#1cb3af" d="M182.5 345.3L175.9 349.6L176.5 348L183.1 343.7z"/>
<path fill="#4fbc91" d="M189 338.7L182.5 345.3L183.1 343.7L189.6 337z"/>
<path fill="#a9be69" d="M195.6 332.7L189 338.7L189.6 337L196.2 331.3z"/>
<path fill="#fdca31" d="M196.4 329.5L195.6 332.7L196.2 331.3L196.9 328.4z"/>
<path fill="#137ed7" d="M142.3 368.7L135.8 371.6L136.4 370.3L143 367.2z"/>
<path fill="#1486d4" d="M148.9 367L142.3 368.7L143 367.2L149.5 365.5z"/>
<path fill="#108ed2" d="M155.5 364.8L148.9 367L149.5 365.5L156.1 363.3z"/>
<path fill="#079bd0" d="M162.1 360.3L155.5 364.8L156.1 363.3L162.7 358.8z"/>
<path fill="#06a6c7" d="M168.7 355.6L162.1 360.3L162.7 358.8L169.3 354z"/>
<path fill="#0bacbd" d="M175.3 351.3L168.7 355.6L169.3 354L175.9 349.6z"/>
<path fill="#1ab2b1" d="M181.9 347L175.3 351.3L175.9 349.6L182.5 345.3z"/>
<path fill="#47bb95" d="M188.4 340.4L181.9 347L182.5 345.3L189 338.7z"/>
<path fill="#a2be6c" d="M195 334.2L188.4 340.4L189 338.7L195.6 332.7z"/>
<path fill="#fec932" d="M196 330.5L195 334.2L195.6 332.7L196.4 329.5z"/>
<path fill="#137dd7" d="M141.7 370.1L135.2 372.9L135.8 371.6L142.3 368.7z"/>
<path fill="#1485d4" d="M148.3 368.5L141.7 370.1L142.3 368.7L148.9 367z"/>
<path fill="#118dd2" d="M154.9 366.4L148.3 368.5L148.9 367L155.5 364.8z"/>
<path fill="#089ad1" d="M161.5 361.9L154.9 366.4L155.5 364.8L162.1 360.3z"/>
<path fill="#06a5c8" d="M168.1 357.3L161.5 361.9L162.1 360.3L168.7 355.6z"/>
<path fill="#0aacbe" d="M174.7 352.9L168.1 357.3L168.7 355.6L175.3 351.3z"/>
<path fill="#18b1b2" d="M181.2 348.6L174.7 352.9L175.3 351.3L181.9 347z"/>
<path fill="#3fba99" d="M187.8 342.1L181.2 348.6L181.9 347L188.4 340.4z"/>
<path fill="#9cbf6e" d="M194.4 335.7L187.8 342.1L188.4 340.4L195 334.2z"/>
<path fill="#fec734" d="M195.5 331.6L194.4 335.7L195 334.2L196 330.5z"/>
<path fill="#127dd8" d="M141.1 371.6L134.6 374.3L135.2 372.9L141.7 370.1z"/>
<path fill="#1484d4" d="M147.7 369.9L141.1 371.6L141.7 370.1L148.3 368.5z"/>
<path fill="#128cd2" d="M154.3 367.9L147.7 369.9L148.3 368.5L154.9 366.4z"/>
<path fill="#0998d1" d="M160.9 363.5L154.3 367.9L154.9 366.4L161.5 361.9z"/>
<path fill="#06a4c9" d="M167.5 358.9L160.9 363.5L161.5 361.9L168.1 357.3z"/>
<path fill="#09abbf" d="M174.1 354.6L167.5 358.9L168.1 357.3L174.7 352.9z"/>
<path fill="#16b1b4" d="M180.6 350.2L174.1 354.6L174.7 352.9L181.2 348.6z"/>
<path fill="#38b99e" d="M187.2 343.8L180.6 350.2L181.2 348.6L187.8 342.1z"/>
<path fill="#96bf71" d="M193.8 337.2L187.2 343.8L187.8 342.1L194.4 335.7z"/>
<path fill="#fec535" d="M195.1 332.7L193.8 337.2L194.4 335.7L195.5 331.6z"/>
<path fill="#127cd8" d="M140.5 373L133.9 375.6L134.6 374.3L141.1 371.6z"/>
<path fill="#1483d5" d="M147.1 371.4L140.5 373L141.1 371.6L147.7 369.9z"/>
<path fill="#138ad3" d="M153.7 369.4L147.1 371.4L147.7 369.9L154.3 367.9z"/>
<path fill="#0a97d1" d="M160.3 365.1L153.7 369.4L154.3 367.9L160.9 363.5z"/>
<path fill="#06a3ca" d="M166.9 360.6L160.3 365.1L160.9 363.5L167.5 358.9z"/>
<path fill="#08aac0" d="M173.5 356.2L166.9 360.6L167.5 358.9L174.1 354.6z"/>
<path fill="#14b0b5" d="M180 351.8L173.5 356.2L174.1 354.6L180.6 350.2z"/>
<path fill="#31b8a2" d="M186.6 345.5L180 351.8L180.6 350.2L187.2 343.8z"/>
<path fill="#8fbf74" d="M193.2 338.8L186.6 345.5L187.2 343.8L193.8 337.2z"/>
<path fill="#ffc437" d="M194.7 333.8L193.2 338.8L193.8 337.2L195.1 332.7z"/>
<path fill="#117bd9" d="M139.9 374.5L133.3 376.9L133.9 375.6L140.5 373z"/>
<path fill="#1482d5" d="M146.5 372.9L139.9 374.5L140.5 373L147.1 371.4z"/>
<path fill="#1389d3" d="M153.1 370.9L146.5 372.9L147.1 371.4L153.7 369.4z"/>
<path fill="#0b95d2" d="M159.7 366.6L153.1 370.9L153.7 369.4L160.3 365.1z"/>
<path fill="#06a2cb" d="M166.3 362.2L159.7 366.6L160.3 365.1L166.9 360.6z"/>
<path fill="#07aac2" d="M172.8 357.8L166.3 362.2L166.9 360.6L173.5 356.2z"/>
<path fill="#12b0b6" d="M179.4 353.5L172.8 357.8L173.5 356.2L180 351.8z"/>
<path fill="#2bb6a6" d="M186 347.2L179.4 353.5L180 351.8L186.6 345.5z"/>
<path fill="#88bf77" d="M192.6 340.4L186 347.2L186.6 345.5L193.2 338.8z"/>
<path fill="#fec239" d="M194.4 334.8L192.6 340.4L193.2 338.8L194.7 333.8z"/>
<path fill="#117ad9" d="M139.3 375.9L132.7 378.2L133.3 376.9L139.9 374.5z"/>
<path fill="#1481d6" d="M145.9 374.4L139.3 375.9L139.9 374.5L146.5 372.9z"/>
<path fill="#1388d3" d="M152.5 372.4L145.9 374.4L146.5 372.9L153.1 370.9z"/>
<path fill="#0c94d2" d="M159.1 368.2L152.5 372.4L153.1 370.9L159.7 366.6z"/>
<path fill="#06a1cc" d="M165.7 363.9L159.1 368.2L159.7 366.6L166.3 362.2z"/>
<path fill="#07a9c3" d="M172.2 359.5L165.7 363.9L166.3 362.2L172.8 357.8z"/>
<path fill="#11afb8" d="M178.8 355.1L172.2 359.5L172.8 357.8L179.4 353.5z"/>
<path fill="#26b5a9" d="M185.4 348.9L178.8 355.1L179.4 353.5L186 347.2z"/>
<path fill="#80bf7a" d="M192 342L185.4 348.9L186 347.2L192.6 340.4z"/>
<path fill="#fec03b" d="M194 335.9L192 342L192.6 340.4L194.4 334.8z"/>
<path fill="#1079da" d="M138.7 377.4L132.1 379.5L132.7 378.2L139.3 375.9z"/>
<path fill="#1480d6" d="M145.3 375.8L138.7 377.4L139.3 375.9L145.9 374.4z"/>
<path fill="#1486d3" d="M151.9 373.9L145.3 375.8L145.9 374.4L152.5 372.4z"/>
<path fill="#0d92d2" d="M158.5 369.8L151.9 373.9L152.5 372.4L159.1 368.2z"/>
<path fill="#06a0cd" d="M165.1 365.5L158.5 369.8L159.1 368.2L165.7 363.9z"/>
<path fill="#06a8c4" d="M171.6 361.1L165.1 365.5L165.7 363.9L172.2 359.5z"/>
<path fill="#0faeb9" d="M178.2 356.7L171.6 361.1L172.2 359.5L178.8 355.1z"/>
<path fill="#24b5aa" d="M184.8 350.6L178.2 356.7L178.8 355.1L185.4 348.9z"/>
<path fill="#78bf7d" d="M191.4 343.6L184.8 350.6L185.4 348.9L192 342z"/>
<path fill="#febf3d" d="M193.7 337L191.4 343.6L192 342L194 335.9z"/>
<path fill="#1079da" d="M138.1 378.8L131.5 380.9L132.1 379.5L138.7 377.4z"/>
<path fill="#137fd7" d="M144.7 377.3L138.1 378.8L138.7 377.4L145.3 375.8z"/>
<path fill="#1485d4" d="M151.3 375.4L144.7 377.3L145.3 375.8L151.9 373.9z"/>
<path fill="#0e90d2" d="M157.9 371.3L151.3 375.4L151.9 373.9L158.5 369.8z"/>
<path fill="#069fce" d="M164.4 367.2L157.9 371.3L158.5 369.8L165.1 365.5z"/>
<path fill="#06a7c5" d="M171 362.8L164.4 367.2L165.1 365.5L171.6 361.1z"/>
<path fill="#0daeba" d="M177.6 358.3L171 362.8L171.6 361.1L178.2 356.7z"/>
<path fill="#21b4ac" d="M184.2 352.3L177.6 358.3L178.2 356.7L184.8 350.6z"/>
<path fill="#70bf80" d="M190.8 345.2L184.2 352.3L184.8 350.6L191.4 343.6z"/>
<path fill="#fcbd3f" d="M193.5 338.1L190.8 345.2L191.4 343.6L193.7 337z"/>
<path fill="#0f78db" d="M137.5 380.3L130.9 382.2L131.5 380.9L138.1 378.8z"/>
<path fill="#137ed7" d="M144.1 378.8L137.5 380.3L138.1 378.8L144.7 377.3z"/>
<path fill="#1484d4" d="M150.7 376.9L144.1 378.8L144.7 377.3L151.3 375.4z"/>
<path fill="#108fd2" d="M157.3 372.9L150.7 376.9L151.3 375.4L157.9 371.3z"/>
<path fill="#079dcf" d="M163.8 368.8L157.3 372.9L157.9 371.3L164.4 367.2z"/>
<path fill="#06a6c6" d="M170.4 364.4L163.8 368.8L164.4 367.2L171 362.8z"/>
<path fill="#0cadbc" d="M177 360L170.4 364.4L171 362.8L177.6 358.3z"/>
<path fill="#1fb3ae" d="M183.6 354L177 360L177.6 358.3L184.2 352.3z"/>
<path fill="#68be84" d="M190.2 346.8L183.6 354L184.2 352.3L190.8 345.2z"/>
<path fill="#fbbc41" d="M193.3 339.2L190.2 346.8L190.8 345.2L193.5 338.1z"/>
<path fill="#0e77db" d="M136.9 381.7L130.3 383.5L130.9 382.2L137.5 380.3z"/>
<path fill="#127dd8" d="M143.5 380.2L136.9 381.7L137.5 380.3L144.1 378.8z"/>
<path fill="#1483d5" d="M150.1 378.4L143.5 380.2L144.1 378.8L150.7 376.9z"/>
<path fill="#118dd2" d="M156.6 374.5L150.1 378.4L150.7 376.9L157.3 372.9z"/>
<path fill="#079cd0" d="M163.2 370.5L156.6 374.5L157.3 372.9L163.8 368.8z"/>
<path fill="#06a6c7" d="M169.8 366L163.2 370.5L163.8 368.8L170.4 364.4z"/>
<path fill="#0bacbd" d="M176.4 361.6L169.8 366L170.4 364.4L177 360z"/>
<path fill="#1db3af" d="M183 355.7L176.4 361.6L177 360L183.6 354z"/>
<path fill="#60be88" d="M189.6 348.4L183 355.7L183.6 354L190.2 346.8z"/>
<path fill="#f4ba47" d="M193.1 340.3L189.6 348.4L190.2 346.8L193.3 339.2z"/>
<path fill="#0e76dc" d="M136.3 383.2L129.7 384.8L130.3 383.5L136.9 381.7z"/>
<path fill="#127cd8" d="M142.9 381.7L136.3 383.2L136.9 381.7L143.5 380.2z"/>
<path fill="#1482d5" d="M149.5 379.9L142.9 381.7L143.5 380.2L150.1 378.4z"/>
<path fill="#128cd2" d="M156 376L149.5 379.9L150.1 378.4L156.6 374.5z"/>
<path fill="#089ad0" d="M162.6 372.1L156 376L156.6 374.5L163.2 370.5z"/>
<path fill="#06a5c8" d="M169.2 367.7L162.6 372.1L163.2 370.5L169.8 366z"/>
<path fill="#09acbe" d="M175.8 363.2L169.2 367.7L169.8 366L176.4 361.6z"/>
<path fill="#1ab2b1" d="M182.4 357.4L175.8 363.2L176.4 361.6L183 355.7z"/>
<path fill="#57bd8c" d="M189 350L182.4 357.4L183 355.7L189.6 348.4z"/>
<path fill="#e7b94f" d="M193 341.4L189 350L189.6 348.4L193.1 340.3z"/>
<path fill="#0d76dc" d="M135.7 384.6L129.1 386.1L129.7 384.8L136.3 383.2z"/>
<path fill="#117bd9" d="M142.3 383.2L135.7 384.6L136.3 383.2L142.9 381.7z"/>
<path fill="#1481d6" d="M148.9 381.4L142.3 383.2L142.9 381.7L149.5 379.9z"/>
<path fill="#128ad3" d="M155.4 377.6L148.9 381.4L149.5 379.9L156 376z"/>
<path fill="#0899d1" d="M162 373.8L155.4 377.6L156 376L162.6 372.1z"/>
<path fill="#06a4c9" d="M168.6 369.3L162 373.8L162.6 372.1L169.2 367.7z"/>
<path fill="#09abbf" d="M175.2 364.8L168.6 369.3L169.2 367.7L175.8 363.2z"/>
<path fill="#18b1b2" d="M181.8 359.1L175.2 364.8L175.8 363.2L182.4 357.4z"/>
<path fill="#4fbc91" d="M188.4 351.7L181.8 359.1L182.4 357.4L189 350z"/>
<path fill="#daba55" d="M193 342.5L188.4 351.7L189 350L193 341.4z"/>
<path fill="#0d75dc" d="M135.1 386.1L128.5 387.4L129.1 386.1L135.7 384.6z"/>
<path fill="#117ada" d="M141.7 384.6L135.1 386.1L135.7 384.6L142.3 383.2z"/>
<path fill="#137fd6" d="M148.2 382.9L141.7 384.6L142.3 383.2L148.9 381.4z"/>
<path fill="#1389d3" d="M154.8 379.2L148.2 382.9L148.9 381.4L155.4 377.6z"/>
<path fill="#0a97d1" d="M161.4 375.4L154.8 379.2L155.4 377.6L162 373.8z"/>
<path fill="#06a3ca" d="M168 370.9L161.4 375.4L162 373.8L168.6 369.3z"/>
<path fill="#08aac1" d="M174.6 366.4L168 370.9L168.6 369.3L175.2 364.8z"/>
<path fill="#16b1b4" d="M181.2 360.8L174.6 366.4L175.2 364.8L181.8 359.1z"/>
<path fill="#47bb95" d="M187.8 353.3L181.2 360.8L181.8 359.1L188.4 351.7z"/>
<path fill="#cdbb5b" d="M193.1 343.7L187.8 353.3L188.4 351.7L193 342.5z"/>
<path fill="#0c74dd" d="M134.5 387.6L127.9 388.8L128.5 387.4L135.1 386.1z"/>
<path fill="#1079da" d="M141.1 386.1L134.5 387.6L135.1 386.1L141.7 384.6z"/>
<path fill="#137ed7" d="M147.6 384.4L141.1 386.1L141.7 384.6L148.2 382.9z"/>
<path fill="#1487d3" d="M154.2 380.8L147.6 384.4L148.2 382.9L154.8 379.2z"/>
<path fill="#0b95d2" d="M160.8 377.1L154.2 380.8L154.8 379.2L161.4 375.4z"/>
<path fill="#06a2cb" d="M167.4 372.6L160.8 377.1L161.4 375.4L168 370.9z"/>
<path fill="#07a9c2" d="M174 368.1L167.4 372.6L168 370.9L174.6 366.4z"/>
<path fill="#14b0b5" d="M180.6 362.5L174 368.1L174.6 366.4L181.2 360.8z"/>
<path fill="#40ba99" d="M187.1 354.9L180.6 362.5L181.2 360.8L187.8 353.3z"/>
<path fill="#c0bc60" d="M193.3 344.8L187.1 354.9L187.8 353.3L193.1 343.7z"/>
</g>
<path d="M187.1 354.9h0M188.1 352.4h0M189 350h0M189.9 347.5h0M190.8 345.1h0M180.6 362.5h0M181.5 359.9h0M182.4 357.3h0M183.3 354.7h0M174 368.1h0M174.9 365.6h0M175.8 363.1h0M176.7 360.7h0M167.4 372.6h0M168.3 370.1h0M169.2 367.6h0M160.8 377.1h0M161.7 374.6h0M162.7 372.1h0M154.2 380.8h0M155.1 378.4h0" stroke="#000" stroke-width="2.4" stroke-linecap="round" fill="none"/>
<path d="M147.6 384.4h0M148.6 382.1h0M149.5 379.8h0M150.4 377.5h0M151.3 375.2h0M152.3 373h0M153.2 370.7h0M154.1 368.4h0M155 366.1h0M155.9 363.8h0M156.9 361.5h0M157.8 359.2h0M158.7 356.9h0M159.6 354.6h0M160.5 352.4h0M161.5 350.1h0M162.4 347.8h0M163.3 345.5h0M164.2 343.2h0M165.2 340.9h0M166.1 338.6h0M167 336.3h0M167.9 334h0M168.8 331.8h0M169.8 329.5h0M170.7 327.2h0M171.6 324.9h0M172.5 322.6h0M173.5 320.3h0M174.4 318h0M175.3 315.7h0M176.2 313.3h0M177.1 309.7h0M178.1 305.4h0M179 301.1h0M179.9 296.8h0M180.8 292.5h0M181.7 288.3h0M182.7 284h0M183.6 279.7h0M141.1 386.1h0M142 383.9h0M142.9 381.6h0M143.8 379.4h0M144.7 377.2h0M145.7 374.9h0M146.6 372.7h0M147.5 370.5h0M148.4 368.2h0M149.4 366h0M150.3 363.8h0M151.2 361.5h0M152.1 359.3h0M153 357h0M154 354.8h0M154.9 352.6h0M155.8 350.3h0M156.7 348.1h0M157.6 345.9h0M158.6 343.6h0M159.5 341.4h0M160.4 339.2h0M161.3 336.9h0M162.3 334.7h0M163.2 332.5h0M164.1 330.2h0M165 328h0M165.9 325.8h0M166.9 323.5h0M167.8 321.3h0M168.7 319.1h0M169.6 316.8h0M170.6 314.6h0M171.5 312.3h0M172.4 310.1h0M173.3 307.9h0M174.2 305.1h0M175.2 300.5h0M176.1 295.7h0M177 290.8h0M177.9 286h0M178.8 281.2h0M179.8 276.4h0M180.7 271.5h0M134.5 387.6h0M135.4 385.3h0M136.3 383.1h0M137.2 380.9h0M138.2 378.7h0M139.1 376.5h0M140 374.3h0M140.9 372.1h0M141.8 369.9h0M142.8 367.6h0M143.7 365.4h0M144.6 363.2h0M145.5 361h0M146.5 358.8h0M147.4 356.6h0M148.3 354.4h0M149.2 352.2h0M150.1 349.9h0M151.1 347.7h0M152 345.5h0M152.9 343.3h0M153.8 341.1h0M154.8 338.9h0M155.7 336.7h0M156.6 334.5h0M157.5 332.2h0M158.4 330h0M159.4 327.8h0M160.3 325.6h0M161.2 323.4h0M162.1 321.2h0M163 319h0M164 316.8h0M164.9 314.5h0M165.8 312.3h0M166.7 310.1h0M167.7 307.9h0M168.6 305.4h0M169.5 301.7h0M170.4 297.9h0M171.3 294.2h0M172.3 290.5h0M173.2 286.7h0M174.1 283h0M175 279.3h0M176 275.5h0M176.9 271.8h0M127.9 388.8h0M128.8 386.8h0M129.7 384.7h0M130.7 382.7h0M131.6 380.7h0M132.5 378.7h0M133.4 376.7h0M134.3 374.7h0M135.3 372.7h0M136.2 370.7h0M137.1 368.7h0M138 366.7h0M139 364.7h0M139.9 362.7h0M140.8 360.7h0M141.7 358.7h0M142.6 356.7h0M143.6 354.7h0M144.5 352.7h0M145.4 350.7h0M146.3 348.7h0M147.2 346.7h0M148.2 344.7h0M149.1 342.6h0M150 340.5h0M150.9 338.4h0M151.9 336.3h0M152.8 334.1h0M153.7 332h0M154.6 329.9h0M155.5 327.8h0M156.5 325.6h0M157.4 323.5h0M158.3 321.4h0M159.2 319.2h0M160.2 317.1h0M161.1 315h0M162 312.9h0M162.9 310.6h0M163.8 308h0M164.8 305.4h0M165.7 302.7h0M166.6 300h0M167.5 297.4h0M168.4 294.7h0M169.4 292.1h0M170.3 289.4h0" stroke="#ff0" stroke-width="2.0" stroke-linecap="round" fill="none"/>
<circle cx="175.2" cy="276" r="2.1" fill="none" stroke="#00f" stroke-width="1.6"/>
<path d="M173.9 305.9l3.6 -1.6l-3 3.4z" fill="#f0f"/>
<path d="M42.3 401L211.6 420.4M211.6 420.4L254 346.8M42.3 401L42.3 327.5M211.6 420.4L210 423.3M183.4 417.2L181.7 420M155.2 413.9L153.5 416.8M126.9 410.7L125.3 413.6M98.7 407.5L97.1 410.3M70.5 404.2L68.9 407.1M42.3 401L40.7 403.9M211.6 420.4L214.9 420.8M222.2 402L225.5 402.4M232.8 383.6L236.1 384M243.4 365.2L246.7 365.6M254 346.8L257.3 347.2M42.3 401L37.9 401.5M42.3 388.8L37.9 389.2M42.3 376.5L37.9 377M42.3 364.2L37.9 364.8M42.3 352L37.9 352.5M42.3 339.8L37.9 340.2M42.3 327.5L37.9 328" stroke="#8a8a8a" stroke-width="0.9" fill="none"/>
<g font-family="Liberation Sans, Arial, sans-serif" font-size="8.6" fill="#333"><text x="35.1" y="403.5" text-anchor="end">500</text>
<text x="35.1" y="391.2" text-anchor="end">550</text>
<text x="35.1" y="379" text-anchor="end">600</text>
<text x="35.1" y="366.8" text-anchor="end">650</text>
<text x="35.1" y="354.5" text-anchor="end">700</text>
<text x="35.1" y="342.2" text-anchor="end">750</text>
<text x="35.1" y="330" text-anchor="end">800</text>
<text x="208.2" y="433.7" text-anchor="end">0</text>
<text x="180" y="430.5" text-anchor="end">0.5</text>
<text x="151.8" y="427.2" text-anchor="end">1</text>
<text x="123.5" y="424" text-anchor="end">1.5</text>
<text x="95.3" y="420.8" text-anchor="end">2</text>
<text x="67.1" y="417.5" text-anchor="end">2.5</text>
<text x="38.9" y="414.3" text-anchor="end">3</text>
<text x="218.6" y="428" text-anchor="start">1.3</text>
<text x="229.2" y="409.6" text-anchor="start">1.4</text>
<text x="239.8" y="391.2" text-anchor="start">1.5</text>
<text x="250.4" y="372.8" text-anchor="start">1.6</text>
<text x="261" y="354.4" text-anchor="start">1.7</text>
<text x="133" y="436.5" text-anchor="middle" font-size="9.2">S/C</text>
<text x="257.4" y="424" text-anchor="middle" font-size="9.2">O/C</text>
<text transform="translate(16.9 364.9) rotate(-90)" text-anchor="middle" font-size="9.2">Temperature [°C]</text></g>
<text x="148.1" y="250.1" text-anchor="middle" font-family="Liberation Sans, Arial, sans-serif" font-weight="bold" font-size="9.4" fill="#111">Isooctane</text>
<text x="142" y="457.4" text-anchor="middle" font-family="Liberation Serif, Times New Roman, serif" font-size="16.5" fill="#111">(<tspan font-weight="bold">c</tspan>)</text>
</g>
<g>
<path d="M479.2 420.4L521.6 346.6M521.6 346.6L521.6 272.8M450.9 417.2L493.4 343.5M493.4 343.5L493.4 269.7M422.7 414.1L465.1 340.3M465.1 340.3L465.1 266.5M394.4 410.9L436.9 337.2M436.9 337.2L436.9 263.4M366.2 407.8L408.6 334M408.6 334L408.6 260.2M337.9 404.6L380.4 330.9M380.4 330.9L380.4 257.1M309.7 401.5L352.1 327.7M352.1 327.7L352.1 253.9M479.2 420.4L309.7 401.5M309.7 401.5L309.7 327.7M489.8 401.9L320.3 383.1M320.3 383.1L320.3 309.2M500.4 383.5L330.9 364.6M330.9 364.6L330.9 290.8M511 365.1L341.5 346.2M341.5 346.2L341.5 272.4M521.6 346.6L352.1 327.7M352.1 327.7L352.1 253.9M309.7 401.5L352.1 327.7M352.1 327.7L521.6 346.6M309.7 389.2L352.1 315.4M352.1 315.4L521.6 334.3M309.7 376.9L352.1 303.1M352.1 303.1L521.6 322M309.7 364.6L352.1 290.8M352.1 290.8L521.6 309.7M309.7 352.3L352.1 278.5M352.1 278.5L521.6 297.4M309.7 340L352.1 266.2M352.1 266.2L521.6 285.1M309.7 327.7L352.1 253.9M352.1 253.9L521.6 272.8" stroke="#eeeeee" stroke-width="0.6" fill="none"/>
<g stroke="#000" stroke-width="0.4" stroke-opacity="0.8" stroke-linejoin="round">
<path fill="#fabc42" d="M355.7 260.2L353.4 259.5L355.7 259.8z"/>
<path fill="#efb94b" d="M362.3 262.1L355.7 260.2L355.7 259.8L362.4 260.4z"/>
<path fill="#e0ba52" d="M368.9 263.9L362.3 262.1L362.4 260.4L369.1 261z"/>
<path fill="#d1bb59" d="M375.5 265.8L368.9 263.9L369.1 261L375.7 261.6z"/>
<path fill="#c1bc5f" d="M382.1 267.7L375.5 265.8L375.7 261.6L382.4 262.2z"/>
<path fill="#b1bd66" d="M388.7 269.6L382.1 267.7L382.4 262.2L389.1 262.8z"/>
<path fill="#a0be6d" d="M395.3 271.4L388.7 269.6L389.1 262.8L395.7 263.5z"/>
<path fill="#91bf73" d="M401.9 273.3L395.3 271.4L395.7 263.5L402.4 264.1z"/>
<path fill="#85bf78" d="M408.5 275.2L401.9 273.3L402.4 264.1L409 264.7z"/>
<path fill="#79bf7d" d="M415 277.1L408.5 275.2L409 264.7L415.7 265.4z"/>
<path fill="#6cbf83" d="M421.6 278.9L415 277.1L415.7 265.4L422.3 266z"/>
<path fill="#5fbe89" d="M428.2 280.8L421.6 278.9L422.3 266L429 266.6z"/>
<path fill="#51bc90" d="M354.8 275.2L348.2 274L349.1 259.2L353.4 259.5L355.7 260.2z"/>
<path fill="#4cbc92" d="M361.4 276.4L354.8 275.2L355.7 260.2L362.3 262.1z"/>
<path fill="#47bb95" d="M368 277.6L361.4 276.4L362.3 262.1L368.9 263.9z"/>
<path fill="#42bb98" d="M374.6 278.8L368 277.6L368.9 263.9L375.5 265.8z"/>
<path fill="#3dba9b" d="M381.2 280L374.6 278.8L375.5 265.8L382.1 267.7z"/>
<path fill="#38b99e" d="M387.7 281.2L381.2 280L382.1 267.7L388.7 269.6z"/>
<path fill="#34b8a0" d="M394.3 282.4L387.7 281.2L388.7 269.6L395.3 271.4z"/>
<path fill="#2fb7a3" d="M400.9 283.6L394.3 282.4L395.3 271.4L401.9 273.3z"/>
<path fill="#2bb6a5" d="M407.5 284.8L400.9 283.6L401.9 273.3L408.5 275.2z"/>
<path fill="#27b6a8" d="M414.1 286L407.5 284.8L408.5 275.2L415 277.1z"/>
<path fill="#23b5ab" d="M420.7 287.2L414.1 286L415 277.1L421.6 278.9z"/>
<path fill="#20b4ad" d="M427.3 288.4L420.7 287.2L421.6 278.9L428.2 280.8z"/>
<path fill="#0badbc" d="M353.9 286.9L347.3 286.4L348.2 274L354.8 275.2z"/>
<path fill="#0cadbc" d="M360.4 287.5L353.9 286.9L354.8 275.2L361.4 276.4z"/>
<path fill="#0cadbb" d="M367 288L360.4 287.5L361.4 276.4L368 277.6z"/>
<path fill="#0dadbb" d="M373.6 288.5L367 288L368 277.6L374.6 278.8z"/>
<path fill="#0daebb" d="M380.2 289.1L373.6 288.5L374.6 278.8L381.2 280z"/>
<path fill="#0eaeba" d="M386.8 289.6L380.2 289.1L381.2 280L387.7 281.2z"/>
<path fill="#0eaeba" d="M393.4 290.1L386.8 289.6L387.7 281.2L394.3 282.4z"/>
<path fill="#0faeb9" d="M400 290.7L393.4 290.1L394.3 282.4L400.9 283.6z"/>
<path fill="#0faeb9" d="M406.6 291.2L400 290.7L400.9 283.6L407.5 284.8z"/>
<path fill="#10afb8" d="M413.2 291.7L406.6 291.2L407.5 284.8L414.1 286z"/>
<path fill="#11afb8" d="M419.8 292.3L413.2 291.7L414.1 286L420.7 287.2z"/>
<path fill="#11afb7" d="M426.4 292.8L419.8 292.3L420.7 287.2L427.3 288.4z"/>
<path fill="#06a5c9" d="M352.9 294.6L346.3 294.4L347.3 286.4L353.9 286.9z"/>
<path fill="#06a5c8" d="M359.5 294.9L352.9 294.6L353.9 286.9L360.4 287.5z"/>
<path fill="#06a6c7" d="M366.1 295.1L359.5 294.9L360.4 287.5L367 288z"/>
<path fill="#06a7c6" d="M372.7 295.3L366.1 295.1L367 288L373.6 288.5z"/>
<path fill="#06a7c5" d="M379.3 295.6L372.7 295.3L373.6 288.5L380.2 289.1z"/>
<path fill="#06a8c4" d="M385.9 295.8L379.3 295.6L380.2 289.1L386.8 289.6z"/>
<path fill="#07a9c3" d="M392.5 296L385.9 295.8L386.8 289.6L393.4 290.1z"/>
<path fill="#07a9c2" d="M399.1 296.3L392.5 296L393.4 290.1L400 290.7z"/>
<path fill="#07aac1" d="M405.7 296.5L399.1 296.3L400 290.7L406.6 291.2z"/>
<path fill="#08abc0" d="M412.3 296.7L405.7 296.5L406.6 291.2L413.2 291.7z"/>
<path fill="#09abbf" d="M418.8 297L412.3 296.7L413.2 291.7L419.8 292.3z"/>
<path fill="#0aacbe" d="M425.4 297.2L418.8 297L419.8 292.3L426.4 292.8z"/>
<path fill="#079ccf" d="M352 301L345.4 301L346.3 294.4L352.9 294.6z"/>
<path fill="#079ecf" d="M358.6 300.9L352 301L352.9 294.6L359.5 294.9z"/>
<path fill="#069fce" d="M365.2 300.9L358.6 300.9L359.5 294.9L366.1 295.1z"/>
<path fill="#06a1cd" d="M371.8 300.8L365.2 300.9L366.1 295.1L372.7 295.3z"/>
<path fill="#06a2cc" d="M378.4 300.8L371.8 300.8L372.7 295.3L379.3 295.6z"/>
<path fill="#06a3ca" d="M385 300.7L378.4 300.8L379.3 295.6L385.9 295.8z"/>
<path fill="#06a4c9" d="M391.5 300.7L385 300.7L385.9 295.8L392.5 296z"/>
<path fill="#06a5c8" d="M398.1 300.7L391.5 300.7L392.5 296L399.1 296.3z"/>
<path fill="#06a7c6" d="M404.7 300.6L398.1 300.7L399.1 296.3L405.7 296.5z"/>
<path fill="#06a8c5" d="M411.3 300.6L404.7 300.6L405.7 296.5L412.3 296.7z"/>
<path fill="#07a9c3" d="M417.9 300.5L411.3 300.6L412.3 296.7L418.8 297z"/>
<path fill="#07aac2" d="M424.5 300.5L417.9 300.5L418.8 297L425.4 297.2z"/>
<path fill="#0a97d1" d="M351.1 305L344.5 305.2L345.4 301L352 301z"/>
<path fill="#0899d1" d="M357.7 304.8L351.1 305L352 301L358.6 300.9z"/>
<path fill="#079bd0" d="M364.2 304.7L357.7 304.8L358.6 300.9L365.2 300.9z"/>
<path fill="#079dcf" d="M370.8 304.5L364.2 304.7L365.2 300.9L371.8 300.8z"/>
<path fill="#069ece" d="M377.4 304.3L370.8 304.5L371.8 300.8L378.4 300.8z"/>
<path fill="#06a0cd" d="M384 304.2L377.4 304.3L378.4 300.8L385 300.7z"/>
<path fill="#06a2cc" d="M390.6 304L384 304.2L385 300.7L391.5 300.7z"/>
<path fill="#06a3ca" d="M397.2 303.8L390.6 304L391.5 300.7L398.1 300.7z"/>
<path fill="#06a4c9" d="M403.8 303.6L397.2 303.8L398.1 300.7L404.7 300.6z"/>
<path fill="#06a6c7" d="M410.4 303.5L403.8 303.6L404.7 300.6L411.3 300.6z"/>
<path fill="#06a7c6" d="M417 303.3L410.4 303.5L411.3 300.6L417.9 300.5z"/>
<path fill="#06a8c4" d="M423.6 303.1L417 303.3L417.9 300.5L424.5 300.5z"/>
<path fill="#0e91d2" d="M350.1 309L343.5 309.3L344.5 305.2L351.1 305z"/>
<path fill="#0c94d2" d="M356.7 308.7L350.1 309L351.1 305L357.7 304.8z"/>
<path fill="#0a96d1" d="M363.3 308.4L356.7 308.7L357.7 304.8L364.2 304.7z"/>
<path fill="#0999d1" d="M369.9 308.1L363.3 308.4L364.2 304.7L370.8 304.5z"/>
<path fill="#089bd0" d="M376.5 307.8L369.9 308.1L370.8 304.5L377.4 304.3z"/>
<path fill="#079dcf" d="M383.1 307.5L376.5 307.8L377.4 304.3L384 304.2z"/>
<path fill="#069fce" d="M389.7 307.2L383.1 307.5L384 304.2L390.6 304z"/>
<path fill="#06a1cd" d="M396.3 306.9L389.7 307.2L390.6 304L397.2 303.8z"/>
<path fill="#06a2cb" d="M402.9 306.6L396.3 306.9L397.2 303.8L403.8 303.6z"/>
<path fill="#06a4ca" d="M409.5 306.3L402.9 306.6L403.8 303.6L410.4 303.5z"/>
<path fill="#06a5c8" d="M416 306L409.5 306.3L410.4 303.5L417 303.3z"/>
<path fill="#06a7c6" d="M422.6 305.8L416 306L417 303.3L423.6 303.1z"/>
<path fill="#118dd2" d="M349.2 312L342.6 312.4L343.5 309.3L350.1 309z"/>
<path fill="#0f90d2" d="M355.8 311.7L349.2 312L350.1 309L356.7 308.7z"/>
<path fill="#0d93d2" d="M362.4 311.4L355.8 311.7L356.7 308.7L363.3 308.4z"/>
<path fill="#0b95d1" d="M369 311.1L362.4 311.4L363.3 308.4L369.9 308.1z"/>
<path fill="#0998d1" d="M375.6 310.8L369 311.1L369.9 308.1L376.5 307.8z"/>
<path fill="#089ad0" d="M382.2 310.4L375.6 310.8L376.5 307.8L383.1 307.5z"/>
<path fill="#079cd0" d="M388.7 310.1L382.2 310.4L383.1 307.5L389.7 307.2z"/>
<path fill="#069ece" d="M395.3 309.8L388.7 310.1L389.7 307.2L396.3 306.9z"/>
<path fill="#06a0cd" d="M401.9 309.5L395.3 309.8L396.3 306.9L402.9 306.6z"/>
<path fill="#06a2cb" d="M408.5 309.2L401.9 309.5L402.9 306.6L409.5 306.3z"/>
<path fill="#06a4ca" d="M415.1 308.8L408.5 309.2L409.5 306.3L416 306z"/>
<path fill="#06a5c8" d="M421.7 308.5L415.1 308.8L416 306L422.6 305.8z"/>
<path fill="#1388d3" d="M348.3 315.1L341.7 315.5L342.6 312.4L349.2 312z"/>
<path fill="#128bd2" d="M354.9 314.8L348.3 315.1L349.2 312L355.8 311.7z"/>
<path fill="#108fd2" d="M361.4 314.4L354.9 314.8L355.8 311.7L362.4 311.4z"/>
<path fill="#0d92d2" d="M368 314.1L361.4 314.4L362.4 311.4L369 311.1z"/>
<path fill="#0b95d2" d="M374.6 313.7L368 314.1L369 311.1L375.6 310.8z"/>
<path fill="#0997d1" d="M381.2 313.4L374.6 313.7L375.6 310.8L382.2 310.4z"/>
<path fill="#089ad1" d="M387.8 313L381.2 313.4L382.2 310.4L388.7 310.1z"/>
<path fill="#079cd0" d="M394.4 312.7L387.8 313L388.7 310.1L395.3 309.8z"/>
<path fill="#079ecf" d="M401 312.3L394.4 312.7L395.3 309.8L401.9 309.5z"/>
<path fill="#06a0cd" d="M407.6 312L401 312.3L401.9 309.5L408.5 309.2z"/>
<path fill="#06a2cc" d="M414.2 311.7L407.6 312L408.5 309.2L415.1 308.8z"/>
<path fill="#06a3ca" d="M420.8 311.3L414.2 311.7L415.1 308.8L421.7 308.5z"/>
<path fill="#1485d4" d="M347.3 318.2L340.7 318.5L341.7 315.5L348.3 315.1z"/>
<path fill="#1387d3" d="M353.9 317.8L347.3 318.2L348.3 315.1L354.9 314.8z"/>
<path fill="#128bd3" d="M360.5 317.4L353.9 317.8L354.9 314.8L361.4 314.4z"/>
<path fill="#118ed2" d="M367.1 317.1L360.5 317.4L361.4 314.4L368 314.1z"/>
<path fill="#0e91d2" d="M373.7 316.7L367.1 317.1L368 314.1L374.6 313.7z"/>
<path fill="#0c94d2" d="M380.3 316.3L373.7 316.7L374.6 313.7L381.2 313.4z"/>
<path fill="#0a97d1" d="M386.9 315.9L380.3 316.3L381.2 313.4L387.8 313z"/>
<path fill="#0899d1" d="M393.5 315.6L386.9 315.9L387.8 313L394.4 312.7z"/>
<path fill="#079cd0" d="M400.1 315.2L393.5 315.6L394.4 312.7L401 312.3z"/>
<path fill="#079ecf" d="M406.7 314.8L400.1 315.2L401 312.3L407.6 312z"/>
<path fill="#06a0cd" d="M413.2 314.5L406.7 314.8L407.6 312L414.2 311.7z"/>
<path fill="#06a2cc" d="M419.8 314.1L413.2 314.5L414.2 311.7L420.8 311.3z"/>
<path fill="#1481d5" d="M346.4 321.1L339.8 321.5L340.7 318.5L347.3 318.2z"/>
<path fill="#1484d4" d="M353 320.8L346.4 321.1L347.3 318.2L353.9 317.8z"/>
<path fill="#1487d3" d="M359.6 320.4L353 320.8L353.9 317.8L360.5 317.4z"/>
<path fill="#138ad3" d="M366.2 320L359.6 320.4L360.5 317.4L367.1 317.1z"/>
<path fill="#118dd2" d="M372.8 319.6L366.2 320L367.1 317.1L373.7 316.7z"/>
<path fill="#0e91d2" d="M379.4 319.2L372.8 319.6L373.7 316.7L380.3 316.3z"/>
<path fill="#0c94d2" d="M385.9 318.8L379.4 319.2L380.3 316.3L386.9 315.9z"/>
<path fill="#0a96d1" d="M392.5 318.4L385.9 318.8L386.9 315.9L393.5 315.6z"/>
<path fill="#0899d1" d="M399.1 318L392.5 318.4L393.5 315.6L400.1 315.2z"/>
<path fill="#079bd0" d="M405.7 317.6L399.1 318L400.1 315.2L406.7 314.8z"/>
<path fill="#079ecf" d="M412.3 317.2L405.7 317.6L406.7 314.8L413.2 314.5z"/>
<path fill="#06a0cd" d="M418.9 316.8L412.3 317.2L413.2 314.5L419.8 314.1z"/>
<path fill="#137fd7" d="M345.5 323.8L338.9 324.2L339.8 321.5L346.4 321.1z"/>
<path fill="#1482d5" d="M352.1 323.4L345.5 323.8L346.4 321.1L353 320.8z"/>
<path fill="#1484d4" d="M358.6 323L352.1 323.4L353 320.8L359.6 320.4z"/>
<path fill="#1487d3" d="M365.2 322.6L358.6 323L359.6 320.4L366.2 320z"/>
<path fill="#128ad3" d="M371.8 322.2L365.2 322.6L366.2 320L372.8 319.6z"/>
<path fill="#118ed2" d="M378.4 321.8L371.8 322.2L372.8 319.6L379.4 319.2z"/>
<path fill="#0e91d2" d="M385 321.5L378.4 321.8L379.4 319.2L385.9 318.8z"/>
<path fill="#0c94d2" d="M391.6 321.1L385 321.5L385.9 318.8L392.5 318.4z"/>
<path fill="#0a97d1" d="M398.2 320.7L391.6 321.1L392.5 318.4L399.1 318z"/>
<path fill="#0899d1" d="M404.8 320.3L398.2 320.7L399.1 318L405.7 317.6z"/>
<path fill="#079cd0" d="M411.4 319.9L404.8 320.3L405.7 317.6L412.3 317.2z"/>
<path fill="#079ecf" d="M418 319.5L411.4 319.9L412.3 317.2L418.9 316.8z"/>
<path fill="#127dd8" d="M344.5 326.4L337.9 326.8L338.9 324.2L345.5 323.8z"/>
<path fill="#137fd6" d="M351.1 326L344.5 326.4L345.5 323.8L352.1 323.4z"/>
<path fill="#1482d5" d="M357.7 325.6L351.1 326L352.1 323.4L358.6 323z"/>
<path fill="#1485d4" d="M364.3 325.3L357.7 325.6L358.6 323L365.2 322.6z"/>
<path fill="#1387d3" d="M370.9 324.9L364.3 325.3L365.2 322.6L371.8 322.2z"/>
<path fill="#128bd3" d="M377.5 324.5L370.9 324.9L371.8 322.2L378.4 321.8z"/>
<path fill="#108ed2" d="M384.1 324.1L377.5 324.5L378.4 321.8L385 321.5z"/>
<path fill="#0e91d2" d="M390.7 323.7L384.1 324.1L385 321.5L391.6 321.1z"/>
<path fill="#0c94d2" d="M397.3 323.3L390.7 323.7L391.6 321.1L398.2 320.7z"/>
<path fill="#0a97d1" d="M403.9 323L397.3 323.3L398.2 320.7L404.8 320.3z"/>
<path fill="#0899d1" d="M410.4 322.6L403.9 323L404.8 320.3L411.4 319.9z"/>
<path fill="#079cd0" d="M417 322.2L410.4 322.6L411.4 319.9L418 319.5z"/>
<path fill="#117ad9" d="M343.6 329.1L337 329.4L337.9 326.8L344.5 326.4z"/>
<path fill="#137dd8" d="M350.2 328.7L343.6 329.1L344.5 326.4L351.1 326z"/>
<path fill="#137fd6" d="M356.8 328.3L350.2 328.7L351.1 326L357.7 325.6z"/>
<path fill="#1482d5" d="M363.4 327.9L356.8 328.3L357.7 325.6L364.3 325.3z"/>
<path fill="#1485d4" d="M370 327.5L363.4 327.9L364.3 325.3L370.9 324.9z"/>
<path fill="#1388d3" d="M376.6 327.2L370 327.5L370.9 324.9L377.5 324.5z"/>
<path fill="#128bd3" d="M383.1 326.8L376.6 327.2L377.5 324.5L384.1 324.1z"/>
<path fill="#108ed2" d="M389.7 326.4L383.1 326.8L384.1 324.1L390.7 323.7z"/>
<path fill="#0e91d2" d="M396.3 326L389.7 326.4L390.7 323.7L397.3 323.3z"/>
<path fill="#0c94d2" d="M402.9 325.6L396.3 326L397.3 323.3L403.9 323z"/>
<path fill="#0a97d1" d="M409.5 325.2L402.9 325.6L403.9 323L410.4 322.6z"/>
<path fill="#0899d1" d="M416.1 324.9L409.5 325.2L410.4 322.6L417 322.2z"/>
<path fill="#1078da" d="M342.7 331.7L336.1 332.1L337 329.4L343.6 329.1z"/>
<path fill="#117bd9" d="M349.3 331.3L342.7 331.7L343.6 329.1L350.2 328.7z"/>
<path fill="#137dd8" d="M355.8 330.9L349.3 331.3L350.2 328.7L356.8 328.3z"/>
<path fill="#1480d6" d="M362.4 330.6L355.8 330.9L356.8 328.3L363.4 327.9z"/>
<path fill="#1482d5" d="M369 330.2L362.4 330.6L363.4 327.9L370 327.5z"/>
<path fill="#1485d4" d="M375.6 329.8L369 330.2L370 327.5L376.6 327.2z"/>
<path fill="#1388d3" d="M382.2 329.4L375.6 329.8L376.6 327.2L383.1 326.8z"/>
<path fill="#128bd2" d="M388.8 329.1L382.2 329.4L383.1 326.8L389.7 326.4z"/>
<path fill="#108ed2" d="M395.4 328.7L388.8 329.1L389.7 326.4L396.3 326z"/>
<path fill="#0e92d2" d="M402 328.3L395.4 328.7L396.3 326L402.9 325.6z"/>
<path fill="#0b95d2" d="M408.6 327.9L402 328.3L402.9 325.6L409.5 325.2z"/>
<path fill="#0997d1" d="M415.2 327.5L408.6 327.9L409.5 325.2L416.1 324.9z"/>
<path fill="#0e76dc" d="M341.7 334.3L335.1 334.7L336.1 332.1L342.7 331.7z"/>
<path fill="#1078da" d="M348.3 334L341.7 334.3L342.7 331.7L349.3 331.3z"/>
<path fill="#117bd9" d="M354.9 333.6L348.3 334L349.3 331.3L355.8 330.9z"/>
<path fill="#137dd7" d="M361.5 333.2L354.9 333.6L355.8 330.9L362.4 330.6z"/>
<path fill="#1480d6" d="M368.1 332.8L361.5 333.2L362.4 330.6L369 330.2z"/>
<path fill="#1483d5" d="M374.7 332.5L368.1 332.8L369 330.2L375.6 329.8z"/>
<path fill="#1485d4" d="M381.3 332.1L374.7 332.5L375.6 329.8L382.2 329.4z"/>
<path fill="#1388d3" d="M387.9 331.7L381.3 332.1L382.2 329.4L388.8 329.1z"/>
<path fill="#128bd2" d="M394.5 331.3L387.9 331.7L388.8 329.1L395.4 328.7z"/>
<path fill="#108ed2" d="M401.1 331L394.5 331.3L395.4 328.7L402 328.3z"/>
<path fill="#0d92d2" d="M407.6 330.6L401.1 331L402 328.3L408.6 327.9z"/>
<path fill="#0b95d2" d="M414.2 330.2L407.6 330.6L408.6 327.9L415.2 327.5z"/>
<path fill="#0d75dc" d="M340.8 336.4L334.2 336.8L335.1 334.7L341.7 334.3z"/>
<path fill="#0f77db" d="M347.4 336.1L340.8 336.4L341.7 334.3L348.3 334z"/>
<path fill="#117ada" d="M354 335.7L347.4 336.1L348.3 334L354.9 333.6z"/>
<path fill="#127cd8" d="M360.6 335.3L354 335.7L354.9 333.6L361.5 333.2z"/>
<path fill="#137fd7" d="M367.2 334.9L360.6 335.3L361.5 333.2L368.1 332.8z"/>
<path fill="#1481d5" d="M373.8 334.6L367.2 334.9L368.1 332.8L374.7 332.5z"/>
<path fill="#1484d4" d="M380.3 334.2L373.8 334.6L374.7 332.5L381.3 332.1z"/>
<path fill="#1487d3" d="M386.9 333.8L380.3 334.2L381.3 332.1L387.9 331.7z"/>
<path fill="#138ad3" d="M393.5 333.5L386.9 333.8L387.9 331.7L394.5 331.3z"/>
<path fill="#118dd2" d="M400.1 333.1L393.5 333.5L394.5 331.3L401.1 331z"/>
<path fill="#0f90d2" d="M406.7 332.7L400.1 333.1L401.1 331L407.6 330.6z"/>
<path fill="#0c93d2" d="M413.3 332.4L406.7 332.7L407.6 330.6L414.2 330.2z"/>
<path fill="#0c74dd" d="M339.9 338.4L333.3 338.8L334.2 336.8L340.8 336.4z"/>
<path fill="#0e76db" d="M346.5 338.1L339.9 338.4L340.8 336.4L347.4 336.1z"/>
<path fill="#1079da" d="M353 337.7L346.5 338.1L347.4 336.1L354 335.7z"/>
<path fill="#127bd9" d="M359.6 337.3L353 337.7L354 335.7L360.6 335.3z"/>
<path fill="#137ed7" d="M366.2 337L359.6 337.3L360.6 335.3L367.2 334.9z"/>
<path fill="#1480d6" d="M372.8 336.6L366.2 337L367.2 334.9L373.8 334.6z"/>
<path fill="#1483d5" d="M379.4 336.2L372.8 336.6L373.8 334.6L380.3 334.2z"/>
<path fill="#1486d4" d="M386 335.9L379.4 336.2L380.3 334.2L386.9 333.8z"/>
<path fill="#1389d3" d="M392.6 335.5L386 335.9L386.9 333.8L393.5 333.5z"/>
<path fill="#128cd2" d="M399.2 335.1L392.6 335.5L393.5 333.5L400.1 333.1z"/>
<path fill="#108fd2" d="M405.8 334.8L399.2 335.1L400.1 333.1L406.7 332.7z"/>
<path fill="#0d92d2" d="M412.4 334.4L405.8 334.8L406.7 332.7L413.3 332.4z"/>
<path fill="#0b73dd" d="M338.9 340.5L332.3 340.8L333.3 338.8L339.9 338.4z"/>
<path fill="#0d76dc" d="M345.5 340.1L338.9 340.5L339.9 338.4L346.5 338.1z"/>
<path fill="#0f78db" d="M352.1 339.7L345.5 340.1L346.5 338.1L353 337.7z"/>
<path fill="#117ad9" d="M358.7 339.4L352.1 339.7L353 337.7L359.6 337.3z"/>
<path fill="#137dd8" d="M365.3 339L358.7 339.4L359.6 337.3L366.2 337z"/>
<path fill="#137fd6" d="M371.9 338.6L365.3 339L366.2 337L372.8 336.6z"/>
<path fill="#1482d5" d="M378.5 338.3L371.9 338.6L372.8 336.6L379.4 336.2z"/>
<path fill="#1485d4" d="M385.1 337.9L378.5 338.3L379.4 336.2L386 335.9z"/>
<path fill="#1388d3" d="M391.7 337.5L385.1 337.9L386 335.9L392.6 335.5z"/>
<path fill="#128bd3" d="M398.3 337.2L391.7 337.5L392.6 335.5L399.2 335.1z"/>
<path fill="#108ed2" d="M404.9 336.8L398.3 337.2L399.2 335.1L405.8 334.8z"/>
<path fill="#0e91d2" d="M411.4 336.4L404.9 336.8L405.8 334.8L412.4 334.4z"/>
<path fill="#0a72de" d="M338 342.5L331.4 342.9L332.3 340.8L338.9 340.5z"/>
<path fill="#0c75dd" d="M344.6 342.1L338 342.5L338.9 340.5L345.5 340.1z"/>
<path fill="#0f77db" d="M351.2 341.8L344.6 342.1L345.5 340.1L352.1 339.7z"/>
<path fill="#117ada" d="M357.8 341.4L351.2 341.8L352.1 339.7L358.7 339.4z"/>
<path fill="#127cd8" d="M364.4 341L357.8 341.4L358.7 339.4L365.3 339z"/>
<path fill="#137fd7" d="M371 340.7L364.4 341L365.3 339L371.9 338.6z"/>
<path fill="#1481d6" d="M377.6 340.3L371 340.7L371.9 338.6L378.5 338.3z"/>
<path fill="#1484d4" d="M384.1 339.9L377.6 340.3L378.5 338.3L385.1 337.9z"/>
<path fill="#1486d3" d="M390.7 339.6L384.1 339.9L385.1 337.9L391.7 337.5z"/>
<path fill="#1389d3" d="M397.3 339.2L390.7 339.6L391.7 337.5L398.3 337.2z"/>
<path fill="#118dd2" d="M403.9 338.9L397.3 339.2L398.3 337.2L404.9 336.8z"/>
<path fill="#0f90d2" d="M410.5 338.5L403.9 338.9L404.9 336.8L411.4 336.4z"/>
<path fill="#0971de" d="M337.1 344.5L330.5 344.9L331.4 342.9L338 342.5z"/>
<path fill="#0b74dd" d="M343.7 344.1L337.1 344.5L338 342.5L344.6 342.1z"/>
<path fill="#0e76dc" d="M350.3 343.8L343.7 344.1L344.6 342.1L351.2 341.8z"/>
<path fill="#1079da" d="M356.8 343.4L350.3 343.8L351.2 341.8L357.8 341.4z"/>
<path fill="#117bd9" d="M363.4 343.1L356.8 343.4L357.8 341.4L364.4 341z"/>
<path fill="#137ed7" d="M370 342.7L363.4 343.1L364.4 341L371 340.7z"/>
<path fill="#1480d6" d="M376.6 342.3L370 342.7L371 340.7L377.6 340.3z"/>
<path fill="#1483d5" d="M383.2 342L376.6 342.3L377.6 340.3L384.1 339.9z"/>
<path fill="#1485d4" d="M389.8 341.6L383.2 342L384.1 339.9L390.7 339.6z"/>
<path fill="#1388d3" d="M396.4 341.3L389.8 341.6L390.7 339.6L397.3 339.2z"/>
<path fill="#128bd2" d="M403 340.9L396.4 341.3L397.3 339.2L403.9 338.9z"/>
<path fill="#108fd2" d="M409.6 340.5L403 340.9L403.9 338.9L410.5 338.5z"/>
<path fill="#0870df" d="M336.1 346.5L329.5 346.9L330.5 344.9L337.1 344.5z"/>
<path fill="#0a73dd" d="M342.7 346.2L336.1 346.5L337.1 344.5L343.7 344.1z"/>
<path fill="#0d75dc" d="M349.3 345.8L342.7 346.2L343.7 344.1L350.3 343.8z"/>
<path fill="#0f78db" d="M355.9 345.5L349.3 345.8L350.3 343.8L356.8 343.4z"/>
<path fill="#117ad9" d="M362.5 345.1L355.9 345.5L356.8 343.4L363.4 343.1z"/>
<path fill="#127dd8" d="M369.1 344.7L362.5 345.1L363.4 343.1L370 342.7z"/>
<path fill="#137fd7" d="M375.7 344.4L369.1 344.7L370 342.7L376.6 342.3z"/>
<path fill="#1482d5" d="M382.3 344L375.7 344.4L376.6 342.3L383.2 342z"/>
<path fill="#1484d4" d="M388.9 343.7L382.3 344L383.2 342L389.8 341.6z"/>
<path fill="#1487d3" d="M395.5 343.3L388.9 343.7L389.8 341.6L396.4 341.3z"/>
<path fill="#138ad3" d="M402.1 342.9L395.5 343.3L396.4 341.3L403 340.9z"/>
<path fill="#118dd2" d="M408.6 342.6L402.1 342.9L403 340.9L409.6 340.5z"/>
<path fill="#076fdf" d="M335.2 348.6L328.6 348.9L329.5 346.9L336.1 346.5z"/>
<path fill="#0972de" d="M341.8 348.2L335.2 348.6L336.1 346.5L342.7 346.2z"/>
<path fill="#0c74dd" d="M348.4 347.8L341.8 348.2L342.7 346.2L349.3 345.8z"/>
<path fill="#0e77db" d="M355 347.5L348.4 347.8L349.3 345.8L355.9 345.5z"/>
<path fill="#1079da" d="M361.6 347.1L355 347.5L355.9 345.5L362.5 345.1z"/>
<path fill="#127cd8" d="M368.2 346.8L361.6 347.1L362.5 345.1L369.1 344.7z"/>
<path fill="#137ed7" d="M374.8 346.4L368.2 346.8L369.1 344.7L375.7 344.4z"/>
<path fill="#1481d6" d="M381.3 346L374.8 346.4L375.7 344.4L382.3 344z"/>
<path fill="#1483d5" d="M387.9 345.7L381.3 346L382.3 344L388.9 343.7z"/>
<path fill="#1486d4" d="M394.5 345.3L387.9 345.7L388.9 343.7L395.5 343.3z"/>
<path fill="#1389d3" d="M401.1 345L394.5 345.3L395.5 343.3L402.1 342.9z"/>
<path fill="#118cd2" d="M407.7 344.6L401.1 345L402.1 342.9L408.6 342.6z"/>
<path fill="#066edf" d="M334.3 350.6L327.7 350.9L328.6 348.9L335.2 348.6z"/>
<path fill="#0871de" d="M340.9 350.2L334.3 350.6L335.2 348.6L341.8 348.2z"/>
<path fill="#0b73dd" d="M347.5 349.9L340.9 350.2L341.8 348.2L348.4 347.8z"/>
<path fill="#0e76dc" d="M354 349.5L347.5 349.9L348.4 347.8L355 347.5z"/>
<path fill="#1078da" d="M360.6 349.2L354 349.5L355 347.5L361.6 347.1z"/>
<path fill="#117bd9" d="M367.2 348.8L360.6 349.2L361.6 347.1L368.2 346.8z"/>
<path fill="#137dd8" d="M373.8 348.4L367.2 348.8L368.2 346.8L374.8 346.4z"/>
<path fill="#1480d6" d="M380.4 348.1L373.8 348.4L374.8 346.4L381.3 346z"/>
<path fill="#1482d5" d="M387 347.7L380.4 348.1L381.3 346L387.9 345.7z"/>
<path fill="#1485d4" d="M393.6 347.4L387 347.7L387.9 345.7L394.5 345.3z"/>
<path fill="#1388d3" d="M400.2 347L393.6 347.4L394.5 345.3L401.1 345z"/>
<path fill="#128bd2" d="M406.8 346.7L400.2 347L401.1 345L407.7 344.6z"/>
<path fill="#056de0" d="M333.3 352.6L326.7 352.9L327.7 350.9L334.3 350.6z"/>
<path fill="#0770df" d="M339.9 352.2L333.3 352.6L334.3 350.6L340.9 350.2z"/>
<path fill="#0a73de" d="M346.5 351.9L339.9 352.2L340.9 350.2L347.5 349.9z"/>
<path fill="#0d75dc" d="M353.1 351.5L346.5 351.9L347.5 349.9L354 349.5z"/>
<path fill="#0f77db" d="M359.7 351.2L353.1 351.5L354 349.5L360.6 349.2z"/>
<path fill="#117ad9" d="M366.3 350.8L359.7 351.2L360.6 349.2L367.2 348.8z"/>
<path fill="#127cd8" d="M372.9 350.5L366.3 350.8L367.2 348.8L373.8 348.4z"/>
<path fill="#137fd7" d="M379.5 350.1L372.9 350.5L373.8 348.4L380.4 348.1z"/>
<path fill="#1481d5" d="M386.1 349.8L379.5 350.1L380.4 348.1L387 347.7z"/>
<path fill="#1484d4" d="M392.7 349.4L386.1 349.8L387 347.7L393.6 347.4z"/>
<path fill="#1487d3" d="M399.3 349.1L392.7 349.4L393.6 347.4L400.2 347z"/>
<path fill="#138ad3" d="M405.8 348.7L399.3 349.1L400.2 347L406.8 346.7z"/>
<path fill="#046ce0" d="M332.4 354.6L325.8 355L326.7 352.9L333.3 352.6z"/>
<path fill="#066fdf" d="M339 354.3L332.4 354.6L333.3 352.6L339.9 352.2z"/>
<path fill="#0972de" d="M345.6 353.9L339 354.3L339.9 352.2L346.5 351.9z"/>
<path fill="#0c74dd" d="M352.2 353.6L345.6 353.9L346.5 351.9L353.1 351.5z"/>
<path fill="#0e77db" d="M358.8 353.2L352.2 353.6L353.1 351.5L359.7 351.2z"/>
<path fill="#1079da" d="M365.4 352.9L358.8 353.2L359.7 351.2L366.3 350.8z"/>
<path fill="#127bd9" d="M372 352.5L365.4 352.9L366.3 350.8L372.9 350.5z"/>
<path fill="#137ed7" d="M378.5 352.2L372 352.5L372.9 350.5L379.5 350.1z"/>
<path fill="#1480d6" d="M385.1 351.8L378.5 352.2L379.5 350.1L386.1 349.8z"/>
<path fill="#1483d5" d="M391.7 351.5L385.1 351.8L386.1 349.8L392.7 349.4z"/>
<path fill="#1486d4" d="M398.3 351.1L391.7 351.5L392.7 349.4L399.3 349.1z"/>
<path fill="#1389d3" d="M404.9 350.8L398.3 351.1L399.3 349.1L405.8 348.7z"/>
<path fill="#036be0" d="M331.5 356.6L324.9 357L325.8 355L332.4 354.6z"/>
<path fill="#056ee0" d="M338.1 356.3L331.5 356.6L332.4 354.6L339 354.3z"/>
<path fill="#0871de" d="M344.7 355.9L338.1 356.3L339 354.3L345.6 353.9z"/>
<path fill="#0b73dd" d="M351.2 355.6L344.7 355.9L345.6 353.9L352.2 353.6z"/>
<path fill="#0d76dc" d="M357.8 355.2L351.2 355.6L352.2 353.6L358.8 353.2z"/>
<path fill="#0f78db" d="M364.4 354.9L357.8 355.2L358.8 353.2L365.4 352.9z"/>
<path fill="#117bd9" d="M371 354.5L364.4 354.9L365.4 352.9L372 352.5z"/>
<path fill="#137dd8" d="M377.6 354.2L371 354.5L372 352.5L378.5 352.2z"/>
<path fill="#137fd6" d="M384.2 353.8L377.6 354.2L378.5 352.2L385.1 351.8z"/>
<path fill="#1482d5" d="M390.8 353.5L384.2 353.8L385.1 351.8L391.7 351.5z"/>
<path fill="#1485d4" d="M397.4 353.1L390.8 353.5L391.7 351.5L398.3 351.1z"/>
<path fill="#1487d3" d="M404 352.8L397.4 353.1L398.3 351.1L404.9 350.8z"/>
<path fill="#036ae1" d="M330.5 358.7L323.9 359L324.9 357L331.5 356.6z"/>
<path fill="#046de0" d="M337.1 358.3L330.5 358.7L331.5 356.6L338.1 356.3z"/>
<path fill="#0770df" d="M343.7 358L337.1 358.3L338.1 356.3L344.7 355.9z"/>
<path fill="#0a72de" d="M350.3 357.6L343.7 358L344.7 355.9L351.2 355.6z"/>
<path fill="#0c75dc" d="M356.9 357.3L350.3 357.6L351.2 355.6L357.8 355.2z"/>
<path fill="#0f77db" d="M363.5 356.9L356.9 357.3L357.8 355.2L364.4 354.9z"/>
<path fill="#117ada" d="M370.1 356.6L363.5 356.9L364.4 354.9L371 354.5z"/>
<path fill="#127cd8" d="M376.7 356.2L370.1 356.6L371 354.5L377.6 354.2z"/>
<path fill="#137fd7" d="M383.3 355.9L376.7 356.2L377.6 354.2L384.2 353.8z"/>
<path fill="#1481d6" d="M389.9 355.5L383.3 355.9L384.2 353.8L390.8 353.5z"/>
<path fill="#1484d4" d="M396.5 355.2L389.9 355.5L390.8 353.5L397.4 353.1z"/>
<path fill="#1486d3" d="M403 354.8L396.5 355.2L397.4 353.1L404 352.8z"/>
<path fill="#0269e1" d="M329.6 360.7L323 361L323.9 359L330.5 358.7z"/>
<path fill="#046ce0" d="M336.2 360.3L329.6 360.7L330.5 358.7L337.1 358.3z"/>
<path fill="#066fdf" d="M342.8 360L336.2 360.3L337.1 358.3L343.7 358z"/>
<path fill="#0971de" d="M349.4 359.6L342.8 360L343.7 358L350.3 357.6z"/>
<path fill="#0b74dd" d="M356 359.3L349.4 359.6L350.3 357.6L356.9 357.3z"/>
<path fill="#0e76dc" d="M362.6 359L356 359.3L356.9 357.3L363.5 356.9z"/>
<path fill="#1079da" d="M369.2 358.6L362.6 359L363.5 356.9L370.1 356.6z"/>
<path fill="#127bd9" d="M375.7 358.3L369.2 358.6L370.1 356.6L376.7 356.2z"/>
<path fill="#137ed7" d="M382.3 357.9L375.7 358.3L376.7 356.2L383.3 355.9z"/>
<path fill="#1480d6" d="M388.9 357.6L382.3 357.9L383.3 355.9L389.9 355.5z"/>
<path fill="#1483d5" d="M395.5 357.2L388.9 357.6L389.9 355.5L396.5 355.2z"/>
<path fill="#1485d4" d="M402.1 356.9L395.5 357.2L396.5 355.2L403 354.8z"/>
<path fill="#0268e1" d="M328.7 362.7L322.1 363L323 361L329.6 360.7z"/>
<path fill="#036be0" d="M335.3 362.4L328.7 362.7L329.6 360.7L336.2 360.3z"/>
<path fill="#056ee0" d="M341.9 362L335.3 362.4L336.2 360.3L342.8 360z"/>
<path fill="#0870df" d="M348.4 361.7L341.9 362L342.8 360L349.4 359.6z"/>
<path fill="#0a73dd" d="M355 361.3L348.4 361.7L349.4 359.6L356 359.3z"/>
<path fill="#0d75dc" d="M361.6 361L355 361.3L356 359.3L362.6 359z"/>
<path fill="#0f78db" d="M368.2 360.6L361.6 361L362.6 359L369.2 358.6z"/>
<path fill="#117ad9" d="M374.8 360.3L368.2 360.6L369.2 358.6L375.7 358.3z"/>
<path fill="#127dd8" d="M381.4 360L374.8 360.3L375.7 358.3L382.3 357.9z"/>
<path fill="#137fd7" d="M388 359.6L381.4 360L382.3 357.9L388.9 357.6z"/>
<path fill="#1482d5" d="M394.6 359.3L388 359.6L388.9 357.6L395.5 357.2z"/>
<path fill="#1484d4" d="M401.2 358.9L394.6 359.3L395.5 357.2L402.1 356.9z"/>
<path fill="#0267e1" d="M327.7 364.7L321.1 365.1L322.1 363L328.7 362.7z"/>
<path fill="#026ae1" d="M334.3 364.4L327.7 364.7L328.7 362.7L335.3 362.4z"/>
<path fill="#046de0" d="M340.9 364L334.3 364.4L335.3 362.4L341.9 362z"/>
<path fill="#076fdf" d="M347.5 363.7L340.9 364L341.9 362L348.4 361.7z"/>
<path fill="#0972de" d="M354.1 363.4L347.5 363.7L348.4 361.7L355 361.3z"/>
<path fill="#0c74dd" d="M360.7 363L354.1 363.4L355 361.3L361.6 361z"/>
<path fill="#0e77db" d="M367.3 362.7L360.7 363L361.6 361L368.2 360.6z"/>
<path fill="#1079da" d="M373.9 362.3L367.3 362.7L368.2 360.6L374.8 360.3z"/>
<path fill="#127cd8" d="M380.5 362L373.9 362.3L374.8 360.3L381.4 360z"/>
<path fill="#137ed7" d="M387.1 361.7L380.5 362L381.4 360L388 359.6z"/>
<path fill="#1481d6" d="M393.7 361.3L387.1 361.7L388 359.6L394.6 359.3z"/>
<path fill="#1483d5" d="M400.2 361L393.7 361.3L394.6 359.3L401.2 358.9z"/>
<path fill="#0265e1" d="M326.8 366.7L320.2 367.1L321.1 365.1L327.7 364.7z"/>
<path fill="#0269e1" d="M333.4 366.4L326.8 366.7L327.7 364.7L334.3 364.4z"/>
<path fill="#046ce0" d="M340 366.1L333.4 366.4L334.3 364.4L340.9 364z"/>
<path fill="#066edf" d="M346.6 365.7L340 366.1L340.9 364L347.5 363.7z"/>
<path fill="#0871de" d="M353.2 365.4L346.6 365.7L347.5 363.7L354.1 363.4z"/>
<path fill="#0b73dd" d="M359.8 365L353.2 365.4L354.1 363.4L360.7 363z"/>
<path fill="#0e76dc" d="M366.4 364.7L359.8 365L360.7 363L367.3 362.7z"/>
<path fill="#1078da" d="M372.9 364.4L366.4 364.7L367.3 362.7L373.9 362.3z"/>
<path fill="#117bd9" d="M379.5 364L372.9 364.4L373.9 362.3L380.5 362z"/>
<path fill="#137dd8" d="M386.1 363.7L379.5 364L380.5 362L387.1 361.7z"/>
<path fill="#1480d6" d="M392.7 363.4L386.1 363.7L387.1 361.7L393.7 361.3z"/>
<path fill="#1482d5" d="M399.3 363L392.7 363.4L393.7 361.3L400.2 361z"/>
<path fill="#0364e1" d="M325.9 368.8L319.3 369.1L320.2 367.1L326.8 366.7z"/>
<path fill="#0268e1" d="M332.5 368.4L325.9 368.8L326.8 366.7L333.4 366.4z"/>
<path fill="#036be1" d="M339.1 368.1L332.5 368.4L333.4 366.4L340 366.1z"/>
<path fill="#056de0" d="M345.6 367.7L339.1 368.1L340 366.1L346.6 365.7z"/>
<path fill="#0770df" d="M352.2 367.4L345.6 367.7L346.6 365.7L353.2 365.4z"/>
<path fill="#0a73de" d="M358.8 367.1L352.2 367.4L353.2 365.4L359.8 365z"/>
<path fill="#0d75dc" d="M365.4 366.7L358.8 367.1L359.8 365L366.4 364.7z"/>
<path fill="#0f77db" d="M372 366.4L365.4 366.7L366.4 364.7L372.9 364.4z"/>
<path fill="#117ada" d="M378.6 366.1L372 366.4L372.9 364.4L379.5 364z"/>
<path fill="#127cd8" d="M385.2 365.7L378.6 366.1L379.5 364L386.1 363.7z"/>
<path fill="#137fd7" d="M391.8 365.4L385.2 365.7L386.1 363.7L392.7 363.4z"/>
<path fill="#1481d6" d="M398.4 365.1L391.8 365.4L392.7 363.4L399.3 363z"/>
<path fill="#0363e1" d="M324.9 370.8L318.3 371.1L319.3 369.1L325.9 368.8z"/>
<path fill="#0266e1" d="M331.5 370.4L324.9 370.8L325.9 368.8L332.5 368.4z"/>
<path fill="#0269e1" d="M338.1 370.1L331.5 370.4L332.5 368.4L339.1 368.1z"/>
<path fill="#046ce0" d="M344.7 369.8L338.1 370.1L339.1 368.1L345.6 367.7z"/>
<path fill="#066fdf" d="M351.3 369.4L344.7 369.8L345.6 367.7L352.2 367.4z"/>
<path fill="#0972de" d="M357.9 369.1L351.3 369.4L352.2 367.4L358.8 367.1z"/>
<path fill="#0c74dd" d="M364.5 368.8L357.9 369.1L358.8 367.1L365.4 366.7z"/>
<path fill="#0e77db" d="M371.1 368.4L364.5 368.8L365.4 366.7L372 366.4z"/>
<path fill="#1079da" d="M377.7 368.1L371.1 368.4L372 366.4L378.6 366.1z"/>
<path fill="#127bd9" d="M384.3 367.8L377.7 368.1L378.6 366.1L385.2 365.7z"/>
<path fill="#137ed7" d="M390.9 367.4L384.3 367.8L385.2 365.7L391.8 365.4z"/>
<path fill="#1480d6" d="M397.4 367.1L390.9 367.4L391.8 365.4L398.4 365.1z"/>
<path fill="#0561e0" d="M324 372.8L317.4 373.1L318.3 371.1L324.9 370.8z"/>
<path fill="#0265e1" d="M330.6 372.5L324 372.8L324.9 370.8L331.5 370.4z"/>
<path fill="#0268e1" d="M337.2 372.1L330.6 372.5L331.5 370.4L338.1 370.1z"/>
<path fill="#036be0" d="M343.8 371.8L337.2 372.1L338.1 370.1L344.7 369.8z"/>
<path fill="#056ee0" d="M350.4 371.5L343.8 371.8L344.7 369.8L351.3 369.4z"/>
<path fill="#0871de" d="M357 371.1L350.4 371.5L351.3 369.4L357.9 369.1z"/>
<path fill="#0b73dd" d="M363.6 370.8L357 371.1L357.9 369.1L364.5 368.8z"/>
<path fill="#0d76dc" d="M370.2 370.5L363.6 370.8L364.5 368.8L371.1 368.4z"/>
<path fill="#0f78db" d="M376.7 370.1L370.2 370.5L371.1 368.4L377.7 368.1z"/>
<path fill="#117ad9" d="M383.3 369.8L376.7 370.1L377.7 368.1L384.3 367.8z"/>
<path fill="#127dd8" d="M389.9 369.5L383.3 369.8L384.3 367.8L390.9 367.4z"/>
<path fill="#137fd6" d="M396.5 369.1L389.9 369.5L390.9 367.4L397.4 367.1z"/>
<path fill="#0a5fdf" d="M323.1 375.1L316.5 375.4L317.4 373.1L324 372.8z"/>
<path fill="#0363e1" d="M329.7 374.7L323.1 375.1L324 372.8L330.6 372.5z"/>
<path fill="#0266e1" d="M336.3 374.4L329.7 374.7L330.6 372.5L337.2 372.1z"/>
<path fill="#026ae1" d="M342.9 374.1L336.3 374.4L337.2 372.1L343.8 371.8z"/>
<path fill="#046ce0" d="M349.4 373.7L342.9 374.1L343.8 371.8L350.4 371.5z"/>
<path fill="#076fdf" d="M356 373.4L349.4 373.7L350.4 371.5L357 371.1z"/>
<path fill="#0972de" d="M362.6 373.1L356 373.4L357 371.1L363.6 370.8z"/>
<path fill="#0c74dd" d="M369.2 372.7L362.6 373.1L363.6 370.8L370.2 370.5z"/>
<path fill="#0e77db" d="M375.8 372.4L369.2 372.7L370.2 370.5L376.7 370.1z"/>
<path fill="#1079da" d="M382.4 372L375.8 372.4L376.7 370.1L383.3 369.8z"/>
<path fill="#127bd9" d="M389 371.7L382.4 372L383.3 369.8L389.9 369.5z"/>
<path fill="#137ed7" d="M395.6 371.4L389 371.7L389.9 369.5L396.5 369.1z"/>
<path fill="#115bdc" d="M322.1 377.6L315.6 377.9L316.5 375.4L323.1 375.1z"/>
<path fill="#0960df" d="M328.7 377.2L322.1 377.6L323.1 375.1L329.7 374.7z"/>
<path fill="#0364e1" d="M335.3 376.9L328.7 377.2L329.7 374.7L336.3 374.4z"/>
<path fill="#0267e1" d="M341.9 376.5L335.3 376.9L336.3 374.4L342.9 374.1z"/>
<path fill="#036ae1" d="M348.5 376.2L341.9 376.5L342.9 374.1L349.4 373.7z"/>
<path fill="#046de0" d="M355.1 375.8L348.5 376.2L349.4 373.7L356 373.4z"/>
<path fill="#0770df" d="M361.7 375.5L355.1 375.8L356 373.4L362.6 373.1z"/>
<path fill="#0a72de" d="M368.3 375.1L361.7 375.5L362.6 373.1L369.2 372.7z"/>
<path fill="#0d75dc" d="M374.9 374.8L368.3 375.1L369.2 372.7L375.8 372.4z"/>
<path fill="#0f77db" d="M381.5 374.4L374.9 374.8L375.8 372.4L382.4 372z"/>
<path fill="#117ada" d="M388.1 374.1L381.5 374.4L382.4 372L389 371.7z"/>
<path fill="#127cd8" d="M394.7 373.8L388.1 374.1L389 371.7L395.6 371.4z"/>
<path fill="#1956d7" d="M321.2 380.1L314.6 380.4L315.6 377.9L322.1 377.6z"/>
<path fill="#0f5cde" d="M327.8 379.7L321.2 380.1L322.1 377.6L328.7 377.2z"/>
<path fill="#0760e0" d="M334.4 379.3L327.8 379.7L328.7 377.2L335.3 376.9z"/>
<path fill="#0364e1" d="M341 379L334.4 379.3L335.3 376.9L341.9 376.5z"/>
<path fill="#0268e1" d="M347.6 378.6L341 379L341.9 376.5L348.5 376.2z"/>
<path fill="#036be0" d="M354.2 378.3L347.6 378.6L348.5 376.2L355.1 375.8z"/>
<path fill="#056ee0" d="M360.8 377.9L354.2 378.3L355.1 375.8L361.7 375.5z"/>
<path fill="#0870df" d="M367.4 377.6L360.8 377.9L361.7 375.5L368.3 375.1z"/>
<path fill="#0b73dd" d="M373.9 377.2L367.4 377.6L368.3 375.1L374.9 374.8z"/>
<path fill="#0d75dc" d="M380.5 376.8L373.9 377.2L374.9 374.8L381.5 374.4z"/>
<path fill="#0f78db" d="M387.1 376.5L380.5 376.8L381.5 374.4L388.1 374.1z"/>
<path fill="#117ad9" d="M393.7 376.1L387.1 376.5L388.1 374.1L394.7 373.8z"/>
<path fill="#2152d2" d="M320.3 382.6L313.7 382.9L314.6 380.4L321.2 380.1z"/>
<path fill="#1757d9" d="M326.9 382.2L320.3 382.6L321.2 380.1L327.8 379.7z"/>
<path fill="#0d5dde" d="M333.5 381.8L326.9 382.2L327.8 379.7L334.4 379.3z"/>
<path fill="#0561e0" d="M340.1 381.5L333.5 381.8L334.4 379.3L341 379z"/>
<path fill="#0265e1" d="M346.6 381.1L340.1 381.5L341 379L347.6 378.6z"/>
<path fill="#0269e1" d="M353.2 380.7L346.6 381.1L347.6 378.6L354.2 378.3z"/>
<path fill="#046ce0" d="M359.8 380.3L353.2 380.7L354.2 378.3L360.8 377.9z"/>
<path fill="#066edf" d="M366.4 380L359.8 380.3L360.8 377.9L367.4 377.6z"/>
<path fill="#0971de" d="M373 379.6L366.4 380L367.4 377.6L373.9 377.2z"/>
<path fill="#0b74dd" d="M379.6 379.2L373 379.6L373.9 377.2L380.5 376.8z"/>
<path fill="#0e76dc" d="M386.2 378.9L379.6 379.2L380.5 376.8L387.1 376.5z"/>
<path fill="#1079da" d="M392.8 378.5L386.2 378.9L387.1 376.5L393.7 376.1z"/>
<path fill="#274dcb" d="M319.3 385.1L312.8 385.4L313.7 382.9L320.3 382.6z"/>
<path fill="#2053d4" d="M325.9 384.7L319.3 385.1L320.3 382.6L326.9 382.2z"/>
<path fill="#1559da" d="M332.5 384.3L325.9 384.7L326.9 382.2L333.5 381.8z"/>
<path fill="#0b5edf" d="M339.1 383.9L332.5 384.3L333.5 381.8L340.1 381.5z"/>
<path fill="#0363e1" d="M345.7 383.5L339.1 383.9L340.1 381.5L346.6 381.1z"/>
<path fill="#0266e1" d="M352.3 383.2L345.7 383.5L346.6 381.1L353.2 380.7z"/>
<path fill="#0269e1" d="M358.9 382.8L352.3 383.2L353.2 380.7L359.8 380.3z"/>
<path fill="#046ce0" d="M365.5 382.4L358.9 382.8L359.8 380.3L366.4 380z"/>
<path fill="#076fdf" d="M372.1 382L365.5 382.4L366.4 380L373 379.6z"/>
<path fill="#0972de" d="M378.7 381.6L372.1 382L373 379.6L379.6 379.2z"/>
<path fill="#0c74dd" d="M385.3 381.3L378.7 381.6L379.6 379.2L386.2 378.9z"/>
<path fill="#0e77db" d="M391.9 380.9L385.3 381.3L386.2 378.9L392.8 378.5z"/>
<path fill="#2c49c5" d="M318.4 387.5L311.8 387.9L312.8 385.4L319.3 385.1z"/>
<path fill="#264fcd" d="M325 387.2L318.4 387.5L319.3 385.1L325.9 384.7z"/>
<path fill="#1d54d5" d="M331.6 386.8L325 387.2L325.9 384.7L332.5 384.3z"/>
<path fill="#125adc" d="M338.2 386.4L331.6 386.8L332.5 384.3L339.1 383.9z"/>
<path fill="#095fdf" d="M344.8 386L338.2 386.4L339.1 383.9L345.7 383.5z"/>
<path fill="#0364e1" d="M351.4 385.6L344.8 386L345.7 383.5L352.3 383.2z"/>
<path fill="#0267e1" d="M358 385.2L351.4 385.6L352.3 383.2L358.9 382.8z"/>
<path fill="#036ae1" d="M364.6 384.8L358 385.2L358.9 382.8L365.5 382.4z"/>
<path fill="#056de0" d="M371.1 384.4L364.6 384.8L365.5 382.4L372.1 382z"/>
<path fill="#0770df" d="M377.7 384L371.1 384.4L372.1 382L378.7 381.6z"/>
<path fill="#0a73dd" d="M384.3 383.7L377.7 384L378.7 381.6L385.3 381.3z"/>
<path fill="#0d75dc" d="M390.9 383.3L384.3 383.7L385.3 381.3L391.9 380.9z"/>
<path fill="#3046be" d="M317.5 390L310.9 390.4L311.8 387.9L318.4 387.5z"/>
<path fill="#2c4ac7" d="M324.1 389.6L317.5 390L318.4 387.5L325 387.2z"/>
<path fill="#2450cf" d="M330.7 389.2L324.1 389.6L325 387.2L331.6 386.8z"/>
<path fill="#1a56d7" d="M337.3 388.8L330.7 389.2L331.6 386.8L338.2 386.4z"/>
<path fill="#0f5cdd" d="M343.8 388.4L337.3 388.8L338.2 386.4L344.8 386z"/>
<path fill="#0760e0" d="M350.4 388L343.8 388.4L344.8 386L351.4 385.6z"/>
<path fill="#0365e1" d="M357 387.6L350.4 388L351.4 385.6L358 385.2z"/>
<path fill="#0268e1" d="M363.6 387.2L357 387.6L358 385.2L364.6 384.8z"/>
<path fill="#036be0" d="M370.2 386.8L363.6 387.2L364.6 384.8L371.1 384.4z"/>
<path fill="#066ee0" d="M376.8 386.4L370.2 386.8L371.1 384.4L377.7 384z"/>
<path fill="#0871de" d="M383.4 386L376.8 386.4L377.7 384L384.3 383.7z"/>
<path fill="#0b74dd" d="M390 385.6L383.4 386L384.3 383.7L390.9 383.3z"/>
<path fill="#3341b6" d="M316.3 393.2L309.7 393.6L310.9 390.4L317.5 390z"/>
<path fill="#3046be" d="M322.9 392.8L316.3 393.2L317.5 390L324.1 389.6z"/>
<path fill="#2b4bc7" d="M329.5 392.4L322.9 392.8L324.1 389.6L330.7 389.2z"/>
<path fill="#2350d0" d="M336.1 392L329.5 392.4L330.7 389.2L337.3 388.8z"/>
<path fill="#1a56d7" d="M342.7 391.6L336.1 392L337.3 388.8L343.8 388.4z"/>
<path fill="#0f5cde" d="M349.3 391.2L342.7 391.6L343.8 388.4L350.4 388z"/>
<path fill="#0661e0" d="M355.8 390.7L349.3 391.2L350.4 388L357 387.6z"/>
<path fill="#0265e1" d="M362.4 390.3L355.8 390.7L357 387.6L363.6 387.2z"/>
<path fill="#0268e1" d="M369 389.9L362.4 390.3L363.6 387.2L370.2 386.8z"/>
<path fill="#036ce0" d="M375.6 389.5L369 389.9L370.2 386.8L376.8 386.4z"/>
<path fill="#066edf" d="M382.2 389.1L375.6 389.5L376.8 386.4L383.4 386z"/>
<path fill="#0971de" d="M388.8 388.7L382.2 389.1L383.4 386L390 385.6z"/>
</g>
<g stroke="#000" stroke-width="0.4" stroke-opacity="0.5" stroke-linejoin="round">
<path fill="#fbbd40" d="M431.5 267.6L428.6 274.1L429 266.6z"/>
<path fill="#bcbd62" d="M432.9 268.9L428 282.9L428.6 274.1L431.5 267.6z"/>
<path fill="#88bf76" d="M433.6 270.1L427.4 287.7L428 282.9L432.9 268.9z"/>
<path fill="#68be84" d="M433.4 273.9L426.8 290.8L427.4 287.7L433.6 270.1L433.8 270.4z"/>
<path fill="#fec239" d="M434.6 271.3L433.4 273.9L433.8 270.4z"/>
<path fill="#48bb95" d="M432.8 278.8L426.2 293.6L426.8 290.8L433.4 273.9z"/>
<path fill="#fbbc40" d="M435.7 272.5L432.8 278.8L433.4 273.9L434.6 271.3z"/>
<path fill="#2cb7a5" d="M432.2 283.7L425.6 296.4L426.2 293.6L432.8 278.8z"/>
<path fill="#d6ba57" d="M436.7 273.7L432.2 283.7L432.8 278.8L435.7 272.5z"/>
<path fill="#18b1b2" d="M431.6 288.5L425 298.7L425.6 296.4L432.2 283.7z"/>
<path fill="#a1be6d" d="M437.7 274.9L431.6 288.5L432.2 283.7L436.7 273.7z"/>
<path fill="#10afb8" d="M431 293.4L424.4 300.7L425 298.7L431.6 288.5z"/>
<path fill="#75bf7e" d="M437.6 278.6L431 293.4L431.6 288.5L437.7 274.9L438 275.3z"/>
<path fill="#ffc337" d="M438.7 276.1L437.6 278.6L438 275.3z"/>
<path fill="#0bacbd" d="M430.4 297.9L423.8 302.4L424.4 300.7L431 293.4z"/>
<path fill="#4cbc92" d="M437 283.3L430.4 297.9L431 293.4L437.6 278.6z"/>
<path fill="#fdbe3e" d="M439.5 277.3L437 283.3L437.6 278.6L438.7 276.1z"/>
<path fill="#08aac0" d="M429.8 301.4L423.2 304.1L423.8 302.4L430.4 297.9z"/>
<path fill="#2db7a4" d="M436.4 288L429.8 301.4L430.4 297.9L437 283.3z"/>
<path fill="#e5b950" d="M440.4 278.5L436.4 288L437 283.3L439.5 277.3z"/>
<path fill="#06a8c3" d="M429.2 304.9L422.6 305.8L423.2 304.1L429.8 301.4z"/>
<path fill="#17b1b3" d="M435.8 292.7L429.2 304.9L429.8 301.4L436.4 288z"/>
<path fill="#b4bd65" d="M441.2 279.7L435.8 292.7L436.4 288L440.4 278.5z"/>
<path fill="#06a6c6" d="M428.6 308.5L422 307.5L422.6 305.8L429.2 304.9z"/>
<path fill="#0daeba" d="M435.2 297.4L428.6 308.5L429.2 304.9L435.8 292.7z"/>
<path fill="#85bf78" d="M441.8 281.5L435.2 297.4L435.8 292.7L441.2 279.7L441.9 280.7z"/>
<path fill="#fec635" d="M442.1 280.9L441.8 281.5L441.9 280.7z"/>
<path fill="#06a5c8" d="M428 310.5L421.4 309.3L422 307.5L428.6 308.5z"/>
<path fill="#08abc0" d="M434.6 302.1L428 310.5L428.6 308.5L435.2 297.4z"/>
<path fill="#5cbe8a" d="M441.2 286.1L434.6 302.1L435.2 297.4L441.8 281.5z"/>
<path fill="#fec03b" d="M443 282.1L441.2 286.1L441.8 281.5L442.1 280.9z"/>
<path fill="#06a4c9" d="M427.4 311.9L420.9 311.1L421.4 309.3L428 310.5z"/>
<path fill="#07a9c2" d="M434 305.6L427.4 311.9L428 310.5L434.6 302.1z"/>
<path fill="#3bb99c" d="M440.6 290.8L434 305.6L434.6 302.1L441.2 286.1z"/>
<path fill="#fabc42" d="M443.8 283.3L440.6 290.8L441.2 286.1L443 282.1z"/>
<path fill="#06a3ca" d="M426.9 313.3L420.3 312.8L420.9 311.1L427.4 311.9z"/>
<path fill="#06a7c5" d="M433.4 309.1L426.9 313.3L427.4 311.9L434 305.6z"/>
<path fill="#20b4ad" d="M440 295.4L433.4 309.1L434 305.6L440.6 290.8z"/>
<path fill="#d0bb5a" d="M444.7 284.5L440 295.4L440.6 290.8L443.8 283.3z"/>
<path fill="#06a3cb" d="M426.3 314.8L419.7 314.6L420.3 312.8L426.9 313.3z"/>
<path fill="#06a5c8" d="M432.9 312.6L426.3 314.8L426.9 313.3L433.4 309.1z"/>
<path fill="#11afb7" d="M439.4 300.1L432.9 312.6L433.4 309.1L440 295.4z"/>
<path fill="#9dbf6e" d="M445.5 285.7L439.4 300.1L440 295.4L444.7 284.5z"/>
<path fill="#06a2cc" d="M425.7 316.2L419.1 316.3L419.7 314.6L426.3 314.8z"/>
<path fill="#06a4ca" d="M432.3 315.2L425.7 316.2L426.3 314.8L432.9 312.6z"/>
<path fill="#0aacbd" d="M438.8 304.7L432.3 315.2L432.9 312.6L439.4 300.1z"/>
<path fill="#74bf7f" d="M445.4 289L438.8 304.7L439.4 300.1L445.5 285.7L445.8 286.1z"/>
<path fill="#fec239" d="M446.5 286.9L445.4 289L445.8 286.1z"/>
<path fill="#06a1cd" d="M425.1 317.6L418.5 318.1L419.1 316.3L425.7 316.2z"/>
<path fill="#06a3ca" d="M431.7 316.7L425.1 317.6L425.7 316.2L432.3 315.2z"/>
<path fill="#08aac0" d="M438.3 308.5L431.7 316.7L432.3 315.2L438.8 304.7z"/>
<path fill="#50bc90" d="M444.8 293.6L438.3 308.5L438.8 304.7L445.4 289z"/>
<path fill="#fcbd3f" d="M447.5 288.1L444.8 293.6L445.4 289L446.5 286.9z"/>
<path fill="#06a0cd" d="M424.5 319.1L417.9 319.8L418.5 318.1L425.1 317.6z"/>
<path fill="#06a2cb" d="M431.1 318.1L424.5 319.1L425.1 317.6L431.7 316.7z"/>
<path fill="#06a8c3" d="M437.7 312.1L431.1 318.1L431.7 316.7L438.3 308.5z"/>
<path fill="#30b7a2" d="M444.3 298.2L437.7 312.1L438.3 308.5L444.8 293.6z"/>
<path fill="#e4b950" d="M448.3 289.3L444.3 298.2L444.8 293.6L447.5 288.1z"/>
<path fill="#069fce" d="M423.9 320.5L417.3 321.5L417.9 319.8L424.5 319.1z"/>
<path fill="#06a2cc" d="M430.5 319.5L423.9 320.5L424.5 319.1L431.1 318.1z"/>
<path fill="#06a6c6" d="M437.1 315.7L430.5 319.5L431.1 318.1L437.7 312.1z"/>
<path fill="#18b1b2" d="M443.7 302.8L437.1 315.7L437.7 312.1L444.3 298.2z"/>
<path fill="#b8bd63" d="M449.1 290.5L443.7 302.8L444.3 298.2L448.3 289.3z"/>
<path fill="#079ecf" d="M423.3 321.9L416.7 323.2L417.3 321.5L423.9 320.5z"/>
<path fill="#06a1cc" d="M429.9 321L423.3 321.9L423.9 320.5L430.5 319.5z"/>
<path fill="#06a5c8" d="M436.5 318.6L429.9 321L430.5 319.5L437.1 315.7z"/>
<path fill="#0faeb9" d="M443.1 307.3L436.5 318.6L437.1 315.7L443.7 302.8z"/>
<path fill="#8bbf75" d="M449.7 292L443.1 307.3L443.7 302.8L449.1 290.5L449.7 291.5z"/>
<path fill="#ffc338" d="M449.8 291.7L449.7 292L449.7 291.5z"/>
<path fill="#079dcf" d="M422.7 323.4L416.1 324.9L416.7 323.2L423.3 321.9z"/>
<path fill="#06a1cd" d="M429.3 322.4L422.7 323.4L423.3 321.9L429.9 321z"/>
<path fill="#06a4c9" d="M435.9 320.4L429.3 322.4L429.9 321L436.5 318.6z"/>
<path fill="#0aacbd" d="M442.5 311.5L435.9 320.4L436.5 318.6L443.1 307.3z"/>
<path fill="#69be84" d="M449.1 296.1L442.5 311.5L443.1 307.3L449.7 292z"/>
<path fill="#fdbe3d" d="M450.9 292.9L449.1 296.1L449.7 292L449.8 291.7z"/>
<path fill="#079cd0" d="M422.1 324.8L415.5 326.6L416.1 324.9L422.7 323.4z"/>
<path fill="#06a0cd" d="M428.7 323.8L422.1 324.8L422.7 323.4L429.3 322.4z"/>
<path fill="#06a3ca" d="M435.3 321.9L428.7 323.8L429.3 322.4L435.9 320.4z"/>
<path fill="#08aac0" d="M441.9 315.2L435.3 321.9L435.9 320.4L442.5 311.5z"/>
<path fill="#48bb94" d="M448.5 300.2L441.9 315.2L442.5 311.5L449.1 296.1z"/>
<path fill="#f8ba44" d="M451.9 294.1L448.5 300.2L449.1 296.1L450.9 292.9z"/>
<path fill="#089bd0" d="M421.5 326.2L414.9 328.3L415.5 326.6L422.1 324.8z"/>
<path fill="#069fce" d="M428.1 325.2L421.5 326.2L422.1 324.8L428.7 323.8z"/>
<path fill="#06a3cb" d="M434.7 323.3L428.1 325.2L428.7 323.8L435.3 321.9z"/>
<path fill="#06a8c3" d="M441.3 318.8L434.7 323.3L435.3 321.9L441.9 315.2z"/>
<path fill="#2cb7a5" d="M447.9 304.3L441.3 318.8L441.9 315.2L448.5 300.2z"/>
<path fill="#d4bb58" d="M452.7 295.3L447.9 304.3L448.5 300.2L451.9 294.1z"/>
<path fill="#089ad1" d="M420.9 327.6L414.3 330L414.9 328.3L421.5 326.2z"/>
<path fill="#069ece" d="M427.5 326.7L420.9 327.6L421.5 326.2L428.1 325.2z"/>
<path fill="#06a2cb" d="M434.1 324.7L427.5 326.7L428.1 325.2L434.7 323.3z"/>
<path fill="#06a6c6" d="M440.7 322.5L434.1 324.7L434.7 323.3L441.3 318.8z"/>
<path fill="#17b1b3" d="M447.3 308.4L440.7 322.5L441.3 318.8L447.9 304.3z"/>
<path fill="#aebe67" d="M453.4 296.4L447.3 308.4L447.9 304.3L452.7 295.3z"/>
<path fill="#0899d1" d="M420.3 329.1L413.7 331.4L414.3 330L420.9 327.6z"/>
<path fill="#079ecf" d="M426.9 328.1L420.3 329.1L420.9 327.6L427.5 326.7z"/>
<path fill="#06a2cc" d="M433.5 326.2L426.9 328.1L427.5 326.7L434.1 324.7z"/>
<path fill="#06a6c7" d="M440.1 324.2L433.5 326.2L434.1 324.7L440.7 322.5z"/>
<path fill="#11afb7" d="M446.7 312.3L440.1 324.2L440.7 322.5L447.3 308.4z"/>
<path fill="#8abf76" d="M453.3 299L446.7 312.3L447.3 308.4L453.4 296.4L453.6 296.9z"/>
<path fill="#fec03b" d="M454.2 297.6L453.3 299L453.6 296.9z"/>
<path fill="#0998d1" d="M419.7 330.5L413.1 332.7L413.7 331.4L420.3 329.1z"/>
<path fill="#079dcf" d="M426.3 329.5L419.7 330.5L420.3 329.1L426.9 328.1z"/>
<path fill="#06a1cc" d="M432.9 327.6L426.3 329.5L426.9 328.1L433.5 326.2z"/>
<path fill="#06a5c8" d="M439.5 325.6L432.9 327.6L433.5 326.2L440.1 324.2z"/>
<path fill="#0dadbb" d="M446.1 315.9L439.5 325.6L440.1 324.2L446.7 312.3z"/>
<path fill="#6fbf81" d="M452.7 302.5L446.1 315.9L446.7 312.3L453.3 299z"/>
<path fill="#fcbd3f" d="M455.1 298.8L452.7 302.5L453.3 299L454.2 297.6z"/>
<path fill="#0997d1" d="M419.1 331.9L412.5 334L413.1 332.7L419.7 330.5z"/>
<path fill="#079cd0" d="M425.7 331L419.1 331.9L419.7 330.5L426.3 329.5z"/>
<path fill="#06a0cd" d="M432.3 329L425.7 331L426.3 329.5L432.9 327.6z"/>
<path fill="#06a4c9" d="M438.9 327.1L432.3 329L432.9 327.6L439.5 325.6z"/>
<path fill="#0aacbe" d="M445.5 319.4L438.9 327.1L439.5 325.6L446.1 315.9z"/>
<path fill="#52bd8f" d="M452.1 306L445.5 319.4L446.1 315.9L452.7 302.5z"/>
<path fill="#efb94b" d="M456 300L452.1 306L452.7 302.5L455.1 298.8z"/>
<path fill="#0a97d1" d="M418.5 333.4L412 335.3L412.5 334L419.1 331.9z"/>
<path fill="#079bd0" d="M425.1 332.4L418.5 333.4L419.1 331.9L425.7 331z"/>
<path fill="#069fce" d="M431.7 330.4L425.1 332.4L425.7 331L432.3 329z"/>
<path fill="#06a4ca" d="M438.3 328.5L431.7 330.4L432.3 329L438.9 327.1z"/>
<path fill="#08aac1" d="M444.9 322.8L438.3 328.5L438.9 327.1L445.5 319.4z"/>
<path fill="#38b99e" d="M451.5 309.5L444.9 322.8L445.5 319.4L452.1 306z"/>
<path fill="#d1bb59" d="M456.7 301.2L451.5 309.5L452.1 306L456 300z"/>
<path fill="#0b96d1" d="M417.9 334.8L411.4 336.6L412 335.3L418.5 333.4z"/>
<path fill="#089ad0" d="M424.5 333.8L417.9 334.8L418.5 333.4L425.1 332.4z"/>
<path fill="#069fce" d="M431.1 331.9L424.5 333.8L425.1 332.4L431.7 330.4z"/>
<path fill="#06a3ca" d="M437.7 329.9L431.1 331.9L431.7 330.4L438.3 328.5z"/>
<path fill="#07a9c3" d="M444.3 325.1L437.7 329.9L438.3 328.5L444.9 322.8z"/>
<path fill="#27b5a8" d="M450.9 313.1L444.3 325.1L444.9 322.8L451.5 309.5z"/>
<path fill="#b0bd66" d="M457.4 302.4L450.9 313.1L451.5 309.5L456.7 301.2z"/>
<path fill="#0b95d2" d="M417.4 336.2L410.8 337.9L411.4 336.6L417.9 334.8z"/>
<path fill="#089ad1" d="M423.9 335.3L417.4 336.2L417.9 334.8L424.5 333.8z"/>
<path fill="#069ece" d="M430.5 333.3L423.9 335.3L424.5 333.8L431.1 331.9z"/>
<path fill="#06a3cb" d="M437.1 331.3L430.5 333.3L431.1 331.9L437.7 329.9z"/>
<path fill="#06a8c4" d="M443.7 327.3L437.1 331.3L437.7 329.9L444.3 325.1z"/>
<path fill="#19b2b2" d="M450.3 316.6L443.7 327.3L444.3 325.1L450.9 313.1z"/>
<path fill="#90bf73" d="M456.9 305.3L450.3 316.6L450.9 313.1L457.4 302.4L457.4 302.5z"/>
<path fill="#fdbe3e" d="M458.4 303.6L456.9 305.3L457.4 302.5z"/>
<path fill="#0c94d2" d="M416.8 337.7L410.2 339.2L410.8 337.9L417.4 336.2z"/>
<path fill="#0899d1" d="M423.4 336.7L416.8 337.7L417.4 336.2L423.9 335.3z"/>
<path fill="#079dcf" d="M429.9 334.7L423.4 336.7L423.9 335.3L430.5 333.3z"/>
<path fill="#06a2cb" d="M436.5 332.8L429.9 334.7L430.5 333.3L437.1 331.3z"/>
<path fill="#06a7c5" d="M443.1 328.7L436.5 332.8L437.1 331.3L443.7 327.3z"/>
<path fill="#14b0b5" d="M449.7 319.9L443.1 328.7L443.7 327.3L450.3 316.6z"/>
<path fill="#78bf7d" d="M456.3 308.5L449.7 319.9L450.3 316.6L456.9 305.3z"/>
<path fill="#fabc41" d="M459.4 304.8L456.3 308.5L456.9 305.3L458.4 303.6z"/>
<path fill="#0c93d2" d="M416.2 339.1L409.6 340.5L410.2 339.2L416.8 337.7z"/>
<path fill="#0998d1" d="M422.8 338.1L416.2 339.1L416.8 337.7L423.4 336.7z"/>
<path fill="#079dcf" d="M429.4 336.2L422.8 338.1L423.4 336.7L429.9 334.7z"/>
<path fill="#06a1cc" d="M435.9 334.2L429.4 336.2L429.9 334.7L436.5 332.8z"/>
<path fill="#06a7c6" d="M442.5 330.2L435.9 334.2L436.5 332.8L443.1 328.7z"/>
<path fill="#10afb9" d="M449.1 323.3L442.5 330.2L443.1 328.7L449.7 319.9z"/>
<path fill="#5ebe89" d="M455.7 311.7L449.1 323.3L449.7 319.9L456.3 308.5z"/>
<path fill="#e7b94f" d="M460.2 306L455.7 311.7L456.3 308.5L459.4 304.8z"/>
<path fill="#0d92d2" d="M415.6 340.5L409 341.8L409.6 340.5L416.2 339.1z"/>
<path fill="#0a97d1" d="M422.2 339.5L415.6 340.5L416.2 339.1L422.8 338.1z"/>
<path fill="#079cd0" d="M428.8 337.6L422.2 339.5L422.8 338.1L429.4 336.2z"/>
<path fill="#06a1cd" d="M435.3 335.6L428.8 337.6L429.4 336.2L435.9 334.2z"/>
<path fill="#06a6c6" d="M441.9 331.6L435.3 335.6L435.9 334.2L442.5 330.2z"/>
<path fill="#0cadbc" d="M448.5 326.7L441.9 331.6L442.5 330.2L449.1 323.3z"/>
<path fill="#45bb96" d="M455.1 314.9L448.5 326.7L449.1 323.3L455.7 311.7z"/>
<path fill="#cebb5b" d="M460.8 307.2L455.1 314.9L455.7 311.7L460.2 306z"/>
<path fill="#0e91d2" d="M415 342L408.4 343.1L409 341.8L415.6 340.5z"/>
<path fill="#0a96d1" d="M421.6 341L415 342L415.6 340.5L422.2 339.5z"/>
<path fill="#079bd0" d="M428.2 339L421.6 341L422.2 339.5L428.8 337.6z"/>
<path fill="#06a0cd" d="M434.8 337.1L428.2 339L428.8 337.6L435.3 335.6z"/>
<path fill="#06a6c7" d="M441.3 333L434.8 337.1L435.3 335.6L441.9 331.6z"/>
<path fill="#0aacbd" d="M447.9 329L441.3 333L441.9 331.6L448.5 326.7z"/>
<path fill="#34b8a0" d="M454.5 318L447.9 329L448.5 326.7L455.1 314.9z"/>
<path fill="#b3bd65" d="M461.1 308.7L454.5 318L455.1 314.9L460.8 307.2L461.2 308.1z"/>
<path fill="#fdbe3d" d="M461.5 308.4L461.1 308.7L461.2 308.1z"/>
<path fill="#0e90d2" d="M414.4 343.4L407.8 344.4L408.4 343.1L415 342z"/>
<path fill="#0b95d2" d="M421 342.4L414.4 343.4L415 342L421.6 341z"/>
<path fill="#089ad0" d="M427.6 340.5L421 342.4L421.6 341L428.2 339z"/>
<path fill="#069fce" d="M434.2 338.5L427.6 340.5L428.2 339L434.8 337.1z"/>
<path fill="#06a5c8" d="M440.8 334.4L434.2 338.5L434.8 337.1L441.3 333z"/>
<path fill="#09acbe" d="M447.3 330.4L440.8 334.4L441.3 333L447.9 329z"/>
<path fill="#29b6a7" d="M453.9 321.1L447.3 330.4L447.9 329L454.5 318z"/>
<path fill="#97bf71" d="M460.5 311.4L453.9 321.1L454.5 318L461.1 308.7z"/>
<path fill="#fbbd40" d="M462.7 309.6L460.5 311.4L461.1 308.7L461.5 308.4z"/>
<path fill="#0f8fd2" d="M413.8 344.8L407.2 345.7L407.8 344.4L414.4 343.4z"/>
<path fill="#0c94d2" d="M420.4 343.8L413.8 344.8L414.4 343.4L421 342.4z"/>
<path fill="#0899d1" d="M427 341.9L420.4 343.8L421 342.4L427.6 340.5z"/>
<path fill="#069fce" d="M433.6 339.9L427 341.9L427.6 340.5L434.2 338.5z"/>
<path fill="#06a5c8" d="M440.2 335.9L433.6 339.9L434.2 338.5L440.8 334.4z"/>
<path fill="#09abbf" d="M446.8 331.8L440.2 335.9L440.8 334.4L447.3 330.4z"/>
<path fill="#1fb3ad" d="M453.3 324.2L446.8 331.8L447.3 330.4L453.9 321.1z"/>
<path fill="#83bf79" d="M459.9 314.1L453.3 324.2L453.9 321.1L460.5 311.4z"/>
<path fill="#f6ba46" d="M463.6 310.8L459.9 314.1L460.5 311.4L462.7 309.6z"/>
<path fill="#108ed2" d="M413.2 346.2L406.6 347L407.2 345.7L413.8 344.8z"/>
<path fill="#0c93d2" d="M419.8 345.3L413.2 346.2L413.8 344.8L420.4 343.8z"/>
<path fill="#0998d1" d="M426.4 343.3L419.8 345.3L420.4 343.8L427 341.9z"/>
<path fill="#079ecf" d="M433 341.4L426.4 343.3L427 341.9L433.6 339.9z"/>
<path fill="#06a4c9" d="M439.6 337.3L433 341.4L433.6 339.9L440.2 335.9z"/>
<path fill="#08abc0" d="M446.2 333.2L439.6 337.3L440.2 335.9L446.8 331.8z"/>
<path fill="#17b1b3" d="M452.8 327.3L446.2 333.2L446.8 331.8L453.3 324.2z"/>
<path fill="#6ebf81" d="M459.3 316.8L452.8 327.3L453.3 324.2L459.9 314.1z"/>
<path fill="#e3b951" d="M464.3 312L459.3 316.8L459.9 314.1L463.6 310.8z"/>
<path fill="#118ed2" d="M412.6 347.7L406 348.3L406.6 347L413.2 346.2z"/>
<path fill="#0d92d2" d="M419.2 346.7L412.6 347.7L413.2 346.2L419.8 345.3z"/>
<path fill="#0998d1" d="M425.8 344.7L419.2 346.7L419.8 345.3L426.4 343.3z"/>
<path fill="#079dcf" d="M432.4 342.8L425.8 344.7L426.4 343.3L433 341.4z"/>
<path fill="#06a4ca" d="M439 338.7L432.4 342.8L433 341.4L439.6 337.3z"/>
<path fill="#08aac1" d="M445.6 334.7L439 338.7L439.6 337.3L446.2 333.2z"/>
<path fill="#15b0b5" d="M452.2 329.4L445.6 334.7L446.2 333.2L452.8 327.3z"/>
<path fill="#5ebe89" d="M458.7 319.5L452.2 329.4L452.8 327.3L459.3 316.8z"/>
<path fill="#d0bb59" d="M464.9 313.1L458.7 319.5L459.3 316.8L464.3 312z"/>
<path fill="#118dd2" d="M412 349.1L405.4 349.6L406 348.3L412.6 347.7z"/>
<path fill="#0e91d2" d="M418.6 348.1L412 349.1L412.6 347.7L419.2 346.7z"/>
<path fill="#0a97d1" d="M425.2 346.2L418.6 348.1L419.2 346.7L425.8 344.7z"/>
<path fill="#079ccf" d="M431.8 344.2L425.2 346.2L425.8 344.7L432.4 342.8z"/>
<path fill="#06a3ca" d="M438.4 340.2L431.8 344.2L432.4 342.8L439 338.7z"/>
<path fill="#07aac2" d="M445 336.1L438.4 340.2L439 338.7L445.6 334.7z"/>
<path fill="#13b0b6" d="M451.6 331.4L445 336.1L445.6 334.7L452.2 329.4z"/>
<path fill="#4fbc91" d="M458.2 322.2L451.6 331.4L452.2 329.4L458.7 319.5z"/>
<path fill="#bdbd61" d="M464.7 314.9L458.2 322.2L458.7 319.5L464.9 313.1L465.1 313.6z"/>
<path fill="#fec03b" d="M465.3 314.3L464.7 314.9L465.1 313.6z"/>
<path fill="#128cd2" d="M411.4 350.5L404.8 350.9L405.4 349.6L412 349.1z"/>
<path fill="#0f90d2" d="M418 349.6L411.4 350.5L412 349.1L418.6 348.1z"/>
<path fill="#0b96d1" d="M424.6 347.6L418 349.6L418.6 348.1L425.2 346.2z"/>
<path fill="#079cd0" d="M431.2 345.6L424.6 347.6L425.2 346.2L431.8 344.2z"/>
<path fill="#06a2cb" d="M437.8 341.6L431.2 345.6L431.8 344.2L438.4 340.2z"/>
<path fill="#07a9c2" d="M444.4 337.5L437.8 341.6L438.4 340.2L445 336.1z"/>
<path fill="#11afb7" d="M451 333L444.4 337.5L445 336.1L451.6 331.4z"/>
<path fill="#43bb97" d="M457.6 324.9L451 333L451.6 331.4L458.2 322.2z"/>
<path fill="#a8be6a" d="M464.2 317.1L457.6 324.9L458.2 322.2L464.7 314.9z"/>
<path fill="#fdbe3d" d="M465.6 315.4L464.2 317.1L464.7 314.9L465.3 314.3z"/>
<path fill="#128bd3" d="M410.8 352L404.2 352.2L404.8 350.9L411.4 350.5z"/>
<path fill="#108fd2" d="M417.4 351L410.8 352L411.4 350.5L418 349.6z"/>
<path fill="#0b95d2" d="M424 349L417.4 351L418 349.6L424.6 347.6z"/>
<path fill="#089bd0" d="M430.6 347.1L424 349L424.6 347.6L431.2 345.6z"/>
<path fill="#06a2cc" d="M437.2 343L430.6 347.1L431.2 345.6L437.8 341.6z"/>
<path fill="#07a9c3" d="M443.8 339L437.2 343L437.8 341.6L444.4 337.5z"/>
<path fill="#10afb8" d="M450.4 334.4L443.8 339L444.4 337.5L451 333z"/>
<path fill="#38b99e" d="M457 327.7L450.4 334.4L451 333L457.6 324.9z"/>
<path fill="#93bf72" d="M463.6 319.4L457 327.7L457.6 324.9L464.2 317.1z"/>
<path fill="#fcbd3f" d="M465.8 316.5L463.6 319.4L464.2 317.1L465.6 315.4z"/>
<path fill="#138ad3" d="M410.2 353.4L403.6 353.5L404.2 352.2L410.8 352z"/>
<path fill="#118dd2" d="M416.8 352.4L410.2 353.4L410.8 352L417.4 351z"/>
<path fill="#0c94d2" d="M423.4 350.5L416.8 352.4L417.4 351L424 349z"/>
<path fill="#089ad0" d="M430 348.5L423.4 350.5L424 349L430.6 347.1z"/>
<path fill="#06a1cc" d="M436.6 344.4L430 348.5L430.6 347.1L437.2 343z"/>
<path fill="#06a8c4" d="M443.2 340.4L436.6 344.4L437.2 343L443.8 339z"/>
<path fill="#0faeb9" d="M449.8 335.8L443.2 340.4L443.8 339L450.4 334.4z"/>
<path fill="#2eb7a4" d="M456.4 330.4L449.8 335.8L450.4 334.4L457 327.7z"/>
<path fill="#84bf78" d="M463 321.6L456.4 330.4L457 327.7L463.6 319.4z"/>
<path fill="#fabc41" d="M466 317.6L463 321.6L463.6 319.4L465.8 316.5z"/>
<path fill="#1389d3" d="M409.6 354.8L403 354.8L403.6 353.5L410.2 353.4z"/>
<path fill="#118cd2" d="M416.2 353.8L409.6 354.8L410.2 353.4L416.8 352.4z"/>
<path fill="#0d93d2" d="M422.8 351.9L416.2 353.8L416.8 352.4L423.4 350.5z"/>
<path fill="#0899d1" d="M429.4 349.9L422.8 351.9L423.4 350.5L430 348.5z"/>
<path fill="#06a0cd" d="M436 345.9L429.4 349.9L430 348.5L436.6 344.4z"/>
<path fill="#06a8c5" d="M442.6 341.8L436 345.9L436.6 344.4L443.2 340.4z"/>
<path fill="#0eaeba" d="M449.2 337.3L442.6 341.8L443.2 340.4L449.8 335.8z"/>
<path fill="#27b5a8" d="M455.8 332.7L449.2 337.3L449.8 335.8L456.4 330.4z"/>
<path fill="#76bf7e" d="M462.4 323.8L455.8 332.7L456.4 330.4L463 321.6z"/>
<path fill="#f3ba48" d="M466.1 318.8L462.4 323.8L463 321.6L466 317.6z"/>
<path fill="#1388d3" d="M409 356.3L402.5 356.1L403 354.8L409.6 354.8z"/>
<path fill="#128bd2" d="M415.6 355.3L409 356.3L409.6 354.8L416.2 353.8z"/>
<path fill="#0e92d2" d="M422.2 353.3L415.6 355.3L416.2 353.8L422.8 351.9z"/>
<path fill="#0998d1" d="M428.8 351.4L422.2 353.3L422.8 351.9L429.4 349.9z"/>
<path fill="#06a0cd" d="M435.4 347.3L428.8 351.4L429.4 349.9L436 345.9z"/>
<path fill="#06a7c6" d="M442 343.2L435.4 347.3L436 345.9L442.6 341.8z"/>
<path fill="#0dadbb" d="M448.6 338.7L442 343.2L442.6 341.8L449.2 337.3z"/>
<path fill="#24b5aa" d="M455.2 334.2L448.6 338.7L449.2 337.3L455.8 332.7z"/>
<path fill="#6dbf82" d="M461.8 326.1L455.2 334.2L455.8 332.7L462.4 323.8z"/>
<path fill="#e6b950" d="M466.2 319.9L461.8 326.1L462.4 323.8L466.1 318.8z"/>
<path fill="#1487d3" d="M408.5 357.7L401.9 357.4L402.5 356.1L409 356.3z"/>
<path fill="#138ad3" d="M415 356.7L408.5 357.7L409 356.3L415.6 355.3z"/>
<path fill="#0f90d2" d="M421.6 354.7L415 356.7L415.6 355.3L422.2 353.3z"/>
<path fill="#0997d1" d="M428.2 352.8L421.6 354.7L422.2 353.3L428.8 351.4z"/>
<path fill="#069fce" d="M434.8 348.7L428.2 352.8L428.8 351.4L435.4 347.3z"/>
<path fill="#06a6c6" d="M441.4 344.7L434.8 348.7L435.4 347.3L442 343.2z"/>
<path fill="#0cadbc" d="M448 340.1L441.4 344.7L442 343.2L448.6 338.7z"/>
<path fill="#21b4ac" d="M454.6 335.6L448 340.1L448.6 338.7L455.2 334.2z"/>
<path fill="#64be86" d="M461.2 328.3L454.6 335.6L455.2 334.2L461.8 326.1z"/>
<path fill="#d8ba56" d="M466.2 321L461.2 328.3L461.8 326.1L466.2 319.9z"/>
<path fill="#1486d4" d="M407.9 359.1L401.3 358.7L401.9 357.4L408.5 357.7z"/>
<path fill="#1389d3" d="M414.4 358.1L407.9 359.1L408.5 357.7L415 356.7z"/>
<path fill="#0f8fd2" d="M421 356.2L414.4 358.1L415 356.7L421.6 354.7z"/>
<path fill="#0a96d1" d="M427.6 354.2L421 356.2L421.6 354.7L428.2 352.8z"/>
<path fill="#069ece" d="M434.2 350.2L427.6 354.2L428.2 352.8L434.8 348.7z"/>
<path fill="#06a6c7" d="M440.8 346.1L434.2 350.2L434.8 348.7L441.4 344.7z"/>
<path fill="#0bacbd" d="M447.4 341.6L440.8 346.1L441.4 344.7L448 340.1z"/>
<path fill="#1db3af" d="M454 337L447.4 341.6L448 340.1L454.6 335.6z"/>
<path fill="#5abd8b" d="M460.6 330.6L454 337L454.6 335.6L461.2 328.3z"/>
<path fill="#cabb5c" d="M466.2 322.1L460.6 330.6L461.2 328.3L466.2 321z"/>
<path fill="#1485d4" d="M407.3 360.5L400.7 360L401.3 358.7L407.9 359.1z"/>
<path fill="#1388d3" d="M413.9 359.6L407.3 360.5L407.9 359.1L414.4 358.1z"/>
<path fill="#108ed2" d="M420.4 357.6L413.9 359.6L414.4 358.1L421 356.2z"/>
<path fill="#0b95d1" d="M427 355.6L420.4 357.6L421 356.2L427.6 354.2z"/>
<path fill="#079dcf" d="M433.6 351.6L427 355.6L427.6 354.2L434.2 350.2z"/>
<path fill="#06a5c8" d="M440.2 347.5L433.6 351.6L434.2 350.2L440.8 346.1z"/>
<path fill="#0aacbe" d="M446.8 343L440.2 347.5L440.8 346.1L447.4 341.6z"/>
<path fill="#1bb2b1" d="M453.4 338.4L446.8 343L447.4 341.6L454 337z"/>
<path fill="#51bd90" d="M460 332.8L453.4 338.4L454 337L460.6 330.6z"/>
<path fill="#bbbd62" d="M466.2 323.2L460 332.8L460.6 330.6L466.2 322.1z"/>
<path fill="#1484d4" d="M406.7 362L400.1 361.3L400.7 360L407.3 360.5z"/>
<path fill="#1487d3" d="M413.3 361L406.7 362L407.3 360.5L413.9 359.6z"/>
<path fill="#118dd2" d="M419.9 359L413.3 361L413.9 359.6L420.4 357.6z"/>
<path fill="#0b95d2" d="M426.4 357.1L419.9 359L420.4 357.6L427 355.6z"/>
<path fill="#079dcf" d="M433 353L426.4 357.1L427 355.6L433.6 351.6z"/>
<path fill="#06a5c8" d="M439.6 349L433 353L433.6 351.6L440.2 347.5z"/>
<path fill="#09abbf" d="M446.2 344.4L439.6 349L440.2 347.5L446.8 343z"/>
<path fill="#18b1b2" d="M452.8 339.9L446.2 344.4L446.8 343L453.4 338.4z"/>
<path fill="#4dbc92" d="M459.4 334.2L452.8 339.9L453.4 338.4L460 332.8z"/>
<path fill="#b2bd66" d="M466 324.5L459.4 334.2L460 332.8L466.2 323.2L466.2 323.9z"/>
<path fill="#fdbe3e" d="M466.4 324.3L466 324.5L466.2 323.9z"/>
<path fill="#1484d4" d="M406.1 363.4L399.5 362.6L400.1 361.3L406.7 362z"/>
<path fill="#1486d4" d="M412.7 362.4L406.1 363.4L406.7 362L413.3 361z"/>
<path fill="#128cd2" d="M419.3 360.5L412.7 362.4L413.3 361L419.9 359z"/>
<path fill="#0c94d2" d="M425.9 358.5L419.3 360.5L419.9 359L426.4 357.1z"/>
<path fill="#079cd0" d="M432.4 354.4L425.9 358.5L426.4 357.1L433 353z"/>
<path fill="#06a4c9" d="M439 350.4L432.4 354.4L433 353L439.6 349z"/>
<path fill="#09abbf" d="M445.6 345.8L439 350.4L439.6 349L446.2 344.4z"/>
<path fill="#16b1b3" d="M452.2 341.3L445.6 345.8L446.2 344.4L452.8 339.9z"/>
<path fill="#48bb94" d="M458.8 335.7L452.2 341.3L452.8 339.9L459.4 334.2z"/>
<path fill="#a8be6a" d="M465.4 326.4L458.8 335.7L459.4 334.2L466 324.5z"/>
<path fill="#fcbd3f" d="M466.9 325.4L465.4 326.4L466 324.5L466.4 324.3z"/>
<path fill="#1483d5" d="M405.5 364.8L398.9 363.9L399.5 362.6L406.1 363.4z"/>
<path fill="#1485d4" d="M412.1 363.9L405.5 364.8L406.1 363.4L412.7 362.4z"/>
<path fill="#128bd3" d="M418.7 361.9L412.1 363.9L412.7 362.4L419.3 360.5z"/>
<path fill="#0d93d2" d="M425.3 359.9L418.7 361.9L419.3 360.5L425.9 358.5z"/>
<path fill="#079bd0" d="M431.8 355.9L425.3 359.9L425.9 358.5L432.4 354.4z"/>
<path fill="#06a4ca" d="M438.4 351.8L431.8 355.9L432.4 354.4L439 350.4z"/>
<path fill="#08aac0" d="M445 347.3L438.4 351.8L439 350.4L445.6 345.8z"/>
<path fill="#15b1b4" d="M451.6 342.7L445 347.3L445.6 345.8L452.2 341.3z"/>
<path fill="#44bb97" d="M458.2 337.1L451.6 342.7L452.2 341.3L458.8 335.7z"/>
<path fill="#9ebe6e" d="M464.8 328.4L458.2 337.1L458.8 335.7L465.4 326.4z"/>
<path fill="#fbbc40" d="M467.2 326.6L464.8 328.4L465.4 326.4L466.9 325.4z"/>
<path fill="#1482d5" d="M404.9 366.3L398.3 365.2L398.9 363.9L405.5 364.8z"/>
<path fill="#1484d4" d="M411.5 365.3L404.9 366.3L405.5 364.8L412.1 363.9z"/>
<path fill="#1389d3" d="M418.1 363.3L411.5 365.3L412.1 363.9L418.7 361.9z"/>
<path fill="#0e91d2" d="M424.7 361.4L418.1 363.3L418.7 361.9L425.3 359.9z"/>
<path fill="#089ad0" d="M431.3 357.3L424.7 361.4L425.3 359.9L431.8 355.9z"/>
<path fill="#06a3ca" d="M437.8 353.2L431.3 357.3L431.8 355.9L438.4 351.8z"/>
<path fill="#07aac1" d="M444.4 348.7L437.8 353.2L438.4 351.8L445 347.3z"/>
<path fill="#14b0b5" d="M451 344.1L444.4 348.7L445 347.3L451.6 342.7z"/>
<path fill="#40ba99" d="M457.6 338.5L451 344.1L451.6 342.7L458.2 337.1z"/>
<path fill="#94bf72" d="M464.2 330.3L457.6 338.5L458.2 337.1L464.8 328.4z"/>
<path fill="#fabc42" d="M467.3 327.7L464.2 330.3L464.8 328.4L467.2 326.6z"/>
<path fill="#1481d5" d="M404.3 367.7L397.7 366.5L398.3 365.2L404.9 366.3z"/>
<path fill="#1483d5" d="M410.9 366.7L404.3 367.7L404.9 366.3L411.5 365.3z"/>
<path fill="#1388d3" d="M417.5 364.8L410.9 366.7L411.5 365.3L418.1 363.3z"/>
<path fill="#0f90d2" d="M424.1 362.8L417.5 364.8L418.1 363.3L424.7 361.4z"/>
<path fill="#0899d1" d="M430.7 358.7L424.1 362.8L424.7 361.4L431.3 357.3z"/>
<path fill="#06a2cb" d="M437.3 354.7L430.7 358.7L431.3 357.3L437.8 353.2z"/>
<path fill="#07a9c2" d="M443.8 350.1L437.3 354.7L437.8 353.2L444.4 348.7z"/>
<path fill="#13b0b6" d="M450.4 345.6L443.8 350.1L444.4 348.7L451 344.1z"/>
<path fill="#3cba9b" d="M457 339.9L450.4 345.6L451 344.1L457.6 338.5z"/>
<path fill="#8ebf74" d="M463.6 332.2L457 339.9L457.6 338.5L464.2 330.3z"/>
<path fill="#f6ba46" d="M467.3 328.8L463.6 332.2L464.2 330.3L467.3 327.7z"/>
<path fill="#1480d6" d="M403.7 369.1L397.1 367.8L397.7 366.5L404.3 367.7z"/>
<path fill="#1482d5" d="M410.3 368.2L403.7 369.1L404.3 367.7L410.9 366.7z"/>
<path fill="#1487d3" d="M416.9 366.2L410.3 368.2L410.9 366.7L417.5 364.8z"/>
<path fill="#108fd2" d="M423.5 364.2L416.9 366.2L417.5 364.8L424.1 362.8z"/>
<path fill="#0999d1" d="M430.1 360.2L423.5 364.2L424.1 362.8L430.7 358.7z"/>
<path fill="#06a2cc" d="M436.7 356.1L430.1 360.2L430.7 358.7L437.3 354.7z"/>
<path fill="#07a9c3" d="M443.3 351.6L436.7 356.1L437.3 354.7L443.8 350.1z"/>
<path fill="#11afb7" d="M449.8 347L443.3 351.6L443.8 350.1L450.4 345.6z"/>
<path fill="#38b99e" d="M456.4 341.4L449.8 347L450.4 345.6L457 339.9z"/>
<path fill="#87bf77" d="M463 334.2L456.4 341.4L457 339.9L463.6 332.2z"/>
<path fill="#efb94b" d="M467.1 329.9L463 334.2L463.6 332.2L467.3 328.8z"/>
<path fill="#1480d6" d="M403.1 370.6L396.5 369.1L397.1 367.8L403.7 369.1z"/>
<path fill="#1481d6" d="M409.7 369.6L403.1 370.6L403.7 369.1L410.3 368.2z"/>
<path fill="#1486d3" d="M416.3 367.6L409.7 369.6L410.3 368.2L416.9 366.2z"/>
<path fill="#108ed2" d="M422.9 365.7L416.3 367.6L416.9 366.2L423.5 364.2z"/>
<path fill="#0998d1" d="M429.5 361.6L422.9 365.7L423.5 364.2L430.1 360.2z"/>
<path fill="#06a1cc" d="M436.1 357.5L429.5 361.6L430.1 360.2L436.7 356.1z"/>
<path fill="#06a8c3" d="M442.7 353L436.1 357.5L436.7 356.1L443.3 351.6z"/>
<path fill="#10afb8" d="M449.3 348.4L442.7 353L443.3 351.6L449.8 347z"/>
<path fill="#34b8a0" d="M455.8 342.8L449.3 348.4L449.8 347L456.4 341.4z"/>
<path fill="#82bf79" d="M462.4 335.8L455.8 342.8L456.4 341.4L463 334.2z"/>
<path fill="#e9b94e" d="M466.9 330.9L462.4 335.8L463 334.2L467.1 329.9z"/>
<path fill="#137fd7" d="M402.5 372L395.9 370.5L396.5 369.1L403.1 370.6z"/>
<path fill="#1480d6" d="M409.1 371L402.5 372L403.1 370.6L409.7 369.6z"/>
<path fill="#1485d4" d="M415.7 369L409.1 371L409.7 369.6L416.3 367.6z"/>
<path fill="#118dd2" d="M422.3 367.1L415.7 369L416.3 367.6L422.9 365.7z"/>
<path fill="#0a97d1" d="M428.9 363L422.3 367.1L422.9 365.7L429.5 361.6z"/>
<path fill="#06a0cd" d="M435.5 359L428.9 363L429.5 361.6L436.1 357.5z"/>
<path fill="#06a8c4" d="M442.1 354.4L435.5 359L436.1 357.5L442.7 353z"/>
<path fill="#0faeb9" d="M448.7 349.9L442.1 354.4L442.7 353L449.3 348.4z"/>
<path fill="#31b8a2" d="M455.2 344.2L448.7 349.9L449.3 348.4L455.8 342.8z"/>
<path fill="#7ebf7b" d="M461.8 337.3L455.2 344.2L455.8 342.8L462.4 335.8z"/>
<path fill="#e5b950" d="M466.5 332L461.8 337.3L462.4 335.8L466.9 330.9z"/>
<path fill="#137ed7" d="M401.9 373.4L395.3 372L395.9 370.5L402.5 372z"/>
<path fill="#137fd7" d="M408.5 372.4L401.9 373.4L402.5 372L409.1 371z"/>
<path fill="#1484d4" d="M415.1 370.5L408.5 372.4L409.1 371L415.7 369z"/>
<path fill="#128cd2" d="M421.7 368.5L415.1 370.5L415.7 369L422.3 367.1z"/>
<path fill="#0a96d1" d="M428.3 364.4L421.7 368.5L422.3 367.1L428.9 363z"/>
<path fill="#06a0cd" d="M434.9 360.4L428.3 364.4L428.9 363L435.5 359z"/>
<path fill="#06a7c5" d="M441.5 355.8L434.9 360.4L435.5 359L442.1 354.4z"/>
<path fill="#0eaeba" d="M448.1 351.3L441.5 355.8L442.1 354.4L448.7 349.9z"/>
<path fill="#2db7a4" d="M454.7 345.6L448.1 351.3L448.7 349.9L455.2 344.2z"/>
<path fill="#79bf7d" d="M461.2 338.7L454.7 345.6L455.2 344.2L461.8 337.3z"/>
<path fill="#e0ba52" d="M466.2 333.1L461.2 338.7L461.8 337.3L466.5 332z"/>
<path fill="#137dd8" d="M401.3 374.9L394.7 373.5L395.3 372L401.9 373.4z"/>
<path fill="#137ed7" d="M407.9 373.9L401.3 374.9L401.9 373.4L408.5 372.4z"/>
<path fill="#1483d5" d="M414.5 371.9L407.9 373.9L408.5 372.4L415.1 370.5z"/>
<path fill="#128ad3" d="M421.1 369.9L414.5 371.9L415.1 370.5L421.7 368.5z"/>
<path fill="#0b95d2" d="M427.7 365.9L421.1 369.9L421.7 368.5L428.3 364.4z"/>
<path fill="#069fce" d="M434.3 361.8L427.7 365.9L428.3 364.4L434.9 360.4z"/>
<path fill="#06a7c6" d="M440.9 357.3L434.3 361.8L434.9 360.4L441.5 355.8z"/>
<path fill="#0dadbb" d="M447.5 352.7L440.9 357.3L441.5 355.8L448.1 351.3z"/>
<path fill="#2ab6a7" d="M454.1 347.1L447.5 352.7L448.1 351.3L454.7 345.6z"/>
<path fill="#75bf7f" d="M460.7 340.1L454.1 347.1L454.7 345.6L461.2 338.7z"/>
<path fill="#dcba54" d="M465.8 334.1L460.7 340.1L461.2 338.7L466.2 333.1z"/>
<path fill="#127cd8" d="M400.7 376.3L394.1 375L394.7 373.5L401.3 374.9z"/>
<path fill="#137dd8" d="M407.3 375.3L400.7 376.3L401.3 374.9L407.9 373.9z"/>
<path fill="#1482d5" d="M413.9 373.3L407.3 375.3L407.9 373.9L414.5 371.9z"/>
<path fill="#1389d3" d="M420.5 371.4L413.9 373.3L414.5 371.9L421.1 369.9z"/>
<path fill="#0c94d2" d="M427.1 367.3L420.5 371.4L421.1 369.9L427.7 365.9z"/>
<path fill="#069ece" d="M433.7 363.2L427.1 367.3L427.7 365.9L434.3 361.8z"/>
<path fill="#06a6c7" d="M440.3 358.7L433.7 363.2L434.3 361.8L440.9 357.3z"/>
<path fill="#0cadbc" d="M446.9 354.1L440.3 358.7L440.9 357.3L447.5 352.7z"/>
<path fill="#26b5a9" d="M453.5 348.5L446.9 354.1L447.5 352.7L454.1 347.1z"/>
<path fill="#70bf81" d="M460.1 341.6L453.5 348.5L454.1 347.1L460.7 340.1z"/>
<path fill="#d8ba56" d="M465.5 335.2L460.1 341.6L460.7 340.1L465.8 334.1z"/>
<path fill="#117bd9" d="M400.1 377.7L393.5 376.6L394.1 375L400.7 376.3z"/>
<path fill="#127cd8" d="M406.7 376.7L400.1 377.7L400.7 376.3L407.3 375.3z"/>
<path fill="#1481d5" d="M413.3 374.8L406.7 376.7L407.3 375.3L413.9 373.3z"/>
<path fill="#1388d3" d="M419.9 372.8L413.3 374.8L413.9 373.3L420.5 371.4z"/>
<path fill="#0d93d2" d="M426.5 368.7L419.9 372.8L420.5 371.4L427.1 367.3z"/>
<path fill="#079ecf" d="M433.1 364.7L426.5 368.7L427.1 367.3L433.7 363.2z"/>
<path fill="#06a6c7" d="M439.7 360.1L433.1 364.7L433.7 363.2L440.3 358.7z"/>
<path fill="#0badbd" d="M446.3 355.6L439.7 360.1L440.3 358.7L446.9 354.1z"/>
<path fill="#23b4ab" d="M452.9 349.9L446.3 355.6L446.9 354.1L453.5 348.5z"/>
<path fill="#6cbf83" d="M459.5 343L452.9 349.9L453.5 348.5L460.1 341.6z"/>
<path fill="#d3bb58" d="M465.1 336.2L459.5 343L460.1 341.6L465.5 335.2z"/>
<path fill="#117ad9" d="M399.5 379.1L393 378.1L393.5 376.6L400.1 377.7z"/>
<path fill="#127bd9" d="M406.1 378.2L399.5 379.1L400.1 377.7L406.7 376.7z"/>
<path fill="#1480d6" d="M412.7 376.2L406.1 378.2L406.7 376.7L413.3 374.8z"/>
<path fill="#1487d3" d="M419.3 374.2L412.7 376.2L413.3 374.8L419.9 372.8z"/>
<path fill="#0d92d2" d="M425.9 370.2L419.3 374.2L419.9 372.8L426.5 368.7z"/>
<path fill="#079dcf" d="M432.5 366.1L425.9 370.2L426.5 368.7L433.1 364.7z"/>
<path fill="#06a5c8" d="M439.1 361.6L432.5 366.1L433.1 364.7L439.7 360.1z"/>
<path fill="#0aacbd" d="M445.7 357L439.1 361.6L439.7 360.1L446.3 355.6z"/>
<path fill="#20b4ad" d="M452.3 351.4L445.7 357L446.3 355.6L452.9 349.9z"/>
<path fill="#67be85" d="M458.9 344.4L452.3 351.4L452.9 349.9L459.5 343z"/>
<path fill="#cfbb5a" d="M464.8 337.3L458.9 344.4L459.5 343L465.1 336.2z"/>
<path fill="#1079da" d="M399 380.6L392.4 379.6L393 378.1L399.5 379.1z"/>
<path fill="#117bd9" d="M405.5 379.6L399 380.6L399.5 379.1L406.1 378.2z"/>
<path fill="#1480d6" d="M412.1 377.6L405.5 379.6L406.1 378.2L412.7 376.2z"/>
<path fill="#1486d4" d="M418.7 375.7L412.1 377.6L412.7 376.2L419.3 374.2z"/>
<path fill="#0e91d2" d="M425.3 371.6L418.7 375.7L419.3 374.2L425.9 370.2z"/>
<path fill="#079cd0" d="M431.9 367.5L425.3 371.6L425.9 370.2L432.5 366.1z"/>
<path fill="#06a5c9" d="M438.5 363L431.9 367.5L432.5 366.1L439.1 361.6z"/>
<path fill="#09acbe" d="M445.1 358.4L438.5 363L439.1 361.6L445.7 357z"/>
<path fill="#1db3af" d="M451.7 352.8L445.1 358.4L445.7 357L452.3 351.4z"/>
<path fill="#63be87" d="M458.3 345.9L451.7 352.8L452.3 351.4L458.9 344.4z"/>
<path fill="#cabb5c" d="M464.4 338.4L458.3 345.9L458.9 344.4L464.8 337.3z"/>
<path fill="#0f78db" d="M398.4 382L391.8 381.1L392.4 379.6L399 380.6z"/>
<path fill="#117ada" d="M405 381L398.4 382L399 380.6L405.5 379.6z"/>
<path fill="#137fd7" d="M411.5 379.1L405 381L405.5 379.6L412.1 377.6z"/>
<path fill="#1485d4" d="M418.1 377.1L411.5 379.1L412.1 377.6L418.7 375.7z"/>
<path fill="#0f90d2" d="M424.7 373L418.1 377.1L418.7 375.7L425.3 371.6z"/>
<path fill="#079bd0" d="M431.3 369L424.7 373L425.3 371.6L431.9 367.5z"/>
<path fill="#06a4c9" d="M437.9 364.4L431.3 369L431.9 367.5L438.5 363z"/>
<path fill="#09abbf" d="M444.5 359.9L437.9 364.4L438.5 363L445.1 358.4z"/>
<path fill="#1ab2b1" d="M451.1 354.2L444.5 359.9L445.1 358.4L451.7 352.8z"/>
<path fill="#5ebe89" d="M457.7 347.3L451.1 354.2L451.7 352.8L458.3 345.9z"/>
<path fill="#c5bc5e" d="M464 339.4L457.7 347.3L458.3 345.9L464.4 338.4z"/>
<path fill="#0e77db" d="M397.8 383.4L391.2 382.6L391.8 381.1L398.4 382z"/>
<path fill="#1079da" d="M404.4 382.5L397.8 383.4L398.4 382L405 381z"/>
<path fill="#137ed7" d="M410.9 380.5L404.4 382.5L405 381L411.5 379.1z"/>
<path fill="#1484d4" d="M417.5 378.5L410.9 380.5L411.5 379.1L418.1 377.1z"/>
<path fill="#108ed2" d="M424.1 374.5L417.5 378.5L418.1 377.1L424.7 373z"/>
<path fill="#089ad0" d="M430.7 370.4L424.1 374.5L424.7 373L431.3 369z"/>
<path fill="#06a3ca" d="M437.3 365.8L430.7 370.4L431.3 369L437.9 364.4z"/>
<path fill="#08abc0" d="M443.9 361.3L437.3 365.8L437.9 364.4L444.5 359.9z"/>
<path fill="#18b1b3" d="M450.5 355.6L443.9 361.3L444.5 359.9L451.1 354.2z"/>
<path fill="#59bd8b" d="M457.1 348.7L450.5 355.6L451.1 354.2L457.7 347.3z"/>
<path fill="#c1bc60" d="M463.6 340.5L457.1 348.7L457.7 347.3L464 339.4z"/>
<path fill="#0e76dc" d="M397.2 384.9L390.6 384.1L391.2 382.6L397.8 383.4z"/>
<path fill="#0f78db" d="M403.8 383.9L397.2 384.9L397.8 383.4L404.4 382.5z"/>
<path fill="#137dd8" d="M410.4 381.9L403.8 383.9L404.4 382.5L410.9 380.5z"/>
<path fill="#1483d5" d="M416.9 379.9L410.4 381.9L410.9 380.5L417.5 378.5z"/>
<path fill="#118dd2" d="M423.5 375.9L416.9 379.9L417.5 378.5L424.1 374.5z"/>
<path fill="#089ad1" d="M430.1 371.8L423.5 375.9L424.1 374.5L430.7 370.4z"/>
<path fill="#06a3cb" d="M436.7 367.3L430.1 371.8L430.7 370.4L437.3 365.8z"/>
<path fill="#08aac1" d="M443.3 362.7L436.7 367.3L437.3 365.8L443.9 361.3z"/>
<path fill="#16b1b4" d="M449.9 357.1L443.3 362.7L443.9 361.3L450.5 355.6z"/>
<path fill="#55bd8e" d="M456.5 350.2L449.9 357.1L450.5 355.6L457.1 348.7z"/>
<path fill="#bcbd62" d="M463.1 341.7L456.5 350.2L457.1 348.7L463.6 340.5L463.4 340.9z"/>
<path fill="#ffc337" d="M463.2 341.5L463.1 341.7L463.4 340.9z"/>
<path fill="#0d75dc" d="M396.6 386.3L390 385.6L390.6 384.1L397.2 384.9z"/>
<path fill="#0e77db" d="M403.2 385.3L396.6 386.3L397.2 384.9L403.8 383.9z"/>
<path fill="#127cd8" d="M409.8 383.3L403.2 385.3L403.8 383.9L410.4 381.9z"/>
<path fill="#1482d5" d="M416.4 381.4L409.8 383.3L410.4 381.9L416.9 379.9z"/>
<path fill="#118cd2" d="M422.9 377.3L416.4 381.4L416.9 379.9L423.5 375.9z"/>
<path fill="#0899d1" d="M429.5 373.3L422.9 377.3L423.5 375.9L430.1 371.8z"/>
<path fill="#06a2cb" d="M436.1 368.7L429.5 373.3L430.1 371.8L436.7 367.3z"/>
<path fill="#07aac2" d="M442.7 364.1L436.1 368.7L436.7 367.3L443.3 362.7z"/>
<path fill="#15b0b5" d="M449.3 358.5L442.7 364.1L443.3 362.7L449.9 357.1z"/>
<path fill="#50bc90" d="M455.9 351.6L449.3 358.5L449.9 357.1L456.5 350.2z"/>
<path fill="#b7bd64" d="M462.5 343L455.9 351.6L456.5 350.2L463.1 341.7z"/>
<path fill="#fec239" d="M462.8 342.6L462.5 343L463.1 341.7L463.2 341.5z"/>
<path fill="#0c74dd" d="M396 387.7L389.4 387.2L390 385.6L396.6 386.3z"/>
<path fill="#0e76dc" d="M402.6 386.7L396 387.7L396.6 386.3L403.2 385.3z"/>
<path fill="#117bd9" d="M409.2 384.8L402.6 386.7L403.2 385.3L409.8 383.3z"/>
<path fill="#1481d5" d="M415.8 382.8L409.2 384.8L409.8 383.3L416.4 381.4z"/>
<path fill="#128bd2" d="M422.4 378.7L415.8 382.8L416.4 381.4L422.9 377.3z"/>
<path fill="#0998d1" d="M428.9 374.7L422.4 378.7L422.9 377.3L429.5 373.3z"/>
<path fill="#06a2cc" d="M435.5 370.1L428.9 374.7L429.5 373.3L436.1 368.7z"/>
<path fill="#07a9c2" d="M442.1 365.6L435.5 370.1L436.1 368.7L442.7 364.1z"/>
<path fill="#14b0b5" d="M448.7 359.9L442.1 365.6L442.7 364.1L449.3 358.5z"/>
<path fill="#4cbc92" d="M455.3 353L448.7 359.9L449.3 358.5L455.9 351.6z"/>
<path fill="#b2bd65" d="M461.9 344.3L455.3 353L455.9 351.6L462.5 343z"/>
<path fill="#fec13a" d="M462.4 343.6L461.9 344.3L462.5 343L462.8 342.6z"/>
<path fill="#0a73dd" d="M395.4 389.2L388.8 388.7L389.4 387.2L396 387.7z"/>
<path fill="#0d75dc" d="M402 388.2L395.4 389.2L396 387.7L402.6 386.7z"/>
<path fill="#117ad9" d="M408.6 386.2L402 388.2L402.6 386.7L409.2 384.8z"/>
<path fill="#1480d6" d="M415.2 384.2L408.6 386.2L409.2 384.8L415.8 382.8z"/>
<path fill="#138ad3" d="M421.8 380.2L415.2 384.2L415.8 382.8L422.4 378.7z"/>
<path fill="#0a97d1" d="M428.4 376.1L421.8 380.2L422.4 378.7L428.9 374.7z"/>
<path fill="#06a1cc" d="M434.9 371.6L428.4 376.1L428.9 374.7L435.5 370.1z"/>
<path fill="#07a9c3" d="M441.5 367L434.9 371.6L435.5 370.1L442.1 365.6z"/>
<path fill="#12b0b6" d="M448.1 361.3L441.5 367L442.1 365.6L448.7 359.9z"/>
<path fill="#47bb95" d="M454.7 354.4L448.1 361.3L448.7 359.9L455.3 353z"/>
<path fill="#adbe67" d="M461.3 345.6L454.7 354.4L455.3 353L461.9 344.3z"/>
<path fill="#febf3c" d="M462.1 344.7L461.3 345.6L461.9 344.3L462.4 343.6z"/>
</g>
<path d="M461.3 345.6h0M462.2 343.6h0M463.1 341.6h0M454.7 354.4h0M455.6 352.2h0M456.5 350h0M457.5 347.9h0M458.4 345.7h0M448.1 361.3h0M449 359.1h0M449.9 357h0M450.9 354.8h0M441.5 367h0M442.4 364.8h0M443.4 362.6h0M444.3 360.4h0M434.9 371.6h0M435.9 369.4h0M436.8 367.2h0M428.4 376.1h0M429.3 373.9h0M430.2 371.7h0M421.8 380.2h0M422.7 378h0" stroke="#000" stroke-width="2.4" stroke-linecap="round" fill="none"/>
<path d="M415.2 384.2h0M416.1 382h0M417 379.8h0M417.9 377.6h0M418.8 375.5h0M419.7 373.3h0M420.6 371.1h0M421.5 368.9h0M422.5 366.7h0M423.4 364.5h0M424.3 362.3h0M425.2 360.1h0M426.1 357.9h0M427 355.7h0M427.9 353.5h0M428.8 351.3h0M429.8 349.1h0M430.7 346.9h0M431.6 344.7h0M432.5 342.5h0M433.4 340.3h0M434.3 338.1h0M435.2 335.9h0M436.1 333.7h0M437 331.6h0M438 329.4h0M438.9 327.2h0M439.8 325h0M440.7 322.5h0M441.6 316.9h0M442.5 311.2h0M443.4 304.6h0M444.3 297.5h0M445.2 290.5h0M408.6 386.2h0M409.5 384h0M410.4 381.8h0M411.3 379.6h0M412.2 377.4h0M413.1 375.2h0M414 373h0M415 370.8h0M415.9 368.6h0M416.8 366.4h0M417.7 364.2h0M418.6 362.1h0M419.5 359.9h0M420.4 357.7h0M421.3 355.5h0M422.2 353.3h0M423.2 351.1h0M424.1 348.9h0M425 346.7h0M425.9 344.5h0M426.8 342.3h0M427.7 340.1h0M428.6 337.9h0M429.5 335.7h0M430.5 333.5h0M431.4 331.3h0M432.3 329.1h0M433.2 326.9h0M434.1 324.7h0M435 322.5h0M435.9 320.3h0M436.8 316.8h0M437.7 311.6h0M438.7 305.9h0M439.6 299.1h0M440.5 291.9h0M441.4 284.8h0M402 388.2h0M402.9 386h0M403.8 383.8h0M404.7 381.6h0M405.6 379.4h0M406.5 377.2h0M407.5 375h0M408.4 372.8h0M409.3 370.6h0M410.2 368.4h0M411.1 366.2h0M412 364h0M412.9 361.8h0M413.8 359.6h0M414.7 357.4h0M415.7 355.2h0M416.6 353h0M417.5 350.8h0M418.4 348.6h0M419.3 346.4h0M420.2 344.2h0M421.1 342h0M422 339.9h0M423 337.7h0M423.9 335.5h0M424.8 333.3h0M425.7 331.1h0M426.6 328.9h0M427.5 326.7h0M428.4 324.5h0M429.3 322.3h0M430.2 320.1h0M431.2 317.9h0M432.1 315.7h0M433 311.9h0M433.9 306.5h0M434.8 300.7h0M435.7 293.5h0M436.6 286.3h0M437.5 279.1h0M395.4 389.2h0M396.3 387h0M397.2 384.8h0M398.1 382.6h0M399 380.4h0M399.9 378.2h0M400.9 376h0M401.8 373.8h0M402.7 371.6h0M403.6 369.4h0M404.5 367.2h0M405.4 365h0M406.3 362.8h0M407.2 360.6h0M408.2 358.4h0M409.1 356.2h0M410 354h0M410.9 351.8h0M411.8 349.6h0M412.7 347.4h0M413.6 345.2h0M414.5 343h0M415.4 340.8h0M416.4 338.6h0M417.3 336.4h0M418.2 334.2h0M419.1 332h0M420 329.8h0M420.9 327.6h0M421.8 325.4h0M422.7 323.3h0M423.7 321.1h0M424.6 318.9h0M425.5 316.7h0M426.4 314.5h0M427.3 312.3h0M428.2 309.9h0M429.1 305.6h0M430 300.2h0M430.9 293.9h0M431.9 286.4h0M432.8 278.9h0M433.7 271.4h0" stroke="#ff0" stroke-width="2.0" stroke-linecap="round" fill="none"/>
<circle cx="432.3" cy="283.3" r="1.5" fill="#00f"/>
<path d="M433.2 313.6l3.6 -1.6l-3 3.4z" fill="#f0f"/>
<path d="M309.7 401.5L479.2 420.4M479.2 420.4L521.6 346.6M309.7 401.5L309.7 327.7M479.2 420.4L477.6 423.3M450.9 417.2L449.3 420.1M422.7 414.1L421.1 417M394.4 410.9L392.8 413.8M366.2 407.8L364.6 410.7M337.9 404.6L336.3 407.5M309.7 401.5L308.1 404.4M479.2 420.4L482.5 420.8M489.8 401.9L493.1 402.3M500.4 383.5L503.7 383.9M511 365.1L514.3 365.4M521.6 346.6L524.9 347M309.7 401.5L305.3 402M309.7 389.2L305.3 389.7M309.7 376.9L305.3 377.4M309.7 364.6L305.3 365.1M309.7 352.3L305.3 352.8M309.7 340L305.3 340.5M309.7 327.7L305.3 328.2" stroke="#8a8a8a" stroke-width="0.9" fill="none"/>
<g font-family="Liberation Sans, Arial, sans-serif" font-size="8.6" fill="#333"><text x="302.5" y="404" text-anchor="end">500</text>
<text x="302.5" y="391.7" text-anchor="end">550</text>
<text x="302.5" y="379.4" text-anchor="end">600</text>
<text x="302.5" y="367.1" text-anchor="end">650</text>
<text x="302.5" y="354.8" text-anchor="end">700</text>
<text x="302.5" y="342.5" text-anchor="end">750</text>
<text x="302.5" y="330.2" text-anchor="end">800</text>
<text x="475.8" y="433.7" text-anchor="end">0</text>
<text x="447.6" y="430.6" text-anchor="end">0.5</text>
<text x="419.3" y="427.4" text-anchor="end">1</text>
<text x="391.1" y="424.2" text-anchor="end">1.5</text>
<text x="362.8" y="421.1" text-anchor="end">2</text>
<text x="334.6" y="417.9" text-anchor="end">2.5</text>
<text x="306.3" y="414.8" text-anchor="end">3</text>
<text x="486.2" y="428" text-anchor="start">2.5</text>
<text x="496.8" y="409.6" text-anchor="start">2.75</text>
<text x="507.4" y="391.1" text-anchor="start">3</text>
<text x="518" y="372.7" text-anchor="start">3.25</text>
<text x="528.6" y="354.2" text-anchor="start">3.5</text>
<text x="401" y="436.5" text-anchor="middle" font-size="9.4">S/C</text>
<text x="523.5" y="424" text-anchor="middle" font-size="9.4">O/C</text>
<text transform="translate(284.9 364.3) rotate(-90)" text-anchor="middle" font-size="9.4">Temperature [°C]</text></g>
<text x="415.2" y="250.1" text-anchor="middle" font-family="Liberation Sans, Arial, sans-serif" font-weight="bold" font-size="9.4" fill="#111">n-hexadecane</text>
<text x="408.9" y="457.6" text-anchor="middle" font-family="Liberation Serif, Times New Roman, serif" font-size="16.5" fill="#111">(<tspan font-weight="bold">d</tspan>)</text>
</g>
</svg>
</body></html>
